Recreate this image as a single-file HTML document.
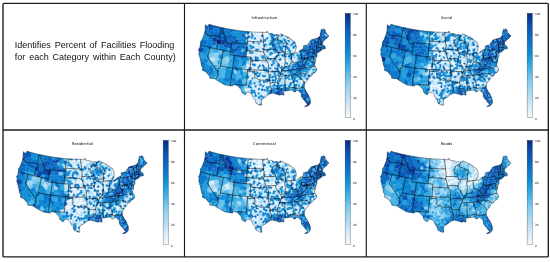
<!DOCTYPE html>
<html><head><meta charset="utf-8"><title>Percent of Facilities Flooding</title>
<style>
html,body{margin:0;padding:0;background:#fff}
body{width:550px;height:262px;position:relative;overflow:hidden;font-family:"Liberation Sans",sans-serif}
#cap{position:absolute;left:14.8px;top:38.55px;font-size:9px;word-spacing:1.35px;line-height:12.06px;color:#111;white-space:nowrap}
svg{position:absolute;left:0;top:0}
svg text{font-family:"DejaVu Sans","Liberation Sans",sans-serif;fill:#000;text-rendering:geometricPrecision}
.ln{stroke:#1c1c1c;fill:none}
</style></head><body>
<svg width="550" height="262" viewBox="0 0 550 262">
<defs><linearGradient id="cb" x1="0" y1="0" x2="0" y2="1"><stop offset="0.000" stop-color="#08287d"/><stop offset="0.050" stop-color="#0a3c9b"/><stop offset="0.100" stop-color="#0a4baa"/><stop offset="0.150" stop-color="#085ab8"/><stop offset="0.200" stop-color="#0865c0"/><stop offset="0.250" stop-color="#086fc7"/><stop offset="0.300" stop-color="#0a7acd"/><stop offset="0.350" stop-color="#0c86d2"/><stop offset="0.400" stop-color="#1292d7"/><stop offset="0.450" stop-color="#239edc"/><stop offset="0.500" stop-color="#37aae2"/><stop offset="0.550" stop-color="#4bb6e7"/><stop offset="0.600" stop-color="#69c1eb"/><stop offset="0.650" stop-color="#82cbee"/><stop offset="0.700" stop-color="#94d2f0"/><stop offset="0.750" stop-color="#a7d8f2"/><stop offset="0.800" stop-color="#b6def4"/><stop offset="0.850" stop-color="#c6e5f7"/><stop offset="0.900" stop-color="#d7edfa"/><stop offset="0.950" stop-color="#e6f3fc"/><stop offset="1.000" stop-color="#f3f9fe"/></linearGradient>
<path id="bd" d="M204.9 32 205.5 32.3 206.1 32.6 206.6 33.3 207.1 34 207.9 35.2 208.7 35.3 209.5 35.4 210.3 35.5 211 35.7 211.8 35.8 212.7 35.8 213.6 35.7 214.5 35.7 215.2 35.7 216.1 35.9 217 36.1 217.9 36.3 218.8 36.5 219.6 36.7M221.4 27.5 221.2 28.8 220.9 30.2 220.6 31.5 220.3 32.8 220 34.1 219.7 35.4 219.6 36.7M219.6 36.7 220.2 38.4 219.6 39.3 219 40.1 217.9 41.5 217.9 42.5 217.9 43.4 217.6 44.8 217.3 46.2 217 47.6 216.6 49M200.6 44.7 201.6 45 202.5 45.3 203.5 45.6 204.5 45.9 205.5 46.1 206.6 46.5 207.7 46.8 208.8 47.1 210 47.3 211.1 47.6 212.2 47.9 213.3 48.2 214.4 48.4 215.5 48.7 216.6 49 217.8 49.2 218.9 49.5 220 49.7 221.2 49.9 222.3 50.2 223.4 50.4 224.6 50.6 225.7 50.8 226.8 51 228 51.2 229.1 51.4 230.3 51.6M210 47.3 209.6 48.9 209.2 50.4 208.8 51.9 208.4 53.5 208 55 207.6 56.6 208.4 58 209.3 59.4 210.2 60.8 211.1 62.2 212 63.6 212.9 65 213.9 66.4 214.8 67.7 215.8 69.1 216.8 70.5 217.8 71.9 217.9 72.2 217.6 73.1 217.4 74.1 218.5 74.4 217.7 75.1 217.2 76.6 216.7 77.8 216.1 78.9M223.4 50.4 223.1 51.9 222.8 53.5 222.5 55 222.2 56.6 221.9 58.2 221.6 59.7 221.3 61.3 221 62.8 220.7 64.4 220.4 65.9 220.2 67.2 219.9 68.4 219 68.4 218.2 68.4 218 69.6 217.9 70.7 217.8 71.9M220.4 65.9 221.5 66.1 222.6 66.3 223.6 66.5 224.7 66.7 225.8 66.9 226.8 67.1 227.9 67.3 229.1 67.4 230.3 67.6 231.5 67.8 232.7 68 233.7 68.1 234.8 68.2 235.9 68.4 237 68.5 238 68.6 239.1 68.8 240.2 68.9 241.4 69 242.7 69.1 243.9 69.2 245.1 69.3 246.4 69.5 247.6 69.5 248.9 69.6 250.1 69.7 251.3 69.8 252.6 69.9 253.8 69.9 255.1 70 256.3 70 257.5 70.1 258.8 70.1 260 70.1 261.3 70.2 262.5 70.2 263.7 70.2 264.9 70.2 266.1 70.2 267.2 70.2 268.4 70.2M223.5 28 223.1 29.5 222.8 31 223 31.9 223.2 32.8 224 34.2 224.8 35.6 225.5 35.9 225.2 37 225 38.1 224.7 39.2 225.3 39.2 225.9 39.3 226.2 40.4 226.5 41.5 227 42.5 227.5 43.4 228.5 43.4 229.5 43.5 230.5 43.5 231.5 43.8M231.8 42.2 231.5 43.8 231.3 45.3 231 46.9 230.8 48.5 230.5 50 230.3 51.6 230 53.1 229.8 54.7M231.8 42.2 232.7 42.4 233.7 42.5 234.6 42.7 235.6 42.8 236.5 42.9 237.5 43.1 238.4 43.2 239.5 43.3 240.6 43.5 241.7 43.6 242.8 43.7 243.9 43.8 245 43.9 246.1 44 247.2 44.1M229.8 54.7 230.9 54.9 232.1 55.1 233.2 55.2 234.4 55.4 235.4 55.5 236.4 55.7 237.5 55.8 238.5 55.9 239.5 56 240.5 56.2 241.5 56.3 242.7 56.4 243.8 56.5 245 56.6 246.1 56.7 247.3 56.8 248.4 56.9 249.6 57 250.8 57M234.4 55.4 234.2 57 234 58.5 233.8 60.1 233.5 61.7 233.3 63.2 233.1 64.8 232.9 66.4 232.7 68 232.5 69.4 232.3 70.9 232.1 72.4 231.9 73.9 231.6 75.4 231.4 76.9 231.2 78.3 231 79.8 230.8 81.3 230.6 82.8 230.4 84.3 230.2 85.7M248.2 31.7 248.1 33.2 248 34.8 247.8 36.3 247.7 37.9 247.6 39.4 247.4 41 247.3 42.5 247.2 44.1 247 45.7 246.9 47.3 246.8 48.8 246.6 50.4 246.5 52 246.4 53.5 246.2 55.1 246.1 56.7M247.4 41.2 248.4 41.3 249.4 41.3 250.4 41.4 251.3 41.5 252.3 41.5 253.3 41.6 254.3 41.6 255.3 41.7 256.3 41.7 257.3 41.8 258.4 41.8 259.5 41.8 260.6 41.9 261.6 41.9 262.7 41.9 263.8 41.9M246.6 50.4 247.6 50.5 248.6 50.6 249.6 50.6 250.6 50.7 251.6 50.8 252.6 50.8 253.6 50.9 254.7 50.9 255.9 51 257 51 258.1 51.1 259.3 51.1 260 51.4 260.6 51.6 261.3 51.6 262 51.6 262.7 52 263.4 52.4 264 52.8M250.8 57 250.7 58.6 250.6 60.2 250.5 61.8 250.4 63.4 250.3 65 250.2 66.5 250.1 68.1 250 69.7M250.6 60.2 251.6 60.3 252.7 60.3 253.7 60.4 254.7 60.4 255.8 60.5 256.8 60.5 257.8 60.6 258.9 60.6 260.1 60.6 261.2 60.6 262.3 60.7 263.4 60.7 264.5 60.7 265.6 60.7 266.7 60.7M247.6 69.5 247.5 71.1 247.4 72.7 247.2 74.3 247.1 75.9 247 77.4 246.9 79 246.7 80.6 246.6 82.2 246.5 83.8 246.4 85.3 245.2 85.2 244 85.1 242.8 85 241.6 84.9 240.4 84.8 239.3 84.7 238.1 84.6 236.9 84.4 237.1 85.2M247.5 71.1 248.8 71.2 250 71.3 251.2 71.4 252.5 71.4 253.7 71.5 255 71.6 254.9 73.1 254.9 74.6 254.8 76.2 254.7 77.7 255.7 78.2 256.8 78.6 257.7 79 258.5 79.3 259.3 79.6 260.1 80 261 80.1 261.9 80.3 262.7 80.2 263.4 80.2 264.5 80.2 265.5 80.2 266.3 80 267.1 79.8 268 80.3 268.9 80.8M268.4 70.2 268.5 71.7 268.6 72.9 268.8 74.1 269 75.2 269 76.6 269 78 269 79.4 268.9 80.8 270.1 81.1 270.1 81.9 270.1 82.8 270.2 84.4 270.2 86 271.1 87.5 271.7 89.1 271.4 90 271.1 91 271 92.1 270.9 93.2M270.1 82.8 271.4 82.8 272.6 82.7 273.9 82.7 275.1 82.7 276.4 82.6 277.6 82.5M268.5 71.7 269.5 71.7 270.6 71.7 271.7 71.7 272.8 71.6 273.9 71.6 275 71.6 276.2 71.5 277.3 71.5 278.5 71.4 279.6 71.3 279.2 72.9 280 72.9 280.9 72.8M268.4 70.2 268.4 68.8 268.4 67.5 268.4 66.2 268.4 64.8 268.3 63.5 267.4 62.2 266.7 60.7 266.1 59.7 265.5 58.8M265.5 58.8 266.6 58.8 267.7 58.8 268.8 58.8 269.8 58.8 270.9 58.8 272 58.7 273 58.6 274 58.6 275.1 58.5 275.9 59.2M264 52.8 264.4 54 264.8 55.3 265.2 56.9 265.4 58.5 265.5 58.8M264 52.8 263.6 52.1 263.8 50.9 264 49.6 264 48.2 264 46.8 264 45.3 264 43.9 263.1 43 263.8 41.9 263.5 40.9 263.3 39.8 263.3 38.6 263.1 37.2 262.9 35.8 262.7 34.8 262.6 33.9 262.4 32.3M264 49.6 265.1 49.6 266.2 49.6 267.3 49.6 268.4 49.6 269.5 49.5 270.6 49.5 271.6 49.5 272.7 49.5 273.7 49.4 274.8 49.4 275.8 49.3M273.4 39.2 273.2 40.2 273.1 41.3 272.4 41.9 271.8 42.6 272.2 43.8 272.2 44.7 272.1 45.5 273 46.1 274 46.6 274.7 47.2 275.4 47.8 275.8 49.3M275.8 49.3 276 50.6 276.2 51.8 277.3 52.4 278.4 53.9 278.3 54.9 277.5 55.4 276.7 55.9 276.6 56.9 276.5 57.8 275.9 59.2 275.7 60.4 276.4 61.3 277 62.3 277.8 63.5 279.1 64 278.9 65 278.8 66 280 66.9 280.5 67.8 281.1 68.7 282 69.6 282 70.8 281.2 71.2 281.1 72.2 280.9 72.8 280.4 74.1 280 75.7 279.5 76.1 278.9 77.7 278.2 79.3 277.7 80.9 277.6 82.5 277.9 84.1 278.5 84.7 277.9 85.8 277.3 87 277 87.9 276.8 88.9 278.1 88.8 279.3 88.8 280.6 88.7 281.8 88.6 281.6 89.6 282.3 91.1M277.3 52.4 278.3 52.4 279.2 52.3 280.2 52.2 281.1 52.2 282.2 52.1 283.4 52 284.5 51.9 285.6 51.8M277.9 37.3 277.5 38.4 277.1 39.6 278.1 40 279.1 40.4 280 40.9 281.2 41.1 282.3 41.3 282.6 42.2 283 43 283.6 43.7 284.1 43.4 284.9 42.7 285.7 42.8 286.5 43 286.3 44 286.1 45.1 285.7 46.5 285.4 48 285.4 49.1 285.3 50.2 285.5 51 285.6 51.8 285.5 53 285.4 54.1M273.6 39.3 274.4 38.9 275.1 38.4 275.9 38 276.6 37.6 277.3 37.5 277.9 37.3 278.4 36.1 278.8 35M284.7 54.2 284.8 55.8 284.9 57.3 285.1 58.8 285.2 60.3 285.4 61.8 285.3 63.3 285 64.2 284.8 65.2 284.5 66.8M282 69.6 282.8 69.4 283.6 69.1 284.1 68 284.5 66.8 285.7 66.7 286.8 66.6 287.6 66.3 288.3 66 289.5 65.7 290.1 64.7 290.7 63.4 291.3 62.6 292 61.9 292.7 61.8 293.8 62.4 294.8 63 295.7 62.7 296.7 62.4 297.6 63.4 298.4 62.7 299.3 61.3 300.1 60.2 300.8 59.1 301.1 58.1 301.5 57.1 301.4 55.7 301.2 54.3 301 52.8 300.7 51.4M292 61.9 291.8 60.6 291.7 59.2 291.5 57.8 291.3 56.5 291.2 55.1 291 53.8M284.7 54.2 285.6 54.1 286.4 54.1 287.3 54 288.2 53.9 289.1 53.8 290.1 53.7 291 53.6 292 53.5 293.1 53.4 294.1 53.3 294.8 52.4M301.4 55.7 301.7 57.1 301.9 58.5 302.9 58.4 303.9 58.2 304.9 58 305.9 57.9 306.8 57.7 307.8 57.5 308.9 57.3 309.9 57.1 311 56.9 312 56.7 313 56.4M302.3 50.3 302.5 51.1 303.5 50.9 304.5 50.8 305.6 50.6 306.6 50.4 307.6 50.2 308.6 50 309.6 49.8 310.5 49.6 311.5 49.4 312.5 49.2 313.5 50 314.4 50.8 313.8 52.4 313.8 53.4 315.1 54.4 314.4 55.5 313.7 56.7M314.4 50.8 315.5 51.2 316.5 51.5M313 56.4 313.3 57.7 313.6 59.1 313.9 60.4 314.8 60.2 315.6 60M304.4 58.1 304.5 58.9 304.6 59.8 305.3 59.1 305.9 58.4 306.6 58.1 307.2 57.8 308.4 57.9 308.7 58.6 309.4 58.9 310.5 59.6 310.3 61.3 311.4 61.5 312.1 61.9 312.9 62.2M308.7 58.6 308 58.6 307.2 58.6 306.8 59.7 306.4 60.7 305.5 62.2 304.9 63.1 304.3 64 303.6 65.4 302.8 65.9 302 66.3 301.1 66.6 300.3 66.9 299.5 65.9 298.6 65.4 297.7 64.2 297.6 63.4M299.5 65.9 298.5 66.8 297.6 67.7 296.7 68.6 295.7 69.5M315 66.3 313.9 66.5 312.8 66.7 311.8 67 310.7 67.2 309.6 67.4 308.5 67.6 307.4 67.8 306.3 68 305.1 68.1 304 68.3 302.9 68.5 301.8 68.6 300.6 68.8 299.4 69 298.2 69.1 296.9 69.3 295.7 69.5 294.5 69.6 293.4 69.7 292.2 69.8 291.1 70 289.9 70.1 288.9 70.3 287.9 70.4 286.9 70.6 285.9 70.8 284.9 70.9 284.8 70.4 283.6 70.7 282.4 70.9 281.2 71.2M300.6 68.8 300.1 70.5 299.4 70.7 298.6 71 297.5 71.9 296.4 72.6 295.4 73.3 294.7 74.7M297.8 74.3 296.8 74.4 295.8 74.6 294.7 74.7 293.6 74.9 292.5 75 291.4 75.1 290.3 75.2 289.2 75.3 288.1 75.4 287 75.5 286 75.6 284.9 75.7 283.8 75.8 282.7 75.9 281.7 76 280.6 76 279.5 76.1M297.8 74.3 298.7 73.9 299.5 73.4 300.6 73.3 301.8 73.2 302.9 73.1 303.3 73.2 303.8 74 304.7 73.9 305.6 73.7 306.6 73.6 307.7 74.4 308.8 75.2 309.9 76M297.8 74.3 297.3 75.3 298.1 75.9 298.9 76.4 299.8 77.4 300.7 78.4 301.6 78.9 302.8 80 303.6 81.4 304.9 82.7M291.5 75.1 291.9 76.4 292.2 77.7 292.6 79.1 292.9 80.4 293.3 81.7 293.7 82.5 294 83.4 294.1 84.7 294.2 85.9 294.5 87.5 294.9 88.4 296.1 88.3 297.3 88.2 298.5 88.1 299.7 88 300.9 87.9 302.1 87.8 302.6 88.4 302.6 87.2 303.3 87.2 304.1 87.1M294.5 87.5 293.3 87.6 292.2 87.7 291 87.8 289.8 88 288.7 88.1 287.5 88.2 288.2 89.4 288 90.4M284.9 75.7 284.9 77.1 284.9 78.5 284.9 79.9 284.9 81.3 285 82.7 285 84.1 285 85.5 285.1 86.8 285.3 88 285.4 89.2 285.5 90.4M314.8 38.9 314.9 39.7 315 40.5 315.4 41.8 315.7 43.2 316.1 43.4 316.4 44.6 316.6 45.8 316.6 46.9 316.6 48 316.9 49.2 317.2 50.3 317.1 51.4M318.7 37.9 318.8 38.7 318.9 39.5 318.3 41 318.1 42.6 318.2 43.6 318.3 44.5 318.4 45.4M316.6 45.8 317.5 45.6 318.4 45.4 319.3 45.2 320.2 45 321 44.8 322 44M316.6 48 317.6 47.8 318.6 47.6 319.5 47.4 320.5 47.2 321.4 46.9 321.5 47.3 322.1 47.8 322.4 48.4M320.5 47.2 320.7 48.1 321 49.1 320.9 49.4M322 43.2 321.2 42.5 320.8 41.1 320.4 39.7 319.9 38.2 319.4 36.8M300.7 51.4 300.5 50.3M302.3 50.3 302.2 49.4M317.1 51.4 317.8 51 318.5 50.7 319.6 50.2 320.7 49.8 320.9 49.4M313.7 56.7 314.3 57.5 315.5 58.7M312.9 62.2 313.7 62 314.5 61.8 315.4 61.4M316.5 51.5 316.5 52.5 316.6 53.1"/><path id="ol" d="M205.4 24.8 206.1 25.4 206.8 25.9 207.6 26.2 208.4 26.4 208.6 25.2 209.3 24.9 208.8 24.2 209.8 24.5 210.7 24.8 211.7 25.1 212.7 25.4 213.7 25.6 214.7 25.9 215.7 26.1 216.7 26.4 217.7 26.6 218.7 26.9 219.7 27.1 220.7 27.4 221.7 27.6 222.8 27.8 223.8 28 224.8 28.2 225.8 28.4 226.8 28.6 227.8 28.8 228.8 29 229.8 29.2 230.8 29.4 231.9 29.6 232.9 29.7 233.9 29.9 234.9 30.1 235.9 30.2 237 30.4 238 30.5 239 30.7 240 30.8 241 30.9 242.1 31 243.1 31.2 244.1 31.3 245.1 31.4 246.2 31.5 247.2 31.6 248.2 31.7 249.3 31.7 250.3 31.8 251.3 31.9 252.3 32 253.4 32 254.4 32.1 255.4 32.1 256.5 32.2 257.5 32.2 258.5 32.3 259.6 32.3 260.6 32.3 261.6 32.3 262.6 32.3 263.7 32.4 264.7 32.4 265.7 32.4 266.8 32.4 266.8 31.2 267.4 31.4 267.6 32.3 267.8 33.1 268.7 33.4 269.6 33.8 270.5 33.6 271.4 33.4 272.4 33.9 273.4 34.4 274.1 34.7 274.7 35 275.4 34.8 276 34.5 276.8 34.7 277.7 34.9 278.6 35 279.2 35 279.9 34.6 280.5 34.1 281.1 33.9 282 34.4 283 34.8 284 35.4 285 35.9 286.2 36.4 287.3 36.9 288.1 37.2 288.9 37.5 289.2 38.3 289.8 38.8 290.2 38.6 290.7 38.7 290.8 39.3 291.2 39.8 292 39.7 292.4 40.4 293.5 41 294.7 41.7 295.1 42.8 295.5 43.9 295.8 45 296.1 46.1 296.3 47.3 295.9 49 295.9 50.2 295.5 50.8 294.7 51.4 294.7 52.2 294.9 52.8 295.9 53.2 296.6 53.1 297.2 52.6 297.8 52 298.4 51.6 299 51.1 299.7 50.7 300.5 50.3 301.2 50 302 49.5 302.7 49 303.7 48.3 303.9 48 303.6 47.5 303.3 46.9 302.9 46.4 304 45.6 305 45.4 306 45.3 307.1 45 308.2 44.8 308.6 43.2 308.9 42.8 309.8 41.8 310.7 40.3 311.3 40 311.9 39.6 312.8 39.4 313.8 39.1 314.8 38.9 315.8 38.6 316.8 38.4 317.8 38.1 318.7 37.9 318.9 36.9 319.9 36.8 319.9 36.3 320.5 35 320.4 33.5 320.7 32.8 320.9 31.6 321.2 30.4 321.5 29.2 322.4 29.7 322.9 29.3 323.5 28.9 324.7 29.4 325.1 30.6 325.5 31.8 325.9 32.9 326.8 33.6 327.4 34.9 328.6 35.5 328.6 36.5 327.6 37.3 327.1 37.9 326.6 38.5 325.6 39.2 325 39.8 324.3 40.4 323.5 41 322.9 41.7 322.5 43.1 322.3 44 322.9 44.5 322.8 45.3 323.7 45.7 324.2 45.7 324.8 46.1 325.2 47.3 325.4 48.5 324.5 48.8 323.9 48.9 323.2 49 322.4 48.9 321.8 49.8 320.9 49.7 321.3 50.3 320.6 50.9 319.9 51.5 318.8 52.1 317.8 52.7 316.6 53.1 316.8 53.7 316.9 54.6 317.1 55.4 316.7 56.8 315.8 58.5 315.5 59 315.8 60 315.6 61.5 315 63.2 314.5 64.8 314.6 65.3 315.1 66.3 315.7 67.3 316.4 68.4 316.7 69.3 317 70.2 316.3 70.8 315.7 71.4 314.7 72.8 313.8 73 312.9 73.2 312.3 74.5 311.6 75.9 310.8 76 310 76.1 309 77.5 308.8 78.5 308 79.4 307.3 80.4 306.6 81.1 305.9 81.9 305 82.9 304.5 84.5 304.3 85.8 304.2 87.1 304.5 88.3 305.2 89.8 305.8 91 306.5 92.1 307.1 93 307.8 93.8 308.3 95 308.9 96.2 309.4 97.4 310 98.6 310.2 100.1 310.3 101.6 310.2 103.3 309.5 104.5 308.6 105.2 307.7 105.9 306.7 106.2 305.7 106.6 304.7 106.5 305.8 105.8 306.6 105.4 307.5 104.9 307.4 104.2 306.5 103.1 305.5 102.1 304.8 100.6 303.5 99.6 302.7 98.4 301.8 97.3 301.5 96.4 301.3 95.5 301.3 94.4 301.4 93.2 300.4 92.6 299.2 91.5 297.8 90.2 296.7 90.4 295.9 91.2 295 92 293.9 91.9 293.1 90.6 292.3 90.3 291.5 90 290.1 90.2 288.8 90.3 288 90.6 286.7 90.8 285.6 90.9 284.2 91 283.2 91.4 284.1 92.6 283.6 93.9 284.2 94.8 283.2 95.1 281.7 94.3 280.9 94.8 280 95 279 95.1 277.9 94.5 276.5 94 275.1 93.7 273.9 93.4 272.6 93.1 271.8 93.2 270.9 93.4 269.7 93.9 268.6 94.5 267.2 95.6 266.1 96.4 265 97.2 263.9 97.8 262.8 98.4 261.8 99.8 261.5 100.9 261.3 102 261.6 103.5 261.9 105 260.7 105.3 259.7 104.9 258.7 104.6 257.5 104 256.2 103.4 255.7 102 255.2 100.6 255.2 99.8 254.1 98.6 253.1 97.4 252.6 96.1 252.1 94.8 251.2 93.7 250.3 92.6 249.1 92.4 247.9 92.1 246.7 92.6 246 93.7 245.3 94.8 244.2 94.2 243.1 93.6 241.8 92.5 241.6 91.6 241.4 90.6 240.8 89.1 239.5 87.8 238.3 86.5 237.1 85.3 237.1 85.2 236 85 234.9 84.9 233.8 84.8 232.7 84.6 232.5 86 231.2 85.9 229.9 85.7 228.7 85.5 227.4 85.3 226.1 85.1 224.9 84.9 223.7 84.3 222.6 83.6 221.4 83 220.3 82.3 219.2 81.6 218 80.9 216.9 80.2 215.8 79.6 216.1 78.9 214.9 78.8 213.6 78.6 212.3 78.5 211.1 78.3 209.8 78.2 209.6 77.1 209.6 76.3 208.9 75.3 208.2 74.3 207.3 73.8 207.2 72.9 206.5 72.5 205.7 72.1 204.9 71.1 203.8 70.7 202.7 70.4 202.4 69.6 202.9 68.1 202.4 67 201.7 65.8 201.3 64.2 201 62.7 201.4 62 200.8 61.5 200.3 60.5 200.4 59.6 200.5 58.7 199.6 57.6 199.8 56.7 199.3 55.6 198.8 54.4 199 53.2 199.3 51.9 198.9 50.6 198.5 49.4 199.2 48.6 199.8 47.8 200 46.6 200.2 45.4 200.5 44.7 200.5 43.3 200.4 42 201.3 40.8 202.2 39.6 202.7 38.1 203.3 36.6 203.7 35.5 204.1 34.5 204.5 33.4 204.7 32 205.1 30.6 205.2 29.7 205.2 28.5 205.2 27.4 205.3 26.1z"/>
</defs>
<g transform="translate(0 0)">
<g stroke-width=".2" stroke-linejoin="round"><path fill="#f3f9fe" stroke="#f3f9fe" d="M271.1 55.4l1.3 1.1 1.2-.9-.6-1.6-1.6 .6zM257.3 79.2l2.1-.1-.7-1.8-.3-.2-1.3 .3-.5 .7zM297.3 88.2l1-1.5-.6-1.1-1.3 .7-.1 .9 .8 1zM303.6 79.9l-1.8-.1-.2 .2 .2 2 1 .4 1.2-1.2zM259.5 91.9l.2 0 1.8-1.2-.7-1.2-.7-.2-1.1 1.1zM254.4 34.9l-.3 .4 1.3 1.7 .9-.5 0-1.2-.5-.5zM258.6 60.9l.5 1.4 .3 .3 1.8-1.2 .1-.1-.3-.7-.9-.4zM273.8 37.4l.1 .3 .8 .7 .3 0 1.2-.6 .1-1.5-1-.5zM265.4 35l.5-.6-.3-2-.5 0-1.2 1.3 .1 .8zM263.9 33.7l-1.2-.9-1 .9 .4 1.1 1.1 .4 .8-.7zM251.2 51.1l.4 .6 1.7 .2 .6-.7-.2-.8-1.7-.7zM262 63.6l.2 .8 1.5 .3 .9-1.3-1.4-.6-1.2 .8zM275.2 59.9l1.6 0 .3-.2-.4-1.7-1.4 .5zM314.7 59.6l-.7 2.3 .2 .2 1.1 .2 .3-.8 .2-1.5-.1-.4zM274.6 67l-2-.1-.6 1.8 .8 .6 1.4-.3zM255.7 64.2l1.4-.4 .2-1-.9-1.2-1 .1-.7 .6 0 1.1zM252.1 32.7l.6 .5 1.5-.2 .6-.7 .1-.2-.5 0-1-.1-1.1 0-.2-.1zM287.2 38.5l-.2 .5 .5 1.2 2-.5-.3-1.5 0-.1zM264.5 66l.3 1.4 2.3 0 .2-.1-.2-.9-1.6-1zM252 63.6l2.3 .1 .4-.3 0-1.1-1.2-.6-1.6 .9-.1 .4zM252.8 70.6l-.2-.2-1.5-.3-1.2 1.1 .4 1.3 1.7-.3 .8-1.1zM270.8 45.1l-.6 .3-.6 1.4 .1 .4 1.6 .5 .9-1 .1-.8zM293.5 48.7l-.3 0-.7 2.5 .5 .4 1.7-1.2 0-.8zM262.7 54.5l.9-1.1 0-.1-1-1.5-1.7 1.3 .7 1.1zM266.8 78.5l.2-1.2-1.2-.6-.8 .6 .1 1.6 .6 .3zM288.2 61.2l-.1-.5-1.4-.3-1.2 1.4 .5 .6 1.4 0zM265.5 35.4l2.3 1.1 .2-1.9-.6-.5-1.5 .3-.5 .6zM259.1 62.3l-1.8 .5-.2 1 .5 .5 1.7 0 .3-.8-.2-.9zM277.4 83.3l-1.2-.4-1.1 1.1 .2 .4 1.9 .8 .6-.4zM275 53.6l-1.9 .2-.1 .2 .6 1.6 1.4 .3zM250.3 77.8l-1.3 .1-.3 .3 .9 2.2 1.3-.4 .4-1.6zM258.6 55.1l-1.6-.3-.5 1.8 .3 .3 1.3-.2zM257.9 66.3l-.5-.6-1.7 .2-.4 .4 .1 .3 1.8 1.2zM277.6 67.3l-1-1.3-1.4 1.1 1.1 1zM265.7 79.2l-.6-.3-.6 .1-1 1.4 0 .2 1.5 .6 .9-1zM266 38l1.8-1.2 0-.1 0-.2-2.3-1.1-.6 1.4zM251.2 34.8l-.2-1.5-1.5-.4-1.2 1.3 .5 1 .2 .1zM251.2 74.2l-1-1.4-2.3 1.6 .7 .9 2 .2zM298.1 53.3l1.3-.6 .1-1.6-.2-.2-.3 .2-.6 .5-.6 .4-.4 .4zM287.7 53.1l-.1 .3 1.7 1.4 .1 0 1-1.4 0-.1-1.4-.8zM305.8 80.8l-1.6 .5 1 1.4 .7-.8 .4-.4zM292.2 43.6l-.1-1.8-.4-.3-1.3 .3-.2 2.1 .3 .2zM269.8 86.2l0-1.4-1.4-.9-.9 0-.1 .1 .4 1.7 1.8 .7zM275 53.6l0 2.3 .2 .1 .2 .1 1.8-1.2-1.5-1.7-.5 .2zM272.1 81.5l-.6-1-.6-.1-1.3 1.2 .2 .9 1.5 .8 .6-.6zM293 80.7l0-.1-2.4-.9-.2 .3 0 2.1 1.6 .3zM257.7 104.1l1 .5 1.3-1.2-.3-.6-1.3-.4-.7 .6zM283 59.8l-.3 1.5 2.4 .4-.5-2zM302 84.5l-1.3-.6-1.1 .8 .4 .9 1.1 .4 1-.4zM250 41.5l1.7 1.4 .5-.1 .4-1.1-.8-1zM249.4 64.8l-.5 2.8 2.2-.6 0-1.9zM255.4 37l-.1 .3 1 1.2 .9 0 .2-1.6-1.1-.4zM255.4 66.6l-.7 2.1 .4 .5 .1 0 2.1-1.1-.1-.3z"/>
<path fill="#e6f3fc" stroke="#e6f3fc" d="M263.5 93.8l.9 1.2 .8 .1 .7-1.6-.3-.5-1.1-.4-.9 .5zM268.4 57.1l.3 .1 1.4-.6 .3-.9-1.4-.8-.3 .1-.7 1.4zM271.3 83.3l-1.5-.8-1.4 1.4 1.4 .9 1.5-1zM260.6 56.8l-2 .5-.2 1.4 1.3 .2 1.2-1zM297.3 82.3l-1.9-1.1-.4 .3-.2 1.1 .8 1.4 .1 0 1.2-.2 .3-.4zM254.9 87.4l-.3-.4-1-.3-1.4 1 1.8 1.6 .8-.8zM255.6 78.3l1-.2 .5-.7-.8-1.7-1.5 1-.1 .7zM257.4 36.9l-.2 1.6 .5 .5 1.4-.5 .3-.9-.9-1.2-.2 0zM278.3 80.5l.9-.7-.1-1-1.3-.9-.6 .2-.3 1.1zM258.7 95.7l-.1-1-.8-.5-1.3 .5 .3 1.3 1.4 .3zM267.8 85.7l-.4-1.7-1.8 .5-.3 1 .8 1.1 1.1 0zM264 39.4l1.8-.6 .2-.8-1.1-1.2-1.4 .1-.2 1.7 .1 .4zM254 41.4l.8 1.3 1.2-.3 .3-1.7-1.3-.9-.4 0-.5 .5zM249.4 63.3l2.4-.3 .1-.4-.7-1.1-1.8-.7zM271.1 88.1l.8 .3 1.2-.9-1.5-1.3-.7 .3zM252.7 59.7l.4 .2 1.6-.5 .4-.5-.6-1.4-2.1 0 .2 2.1zM265.3 85.5l-1 .6-.4 .9 .7 .8 1.1-.2 .4-1zM259.9 35.1l1 .7 1.2-1-.4-1.1-.7-.3-1.3 1zM252.6 77l-.1-.9-1.5-.1-.7 1.8 1 .6zM250.9 69.1l.2 1 1.5 .3 .2-1.4-1-.7zM295.2 54.1l.3-1.1-.6-.2-.2-.6-1.6-.4-.2 1.4 1.9 1zM263.5 48.1l.5-1.2-.9-.9-.7-.1-.8 .9 .7 1.7zM262.7 69.7l.8-1.2-1-1.1-1.5 .5-.2 .7 1.6 1.1zM256.4 45.2l-1.7-.2-.4 1.3 .2 .5 1.3 .6 1.3-.9-.1-.5zM278.8 69.4l-.3 .4 .3 1.2 .3 .2 1.9 .1 .3-2zM293.4 84.8l2.2-.8-.8-1.4-1.8 .6zM299.3 86.7l.4 1.1 1.3-.3 .1-1.5-1.1-.4zM255.9 93l-.3 1.3 .9 .4 1.3-.5 .1-1.7-.7-.3zM252.8 73.4l-.8-1.2-1.7 .3-.1 .3 1 1.4 1.1 .1zM284.5 42.1l-.8 1.1 1.2 1.3 1.1-.7 .2-1.1zM255 71.5l-.4-1.4-1.8 .5 0 .5 1.6 1.2zM261.6 46.8l.8-.9-.8-1.4-1.9 .4 0 .9 1.4 1.1zM257.4 32.2l-.9 0-1.1-.1-.5 0-.1 .2 1.4 1.4 1.4-.4zM280.4 65.4l.8-1.9-.1-.3-1.5-.4-.6 .5 .6 2.2zM253.7 77.7l1-.3 .1-.7-1-1.3-.9 .1-.4 .6 .1 .9zM255.6 78.3l-.6 1.6 .1 .5 .6 .4 1.3-.4 .3-1.2-.7-1.1zM251.1 65.1l0 1.9 .6 .3 1.4-.5 .5-.8-.1-.1-1.7-1.2zM261.9 41.4l0 .1-.4 1.5 .4 .9 2-.6 0-1.6zM263 85l.9-1.7-.8-.6-1.9 .8 .5 1.5 .5 .3zM264.8 57.9l1.5-.3 .1-1.5-1.9 0-.3 1zM281.7 59l-.8 1.6 1.2 1.1 .6-.4 .3-1.5-.8-.8zM248.3 34.2l-1.6-.5-1.6 .9 .1 1.4 2.4 1.7 1.2-2.5zM272 60.3l1.2-.6 .2-1.7-.9-.6-1.2 .6 .2 1.9zM259.4 62.6l.2 .9 2.4 .1-.8-2.2zM269.6 81.6l-.9-.3-1.4 1.6 .2 1 .9 0 1.4-1.4zM289.3 82.4l.4 .1 .7-.4 0-2.1-2.1 .3-.4 .4zM269.8 73.1l-2.1 .4-.1 1 1.5 .5 1.2-.9zM263.3 38.6l-2-.6-.4 1.4 1.1 .5 1.4-.9zM256.9 87.3l1.4-.2 .1-1.2-1.6-.7-.2 .2-.1 1.6zM267.3 72.7l.4 .8 2.1-.4 .2-.9-.8-.7-.8 0zM274.7 61.1l2.1 .9 .1-.2-.1-1.9-1.6 0-.6 .5zM269.5 76.5l-.4-1.5-1.5-.5-.3 .4 .6 1.9 1 .3zM289.7 82.5l-.4-.1-1.7 .8-.1 .6 1.1 1.4 .1 0 1-1.2zM269.9 62.2l1.6 1.6 1-.1 .2-1.5-.7-.9-2.1 .8zM250.9 56.4l.5-1.4-.7-1.2-1.2 0-.3 .3 .4 2.2zM278.5 58l.8-1.1-.1-.4-1.3-.5-.9 1.6zM280.1 36l.5 0 .9-1.9-.4-.2-.6 .2-.6 .5-.7 .4-.5 0zM266.6 42.7l-.5 .8 .7 1.2 1.3 0 .4-.4 0-.6-.6-.8zM262.1 79.5l1.4 .9 1-1.4-1.7-1.1zM293.4 41.9l.7-.5-.6-.4-1.1-.6-.2-.5-.5 1.6 .4 .3zM274.9 79.4l.1-2-.4-.3-2.2 1.1 .2 .8 1.6 .8zM291.9 48.5l.8-.1-.1-2.1-.3-.3-1.4-.1-.3 .3-.1 1.2zM273.9 72.6l-.1-.3-1.9-.1-.1 1.9 .6 .3 1.1-.5zM269.2 71.5l.8 .7 1.4-.5 .1-.2-1.1-1.9-.5 0zM266.8 52.2l-1.1 .6 0 1.4 .9 .4 .7-.4 .4-1.6zM258.7 77.3l.7 1.8 .9-.3 .9-1.3-.7-1.3zM259.4 53.2l-.9-.5-1.4 .1-.4 1.6 .3 .4 1.6 .3 .4-.3zM251.9 49.3l.1 .4 1.7 .7 .5-1.4-.5-.6-.9-.1zM249.6 56.3l-.4-2.2-3.2 1-.2 .4 .8 1.3 1.9 .6zM255.4 61.7l-.7-2.3-1.6 .5 .4 1.8 1.2 .6zM254.5 95.3l.7-.9-1.9-1.6-.3 0-1 1.9 .1 .1 .3 .8zM264.8 59.1l.5 .6 .7 .1 1.1-.8-.1-.7-.7-.7-1.5 .3zM281.3 53.3l.2 .8 2 .4 .4-.3-.5-2-.1-.1-1 .1zM280.9 60.6l-1.6 .2 .3 2 1.5 .4 .9-.8 .1-.7zM284.4 64.9l0-.1-.6-.6-1.4 .4-.3 1.2 1.1 .9zM268.9 63.4l.1 1.2 .2 .2 1.4 0 .9-1-1.6-1.6zM261.9 95l.9 1.5 .6-.1 1-1.4-.9-1.2zM252.9 85.2l-.7-.2-.7 1.4 .6 1.3 .1 0 1.4-1zM261.1 71.3l1.9 1.2 .3 0 .7-1.2-1.3-1.6-.3 0zM253.6 53.6l1.2 .1 .9-1.5-1.2-1-.6 0-.6 .7 .2 1.6zM264.7 46.9l-.7 0-.5 1.2 .9 1.2 .7-.2 .5-1.5zM267.7 65.1l1.3-.5-.1-1.2-1.7-.6-.8 1.1zM260.4 72.7l.6-1.3-1.1-.8-.4 0-1.3 1.4 .3 .9 .2 .1zM269.6 46.8l-1.7-.2-.6 .3-.3 .6 .7 1.4 1.6-.5 .4-1.2zM260.6 83.2l.6 .3 1.9-.8-.2-.8-1.7-.7-.2 0-.6 1.5zM257.6 35.1l.7 1.3 .2 0 1.4-1.3-.2-.7-1-.7-.6 0zM253.1 55.4l1.7 .7 .6-1.7-.6-.7-1.2-.1-.5 1.7zM255.1 85.2l1.5 .2 .2-.2 .3-1-1.4-.8-1.1 1.2zM261 33.4l-.4-1.1-1 0-.1 0-.8 1.4 1 .7zM251.8 68.3l1 .7 1-.6-.7-1.6-1.4 .5zM264.8 63.3l-.2 .1-.9 1.3 .7 1.3 .1 0 1-.6 .4-1.4zM260.9 57.9l-1.2 1 .4 1.3 .9 .4 1-1.7zM287.7 58.6l-1.3 .2 .3 1.6 1.4 .3 .4-.8zM285.6 39.2l1.4-.2 .2-.5-.4-.9-1.5-.5-.6 1.4zM257.2 38.5l-.9 0-1.3 1.3 1.3 .9 1.3-.6 .1-1.1zM265.7 87.6l-1.1 .2-.3 1.1 1.9 .8 .2-.1 .1-1zM289.5 39.8l1.5-.3-.2-.2-.1-.6-.5-.1-.4 .2-.6-.5 0-.1 .3 1.5zM289.3 61.7l-1.1-.5-.8 1.2 .8 .9 1.4-.5zM300.9 82.3l.9-.3-.2-2-1.7 .1-.3 1.6 .1 .2zM260.4 66.7l.6 1.2 1.5-.5 .1-.9-.9-1.1-.7 .3zM281.3 66l.8-.2 .3-1.2-1.2-1.1-.8 1.9zM257.6 33.3l-1.4 .4-.4 1.1 .5 .5 1.3-.2 .5-1.4zM279.3 56.9l1.4 .8 1.1-1.4-.7-1.1-1.2 .3-.7 1zM263.5 36.9l-.2-.3-2.2 .2-.2 .5 .4 .7 2 .6zM272.8 69.3l0 1 1.2 1.2 .9-.5-.3-1.7-.4-.3zM258.9 68.3l1.5 .5 .4-.2 .2-.7-.6-1.2-1.1 .1zM292.4 57.9l-1.1 2 2.3 .3 .1 0 .1-.3-1-1.9zM252.7 33.2l-.1 1.3 1.2 .9 .3-.1 .3-.4-.2-1.9zM283 76.9l.5 2 1.4-.2 .3-1.3-2.1-.6zM262.7 32.8l1.2 .9 1.2-1.3-.4 0-1 0-1 0zM259.3 64.4l0-.1-1.7 0-.2 1.4 .5 .6 .8-.1zM295.1 61l-1.4-.8-.1 0-.4 1.3 .7 .9 1.3-.5zM256.2 90.7l.7 .4 1.3-1.1-.4-.9-.8-.3-.6 .4zM286.4 65.9l.3-1.3-.7-.6-1.6 .8 0 .1 1 1.2zM270.1 56.6l-1.4 .6 .7 1.6 1.5-.9zM269.2 52.8l1-1.3-.7-1-1.1 .1-.3 1.9zM267.4 34.1l0-1.2-1.3-.5-.4 0-.1 0 .3 2z"/>
<path fill="#d7edfa" stroke="#d7edfa" d="M258.2 100.8l.1 0 1.4 0 .8-1.5-.1-.2-1.9-.3zM277.2 78.1l.6-.2 .7-1.4-1.9-.7-.7 1.4zM256 42.4l-1.2 .3-.8 1.2 .7 1.1 1.7 .2 .7-2.1zM277.3 65l1-1.6-1.4-1.1-1.3 1.5 .2 .6 1 .7zM285.5 53.8l-.5 .5 .2 .9 1.9 .7 0-2zM251.2 88.6l-1.8-.8-1.1 .2-.3 .5 .1 1.6 .9 .7 1.2-.2 1-1.4zM305.8 80.8l.5-1.1-.8-1-1.8 1.1-.1 .1 .4 1.3 .2 .1zM272.4 56.5l-1.3-1.1-.7 .3-.3 .9 .8 1.3 .4 .1 1.2-.6zM296.6 56.3l-.3-1.5-1.1-.7-.4 .1-.8 1.7 1.9 .8zM260.3 85.9l-1-.7-.9 .7-.1 1.2 .7 .7 .5 .1 .9-.9zM264.8 51.3l-1.2-.6-1 1.1 1 1.5 1.3-.9zM255.6 82.6l.1 .8 1.4 .8 .8-.6 .2-1.2-2.2-.4zM309.7 73.1l1.5 .1 .2-2.2-1.2-.6-.1 .1-1 2.1zM257.1 46.5l-1.3 .9 0 1.1 1.5 .5 1.1-.5 .2-.3-.2-.6zM259.6 42.9l.2-.2 .2-1.6-.2-.3-1.4 .1-.4 1.6zM298 56.6l-1.4-.3-.7 .4-.5 1.7 0 .1 1.3 .9 .6-.3 .8-2zM256.9 71.3l1.3 .7 1.3-1.4-1.5-1.2-1.1 1.3zM246.1 63.9l-.3 .8 .8 2.1 2.1 .9 .2-.1 .5-2.8-.6-.7zM291.1 51l1.4 .2 .7-2.5-.5-.3-.8 .1-1.5 1.8zM253.6 53.6l-.1-.1-2.6 .2-.2 .1 .7 1.2 1.7 .3zM274.2 76.1l.5-1.2-1.2-1-1.1 .5 .2 1.4zM285.8 80l0-.2-.9-1.1-1.4 .2-.6 .8 .1 1 1 .4zM257.7 39l-.1 1.1 .8 .8 1.4-.1 .3-1.1-1-1.2zM285.1 61.7l-2.4-.4-.6 .4-.1 .7 1.7 1 1.4-1.7zM258.4 81.3l1-1.1 0-1.1-2.1 .1-.3 1.2zM246 91.7l2.1-1.6-.1-1.6-3.5-.4-.6 2.4zM262.6 92.3l-1.3 .8-.3 1.5 .1 .2 .8 .2 1.6-1.2 .1-.7zM260.9 53.1l1.7-1.3-1.8-1.4-.4 .4-.3 2.1zM267.3 54.2l1.4 .8 .3-.1 .5-1.6-.3-.5-1.1-.3-.4 .1zM267.1 66.4l.2 .9 1.5 .1 .5-.4-.1-2.2-.2-.2-1.3 .5zM288.2 63.3l-.3 1.2 .9 1 1-.2 .6-.8-.4-1.5-.4-.2zM308.2 77l-.5 .5 .2 2.1 .1-.2 .8-.9 .2-1 .2-.3zM257 88.8l-.1-1.5-.4-.3-1.6 .4-.1 1.1 1.6 .7zM255.2 69.2l1.7 1.5 1.1-1.3 0-.7-.7-.6zM255.9 93l1.3-.8-.3-1.1-.7-.4-.5 .1-.7 1.1zM287.7 58.6l.9-1.2-.8-1.1-.6-.2-1.4 1.3 .2 1.2 .4 .2zM284.6 59.7l.5 2 .4 .1 1.2-1.4-.3-1.6-.4-.2-1.1 .6zM257.6 64.3l-.5-.5-1.4 .4 0 1.7 1.7-.2zM251.7 42.9l-1.7-1.4-.4-.1-1.5 1.1 1.7 2.3 .6 0zM263.1 59.4l-.7-.6-.4 .1-1 1.7 .3 .7 2 0 0-.1zM260.3 97.2l.1 1.9 .1 .2 2-1-.2-1-1.9-.2zM254.3 46.3l.4-1.3-.7-1.1-.4 0-1.7 1.5 .4 1zM277.6 38.5l.7-1-.8-1.8-1.2 .6-.1 1.5zM252.3 57.4l.8-2 0-.1-1.7-.3-.5 1.4 .7 .9zM263.3 72.5l-.3 0-1.3 1.4 .5 1.2 1.1-.2 .7-1.4zM310.2 70.4l1.2 .6 1-.3 .2-2-.8-.4-1.5 1.2zM268.6 41.5l-.4-.9-2 1 .4 1.1 1.3 .2zM295.4 58.4l-1.9-1-.7 .6 1 1.9 1.6-1.4zM284.9 44.5l-.1 .7 1 .7 1.2-.4 .2-.7-1.2-1zM257.2 92.2l.7 .3 1.3-.3 .3-.3-.5-1.5-.8-.4-1.3 1.1zM269.3 78.7l-.4-1.6-1-.3-.9 .5-.2 1.2 1.6 .8zM254.8 88.5l-.8 .8-.1 .3 1.8 1.2 .5-.1 .2-1.5zM283.3 70.7l-1.6 1.2 0 .7 1.8 .7 .7-.7zM259.5 87.9l.6 1.4 .7 .2 1.4-1.3 0-.6-1.8-.6zM259.7 44.9l1.9-.4 .3-.6-.4-.9-1.7-.3-.2 .2-.1 1.9zM283.4 57.5l-1.2 1.5 .8 .8 1.6-.1 .3-.5zM256.3 99.2l0 .7 .8 .8 1.1 .1 .3-2-.4-.6-.8 .1zM260.5 76.2l.7 1.3 1.5 .2 .2-.4-.9-1.9-1.5 .7zM271.3 83.8l-1.5 1 0 1.4 1.1 .3 .7-.3 .6-1.1zM249.4 60.8l1.8 .7 1.5-1.8-.1-.1-3-.3-.5 1.1zM274.3 57.7l.9-1.7-.2-.1-1.4-.3-1.2 .9 .1 .9 .9 .6zM296.6 59.8l.1-.4-1.3-.9-1.6 1.4-.1 .3 1.4 .8zM285.8 79.8l0 .2 1.1 1 1-.3 .4-.4-.2-1.7-1-.2zM253.8 98.3l.3 .3 1.1 1.2 0 .7 1.1-.6 0-.7-1.7-1.2zM253.8 75.4l.7-.9-.3-1.3-1.4 .2-.5 .9 .6 1.2zM254.6 87l.5-1.8-.5-.6-.6-.1-1.1 .7 .7 1.5zM264.4 55.9l.6-1.5-1.4-1-.9 1.1 .1 .5zM303.1 83.4l-.3-1-1-.4-.9 .3-.2 1.6 1.3 .6zM264.5 92.6l.2-1.5-1.4-1-1 .9 .3 1.3 1 .8zM259 54.8l-.4 .3-.5 1.6 .5 .6 2-.5 .1-.1-.4-1zM285.1 66.9l.3-.8-1-1.2-1.2 1.8 .1 .5 .1 0zM284.7 38.5l.6-1.4-.2-1-2 .6 .1 1.6 .7 .4zM289.3 48.3l.9 2 .2 0 1.5-1.8-1.4-1.1zM259.4 37.6l1.5-.3 .2-.5-.2-1-1-.7-1.4 1.3zM276.2 81.5l2-.4 .1-.6-1.4-1.3-.9 .5zM258.7 33.7l.8-1.4-1 0-1-.1-.1 0 .2 1.1 .5 .4zM261.3 93.1l1.3-.8-.3-1.3-.8-.3-1.8 1.2zM273.1 64.8l-.9 1.5 .4 .6 2 .1-.1-1.3zM252.6 41.7l1.4-.3 .1-1.1-2-.4-.3 .8zM286.8 76.3l.8-.1 1-1.7-.9-1-.1 0-1.2 .3-.1 .2zM252.8 69l-.2 1.4 .2 .2 1.8-.5 .5-.9-.4-.5-.9-.3zM259.3 64.3l0 .1 1.7 1.3 .7-.3 .5-1-.2-.8-2.4-.1zM265.5 35.4l-.1-.4-1.4-.5-.8 .7 .1 1.4 .2 .3 1.4-.1zM276.6 66l.2-.9-1-.7-1.3 1.3 .1 1.3 .6 .1zM294.7 49.6l0 .8 .7 .5 .1-.1 .4-.6 0-1.2zM262.4 87.3l-.2 .3 0 .6 1.2 1.3 .9-.6 .3-1.1-.7-.8zM255.2 100.5l0 .1 .5 1.4 .1 .4 .5-.1 .8-1.6-.8-.8zM263.6 50.7l0-.2-1.6-1.4-1 .4-.2 .9 1.8 1.4zM261.2 77.5l-.9 1.3 1.7 .8 .1-.1 .7-1.6-.1-.2zM267.3 82.9l-.6-.6-1.6-.1-.9 1.1 1.4 1.2 1.8-.5 .1-.1zM276.2 82.9l1.2 .4 1.2-1.3-.4-.9-2 .4-.1 .2zM305.8 80.8l.5 .7 .3-.4 .7-.7 .4-.5-1.4-.2zM254.6 98l1.7 1.2 1-.9-1.1-1.5-1 .2zM283.8 64.2l-.1-.8-1.7-1-.9 .8 .1 .3 1.2 1.1zM307.9 73l-.2 .9 .6 1.2 1.2-.3 .2-1.7-.6-.5-.7 .1zM254.8 76.7l1.5-1 .2-.7-2-.5-.7 .9zM258.4 102.4l1.3 .4 .6-1.2-.6-.8-1.4 0zM291.3 84.9l1.4 .4 .7-.4 0-.1-.4-1.6-.8-.5-.9 2zM270.2 36.1l-.6-2-1.6 .5-.2 1.9 0 .2zM257.7 103l-1.4-.7-.5 .1 .4 1 1.3 .6 .2 .1zM251.2 34.8l-2.2 .5 1.7 1.6 .9-.6-.2-1.3zM257.1 43.1l-.7 2.1 .6 .8 1.8-1.2-1.6-1.7zM275.5 73.1l.3 .6 1.8 0-.1-1.5-1.3-.4zM269.3 67l.9 .1 1.1-1-.7-1.3-1.4 0zM263.5 80.4l-1.4-.9-.1 .1-.8 1.6 1.7 .7 .6-1.3zM261 33.4l.7 .3 1-.9 0-.4-.1-.1-1 0-1 0zM266.8 52.2l-.5-1.6-1.5 .7 .1 1.1 .8 .4zM285 50l-.3-1.1-1.7-.1-.7 .9 1.5 1 1.1-.5zM268.3 37.8l-.7 1.8 .7 .8 1.2-.6 0-1.4zM265.9 64l-.4 1.4 1.6 1 .6-1.3-1.3-1.2zM288.1 43.1l.5-1.2-1.3-1-.5 .2-.5 1.5zM249 90.8l-.9-.7-2.1 1.6 .3 1.6 .4-.7 1.2-.5 1.2 .3zM257.8 89.1l1.2-1.3-.7-.7-1.4 .2 .1 1.5zM249.6 39.5l2.1-.6-1.1-1.6-1.9 1z"/>
<path fill="#c6e5f7" stroke="#c6e5f7" d="M263.9 43.3l-2 .6-.3 .6 .8 1.4 .7 .1 1.4-1.9 0-.1zM265.2 95.1l-.8-.1-1 1.4 1.5 .9 .1-.1 1.1-.8 .2-.1zM249.5 32.9l1.5 .4 1.1-.6 0-.8-.8 0-1-.1-.8 0zM269.5 39.8l1.2 .5 1-1.1-.8-1.4-1.4 .6zM251.9 45.4l1.7-1.5-1.4-1.1-.5 .1-1.3 1.9zM253.8 68.4l.9 .3 .7-2.1-.1-.3-1.7-.3-.5 .8zM286.3 84.3l1.2-.5 .1-.6-1-1.2-1.1 .6-.1 1.2zM280.6 40.3l1.2 .3 .3-2-.9-.5-1 .5-.2 .6zM246.6 66.8l-1.5 2 1.2 2.3 1.9-.9 .6-2.1-.1-.4zM278.8 69l0 .4 2.5-.1 .1 0 0-1.3-.5-.5-.9 0zM288.1 85.8l.5-.6-1.1-1.4-1.2 .5 0 1.2zM251.5 82.2l.5 .5 1.3-.2 .3-1.3-1-.9-.9 .4zM283.4 56.8l-.1-.1-1.5-.4-1.1 1.4 .1 .5 .9 .8 .5 0 1.2-1.5zM286.4 73.8l1.2-.3-.3-2.2-.1 0-1.6 .6-.3 .5zM262 39.9l-.1 1.5 2 .3 .3-.3-.2-2-.6-.4zM267.3 74.9l-1.6 .2 .1 1.6 1.2 .6 .9-.5zM292.2 39.9l-.2-.2-.8 .1-.2-.3-1.5 .3 .4 1.7 .5 .3 1.3-.3zM265.7 75.1l1.6-.2 .3-.4 .1-1-.4-.8-1-.4-1.2 1.5zM265.3 59.7l-.5-.6-1.7 .3 .2 1.8 1 0zM255 79.9l.6-1.6-.9-.9-1 .3-.5 1.3zM249.5 53.8l-.5-1.7-1.3-.8-1.8 1.9 .1 1.9 3.2-1zM294.4 46.3l.3-.9-.8-1.4-.8 .2-.8 1.8 .3 .3zM284.1 47.1l-1.3 .3 .2 1.4 1.7 .1 .4-1.1zM271.4 68.7l.6 0 .6-1.8-.4-.6-.9-.2-1.1 1zM282.9 79.7l-1.5-.8-1 1.2 .5 1.2 .7 .4 1.4-1zM255.8 47.4l-1.3-.6-.8 1.6 .5 .6 1.1 0 .5-.5zM261 81.2l.2 0 .8-1.6-1.7-.8-.9 .3 0 1.1zM268.5 43.7l1.8-.9-.5-1-1.2-.3-.7 1.4zM257.1 46.5l1.3 1.1 1.3-1.8 0-.9-.2-.1-.7 0-1.8 1.2zM287.1 53.9l0 2 .1 .2 .6 .2 1.5-1.5-1.7-1.4zM273.3 49.7l-.4-.9-1.5 0-.4 .6 .9 1.4 .9-.2zM269.6 34.1l.2-.4-.2 .1-.9-.4-.9-.3-.1-.4-.3 .2 0 1.2 .6 .5zM290.6 86.4l1.2 1.1 .7-.6 .2-1.6-1.4-.4zM247.7 38l-2.1 2.7 2.1 1.8 .4 0 1.5-1.1 0-1.9-.9-1.2zM286.9 81l-.3 1 1 1.2 1.7-.8-1.4-1.7zM290.4 53.4l1.6 .6 .9-.8 .2-1.4-.1-.2-.5-.4-1.4-.2-.7 2.3zM311.6 74.4l-.3-1.1-.1-.1-1.5-.1-.2 1.7 .7 .5zM256.3 35.3l0 1.2 1.1 .4 .9-.5-.7-1.3zM252.1 39.9l-.3-1-.1 0-2.1 .6 0 1.9 .4 .1 1.8-.8zM287.1 51.4l-.7-1.5-1.4 .1-.1 .2 .7 1.8 1.3-.2zM266.6 61.6l-1.5 .4-.3 1.3 1.1 .7 .5-.1 .8-1.1-.2-1zM262 75.4l.2-.3-.5-1.2-.8-.2-1.2 1.2 .8 1.2zM256.5 56.6l.5-1.8-.3-.4-1.3 0-.6 1.7 .2 .4zM273 85l1.2-1.3-.2-.4-2.1-.6-.6 .6 0 .5 .9 1.3zM270.9 74.4l.9-.3 .1-1.9-.5-.5-1.4 .5-.2 .9 .5 1zM267.1 67.4l-.2 1.7 .6 .8 1.8-.6-.5-1.9-1.5-.1zM261.6 54.2l-.7-1.1-.8-.2-.7 .3-.4 1.6 1.3 .9zM294.1 43.8l-.2 .2 .8 1.4 1.2-.2-.1-.2-.3-1.1-.3-.6zM253.6 81.2l-.3 1.3 .2 .1 2.1 0 .3-.6-.2-1.2-.6-.4zM266.6 91.9l-1 1.1 .3 .5 1.5 .5 .6-1.9-.1-.1zM260.1 52.9l.3-2.1-1.7-.1-.1 .1-.1 1.9 .9 .5zM258.4 48.5l.3 2.2 1.7 .1 .4-.4 .2-.9-1.1-1.1-1.3-.2zM268.2 40.6l.1-.2-.7-.8-1.4-.3-.2 2.2 .2 .1zM252.5 76.1l.4-.6-.6-1.2-1.1-.1-.6 1.3 .4 .5zM278.3 63.4l.7-.1 .6-.5-.3-2-2.4 1-.1 .2 .1 .3zM316 67.7l-.3-.4-.2-.3-1.6 0-.3 1.4 1.3 .9zM261.5 43l.4-1.5-1.9-.4-.2 1.6zM271.4 51.7l.5-.9-.9-1.4-.8 .1-.7 1 .7 1zM258.6 48.2l1.3 .2 1.2-1.5-1.4-1.1-1.3 1.8zM258 42.5l.4-1.6-.8-.8-1.3 .6-.3 1.7 1.1 .7 .1 0zM271 36.5l-.8-.4-2.4 .6 0 .1 .5 1 1.2 .6 1.4-.6 .2-1zM251.6 84.4l.6 .6 .7 .2 1.1-.7-.5-1.9-.2-.1-1.3 .2zM266 41.5l-1.8-.1-.3 .3 0 1.6 .6 .7 1.6-.5 .5-.8-.4-1.1zM267.2 62.8l1.7 .6 1-1.2 0-.1-.5-.8-1.4-.2-1 .7zM283.2 38.3l-.1-1.6-.4-.3-1.5 .2 0 1.5 .9 .5zM279.8 76.8l-1.1-.4-.2 .1-.7 1.4 1.3 .9 1.1-1zM286.8 41.1l.5-.2 .2-.7-.5-1.2-1.4 .2 0 1.3zM299.9 80.1l-.8-1.2-.6 .1-.9 1.2 .5 1.3 1.5 .2zM254.8 32.3l-.6 .7 .2 1.9 1.4-.1 .4-1.1zM209 59.6l3.6 2.6 2.4-2.2-.5-3.1-5.3 1.3-.3 .7zM267.4 32.9l.3-.2-.1-.4-.2-.9-.6-.2 0 1.2-.7 0zM294.9 47.3l1.1 1.2 .3-1.2-.1-.7zM277.9 74l-.3-.3-1.8 0-.5 1 1.3 1zM316.2 57.2l-1.6 .4-.3 1.6 .4 .4 1 0-.2-.6 .3-.5 .6-1.2zM283.7 74.9l-2.2-.2-.5 .5 .1 .5 1.2 1.3 .7-.1 .1-.1zM290 63l1.6-.9-.8-1.9-1.5 1.5 .3 1.1zM288 87.6l.1-1.8-1.8-.3-.9 .9 0 .2 .1 .2 2.4 .9zM274.2 83.7l.9 .3 1.1-1.1-.1-1.2-1.8-.3-.3 1.9zM259.2 92.2l.4 1.9 1.4 .5 .3-1.5-1.6-1.2-.2 0zM285.6 52l-.3 .4 .2 1.4 1.6 .1 .5-.5 .1-.3-.8-1.3zM253.2 37.8l.6 .3 1.5-.8 .1-.3-1.3-1.7-.3 .1-.9 1.4zM265.8 90.6l-1.1 .5-.2 1.5 1.1 .4 1-1.1zM261 49.5l1-.4 .3-.6-.7-1.7-.5 .1-1.2 1.5zM287.2 44.8l-.2 .7 .7 1.4 .3 .1 1-.9-.7-1.7zM281.6 81.9l0-.2-.7-.4-2 .8 .6 1.2 1 .3zM252.3 57.4l.1 .1 2.1 0 .5-1-.2-.4-1.7-.7zM255.3 49l-1.1 0-.5 1.4 .2 .8 .6 0 1.2-1zM262.8 77.9l1.7 1.1 .6-.1-.1-1.6-1.2-.5-.9 .5-.2 .4zM256.9 50.8l-.4 1.4 .6 .6 1.4-.1 .1-1.9zM293.1 51.8l1.6 .4 0-.8 .7-.5-.7-.5-1.7 1.2zM263.3 61.2l0 .1-.1 1.5 1.4 .6 .2-.1 .3-1.3-.8-.8zM258.5 60.8l-1.5 .1-.6 .7 .9 1.2 1.8-.5-.5-1.4zM265 54.4l.7-.2 0-1.4-.8-.4-1.3 .9 0 .1zM252.9 79.2l-.3 1.1 1 .9 1.5-.8-.1-.5-1.8-.9zM260.9 37.3l-1.5 .3-.3 .9 1 1.2 .8-.3 .4-1.4zM278.4 50.3l-.2 1.2 1.7 .2 .3-.6-.6-1.3z"/>
<path fill="#b6def4" stroke="#b6def4" d="M280 67.5l.9 0 .4-1.5-.9-.6-.8 .1-.4 .3-.1 .2zM258 69.4l1.5 1.2 .4 0 .5-1.8-1.5-.5-.9 .4zM254.5 95.3l-2.1 .3 .2 .5 .5 1.3 .7 .9 .8-.3 .6-1zM311.6 66.8l-.2 .6 .4 .9 .8 .4 1-.3 .3-1.4-.3-.7-.7-.2zM305.2 77.5l-1.4-.3-.6 .9 .5 1.7 1.8-1.1 .1-.6zM285.2 77.4l.7-.5-1.4-1.9-.8-.1-.6 1.9zM283.7 43.2l.8-1.1-.2-.9-.7-.6-1.5 .3-.3 1.2 1.5 1.1zM293.2 61.5l.4-1.3-2.3-.3-.5 .3 .8 1.9zM271.5 71.5l1.3-1.2 0-1-.8-.6-.6 0-1 .9zM272.6 79l-.2-.8-.6-.5-2.3 1.1 1.4 1.6 .6 .1zM254.1 40.3l.5-.5-.8-1.7-.6-.3-1.4 1.1 .3 1zM289.9 58l-.3-.4-1-.2-.9 1.2 .8 1.3 1.6-.3zM260.3 96l.8-1.2-.1-.2-1.4-.5-1 .6 .1 1zM257.1 100.7l-.8 1.6 1.4 .7 .7-.6-.1-1.6-.1 0zM279.5 83.3l-1.2 1.6 .6 .5 1.7-.4 .3-.6-.4-.8zM280.9 84.4l1.4 0 .5-1.1-1.2-1.4-1.1 1.7zM249.6 80.4l-.9-2.2-2.7 .8 .4 1.8 2.6 1.1zM290.8 60.2l-.7-.6-1.6 .3-.4 .8 .1 .5 1.1 .5zM250.3 86.4l1.2 0 .7-1.4-.6-.6-1.9 .2zM255.4 54.4l1.3 0 .4-1.6-.6-.6-.8 0-.9 1.5zM289 46.1l1.6 .1 .3-.3-.4-1.8-.3-.2-1.7 .2-.2 .3zM278.6 53.8l-.8-1.2-1.9 .4-.2 .2 1.5 1.7 .3 .1 1-1zM260.3 101.6l1.1-.1 .1-.6 .2-.5-1.2-1.1-.8 1.5zM283.4 83.2l.9-1.2-.3-.9-1-.4-1.4 1 0 .2 1.2 1.4zM306.3 74.5l-.2 1.2 1.8 .5 .4-1.1-.6-1.2zM305.8 72.2l-2.3 .2 0 .6 1 1.1 1.1-.4 .3-1.3zM285.5 82.6l1.1-.6 .3-1-1.1-1-1.8 1.1 .3 .9zM296.7 77.6l-.9 .5-.2 1.2 .3 .8 1.7 .1 .9-1.2zM265.6 47.6l-.5 1.5 1.3 1.1 1-.5 .3-.8-.7-1.4zM281.9 88l1.6-.4 .3-.5-1-1.3-1.6 .8 0 .2zM266.3 72.3l-.3-.6-1.1-.6-.9 .2-.7 1.2 .7 1 1.1 .3zM254.5 51.2l1.2 1 .8 0 .4-1.4-.2-.3-1-.3zM278.6 53.8l-.1 .2 1.4 1.5 1.2-.3 .4-1.1-.2-.8-.9-.4zM258.2 75.4l1.2-.6-.7-1.8-.2-.1-1.6 1.3-.1 .6zM268 61.1l-.2-1.7-.7-.4-1.1 .8 .6 1.8 .4 .2zM290.2 43.9l.2-2.1-.5-.3-1.3 .4-.5 1.2 .4 1zM279.6 73.4l1.9-.6 .2-.2 0-.7-.7-.6-1.9-.1zM310.1 67.5l-.7-1-1.2 .2 .3 1.7 1 0zM298.9 83.6l-1.7-.2-.3 .4 .9 1.6 1.8-.7zM262.2 85.3l-.5-.3-1.4 .9 .1 1.1 1.8 .6 .2-.3zM281.3 44.3l-.1 1.4 1.2 .2 .7-.6-.4-1.1zM299 89.3l.1-.1 .6-1.4-.4-1.1-1 0-1 1.5zM285.1 36.1l0-.2-.1 0-1-.5-1-.6-.1 0-.2 1.6 .4 .3zM249.4 63.3l-.6 .8 .6 .7 1.7 .3 .7-.4 .2-1.1-.2-.6zM256.8 96l-.6 .8 1.1 1.5 .8-.1 .3-.7-.2-1.2zM269.4 61.3l.5-1.4-.6-.9-1.5 .4 .2 1.7zM255.9 82l2.2 .4 .2-.3 .1-.8-1.4-.9-1.3 .4zM279.8 76.8l.4 1 1 .4 1.1-1.2-1.2-1.3zM262 63.6l1.2-.8 .1-1.5-2 0-.1 .1zM306.1 75.7l-.2 .1-.7 1.7 .4 .6 2.1-.6 .5-.5-.3-.8zM285.4 83.8l.1-1.2-1.2-.6-.9 1.2 1.1 1.1zM264 73.5l-.7 1.4 .8 .7 1.6-.5-.6-1.3zM267.4 94l-1.5-.5-.7 1.6 1.1 1.2 .9-.7 .7-.6zM260.3 101.6l-.6 1.2 .3 .6 .8 .4 .8-.2 0-.1-.3-1.5 .1-.5zM271.9 50.8l-.5 .9 .2 .4 1.2 .7 1.1-1.2-1.1-1zM279.3 60.8l-.4-1.1-1.8 0-.3 .2 .1 1.9zM285.6 52l-.7-1.8-1.1 .5-.5 1.4 .1 .1 1.9 .2zM299.6 84.7l1.1-.8 .2-1.6-1.2-.4-.8 1.7 .7 1.1zM257.9 83.6l-.8 .6-.3 1 1.6 .7 .9-.7 0-.6zM251 76l-.4-.5-2-.2 .4 2.6 1.3-.1zM314.8 69.7l-1.6 1.5 .3 .6 2-.1 .2-.3zM267.3 46.9l.6-.3 .2-1.9-1.3 0-.5 .9zM268.7 55l-1.4-.8-.7 .4-.1 1.5 1.5 .3zM286 58.6l-.2-1.2-1.3-.8-1.1 .2 0 .7 1.5 1.7zM269.3 69.3l-1.8 .6 .9 1.6 .8 0 .7-1.9zM263 72.5l-1.9-1.2-.1 .1-.6 1.3 .5 1 .8 .2zM293.5 48.7l1.2 .9 1.2-.6 .1-.5-1.1-1.2 0-.1zM254.4 73l1.8 .2 .5-1.7-1.7 0-.6 .8zM276.5 51l-.5 .4-.1 1.6 1.9-.4 .2-1zM265.1 62l1.5-.4-.6-1.8-.7-.1-1 1.5zM294.5 86.2l-1.1-1.3-.7 .4-.2 1.6 1.8 .2zM282.9 85.3l1.4-.5 .2-.5-1.1-1.1-.6 .1-.5 1.1zM249 90.8l.1 1.6 1.2 .2 .2 .3 1-1.2-1.3-1.1zM276.9 57.6l-.2 .4 .4 1.7 1.8 0 .1-.4-.5-1.3-1.5-.4zM287.6 49.1l-.5 0-.7 .8 .7 1.5 1.4-.7zM270.7 40.5l0-.2-1.2-.5-1.2 .6-.1 .2 .4 .9 1.2 .3z"/>
<path fill="#a7d8f2" stroke="#a7d8f2" d="M285.1 36.1l.2 1 1.5 .5 .4-.7-1-.5-1.1-.5zM288.9 78l1.7 .7 .6-.6 0-1.3-1.3-.7-1.1 .9zM276.6 43.8l0-1.8-1.8-.6-.8 1.9 .1 0 2.5 .5zM286.3 74l.1-.2-1.1-1.4-1.1 .2-.7 .7 .2 1.6 .8 .1zM275.6 63.8l-.6-.2-2.1 .5 .2 .7 1.4 .9 1.3-1.3zM285.4 68.7l.3 1.3 1.2 .2 .8-1.1-.7-1.2-1 .2zM250.5 48.7l-1 .5 1 1.8 .7 .1 .8-1.4-.1-.4zM297.2 61.9l.1-.5-.7-1.6-1.5 1.2 .1 .9 .4 .4zM312.4 70.7l-1 .3-.2 2.2 .1 .1 2.1-.7 .1-.8-.3-.6zM246.3 71.1l1.4 3.3 .2 0 2.3-1.6 .1-.3-.4-1.3-1.7-1zM264.2 83.3l-.3 0-.9 1.7 1.3 1.1 1-.6 .3-1zM272 61.3l0-1-.5-.4-1.6 0-.5 1.4 .5 .8zM258.1 82.4l-.2 1.2 1.4 1 1.3-1.4-.2-.5-2.1-.6zM270.2 45.4l-1.7-1.1-.4 .4-.2 1.9 1.7 .2zM283.8 68.7l-.6 1 .2 .7 1.8 .2 .5-.6-.3-1.3zM272.6 75.8l-.2-1.4-.6-.3-.9 .3-.2 1.9 1 .6zM303.5 73l-.9 1.2 .3 1.6 .1 0 1.4-.7 .1-1zM290.6 46.2l-1.6-.1-1 .9 .6 1.2 .7 .1 1.2-.9zM268.4 89.6l1.2 .7 .8-.6-.1-1.1-1.4-.6zM286.4 65.9l1.1 1.2 .8-.4 .5-1.2-.9-1-1.2 .1zM295.6 62.3l-.4-.4-1.3 .5-.3 1.2 1.6 .5 .4-.2zM280.2 51.1l-.3 .6 .5 1.2 .9 .4 1-1.1-.7-1.5zM260.8 103.8l-.3 1.4 .2 .1 1.2-.3-.3-1.4zM276.9 62.3l-.1-.3-2.1-.9-.4 .6 .7 1.9 .6 .2zM252.1 87.7l-.9 .9 0 .6 1.4 1.1 .9-.2 .4-.5 .1-.3-1.8-1.6zM260.8 68.6l-.4 .2-.5 1.8 1.1 .8 .1-.1 1.3-1.6zM265.4 45.6l-.7 1.3 .9 .7 1.4-.1 .3-.6-1-1.3zM280.2 38.6l-1.1-1.2-.8 .1-.7 1 0 .1 1.3 .9 1.1-.3zM276.8 86.5l-1.6 0 0 1.7 .7 .6 1.4-1.5zM286 62.4l-.5-.6-.4-.1-1.4 1.7 .1 .8 .6 .6 1.6-.8zM324.9 33.8l-.6 1.5 .5 .6 1.6 .2 1-1.2-.2-.3zM246.3 71.1l-1.2-2.3-2.7-.6-.4 .6 1.1 3.4 .5 .2zM281.2 36.6l-.6-.6-.5 0-1 1.4 1.1 1.2 1-.5zM266.4 56.1l.1 0 .1-1.5-.9-.4-.7 .2-.6 1.5 .1 .2zM251.6 57.3l-.7-.9-1.3-.1-1.1 1.1 1.1 1.7zM307.9 73l-2-.6-.3 1.3 .7 .8 1.4-.6zM300.9 73.4l.1 .2 1.6 .6 .9-1.2 0-.6-.3-.3-.8-.4z"/>
<path fill="#94d2f0" stroke="#94d2f0" d="M303.8 77.2l-.8-1.4-.1 0-1.1 .3-.7 1.7 .4 .4 1.7-.1zM289 88l.6 .9 .4 .1 1.8-1.3 0-.2-1.2-1.1-.1 .1zM297.2 73.3l-.3 .7 .5 1.4 1.6-.5-.3-1.6-.5-.2zM243.8 86.7l.7 1.4 3.5 .4 .3-.5-.7-3-1.2-.3zM212.8 64.8l3.6 .3 1.2-.9-.3-3.2-2.3-1-2.4 2.2zM292.4 64.5l.2-.5-1-1.9-1.6 .9 .4 1.5zM293.9 62.4l-.7-.9-1.6 .6 1 1.9 1-.4zM246.7 60.9l-.8 2.4 .2 .6 2.7 .2 .6-.8 0-2.5-.3-.4zM274.3 81.4l-.2-.2-2 .3-.2 1.2 2.1 .6zM229.9 59.1l-2.7-3.1-3.2 1.9 3.5 5.1 .4 .1 .9-.5zM279 59.3l1.8-1.1-.1-.5-1.4-.8-.8 1.1zM299.7 81.9l-.1-.2-1.5-.2-.8 .8-.1 1.1 1.7 .2zM218.1 56.5l-3.6 .4 .5 3.1 2.3 1 2.8-1.7zM289.5 67.8l.1 1.1 1.2 .3 .9-.5 0-.1-.6-1.7-.2-.1zM307.5 70.4l.9 2.3 .7-.1 1-2.1-2.3-.4zM282.7 44.2l.4 1.1 1.1 .3 .6-.4 .1-.7-1.2-1.3-.4 0zM281 75.2l-1.9-1-.1 .1-.3 2.1 1.1 .4 1.3-1.1zM264.8 51.3l1.5-.7 .1-.4-1.3-1.1-.7 .2-.8 1.2 0 .2zM260.7 56.7l1.4-.4 .7-1.3-.1-.5-1.1-.3-1.3 1.5zM290.7 90.1l.8-.1 .5 .2 .4-1.7-.6-.8-1.8 1.3zM278.9 39.5l-.3 1.4 1 .4 1-1-.6-1.1zM298 53.8l.1-.5-.7-.9-.2 .2-.6 .5-.7 .1-.4-.2-.3 1.1 1.1 .7zM214.5 56.9l3.6-.4 .9-2-1.3-1.9-3.9 .3zM298.9 59.7l-1.6-.6-.6 .3-.1 .4 .7 1.6 2.1-.5zM280.3 87.1l-.7 1.6 .4 .5 1.7-.4 .2-.8-.7-1.2zM293.9 55.9l-1.7-.6-.6 .6 .3 1.7 .5 .3 .4 .1 .7-.6zM303.2 78.1l-1.7 .1 .3 1.6 1.8 .1 .1-.1zM278.7 35l-.1 0-.7-.1-.4 .8 .8 1.8 .8-.1 1-1.4zM256.9 71.3l0-.6-1.7-1.5-.1 0-.5 .9 .4 1.4 1.7 0zM277.8 67.4l1 1.6 1.2-1.5-.9-1.5zM234.1 73.7l2.3 .5 .6-2.9-2.1-1.6-1.3 .8zM311.6 74.4l-1.4 .9 .1 .8 .5-.1 .8-.1 .5-1.1z"/>
<path fill="#82cbee" stroke="#82cbee" d="M285.7 47.6l-.6 .2-.4 1.1 .3 1.1 1.4-.1 .7-.8-1-1.4zM248.1 42.5l-.4 0-2.3 3.7 2.5 .8 1.4-1 .5-1.2zM208.8 54.2l.4 4 5.3-1.3-.7-4-.1 0zM249 81.9l-2.6-1.1-1 1.6 1 2.3 1.2 .3 1.2-.8 .4-2zM224 57.9l-.1 0-2.4 1.7 .6 5.1 5.4-1.7zM292.8 65.6l-.4-1.1-2 0-.6 .8 1.1 1.5 .2 .1 1.6-1zM281.8 40.6l.3 .3 1.5-.3 .3-1.9-.7-.4-1.1 .3zM308 46.4l.8-1-.5-1-.1 .4-1.1 .2-.7 .2 .1 .6zM274.6 69.3l.3 1.7 1 .2 1-1.4-.7-.8zM288.5 50.7l-1.4 .7-.2 .4 .8 1.3 1.3-.6 .1-1.7zM250.8 47.6l-1.5-1.6-1.4 1 .6 2 1 .2 1-.5zM290.6 78.7l0 1 2.4 .9 .4-1.2-.3-.9-1.9-.4zM289.6 74.7l.3-.3 .2-1.3-.9-.8-1.5 1.2 .9 1zM250.9 80l.8 .7 .9-.4 .3-1.1-1.6-.8zM300.6 53.9l.1-.6-1.3-.6-1.3 .6-.1 .5 1 1.5zM272.8 52.8l.3 1 1.9-.2 .2-.2-1.2-1.8-.1 0zM305.6 58.8l1.8-1-.4-1.3-1.3-.2-.7 .6zM279.3 44.8l.2 .6 1.2 .7 .5-.4 .1-1.4-.8-.8zM313.6 66.3l.3 .7 1.6 0-.4-.7-.5-1 0-.1zM270.3 88.6l.1 1.1 1.5 .7 .3-.5-.3-1.5-.8-.3zM295.9 56.7l-1.9-.8-.1 0-.4 1.5 1.9 1zM258.3 58.7l.2 2.1 .1 .1 1.5-.7-.4-1.3-1.3-.2z"/>
<path fill="#69c1eb" stroke="#69c1eb" d="M245.8 64.7l-3.6 1.7 .2 1.8 2.7 .6 1.5-2zM309.2 64.4l.9 .9 .4 0 1.5-1.2-1.1-1.6-1.2 .1zM227.5 63l-5.4 1.7-.1 .1 .2 2.6 2.7 1.4 3.4-2.5-.4-3.2zM217.6 64.2l-1.2 .9 .9 4.1 2.3 .8 2.6-2.6-.2-2.6zM270.3 88.6l.8-.5-.2-1.6-1.1-.3-.2 .2-.7 1.6zM274.3 90l0 1.2 .2 .1 1.9-.2 .4-.9-.9-1.1zM304.6 45.5l-.6 .1-1.1 .8 .4 .5 .1 .2 1.1-.3zM291.2 76.8l.9-.8 .1-.9-.5-.5-1.8-.2-.3 .3 .3 1.4zM296 89.4l.7 1 1.1-.2 .5 .5 .7-1.4-1.7-1.1-.2 0zM298.9 59.7l.5 1.2 .1 .1 1.8-.7-.9-1.8-.3-.1zM282.3 77l-1.1 1.2 .2 .7 1.5 .8 .6-.8-.5-2zM241.8 80.2l.3 2.4 3.3-.2 1-1.6-.4-1.8-.1-.2zM301.9 89.3l.1-1-1-.8-1.3 .3-.6 1.4 1.3 .5zM287 89.5l1.4 .7 1.2-1.3-.6-.9-1-.4-.1 .1-1 1.6zM249.5 49.2l-1-.2-1 1.3 .2 1 1.3 .8 1.5-1.1zM217.7 52.6l1.3 1.9 2.8-.3 .9-2.1-.8-1.8-2.8-.6zM315.7 38.6l-.9 .3-1 .2-.1 .1 1 1.2 1.2-1.1zM322.7 30.2l.2 .1 1.7-.9-1.1-.5-.6 .4-.4 .3zM299.8 78l-.5-1.1-2.3-.4-.3 1.1 1.8 1.4 .6-.1zM276.8 46.5l.7-.3-.1-2.1-.8-.3-1 1.8zM314.9 69.3l1.9 .3-.1-.3-.3-.9-.4-.7-1.1 1.6zM307.9 68.9l.6-.5-.3-1.7 0-.1-2 .7 0 .5z"/>
<path fill="#4bb6e7" stroke="#4bb6e7" d="M244.9 76.1l2.8-1.7-1.4-3.3-2.7 1.3 .3 3.2zM224.9 73.3l1.3-1.3-1.3-3.2-2.7-1.4-2.6 2.6 .4 2.5 .3 .3zM244.2 48.6l-3-.2-.5 3.3 1.6 .6 1.7-.7 .6-2.2zM218.4 78.1l-2.4-2.1-2.8 2.6 .4 0 1.3 .2 1.2 .1-.3 .7 1.1 .6 .7 .5zM224.9 77.4l0-4.1-4.6-.5 .5 4.5 2.7 1.3 .2 0zM240.4 78.7l1.3-2.4-1.9-2.3-2.9 .7-.1 1.3 2.9 2.8zM208.8 54.2l4.9-1.3-.3-2.2-2.1-1.8-3.6 .8 .1 3.6zM239.8 74l.4-1.1-1-2.5-2.2 .9-.6 2.9 .5 .5zM307.3 64.7l-1.6 2 .5 .6 2-.7-.6-1.8zM282.4 45.9l-1.2-.2-.5 .4-.1 .4 .9 1.1 1.3-.2zM243.9 90.5l.6-2.4-.7-1.4-.7-.3-3.1 2 .8 .7 .6 1.5 .2 1 .1 .2zM279.9 48.9l-.9-.9-1.5 .7-.2 .5 1.1 1.1 1.2-.5zM267.9 92l.1 .1 1.5 .1 .1-.2 0-1.7-1.2-.7-.7 .4zM310.1 43.4l.7-.4-.3-1.7-.3-.2-.4 .7-.9 1-.2 .3zM310.9 62.5l.6-.9-.8-1.8-1.8 1.1-.1 .2 .5 1.2 .4 .3zM274.9 86.2l-.9 .1-.9 1.2 .6 .7 1.5 0 0-1.7zM304.1 53l-1.2 .7 0 .7 .9 .7 1.6-.9zM274.9 47.9l.3 1.3 1.3 .4 .8-.4 .2-.5-1-1.4zM276.8 40.1l.8-1.5 0-.1-1.4-.7-1.2 .6 1 1.7zM276.8 40.1l-.8 0-1.2 1.2 0 .1 1.8 .6 .9-.8zM297.5 69.5l-1.4-1.7-.9 1.2 .4 1.3 1.8-.7zM282.8 92.9l0 .9 1 .3-.2-.2 .5-1.3-.4-.5z"/>
<path fill="#37aae2" stroke="#37aae2" d="M227.7 54.8l-1.5-2.4-3.5-.3-.9 2.1 2.1 3.7 .1 0 3.2-1.9zM294.7 71l-1 1.6 .4 .6 .5 .1 1.7-.9 0-.5-1-1.1zM233.2 55.5l-.8-1.4-1.2-.6-3.5 1.3-.5 1.2 2.7 3.1 2.7-.7zM312 51.2l.3-1-1-1.6-1.2 1 .8 1.8 .2 .1zM305 62.1l1.1-1.8 0-.2-.7-.8-.9 .2-.8 .9 .2 1.3zM218.3 48.5l-1.9-.4-3 2.6 .3 2.2 .1 0 3.9-.3 1.4-2.9zM308.5 58.5l2 .1 .1-1.2-1.2-1.5-.1 0-.9 2.4zM321.5 45.6l-1.4-.3-.5 .9 .9 1.5 1.4-1.3zM303.2 63.4l1.3 1 .1 0 .4-.3 .3-1.6-.3-.4-1.1-.4-.7 .6zM271.6 86.2l1.5 1.3 .9-1.2-1-1.3-.8 .1zM308.3 98.2l-.2 2 .8 .3 1.1-1.3 0-.6-.2-.5zM236.8 76l-2 2 1.2 2.9 1 .2 2.7-2.3zM212 65.7l.8-.9-.2-2.6-3.6-2.6-2.4 3.9 3.3 2.5zM241.8 63.5l-2.3-.9-.5 .4-.2 2.7 3.3 .7zM231.2 53.5l-.7-5.2-1.6-.6-1.3 .4-1.4 4.3 1.5 2.4zM213.4 70.6l.1 .1 3.8-1.5-.9-4.1-3.6-.3-.8 .9zM277.5 46.2l.8 .3 1.2-1.1-.2-.6-1.6-.8-.3 .1zM242.1 82.6l-.5 1 1.5 2.8 .7 .3 2.6-2-1-2.3zM312.5 58.9l-1.6 .2-.2 .7 .8 1.8 1.2-.3 .1-2.2zM246 91.7l-2.1-1.2-2.2 1.3 .1 .7 1.3 1.1 1.1 .6 1.1 .6 .7-1.1 .3-.4zM283 90.3l-.3 0-1.3 1-.3 .7 1.7 .9 .9-.8-.5-.7 .7-.3zM306.9 100.6l1.2-.4 .2-2-.3-.2-1.7 .4-.4 .8 .3 .8zM232.7 63.4l-3.9-.8-.9 .5 .4 3.2 2.1 1.7 2.7-2 .4-1.3zM276.5 47.3l1 1.4 1.5-.7 0-.1-.7-1.4-.8-.3-.7 .3zM312.3 39.5l-.4 .1-.6 .4-.6 .3-.5 .8 .3 .2 1.6-.3zM220.3 72.8l-.3-.3-4.1 2.3 .1 1.2 2.4 2.1 2.4-.8zM280.5 43.5l.8 .8 1.4-.1 .6-1-1.5-1.1-1.3 .8zM322.7 36.7l1.4-1.4-1.8-.8-.8 1.4zM222.1 64.7l-.6-5.1-1.4-.3-2.8 1.7 .3 3.2 4.4 .6zM310.4 44.5l-.3-1.1-1.4-.3-.1 .1-.3 1.2 .5 1 .7 0zM305.3 92.8l-.5-1-1.2-.1-.6 1 .1 .7 1.5 .3zM214.9 45.6l-2.8 0-.8 3.3 2.1 1.8 3-2.6zM317.2 39.8l-1.3-.5-1.2 1.1 0 .4 2.1 .3 .3-.2z"/>
<path fill="#239edc" stroke="#239edc" d="M232.6 58.4l-2.7 .7-1.1 3.5 3.9 .8 1.5-3.3zM203.4 57.6l.3 .3 5.2 1 .3-.7-.4-4-1-.9-3.4 1zM203.4 57.6l1-3.3-2.1-2-3.2 .3-.1 .6-.2 1.2 .5 1.2 .5 1.1 0 .2zM223.5 78.6l-2.7-1.3-2.4 .8-.8 2.6 .4 .2 1.2 .7 1.1 .7 .9 .5zM216 76l-.1-1.2-2.1-2-3 2.5 1.6 3.2 .8 .1zM243.1 62.3l-.7-2.8-.2 0-2.3 1.3-.4 1.8 2.3 .9zM234.9 69.7l.3-.9-2.1-2.8-2.7 2 .2 1.9 3 .6zM326.4 36.1l.3 .8 1 .4 .9-.8 0-1-1.2-.6zM272 61.3l.7 .9 1.6-.5 .4-.6-.1-.7-1.4-.7-1.2 .6zM317.4 45.3l.2-.7-.3-1-.9-.5-.4 .1-1.3 1.3 .8 1.1zM220 72.5l-.4-2.5-2.3-.8-3.8 1.5 .3 2.1 2.1 2zM241.8 80.2l4.1-1.4-1-2.7-1-.5-2.2 .7-1.3 2.4zM233.3 82.6l-2.4-2.7-1 0-2 2.6 3.1 3.3 .2 .1 1.2 .1 .1 0 .2-1.4 .2 .1zM272.2 46.7l1.3 1.1 1.2-.1-.1-1.7-2.2-.2-.1 .1zM303.2 87.3l-1.2 1-.1 1 .8 .8 .2 0 .9-.3 .6-1.9 0-.2zM295.2 69l.9-1.2 0-.4-.3-.4-.2-.1-2.2 .7-.1 .4 .6 1zM269.5 53.3l1.4 .2 .7-1.4-.2-.4-1.2-.2-1 1.3zM313.6 68.4l-1 .3-.2 2 .8 .5 1.6-1.5 .1-.4zM292.7 70.3l-.3 .5 .5 1.6 .8 .2 1-1.6-1.1-1zM315.5 55.3l-.9-1.4-.6 0-1.3 1.4 1.1 1zM258.4 97.5l1.9-.3 .1-.1-.1-1.1-1.6-.3-.5 .6zM208.6 74.9l.3 .4 .7 1 0 .8 .2 1.1 1.3 .1 1.2 .2 .1 0-1.6-3.2zM319.6 46.2l.5-.9-.3-.7-2.2 0-.2 .7 .3 .9 .5 .3zM266.4 89.6l-.2 .1-.4 .9 .8 1.3 1.3 .1-.2-2zM270.7 40.5l-.9 1.3 .5 1 .7 .3 .8-1.6zM250.7 36.9l-.1 .4 1.1 1.6 .1 0 1.4-1.1-.3-1-1.3-.5zM304.2 70.4l-1 1.7 .3 .3 2.3-.2 .2-1.5zM314.3 59.2l-1.5-.1-.1 2.2 1.3 .6 .7-2.3zM288.3 80.3l2.1-.3 .2-.3 0-1-1.7-.7-.8 .6zM275.3 58.5l1.4-.5 .2-.4-1.5-1.5-.2-.1-.9 1.7zM314.7 51.3l.6 1.5 1.6 .2 .3-1.4-.6-.6-1.9 .2zM231.9 74.9l1 2.7 1.9 .4 2-2 .1-1.3-.5-.5-2.3-.5zM273.1 87.5l-1.2 .9 .3 1.5 1.3-.5 .2-1.2-.6-.7zM238.8 65.7l-1.1 .9-.1 .6 1.9 2.6 2.5-1 .4-.6-.2-1.8-.1 0zM274.7 93.4l-.2-2.1-.2-.1-1.4 .3-.4 1.6 .1 0 1.3 .3 .7 .2zM264.3 68.3l1 1.1 1.6-.3 .2-1.7-2.3 0zM263.3 57.4l-.9 1.4 .7 .6 1.7-.3 0-1.2-.6-.8zM304.1 52.3l-1.3-1-1 .3-.2 1 1.3 1.1 1.2-.7zM278.5 42.9l1.6-.2-.5-1.4-1-.4-.8 .4zM285.2 70.6l.4 1.3 1.6-.6-.3-1.1-1.2-.2zM269.3 69.3l.6 .3 .5 0 1-.9-1.2-1.6-.9-.1-.5 .4zM308.8 61.1l-1.7 .2-.3 1.2 .5 .6 2-.8zM312.4 43.2l.2 .2 .7 .1 1.3-1.7-.1-.6-2.1 .1zM255.7 90.8l-1.8-1.2-.4 .5 .5 1.9 1-.1zM263.3 57.4l-1.2-1.1-1.4 .4-.1 .1 .3 1.1 1.1 1 .4-.1zM227.9 82.5l-1.1 .1-1.9 2.3 1.2 .2 1.3 .2 1.3 .2 1.2 .2 1.1 .1zM262.5 98.3l-2 1 1.2 1.1 .1-.6 .9-1.3zM310.3 69.5l1.5-1.2-.4-.9-1.3 .1-.6 .9zM240.1 57.3l-2.6 .7-.2 .8 2.6 2 2.3-1.3zM295.6 74.4l1.3-.4 .3-.7-.9-.9-1.7 .9zM267 58.3l1.4-1.2-.4-.7-1.5-.3-.1 0-.1 1.5z"/>
<path fill="#1292d7" stroke="#1292d7" d="M241.4 34.6l-2.9 1.4 1.5 2.9 .6 .1 1.8-1.2zM298 56.6l.1 .5 1.8 .9 .9-1.6-1.8-1.1zM248.5 57.4l-1.9-.6-.7 2.9 .8 1.2 2.4-.5 .5-1.1 0-.2zM238.4 39.8l1.6-.9-1.5-2.9-.4-.1-1.9 .8-.1 2.5zM246 79l2.7-.8 .3-.3-.4-2.6-.7-.9-.2 0-2.8 1.7 1 2.7zM240.4 30.8l-.4 0-1-.1-1-.2-1-.1-.2 0 .1 2 .7 .3 2.4-.8zM299 55.3l-1-1.5-1.7 1 .3 1.5 1.4 .3 1-1.3zM289 88l1.5-1.5-1.8-1.3-.1 0-.5 .6-.1 1.8zM274 43.3l.8-1.9 0-.1-1-.9-.7 0-.7 1 1.4 1.9zM243.9 75.6l-.3-3.2-.5-.2-2.9 .7-.4 1.1 1.9 2.3zM237.6 32.7l-.7-.3-1.5 .4-1.2 2.8 2 1.1 1.9-.8zM302.2 69.5l-.6 .5 0 .7 .8 1 .8 .4 1-1.7-.3-.6zM239.2 70.4l1 2.5 2.9-.7-1.1-3.4-2.5 1zM304.5 68.7l-.6 1.1 .3 .6 1.8 .3 .2-.1-.6-1.9zM258.8 44.8l.7 0 .1-1.9-1.6-.4-.8 .6zM285.1 66.9l.9 1.2 1-.2 .5-.8-1.1-1.2-1 .2zM226.8 82.6l-3.1-4-.2 0-2.3 4.2 .2 .2 1.2 .6 1.1 .7 1.2 .6zM304.4 75.1l-1.4 .7 .8 1.4 1.4 .3 .7-1.7zM295.3 75.5l-.7 .3-.5 1.3 1.7 1 .9-.5 .3-1.1 0-.2zM220.3 44.7l-3.5-1.9-1.9 2.8 1.5 2.5 1.9 .4zM306.2 70.6l-.2 .1-.2 1.5 .1 .2 2 .6 .5-.3-.9-2.3zM230.4 68l-2.1-1.7-3.4 2.5 1.3 3.2 2.8 .2 1.6-2.3zM273.8 43.3l-1.4-1.9-.6 .1-.8 1.6 .1 .2 2.3 .2zM265.8 38.8l.4 .5 1.4 .3 .7-1.8-.5-1-1.8 1.2zM267.4 94l.5 1 .7-.5 1.1-.6 .1 0-.3-1.7-1.5-.1zM275.9 71.2l-1-.2-.9 .5-.2 .8 .1 .3 1.6 .5 .7-1.3zM314.9 69.3l-.1 .4 .9 1.7 .6-.6 .7-.6-.2-.6zM278.7 76.4l.3-2.1-1.1-.3-1.3 1.7 0 .1 1.9 .7zM285.2 77.4l-.3 1.3 .9 1.1 1.3-1.4-.9-1.6-.3 .1zM248.8 84.2l.9 .4 1.9-.2 .4-1.7-.5-.5-2.3 0zM292.5 86.9l-.7 .6 0 .2 .6 .8 1.9 .2 .2-1.3-.2-.3zM283.3 67.2l-1.9 .8 0 1.3 1.8 .4 .6-1-.4-1.5zM290.8 60.2l.5-.3 1.1-2-.5-.3-2 .4 .2 1.6 .7 .6zM309.8 55.2l2 0 0-1.6-.7-.6-1.7 .8zM284.2 45.6l-.1 1.5 1 .7 .6-.2 .1-1.7-1-.7zM271.7 76.9l-1-.6-1.2 .2-.6 .6 .4 1.6 .2 .1 2.3-1.1zM208.2 38.5l-.1-.7-4.2-2.7-.2 .4-.4 1.1-.6 1.5-.5 1.3 .8 .9 4.1-.3zM290.5 56l1.1-.1 .6-.6-.2-1.3-1.6-.6-1 1.4zM226.2 72l-1.3 1.3 0 4.1 3.2 .2 2.1-3.3-1.2-2.1zM309.3 49.5l-.3-1.8-.8-.4-.9 .7 .1 1.3 1.3 .5zM274 51.6l1.2 1.8 .5-.2 .2-.2 .1-1.6-1.3-.4zM302.6 74.2l-1.6-.6-.6 1.6 1.4 .9 1.1-.3zM250.7 53.8l.2-.1 .7-2-.4-.6-.7-.1-1.5 1.1 .5 1.7zM239 63l-2-.5-1.7 2.1 2.4 2 1.1-.9zM277.6 73.7l.3 .3 1.1 .3 .1-.1 .5-.8-.5-2.2-.3-.2-1.3 1.2zM290.9 45.9l1.4 .1 .8-1.8-.9-.6-1.7 .5zM265.9 80.2l-.9 1 .1 1 1.6 .1 0-1.6zM219 54.5l-.9 2 2 2.8 1.4 .3 2.4-1.7-2.1-3.7zM289.5 67.8l1.4-1-1.1-1.5-1 .2-.5 1.2zM273.8 37.4l1.5-1.6-.3-.8-.3 0-.3-.1-1.1 .6 .4 1.8zM251.5 82.2l.2-1.5-.8-.7-1.3 .4-.6 1.5 .2 .3zM202.9 61.3l.8-3.4-.3-.3-3.6-.7-.2 .7 .9 1.1-.1 .9-.1 .9 .4 .9zM205.5 69l2.6-.1 1.8-2.9-3.3-2.5-1.4 .4-.1 4.6zM304.2 81.3l-.2-.1-1.2 1.2 .3 1 1.4 .8 .5-1.3 .2-.2zM299 74.9l.7 .5 .7-.2 .6-1.6-.1-.2-.9-.6-1.3 .5zM271.1 43.3l-.3 1.8 1.5 .8 .1-.1 1-2.3zM257.8 94.2l.8 .5 1-.6-.4-1.9-1.3 .3zM272.2 46.7l-.9 1 .1 1.1 1.5 0 .6-1zM268.9 88l.7-1.6-1.8-.7-.6 .9 .5 1 1.2 .4zM288.1 78.6l.8-.6-.1-1-1.2-.8-.8 .1-.6 .5 .9 1.6zM294.8 54.2l-1.9-1-.9 .8 .2 1.3 1.7 .6 .1 0zM264.5 44.1l-1.4 1.9 .9 .9 .7 0 .7-1.3zM269.6 34.1l.6 2 .8 .4 1.1-1.5-.1-1.3-.6-.3-.9 .2-.7 .1zM234.2 35.6l1.2-2.8-2-1.5-3.2 1.4 2.8 3.2zM288.4 90.2l-1.4-.7-.3 1.3 1.3-.2 .5-.2zM302.9 86.1l.3 1.2 1.2 .4-.2-.6 .1-1.3 .1-.8zM275.3 84.4l-.4 1.8 .3 .3 1.6 0 .4-1.3zM276.6 42l0 1.8 .8 .3 .3-.1 .8-1.1-.7-1.6-.3-.1zM294.1 77.1l.5-1.3-1.2-1.2-1.2 .5-.1 .9 1.8 1.2zM251.3 78.4l1.6 .8 .3-.2 .5-1.3-1.1-.7-1.3 1.4zM275.2 67.1l-.6-.1-.4 2 .4 .3 1.6-.3 .1-.9zM292 90.2l.3 .1 .5 .2 1.8-1.2-.3-.6-1.9-.2zM269.3 48.4l.9 1.1 .8-.1 .4-.6-.1-1.1-1.6-.5zM269 54.9l1.4 .8 .7-.3 .3-.8-.5-1.1-1.4-.2zM287.3 71.3l.3 2.2 .1 0 1.5-1.2 .1-1.1-.3-.2zM285.6 71.9l-.4-1.3-1.8-.2-.1 .3 .9 1.9 1.1-.2zM273.9 51.6l.1 0 .7-.6 0-1.3-1.4 0-.5 .9z"/>
<path fill="#0c86d2" stroke="#0c86d2" d="M264 71.3l.9-.2 .4-1.7-1-1.1-.8 .2-.8 1.2zM288.6 41.9l1.3-.4-.4-1.7 0-.1-2 .5-.2 .7zM280.6 85l.6 1.6 1.6-.8 .1-.5-.6-.9-1.4 0zM243.1 86.4l-1.5-2.8-3 .5-1 1.7 .7 .7 1.2 1.3 .5 .6zM276.1 81.7l.1-.2-.2-1.8-1.1-.3-.7 .4-.1 1.4 .2 .2zM292.2 43.6l.9 .6 .8-.2 .2-.2-.7-1.9-1.3-.1zM276.9 79.2l.3-1.1-1.3-.9-.9 .2-.1 2 1.1 .3zM258.4 77.1l.3 .2 1.8-1.1 0-.1-.8-1.2-.3-.1-1.2 .6zM277.8 41.3l.8-.4 .3-1.4-1.3-.9-.8 1.5 .7 1.1zM286.8 41.1l-1.2-.6-1.3 .7 .2 .9 1.7 .6 .1-.1zM246.7 60.9l-.8-1.2-3.3-.3-.2 .1 .7 2.8 2.8 1zM227.6 48.1l-3.2-1-2.5 3.2 .8 1.8 3.5 .3zM228.1 77.6l1.8 2.3 1 0 2-2.3-1-2.7-1.7-.6zM221.9 50.3l2.5-3.2-1.2-2.2-1.6-.6-1.3 .4-2 3.8 .8 1.2zM239.5 62.6l.4-1.8-2.6-2-1.5 1.3 1.2 2.4 2 .5zM251.9 45.4l-1.5-.6-.6 0-.5 1.2 1.5 1.6 1.3-.6 .2-.6zM287.2 71.3l.1 0 1.7-.3-.1-1.5-1.2-.4-.8 1.1zM205.1 71.4l.6 .7 .8 .4 .7 .4 .1 .9 .6 .3 1.6-3.2-1.4-2-2.6 .1zM295 81.5l.4-.3 .5-1.1-.3-.8-2.2 .1-.4 1.2 0 .1zM289 52.5l1.4 .8 .7-2.3-.7-.7-.2 0-1.1 .5zM230.6 69.9l-1.6 2.3 1.2 2.1 1.7 .6 2.2-1.2-.5-3.2zM283.2 66.7l-1.1-.9-.8 .2-.4 1.5 .5 .5 1.9-.8zM253 92.8l-1.2-1.1-.3 0-1 1.2 .7 .8 .8 1zM260.8 103.8l-.8-.4-1.3 1.2 1 .3 .8 .3zM233.3 82.6l-.4 2.1 .9 .1 1.1 .1 1.1 .1 1.1 .2 0 .1 .5 .5 1-1.7-1.6-3-1-.2zM315.5 55.3l-1.7 1-.1 .6 .9 .7 1.6-.4zM274.7 51l1.3 .4 .5-.4 0-1.4-1.3-.4-.5 .5zM274.6 77.1l.4 .3 .9-.2 .7-1.4 0-.1-1.3-1-.6 .2-.5 1.2zM202.9 61.3l1.6 2.3 .7 .3 1.4-.4 2.4-3.9-.1-.7-5.2-1zM279.2 65.8l-1.9-.8-.5 .1-.2 .9 1 1.3 .2 .1 1.3-1.4zM212.4 40.9l-.2-.6-4-1.8-1.1 1.5 .8 4 3 .1zM246.7 33.7l-.1-2.2-.4 0-1.1-.1-1-.1-.2-.1-.5 2.4 1.7 1zM258.7 66.2l-.8 .1-.7 1.5 .1 .3 .7 .6 .9-.4 .4-1.5zM266.7 80.7l0 1.6 .6 .6 1.4-1.6-.6-1zM244 41.8l1.5-1.1-2.1-2.8-1-.1-1.8 1.2 .9 2.3zM282.9 85.3l-.1 .5 1 1.3 1.6-.5 0-.2-1.1-1.6zM266.8 44.7l-.7-1.2-1.6 .5 0 .1 .9 1.5 .9 0zM258.6 57.3l-.5-.6-1.3 .2-.1 1.8 1.6 0 .1 0zM290.2 50.3l-.9-2-.7-.1-1 .9 .9 1.6 .6 .1zM294.9 89.4l-.3-.1-1.8 1.2 .3 .1 .8 1.3 .9 .1zM236.6 55.9l.8-1.2-1.2-3-.9-.1-2.9 2.5 .8 1.4zM297 64.3l.9-1.1-.7-1.3-1.6 .4 0 1.6zM295.7 84l-.1 1.5 .8 .8 1.3-.7 .1-.2-.9-1.6zM260.4 82.7l.6-1.5-1.6-1-1 1.1-.1 .8zM289.9 76.1l-.3-1.4-1-.2-1 1.7 1.2 .8zM240 31.9l1.6 2.2 1.8-.5 .5-2.4-.8 0-1-.2-1.1-.1-.6-.1zM245.4 46.2l2.3-3.7-2.1-1.8-.1 0-1.5 1.1-.4 2.8zM264.1 75.6l-.3 1.2 1.2 .5 .8-.6-.1-1.6zM294.8 65.7l.4-1.6-1.6-.5-1 .4-.2 .5 .4 1.1zM204 49.1l2.6-.4 .4-3.9-4-1.1-.6 .5-.3 3.3zM301.8 51.6l-.2-.1-2.1-.4-.1 1.6 1.3 .6 .9-.7zM264 39.4l.2 2 1.8 .1 .2-2.2-.4-.5zM252.2 42.8l1.4 1.1 .4 0 .8-1.2-.8-1.3-1.4 .3zM280.2 51.1l1.4-.4 .3-.9-1-.9-1 0-.3 .9zM321.9 38.3l-1.3 1.2 .3 .6 1.4 .3 .7-1-1-1.1zM240 31.9l-2.4 .8 .5 3.2 .4 .1 2.9-1.4 .2-.5zM307.7 77.5l-2.1 .6-.1 .6 .8 1 1.4 .2 .2-.3zM281.3 69.3l-.3 2 .7 .6 1.6-1.2 .1-.3-.2-.7-1.8-.4zM289.9 58l2-.4-.3-1.7-1.1 .1-.9 1.6zM266.8 78.5l-1.1 .7 .2 1 .8 .5 1.4-.4 .3-1zM269.5 50.5l.7-1-.9-1.1-1.6 .5-.3 .8 1 .9zM274.7 45.9l-.1 .1 .1 1.7 .2 .2 1.6-.6 .3-.8-1.2-.9zM249.4 87.8l1.8 .8 .9-.9-.6-1.3-1.2 0zM277.8 84.8l-.6 .4-.4 1.3 .5 .8 .7 .2 1-1.1-.1-1-.6-.5zM237.5 58l-.9-2.1-3.4-.4-.6 2.9 1.6 1.7 1.6 0 1.5-1.3zM276.3 36.3l1.2-.6 .4-.8-.2 0-.9-.2-.8-.2-.6 .3-.4 .2 .3 .8zM310.1 70.5l.1-.1 .1-.9-.8-1.1-1 0-.6 .5-.1 1.2zM245.9 63.3l-2.8-1-1.3 1.2 .3 2.9 .1 0 3.6-1.7 .3-.8zM293.4 79.4l2.2-.1 .2-1.2-1.7-1-.2 .1-.8 1.3zM283.7 74.9l-.2-1.6-1.8-.7-.2 .2 0 1.9zM293.7 72.6l-.8-.2-1 .4-.2 1.8 .5 .5 1.2-.5 .7-1.4zM300.4 75.2l-.7 .2-.4 1.5 .5 1.1 1.3-.2 .7-1.7zM278.6 82l.3 .1 2-.8-.5-1.2-1.2-.3-.9 .7-.1 .6zM295.6 85.5l.1-1.5-.1 0-2.2 .8 0 .1 1.1 1.3zM292.2 82.7l.8 .5 1.8-.6 .2-1.1-2-.8-1 1.7zM290.1 73.1l-.2 1.3 1.8 .2 .2-1.8-.7-.2zM252.6 34.5l.1-1.3-.6-.5-1.1 .6 .2 1.5 .2 .2zM284.5 56.6l1.3 .8 1.4-1.3-.1-.2-1.9-.7zM256.6 85.4l-1.5-.2-.5 1.8 .3 .4 1.6-.4zM286.9 89.3l1-1.6-2.4-.9 0 2.1 .1 .2zM279.5 83.3l-.6-1.2-.3-.1-1.2 1.3 .4 1.5 .5 .1zM265.3 69.4l-.4 1.7 1.1 .6 1.5-1.8-.6-.8zM283.4 52.2l.5 2 1.1 .1 .5-.5-.2-1.4zM202.3 52.3l2.1 2 3.4-1-.1-3.6-1.1-1-2.6 .4zM287 67.9l.7 1.2 1.2 .4 .7-.6-.1-1.1-1.2-1.1-.8 .4zM313.4 72.6l-2.1 .7 .3 1.1 .5 .4 .2-.3 .6-1.3 .7-.1zM267 58.3l.1 .7 .7 .4 1.5-.4 .1-.2-.7-1.6-.3-.1zM274 86.3l.9-.1 .4-1.8-.2-.4-.9-.3-1.2 1.3zM246.7 33.7l1.6 .5 1.2-1.3 0-1.1-.2-.1-1.1 0-1-.1-.6-.1zM280.9 48.9l.6-1.3-.9-1.1-1.6 1.4 0 .1 .9 .9zM272.7 62.2l-.2 1.5 .4 .4 2.1-.5-.7-1.9zM299.8 62.6l-.5 .6 .5 1.3 1.1 .7 .7-.2 .4-1-.9-1.4zM313.5 71.8l-.1 .8 .2 .5 .2-.1 .9-.2 .8-1.1zM255 39.8l1.3-1.3-1-1.2-1.5 .8 .8 1.7zM261.2 83.5l-.6-.3-1.3 1.4 0 .6 1 .7 1.4-.9zM279.6 41.3l.5 1.4 .4 .2 1.3-.8 .3-1.2-.3-.3-1.2-.3zM273.1 40.4l-1-1.2-.4 0-1 1.1 0 .2 1.1 1 .6-.1zM300 71.5l0 1.3 .9 .6 1.5-1.7-.8-1zM233.4 31.3l2 1.5 1.5-.4-.1-2-.9-.2-1-.1-1-.2-.2 0zM264.4 66l-1.8 .5-.1 .9 1 1.1 .8-.2 .5-.9-.3-1.4zM237 62.5l-1.2-2.4-1.6 0-1.5 3.3 .8 1.3 1.8-.1zM253.5 65.9l.1 .1 1.7 .3 .4-.4 0-1.7-1-.8-.4 .3zM296.9 74l-1.3 .4-.3 1.1 1.7 .8 .4-.9zM271 43.1l-.7-.3-1.8 .9 0 .6 1.7 1.1 .6-.3 .3-1.8zM236.7 45.7l-3-.8-1.7 3 1.9 .9 2.5-1zM287.4 62.4l-1.4 0 0 1.6 .7 .6 1.2-.1 .3-1.2zM250.2 90.6l1.3 1.1 .3 0 .8-1.4-1.4-1.1zM301.1 86l-.1 1.5 1 .8 1.2-1-.3-1.2-.8-.5zM271.3 58l-.4-.1-1.5 .9-.1 .2 .6 .9 1.6 0zM283.8 68.7l1.6 0 .6-.6-.9-1.2-1.7 .3zM261.1 94.8l-.8 1.2 .1 1.1 1.9 .2 .5-.8-.9-1.5zM283.5 54.5l-2-.4-.4 1.1 .7 1.1 1.5 .4zM299.5 51.1l2.1 .4-.3-1.5-.1 0-.7 .3-.8 .4-.4 .2zM254.2 73.2l.2-.2 0-.7-1.6-1.2-.8 1.1 .8 1.2zM250.8 47.6l-.3 1.1 1.4 .6 .9-1-.7-1.3zM313.7 56.9l-1 .7-.2 1.3 .3 .2 1.5 .1 .3-1.6zM310.1 65.3l-.7 1.2 .7 1 1.3-.1 .2-.6-1.1-1.5zM278.4 50.3l-1.1-1.1-.8 .4 0 1.4 1.5 .6 .2-.1zM263.4 96.4l-.6 .1-.5 .8 .2 1 .2 .2 .1-.1 1.1-.6 1-.5zM297.5 71.1l-1.2 .8 0 .5 .9 .9 1-.2 .1-1.6zM260.1 39.7l-.3 1.1 .2 .3 1.9 .4 0-.1 .1-1.5-1.1-.5zM243.6 44.6l.4-2.8-2.5-.5-1.1 1.5 .8 2.2zM279 86.4l1.3 .7 .9-.3 0-.2-.6-1.6-1.7 .4zM290 89l-.4-.1-1.2 1.3 .1 .2 .3-.1 1.3-.1 .6-.1zM267.2 86.6l-1.1 0-.4 1 .8 1 1.2-1zM267.5 69.9l-1.5 1.8 .3 .6 1 .4 1.1-1.2-.9-1.6zM285.5 86.8l-.1-.2-1.6 .5-.3 .5 .5 1.2 1.5 .1zM284.3 84.8l1.1 1.6 .9-.9 0-1.2-.9-.5-.9 .5zM297.8 85.4l-.1 .2 .6 1.1 1 0 .7-1.1-.4-.9zM259.4 74.8l.3 .1 1.2-1.2-.5-1-1.7 .3zM269.1 75l.4 1.5 1.2-.2 .2-1.9-.6-.3z"/>
<path fill="#0a7acd" stroke="#0a7acd" d="M205.1 68.5l.1-4.6-.7-.3-2.9 1.8 .1 .4 .7 1.2 .5 1.1-.2 .5zM209.5 70.9l3.9-.3-1.4-4.9-2.1 .3-1.8 2.9zM273.7 37.3l-.4-1.8-1.2-.5-1.1 1.5 .1 .3zM253.5 90.1l-.9 .2-.8 1.4 1.2 1.1 .3 0 .7-.8zM301.6 51.5l.2 .1 1-.3 .4-.7-.4-1.6-.1 0-.7 .5-.7 .5zM272.4 78.2l2.2-1.1-.4-1-1.6-.3-.9 1.1 .1 .8zM217.8 28.4l-4 .3-.8 1.2 1.3 3.2 4.6-.1 .1-.3zM233.5 64.7l-.4 1.3 2.1 2.8 2.4-1.6 .1-.6-2.4-2zM291.1 66.9l.6 1.7 1.6-.6 .1-.4-.7-1.7zM256.5 75l-.2 .7 .8 1.7 1.3-.3-.2-1.7-1.4-.6zM313.4 63.6l-1.2 .5 .7 2 .7 .2 1-1.1-.1-.4 .1-.1zM297.3 61.4l-.1 .5 .7 1.3 1.4 0 .5-.6-.3-1.6-.1-.1zM249.6 59.3l3 .3-.2-2.1-.1-.1-.7-.1-2 1.8zM207.7 49.7l3.6-.8 .8-3.3-1.2-1.5-3-.1-.9 .8-.4 3.9zM294.4 46.3l-1.8 0 .1 2.1 .5 .3 .3 0 1.4-1.5zM282.3 52.2l1-.1 .5-1.4-1.5-1-.4 .1-.3 .9zM254.5 74.5l2 .5 .3-.2 .1-.6-.7-1-1.8-.2-.2 .2zM210.2 34.8l-1.6-3.1-4.5 2.6 0 .2-.2 .6 4.2 2.7zM273.2 59.7l1.4 .7 .6-.5 .1-1.4-1-.8-.9 .3zM235.2 68.8l-.3 .9 2.1 1.6 2.2-.9 .3-.6-1.9-2.6zM247.5 50.3l-2.9-.9-.6 2.2 1.9 1.6 1.8-1.9zM307.4 49.3l-.1-1.3-1.6-.3-.6 1.4 .1 .4 1.4 .3zM264.3 88.9l-.9 .6-.1 .6 1.4 1 1.1-.5 .4-.9zM285.8 45.9l-.1 1.7 .4 .1 1.6-.8-.7-1.4zM296.1 67.4l2.3-.1 .3-.5-.4-1.2-1.1-.5-1.4 1.9zM310.5 58.6l-2-.1-.3 .9 .7 1.5 1.8-1.1 .2-.7zM258.5 98.8l1.9 .3-.1-1.9-1.9 .3-.3 .7zM246.6 56.8l-.8-1.3-2 .3-1.2 3.6 3.3 .3zM312 64.1l-1.5 1.2 1.1 1.5 1.3-.7-.7-2zM299.9 80.1l1.7-.1 .2-.2-.3-1.6-.4-.4-1.3 .2-.7 .9zM305.6 68.7l.6 1.9 1.3-.2 .3-.3 .1-1.2-1.7-1.1zM299.9 58l.2 .4 .3 .1 2-.5-.5-1.6-.3-.2-.8 .2zM301.6 70l-1.7-1-.9 .2 .3 1.9 .7 .4 1.6-.8zM306.5 45.8l-.1-.6-.4 .1-1 .1-.4 .1-.1 1.3 1 .5zM282.9 34.8l-.9-.4-.5-.3-.9 1.9 .6 .6 1.5-.2zM291.3 84.7l.9-2-.2-.3-1.6-.3-.7 .4 0 1.5zM255.2 94.4l-.7 .9 .7 1.7 1-.2 .6-.8-.3-1.3-.9-.4zM303.1 58l1.4-1.2-.7-.8-1.9 .4 .5 1.6zM299.3 71.1l-1 .4-.1 1.6 .5 .2 1.3-.5 0-1.3zM228.7 29l-.7-.1-3.5 2.1 1 3.5 2.3 .2 2.4-2zM247.6 37.7l-2.4-1.7-1.8 1.9 2.1 2.8 .1 0 2.1-2.7zM259 90.4l1.1-1.1-.6-1.4-.5-.1-1.2 1.3 .4 .9zM252 63.6l-.2 1.1 1.7 1.2 .8-2.2zM248.7 67.7l.1 .4 2.1 1 .9-.8-.1-1-.6-.3-2.2 .6zM254 92l-.7 .8 1.9 1.6 .4-.1 .3-1.3-.9-1.1zM265 81.2l-1.5-.6-.6 1.3 .2 .8 .8 .6 .3 0 .9-1.1zM305.5 54.2l.2-.1 .6-1.4-.4-.8-.6-.3-1.2 .7 0 .7 1.3 1.2zM256.7 58.7l.1-1.8-.3-.3-1.5-.1-.5 1 .6 1.4 1.3 0zM234.8 78l-1.9-.4-2 2.3 2.4 2.7 2.7-1.7zM270.9 37.8l.8 1.4 .4 0 1.8-1.5-.1-.3-.1-.1-2.6-.5zM271.3 66.1l.9 .2 .9-1.5-.2-.7-.4-.4-1 .1-.9 1zM240.4 42.8l1.1-1.5-.9-2.3-.6-.1-1.6 .9-.2 2.6zM294.7 45.4l-.3 .9 .5 .9 0 .1 1.3-.7-.1-.5-.2-.9zM270.9 53.5l.5 1.1 1.6-.6 .1-.2-.3-1-1.2-.7zM286.8 37.6l.4 .9 2-.4-.3-.6-.8-.3-.8-.3-.1 0zM274 71.5l-1.2-1.2-1.3 1.2-.1 .2 .5 .5 1.9 .1zM302.6 94l.5-.6-.1-.7-1.4-.9-.2 0-.4 1.1 .4 .3-.1 1.1zM297.5 71.1l.8 .4 1-.4-.3-1.9-.3-.1-1.2 .4-.1 .1zM325.9 38.2l-1.3-.5-.2 .1-.6 1.5 .8 .8 .4-.3 .6-.6 .6-.4zM281.7 88.8l1 1.5 .3 0 1-1.5-.5-1.2-1.6 .4zM308.2 66.6l0 .1 1.2-.2 .7-1.2-.9-.9-1.6 .4zM268.1 52.5l.3-1.9-1-.9-1 .5-.1 .4 .5 1.6 .9 .4zM306.1 60.3l1 1 1.7-.2 .1-.2-.7-1.5-2.1 .7zM286.2 42.7l-.2 1.1 1.2 1 1.1-.4 .2-.3-.4-1-1.8-.5zM312.7 61.3l-1.2 .3-.6 .9 1.1 1.6 .2 0 1.2-.5 .8-1.5-.2-.2zM262.2 75.1l-.2 .3 .9 1.9 .9-.5 .3-1.2-.8-.7zM267.7 87.6l-1.2 1-.1 1 1.3 .4 .7-.4 .5-1.6zM274.7 74.9l.6-.2 .5-1-.3-.6-1.6-.5-.4 1.3zM301.7 55.2l1.2-.8 0-.7-1.3-1.1-.9 .7-.1 .6zM300.8 56.4l.8-.2 .1-1-1.1-1.3-1.6 1.4zM303.6 91.7l1.2 .1 .7-1.4-1.7-.6-.9 .3zM297 76.3l0 .2 2.3 .4 .4-1.5-.7-.5-1.6 .5zM274.7 38.4l-.8-.7-1.8 1.5 1 1.2 .7 0zM293.1 78.5l.8-1.3-1.8-1.2-.9 .8 0 1.3zM302.9 86.1l1.5-1.1 .1-.5 0-.3-1.4-.8-1.1 1.1 .1 1.1zM256.7 58.7l-.3 .2 .6 2 1.5-.1-.2-2.1zM294.7 71l.6-.2 .3-.5-.4-1.3-1.3 0-.3 1zM282.3 49.7l.7-.9-.2-1.4-1.3 .2-.6 1.3 1 .9zM263.7 64.7l-1.5-.3-.5 1 .9 1.1 1.8-.5zM275.9 71.2l.3 .6 1.3 .4 1.3-1.2-.3-1.2-1.6 0zM305.1 49.1l.6-1.4-.2-.4-1-.5-1.1 .3 .2 .4 .3 .5-.2 .3-.3 .3zM285.9 76.9l.3-.1 .6-.5-.5-2.3-1.8 1zM256.9 74.2l1.6-1.3-.3-.9-1.3-.7-.2 .2-.5 1.7zM297.6 80.2l-1.7-.1-.5 1.1 1.9 1.1 .8-.8zM324.8 35.9l-.2 1.8 1.3 .5 .8-1.3-.3-.8zM226.8 82.6l1.1-.1 2-2.6-1.8-2.3-3.2-.2-1.2 1.2zM296.4 86.3l-.8-.8-1.1 .7-.2 .9 .2 .3 1.8-.2zM253.5 53.5l-.2-1.6-1.7-.2-.7 2zM255.3 49l.4 1.2 1 .3 .6-1.5-1.5-.5zM293.4 41.9l.7 1.9 1.1-.5-.1-.5-.4-1.1-.6-.3zM242.7 55.2l-.4-2.9-1.6-.6-.5 .3-.8 2.3 1.3 1.3zM237.4 54.7l2-.4 .8-2.3-2.7-1-1.3 .7zM288.7 85.2l1.8 1.3 .1-.1 .7-1.5 0-.2-1.6-.7zM305 62.1l.3 .4 1.5 0 .3-1.2-1-1zM274.4 34.9l-.3-.2-.7-.3-1-.5-.4-.2 .1 1.3 1.2 .5zM293.4 67.6l2.2-.7-.8-1.2-2-.1-.1 .3zM264.3 86.1l-1.3-1.1-.8 .3 .2 2 1.5-.3zM264.5 56.1l-.1-.2-1.6-.9-.7 1.3 1.2 1.1 .9-.3zM314.2 62.1l-.8 1.5 1.2 1.1 .4-1.5 .3-.9zM306.2 67.3l-.5-.6-2 .4 0 .6 .8 1 1.1 0 .6-.9zM255.7 83.4l-.1-.8-2.1 0 .5 1.9 .6 .1zM248.8 84.2l-1.2 .8 .7 3 1.1-.2 .9-1.4-.6-1.8zM207.9 74.1l.3 .2 .4 .6 2.2 .4 3-2.5-.3-2.1-.1-.1-3.9 .3zM303.8 89.8l1.7 .6-.3-.6-.7-1.5-.1-.4zM281.5 74.7l0-1.9-1.9 .6-.5 .8 1.9 1zM318.5 50l-.3 1.4 .8 .6 .9-.5 .4-.4-.8-1.1zM279.2 56.5l.7-1-1.4-1.5-1 1 .4 1z"/>
<path fill="#086fc7" stroke="#086fc7" d="M240.3 46.3l.1 1.4 .8 .7 3 .2 1.2-2.4-1.8-1.6-2.4 .4zM223.4 30.5l1.1 .5 3.5-2.1-.2-.1-1-.2-1-.2-1-.2-1-.2-1-.2-.1 0zM273.5 47.8l-.6 1 .4 .9 1.4 0 .5-.5-.3-1.3-.2-.2zM240.4 47.7l-2.5 1.3-.4 2 2.7 1 .5-.3 .5-3.3zM270.6 91.9l1.3-1.5-1.5-.7-.8 .6 0 1.7zM297.9 63.2l-.9 1.1 .2 .8 1.1 .5 1.5-1.1-.5-1.3zM263.3 36.6l-.1-1.4-1.1-.4-1.2 1 .2 1zM290.5 56l-1.1-1.2-.1 0-1.5 1.5 .8 1.1 1 .2zM217.8 28.4l1.2 4.3 4.4-2.2-.7-2.7-1-.2-1-.2-1-.3-1-.2-.1 0zM248.8 35.2l-1.2 2.5 .1 .3 1 .3 1.9-1 .1-.4-1.7-1.6zM207 44.8l.9-.8-.8-4-4.1 .3 0 3.4zM295.6 70.3l-.3 .5 1 1.1 1.2-.8-.1-1.5zM284.8 91l.8-.1 1.1-.1 .3-1.3-.1-.2-1.3-.2zM231.9 38.2l-2.6 .5-1.6 2.3 1.3 1.7 4.3 .1 .9-1.1 0-1zM302.3 69l-.1 .5 1.7 .3 .6-1.1-.8-1zM281.7 59l-.9-.8-1.8 1.1-.1 .4 .4 1.1 1.6-.2zM237 81.1l1.6 3 3-.5 .5-1-.3-2.4-1.4-1.5-.7 .1zM324.1 35.3l.2 0 .6-1.5 0-.1-.4-.5-2 .1-.3 .7 .1 .5zM303 92.7l.6-1-.7-1.6-.2 0-1.1 1.7zM310.2 75.3l-.7-.5-1.2 .3-.4 1.1 .3 .8 1 .2 .8-1.1 .3 0zM307.3 48l.9-.7-.2-.9-1.5-.6-1 1.5 .2 .4zM237.5 42.9l0 2.3 2.8 1.1 .9-1.3-.8-2.2-2.2-.4zM277.9 56l-.4-1-.3-.1-1.8 1.2 1.5 1.5 .1 0zM272.6 79l-1.1 1.5 .6 1 2-.3 .1-1.4zM251.6 36.3l1.3 .5 .9-1.4-1.2-.9-1.2 .5zM298.7 69.1l-.3-1.8-2.3 .1 0 .4 1.4 1.7zM277.3 87.3l-1.4 1.5 0 .3 .9 1.1 .7-.2 1.1-1.5-.6-1zM308.4 102.8l.7-.1 .2-1.5-.4-.7-.8-.3-1.2 .4-.1 .9zM276.8 90.2l-.4 .9 .3 1.1 2.4-.1-.2-1.2-1.4-.9zM208.6 31.7l.2-.9-.5-.8-3.1-.8 0 .5-.1 .9-.4 1.4-.2 1.4-.4 .9zM309.2 64.4l.5-1.8-.4-.3-2 .8-.2 1.3 .2 .3 .3 .1zM294.9 89.4l-.1 2.6 .2 0 .9-.8 .8-.8-.7-1zM323.8 39.3l-.8 .1-.7 1 .4 1.4 .1 .1 .1-.2 .6-.7 .8-.6 .3-.3zM278.2 51.5l-.2 .1-.2 1 .8 1.2 1.8-.9-.5-1.2zM260.4 66.7l.6-1-1.7-1.3-.6 1.8 .6 .6zM307.1 64.4l-2.1-.3-.4 .3 1.1 2.3 1.6-2zM270.6 91.9l-1 .1-.1 .2 .3 1.7 1.1-.5 .9-.2 .4-.1zM300.6 91.3l-.2-1.6-1.3-.5-.1 .1-.7 1.4 .9 .8 .4 .3zM296.3 87.2l-1.8 .2-.2 1.3 .3 .6 .3 .1 1.1 0 1.1-1.2zM256.7 50.5l.2 .3 1.7 0 .1-.1-.3-2.2-1.1 .5zM301.9 56.4l1.9-.4 0-.9-.9-.7-1.2 .8-.1 1zM212.4 40.9l-1.5 3.2 1.2 1.5 2.8 0 1.9-2.8-.3-.9zM276 40.1l-1-1.7-.3 0-.9 2 1 .9zM285 54.3l-1.1-.1-.4 .3-.2 2.2 .1 .1 1.1-.2 .7-1.4zM308.3 98.2l1.5-.1-.4-.7-.5-1.2-.4-.8-.6 1 .1 1.6zM202.4 44.2l.6-.5 0-3.4-.8-.9 0 .2-.9 1.2-.9 1.2 .1 1.3 0 .7zM285.6 40.5l0-1.3-.9-.7-.8 .2-.3 1.9 .7 .6zM290.8 69.2l.1 1.7 1.5-.1 .3-.5-1-1.6zM208.6 31.7l1.6 3.1 2.5 .4 1.6-2.1-1.3-3.2-4.2 .9zM294.1 73.2l-.7 1.4 1.2 1.2 .7-.3 .3-1.1-1-1.1zM304.5 74.1l-.1 1 1.5 .7 .2-.1 .2-1.2-.7-.8zM240.1 57.3l.6-1.7-1.3-1.3-2 .4-.8 1.2 .9 2.1zM285.6 89.1l-.1-.2-1.5-.1-1 1.5 .9 .8 .3-.1 .6 0zM297.2 65.1l-.2-.8-1.4-.4-.4 .2-.4 1.6 .8 1.2 .2 .1zM276.6 43.8l-2.5-.5 .6 2.6 .9-.3zM315.5 55.3l.7 1.9 .2 .1 .3-.5 .4-1.4-.1-.8zM299.9 58l-1.8-.9-.8 2 1.6 .6 1.2-1.3zM268.1 80.3l.6 1 .9 .3 1.3-1.2-1.4-1.6-.2-.1-.9 .6zM317.2 51.6l1-.2 .3-1.4-.9-.8-.7 .4-.3 1.4zM318.9 41.8l.3-.3-.2-2.2-1-.2-.8 .7-.1 1.1zM248.2 70.2l1.7 1 1.2-1.1-.2-1-2.1-1zM289.3 71.2l-.1 1.1 .9 .8 1.1-.5-.5-1.5zM278.6 88.5l-1.1 1.5 1.4 .9 1.1-1 0-.7-.4-.5zM301.5 67.5l-.8-.2-.8 1.7 1.7 1 .6-.5 .1-.5zM248.5 49l-.6-2-2.5-.8-1.2 2.4 .4 .8 2.9 .9zM279.3 44.8l1.2-1.3 0-.6-.4-.2-1.6 .2-.8 1.1zM272.9 91.5l-1-1.1-1.3 1.5 1.6 1.2 .3 0zM279.6 65.5l-.6-2.2-.7 .1-1 1.6 1.9 .8zM260.8 89.5l.7 1.2 .8 .3 1-.9 .1-.6-1.2-1.3zM252.1 47l.7 1.3 .9 .1 .8-1.6-.2-.5-2 .1zM324.3 31.8l-1.1-.4-.9 1.1 .2 .8 2-.1zM213.8 37.1l-1.1-1.9-2.5-.4-2.1 3 .1 .7 4 1.8zM279.1 78.8l.1 1 1.2 .3 1-1.2-.2-.7-1-.4zM291.2 72.6l.7 .2 1-.4-.5-1.6-1.5 .1-.2 .2zM304.1 98.9l-.4-1.5-1.5 .4 .5 .6 .8 1.2zM302.7 90.1l-.8-.8-1.5 .4 .2 1.6 .8 .5 .2 0zM308.4 51.4l.3-1.6-1.3-.5-.8 .5 .3 1.2 1.5 .4zM322.2 44.4l-.7 1.2 .4 .8 .9 .3 .4-.2 .3-.9-.7-.3 .1-.8-.3-.2zM263.6 50.5l.8-1.2-.9-1.2-1.2 .4-.3 .6zM327.2 34.6l-.4-1-.9-.7-.1-.1-.9 .9 0 .1zM300.6 91.3l-1 .5 .8 .8 .6 .3 .4-1.1zM302.4 58l-2 .5 .9 1.8 .4 .1 .5-.3zM280.6 46.5l.1-.4-1.2-.7-1.2 1.1 .7 1.4zM204.5 63.6l-1.6-2.3-2.2 .1 .1 .1 .6 .5-.4 .7 .3 1.5 .3 1.2zM322.9 48.2l-2 .4 .6 1.2 .3 0 .6-.9 .8 .1 .3-.1z"/>
<path fill="#0865c0" stroke="#0865c0" d="M227.8 34.7l-2.3-.2-1.2 1 .3 3.8 2.3 1.7 .8 0 1.6-2.3zM242.4 59.5l.2-.1 1.2-3.6-1.1-.6-2 .4-.6 1.7 2.1 2.2zM233.7 44.9l-.4-2.1-4.3-.1-.1 5 1.6 .6 1.5-.4zM307 56.5l.7-.7-.4-1.2-1.6-.5-.2 .1 .2 2.1zM216.2 37.5l2.9-3.5-.2-1-4.6 .1-1.6 2.1 1.1 1.9zM271.9 90.4l1 1.1 1.4-.3 0-1.2-.8-.6-1.3 .5zM307.3 63.1l-.5-.6-1.5 0-.3 1.6 2.1 .3zM230.2 32.7l3.2-1.4 .3-1.4-.8-.2-1-.1-1.1-.2-1-.2-1-.2-.1 0zM278 87.5l.6 1 1 .2 .7-1.6-1.3-.7zM224.3 35.5l-3.7-.2-.2 4.1 .9 .7 3.3-.8zM233 35.9l-2.8-3.2-2.4 2 1.5 4 2.6-.5zM320 37.4l.6-.1 .8-1.4-1.1-.6-.4 1 0 .5-.7 0zM301.3 60.3l-1.8 .7 .3 1.6 1.3 0 .7-.8-.1-1.4zM202.1 47.5l.3-3.3-1.9-.2 0 .7-.3 .7-.2 1.2-.2 1.2-.4 .4zM311.8 55.2l-2 0-.4 .7 1.2 1.5 1.1-.6zM320.9 48.6l2-.4-.1-1.5-.9-.3-1.4 1.3-.1 .6zM319.6 39.1l1 .4 1.3-1.2-1.3-1-.6 .1zM306.7 92.8l-.2 1.9 2 .7-.2-.4-.5-1.2-.7-.8-.2-.3zM318.5 48.1l-.8 .7-.1 .4 .9 .8 1 0 .9-1.7zM322.3 32.5l.9-1.1-.3-1.1-.2-.1-1.6 .5-.2 .9 0 .2zM245.8 55.5l.2-.4-.1-1.9-1.9-1.6-1.7 .7 .4 2.9 1.1 .6zM303.6 96l-1-2-1.3 .3 0 .1 0 1.1 .2 .6zM318.2 51.4l-1 .2-.3 1.4 .9-.3 1-.6 .2-.1zM314.3 44.4l-1-.9-.7-.1-.9 1.6 .2 .6 1.3 .4zM313.8 56.3l-1.1-1-.9-.1-.1 1.6 1 .8 1-.7zM233.3 42.8l.4 2.1 3 .8 .8-.5 0-2.3-3.3-1.2zM305.4 59.3l.7 .8 2.1-.7 .3-.9-.1-.2-1-.5-1.8 1zM325.8 32.8l-.3-1-.2-.8-1 .8 .2 1.4 .4 .5zM236.1 39.2l.1-2.5-2-1.1-1.2 .3-1.1 2.3 2.3 2.5zM302 64l-.4 1 1.4 1 1.5-1.6-1.3-1zM209.1 25l-.5 .2-.2 1.2-.8-.2-.8-.3-.7-.5-.7-.6-.1 1.3-.1 1.3 0 1.1 0 .7 3.1 .8zM305.2 49.5l-.1-.4-1.7-.5-.6 .4 .4 1.6 1.7-.4zM308.4 58.3l.9-2.4-1.6-.1-.7 .7 .4 1.3zM276.4 91.1l-1.9 .2 .2 2.1 1.9-.8 .1-.4zM315.2 48.3l.5-.8-.5-.9-1.6 .1-.5 1.2 .3 .4zM243.4 33.6l-1.8 .5-.2 .5 1 3.2 1 .1 1.8-1.9-.1-1.4zM320.4 41.2l.5-1.1-.3-.6-1-.4-.6 .2 .2 2.2zM279 93.6l-1.7 .5 0 .2 .6 .2 1.1 .6 .5-.1zM300.7 67.3l-.3-.5-1.7 0-.3 .5 .3 1.8 .3 .1 .9-.2zM213.8 28.7l4-.3 .8-1.5-.9-.3-1-.2-1-.3-1-.2-1-.3-1-.2-.4-.2zM319.5 50l.8 1.1 .3-.2 .7-.6-.4-.6 .6 .1-.6-1.2-.5-.3zM311.7 56.8l-1.1 .6-.1 1.2 .4 .5 1.6-.2 .2-1.3zM256.4 61.6l.6-.7-.6-2-1.3 0-.4 .5 .7 2.3zM316.6 51l.3-1.4-1.4-.4-1 1.2 .2 .8zM304.9 94.6l-.3-.9-1.5-.3-.5 .6 1 2 .1 0zM276.2 69l.7 .8 1.6 0 .3-.4 0-.4-1-1.6-.2-.1-1.3 .8zM273.5 89.4l.8 .6 1.6-.9 0-.3-.7-.6-1.5 0zM322.7 41.8l-1.2 .4-.5 1.2 1.2 1 .4-.1-.3-.3 .2-.9 .3-1.2zM280.5 92.6l-1 0-.5 1 .5 1.4 .5 0 .9-.2 .5-.3zM316.9 49.6l.7-.4 .1-.4-1.3-1.3-.7 0-.5 .8 .3 .9zM291.7 68.7l1 1.6 .9-.3 .3-1-.6-1-1.6 .6zM305.2 49.5l-.3 .7 .4 1.4 .6 .3 1-.9-.3-1.2zM282.4 45.9l.4 1.5 1.3-.3 .1-1.5-1.1-.3zM288.9 69.5l.1 1.5 .3 .2 1.4-.1 .2-.2-.1-1.7-1.2-.3zM300.9 65.2l-1.1-.7-1.5 1.1 .4 1.2 1.7 0zM220.6 35.3l-1.5-1.3-2.9 3.5 1.3 2.6 2.9-.7zM303.7 67.1l-.6-.7-1.6 1.1 .8 1.5 1.4-1.3zM287.1 49.1l.5 0 1-.9-.6-1.2-.3-.1-1.6 .8zM251.9 62.6l1.6-.9-.4-1.8-.4-.2-1.5 1.8zM308.9 100.5l.4 .7 1-.1-.1-1-.2-.9zM202.7 68.6l-.3 1 .3 .8 1.1 .3 1.1 .4 .2 .3 .4-2.4-.4-.5zM322.7 30.2l-.2-.6-.1 .1-.9-.5-.3 1.2-.1 .3z"/>
<path fill="#085ab8" stroke="#085ab8" d="M236.7 45.7l-.3 2.1 1.5 1.2 2.5-1.3-.1-1.4-2.8-1.1zM305.7 56.3l-.2-2.1-.1 0-1.6 .9 0 .9 .7 .8 .5 .1zM300.9 65.2l-.5 1.6 .3 .5 .8 .2 1.6-1.1-.1-.4-1.4-1zM312.1 41l.3 .3 2.1-.1 .2-.4 0-.4-1-1.2-.9 .2-.5 .1zM223.2 44.9l1.2 2.2 3.2 1 1.3-.4 .1-5-1.3-1.7-.8 0zM318.9 42.3l0-.5-1.8-.9-.3 .2-.4 2 .9 .5zM306.9 51l-1 .9 .4 .8 1.1 .1 1-1.4zM233.9 48.8l1.4 2.8 .9 .1 1.3-.7 .4-2-1.5-1.2zM320.4 48.3l.1-.6-.9-1.5-1.4 .3 .3 1.6 1.9 .2zM224.5 31l-1.1-.5-4.4 2.2-.1 .3 .2 1 1.5 1.3 3.7 .2 1.2-1zM272.4 45.8l2.2 .2 .1-.1-.6-2.6-.1 0-.2 0-.4 .2zM208.3 30l.5 .8 4.2-.9 .8-1.2-1.5-3.5-.6-.1-1-.3-.9-.3-.4-.1-.2 0-.1 .3 .2 .2-.2 .1zM306.8 101.5l.1-.9-.7-.6-1.3 .8 .6 1.3 .4 .5zM232 47.9l-1.5 .4 .7 5.2 1.2 .6 2.9-2.5-1.4-2.8zM323.2 46.5l-.4 .2 .1 1.5 .6 .7 .4 0 .6-.1 .9-.3-.2-1.2-.1-.2zM313.4 48.3l-.3-.4-1.6 .2-.2 .5 1 1.6 1.2-.5zM314.6 53.9l.9 1.4 1.5-.7-.1 0-.1-.9-.2-.6 .3-.1-1.6-.2zM280 89.2l0 .7 1.4 1.4 1.3-1-1-1.5zM277.3 94.1l-.7-1.5-1.9 .8-.1 .2 .5 .1 1.4 .3 .8 .3zM320.1 43.6l-1.2-1.3-1.6 1.3 .3 1 2.2 0zM314.5 50.4l-1-.7-1.2 .5-.3 1 1.1 .7 1.6-.6 0-.1zM209.2 24.4l-.2-.1-.2-.1 .3 .5zM316.8 41.1l-2.1-.3-.2 .4 .1 .6 1.4 1.4 .4-.1zM318 39.1l-.3-1-.9 .3-1 .2-.1 0 .2 .7 1.3 .5zM310.5 41.3l.3 1.7 1.6 .2 0-1.9-.3-.3zM303.7 97.4l.3-.7-.3-.7-.1 0-2.1 .1 0 .3 .3 .9 .4 .5zM320.9 40.1l-.5 1.1 1.1 1 1.2-.4-.4-1.4zM313.2 46l-1.3-.4-1.1 1.5 .7 1 1.6-.2 .5-1.2zM322.9 30.3l.3 1.1 1.1 .4 1-.8-.2-.4-.4-1.2-.1 0zM303.7 97.4l.4 1.5 1.8 .3 .4-.8-.6-1.5-1.7-.2zM282.1 94.5l1.1 .6 1-.3-.4-.7-1-.3zM310.9 51.4l-.8-1.8-.8-.1-.6 .3-.3 1.6 .8 .5zM322.2 34l.3-.7-.2-.8-1.4-.7-.2 1-.3 .7 0 .3zM307.9 96.4l.6-1-2-.7-.4 .3-.2 1.7zM315.5 49.2l-.3-.9-1.8 0 .1 1.4 1 .7zM323 39.4l.8-.1 .6-1.5-1.6-.6-.8 1.1zM306.3 98.4l1.7-.4-.1-1.6-2 .3-.2 .2zM303.2 50.6l-.4 .7 1.3 1 1.2-.7-.4-1.4zM323.2 46.5l1.9 .6-.3-1-.6-.4-.5 0-.2-.1zM326.7 36.9l-.8 1.3 .3 .6 .4-.3 .5-.6 .5-.6 .1 0zM321.9 38.3l.1 0 .8-1.1-.1-.5-1.2-.8-.1 0-.8 1.4zM318.5 48.1l-.3-1.6-.5-.3-1.3 1.3 1.3 1.3z"/>
<path fill="#0a4baa" stroke="#0a4baa" d="M301.1 62.6l.9 1.4 1.2-.6 0-1.1-1.4-.5zM311.8 53.6l1.2-.6 .1-1.1-1.1-.7-.9 .3 0 1.5zM202.3 52.3l1.7-3.2-1.9-1.6-2.7 .7-.2 .4-.7 .8 .4 1.2 .4 1.3-.2 .7zM317.7 46.2l-.3-.9-1.9 .3-.3 1 .5 .9 .7 0zM282.8 93.8l0-.9-1.7-.9-.6 .6 .9 1.9 .3-.2 .4 .2zM321 43.4l-.9 .2-.3 1 .3 .7 1.4 .3 .7-1.2zM309.5 45.4l-.7 0-.8 1 .2 .9 .8 .4 1.7-.7zM303.7 60.4l.8-.9-1.4-1.5-.7 0-.2 2.1zM279.1 92.1l.4 .5 1 0 .6-.6 .3-.7-1.4-1.4-1.1 1zM321.5 42.2l-1.1-1-1.2 .3-.3 .3 0 .5 1.2 1.3 .9-.2zM306.5 106.3l.2-.1 1-.3 .6-.5-.8-.9 0 .4-.9 .5-.5 .2zM321.4 35.9l.1 0 .8-1.4-.1-.5-1.8-.2 .1 1.2-.2 .3zM306.1 95l.4-.3 .2-1.9-1.4 0-.7 .9 .3 .9zM311.3 48.6l.2-.5-.7-1-.1-.1-1.7 .7 .3 1.8 .8 .1zM313.1 51.9l-.1 1.1 1 .9 .6 0 .7-1.1-.6-1.5zM308.1 53.7l-.8 .9 .4 1.2 1.6 .1 .1 0 .4-.7-.4-1.4zM301.7 60.4l.1 1.4 1.4 .5 .7-.6-.2-1.3-1.5-.3zM318 39.1l1 .2 .6-.2 .4-1.7-.8-.6-.3 .1-.2 1-.9 .2-.1 0zM316 43.2l-1.4-1.4-1.3 1.7 1 .9 .4 .1zM308.4 102.8l-1.6-1.3-.9 1.1 .6 .5 .8 1zM304 96.7l1.7 .2 .2-.2 .2-1.7-1.2-.4-1.2 1.4zM306.1 105.6l-.3 .2-1.1 .7 1 .1 .8-.3zM311.9 45.6l-.2-.6-1.3-.5-.9 .9 1.2 1.6 .1 .1zM234.2 41.7l3.3 1.2 .7-.5 .2-2.6-2.3-.6-1.9 1.5zM309.4 53.8l1.7-.8 0-1.5-.2-.1-1.7 .5 .2 1.9z"/>
<path fill="#0a3c9b" stroke="#0a3c9b" d="M217.5 40.1l-1.3-2.6-2.4-.4-1.6 3.2 .2 .6 4.1 1zM304.5 56.8l-1.4 1.2 1.4 1.5 .9-.2 .2-.5-.6-1.9zM306.3 52.7l-.6 1.4 1.6 .5 .8-.9-.7-.9zM313 53l-1.2 .6 0 1.6 .9 .1 1.3-1.4zM311.7 45l.9-1.6-.2-.2-1.6-.2-.7 .4 .3 1.1zM322.8 37.2l1.6 .6 .2-.1 .2-1.8-.5-.6-.2 0-1.4 1.4zM309.1 102.7l1 .8 .1-.2 .1-1.7 0-.5-1 .1zM305.5 90.4l-.7 1.4 .5 1 1.4 0 .2-.1-.4-.6-.7-1.1-.3-.6zM224.6 39.3l-3.3 .8 .3 4.2 1.6 .6 3.7-3.9zM315.5 45.6l-.8-1.1-.4-.1-1.1 1.6 .4 .7 1.6-.1zM304.5 64.4l-1.5 1.6 .1 .4 .6 .7 2-.4-1.1-2.3z"/>
<path fill="#08287d" stroke="#08287d" d="M216.8 42.8l3.5 1.9 1.3-.4-.3-4.2-.9-.7-2.9 .7-1 1.8zM309.1 102.7l-.7 .1-1.1 1.3 .1 .1 .1 .3 .8 .9 .3-.2 .9-.7 .6-1zM309.2 51.9l-.8-.5-1 1.4 .7 .9 1.3 .1zM276.6 92.6l.7 1.5 1.7-.5 .5-1-.4-.5-2.4 .1zM306.2 100l-.3-.8-1.8-.3-.6 .7 1.3 1 .1 .2z"/></g>
<use href="#bd" fill="none" stroke="#000" stroke-width=".62" stroke-opacity=".9"/>
<use href="#ol" fill="none" stroke="#000" stroke-width=".5" stroke-opacity=".75"/>
<g><rect x="345.1" y="13.3" width="5.3" height="104.5" fill="url(#cb)" stroke="#333" stroke-width=".3"/><path d="M350.4 117.80h1.2" stroke="#333" stroke-width=".3"/><text x="352.9" y="119.80" font-size="2.9">0</text><path d="M350.4 96.90h1.2" stroke="#333" stroke-width=".3"/><text x="352.9" y="98.90" font-size="2.9">20</text><path d="M350.4 76.00h1.2" stroke="#333" stroke-width=".3"/><text x="352.9" y="78.00" font-size="2.9">40</text><path d="M350.4 55.10h1.2" stroke="#333" stroke-width=".3"/><text x="352.9" y="57.10" font-size="2.9">60</text><path d="M350.4 34.20h1.2" stroke="#333" stroke-width=".3"/><text x="352.9" y="36.20" font-size="2.9">80</text><path d="M350.4 13.30h1.2" stroke="#333" stroke-width=".3"/><text x="352.9" y="15.30" font-size="2.9">100</text></g>
<text x="264.4" y="18.7" font-size="3.8" text-anchor="middle" fill="#222">Infrastructure</text>
</g>
<g transform="translate(182 0)">
<g stroke-width=".2" stroke-linejoin="round"><path fill="#f3f9fe" stroke="#f3f9fe" d="M258.2 100.8l.1 0 1.4 0 .8-1.5-.1-.2-1.9-.3zM246.6 66.8l-1.5 2 1.2 2.3 1.9-.9 .6-2.1-.1-.4zM285.5 53.8l-.5 .5 .2 .9 1.9 .7 0-2zM251.5 82.2l.5 .5 1.3-.2 .3-1.3-1-.9-.9 .4zM297.3 82.3l-1.9-1.1-.4 .3-.2 1.1 .8 1.4 .1 0 1.2-.2 .3-.4zM265.3 59.7l-.5-.6-1.7 .3 .2 1.8 1 0zM255.4 54.4l1.3 0 .4-1.6-.6-.6-.8 0-.9 1.5zM261 81.2l.2 0 .8-1.6-1.7-.8-.9 .3 0 1.1zM257.1 46.5l1.3 1.1 1.3-1.8 0-.9-.2-.1-.7 0-1.8 1.2zM290.2 50.3l-.9-2-.7-.1-1 .9 .9 1.6 .6 .1zM261.6 46.8l.8-.9-.8-1.4-1.9 .4 0 .9 1.4 1.1zM280.4 65.4l.8-1.9-.1-.3-1.5-.4-.6 .5 .6 2.2zM283.4 83.2l.9-1.2-.3-.9-1-.4-1.4 1 0 .2 1.2 1.4zM306.3 74.5l-.2 1.2 1.8 .5 .4-1.1-.6-1.2zM272.6 75.8l-.2-1.4-.6-.3-.9 .3-.2 1.9 1 .6zM278.7 76.4l.3-2.1-1.1-.3-1.3 1.7 0 .1 1.9 .7zM259.4 62.6l.2 .9 2.4 .1-.8-2.2zM263.3 38.6l-2-.6-.4 1.4 1.1 .5 1.4-.9zM256.9 87.3l1.4-.2 .1-1.2-1.6-.7-.2 .2-.1 1.6zM256.7 58.7l.1-1.8-.3-.3-1.5-.1-.5 1 .6 1.4 1.3 0zM289.7 82.5l-.4-.1-1.7 .8-.1 .6 1.1 1.4 .1 0 1-1.2zM269.9 62.2l1.6 1.6 1-.1 .2-1.5-.7-.9-2.1 .8zM271.3 66.1l.9 .2 .9-1.5-.2-.7-.4-.4-1 .1-.9 1zM270.7 40.5l-.9 1.3 .5 1 .7 .3 .8-1.6zM258.4 48.5l.3 2.2 1.7 .1 .4-.4 .2-.9-1.1-1.1-1.3-.2zM274 71.5l-1.2-1.2-1.3 1.2-.1 .2 .5 .5 1.9 .1zM291.9 48.5l.8-.1-.1-2.1-.3-.3-1.4-.1-.3 .3-.1 1.2zM273.9 72.6l-.1-.3-1.9-.1-.1 1.9 .6 .3 1.1-.5zM258.7 77.3l.7 1.8 .9-.3 .9-1.3-.7-1.3zM285.6 40.5l0-1.3-.9-.7-.8 .2-.3 1.9 .7 .6zM260.8 68.6l-.4 .2-.5 1.8 1.1 .8 .1-.1 1.3-1.6zM256.8 96l-.6 .8 1.1 1.5 .8-.1 .3-.7-.2-1.2zM262 63.6l1.2-.8 .1-1.5-2 0-.1 .1zM304.2 81.3l-.2-.1-1.2 1.2 .3 1 1.4 .8 .5-1.3 .2-.2zM276.2 81.5l2-.4 .1-.6-1.4-1.3-.9 .5zM271.1 43.3l-.3 1.8 1.5 .8 .1-.1 1-2.3zM250.3 77.8l-1.3 .1-.3 .3 .9 2.2 1.3-.4 .4-1.6zM273.1 64.8l-.9 1.5 .4 .6 2 .1-.1-1.3zM280.9 60.6l-1.6 .2 .3 2 1.5 .4 .9-.8 .1-.7zM268.1 80.3l.6 1 .9 .3 1.3-1.2-1.4-1.6-.2-.1-.9 .6zM260.7 56.7l1.4-.4 .7-1.3-.1-.5-1.1-.3-1.3 1.5zM264.4 66l-1.8 .5-.1 .9 1 1.1 .8-.2 .5-.9-.3-1.4zM264.3 68.3l1 1.1 1.6-.3 .2-1.7-2.3 0zM287.4 62.4l-1.4 0 0 1.6 .7 .6 1.2-.1 .3-1.2zM269.3 69.3l.6 .3 .5 0 1-.9-1.2-1.6-.9-.1-.5 .4zM279.6 65.5l-.6-2.2-.7 .1-1 1.6 1.9 .8zM254.6 98l1.7 1.2 1-.9-1.1-1.5-1 .2zM291.3 84.9l1.4 .4 .7-.4 0-.1-.4-1.6-.8-.5-.9 2zM275.3 84.4l-.4 1.8 .3 .3 1.6 0 .4-1.3zM281.6 81.9l0-.2-.7-.4-2 .8 .6 1.2 1 .3zM282.9 85.3l1.4-.5 .2-.5-1.1-1.1-.6 .1-.5 1.1zM248.8 84.2l-1.2 .8 .7 3 1.1-.2 .9-1.4-.6-1.8zM293.1 51.8l1.6 .4 0-.8 .7-.5-.7-.5-1.7 1.2zM279.2 56.5l.7-1-1.4-1.5-1 1 .4 1zM269.2 52.8l1-1.3-.7-1-1.1 .1-.3 1.9z"/>
<path fill="#e6f3fc" stroke="#e6f3fc" d="M263.9 43.3l-2 .6-.3 .6 .8 1.4 .7 .1 1.4-1.9 0-.1zM263.5 93.8l.9 1.2 .8 .1 .7-1.6-.3-.5-1.1-.4-.9 .5zM269.5 39.8l1.2 .5 1-1.1-.8-1.4-1.4 .6zM305.2 77.5l-1.4-.3-.6 .9 .5 1.7 1.8-1.1 .1-.6zM273.5 47.8l-.6 1 .4 .9 1.4 0 .5-.5-.3-1.3-.2-.2zM251.2 88.6l-1.8-.8-1.1 .2-.3 .5 .1 1.6 .9 .7 1.2-.2 1-1.4zM272.6 79l-.2-.8-.6-.5-2.3 1.1 1.4 1.6 .6 .1zM263.3 36.6l-.1-1.4-1.1-.4-1.2 1 .2 1zM281.7 59l-.9-.8-1.8 1.1-.1 .4 .4 1.1 1.6-.2zM294.4 46.3l.3-.9-.8-1.4-.8 .2-.8 1.8 .3 .3zM297.2 61.9l.1-.5-.7-1.6-1.5 1.2 .1 .9 .4 .4zM265.3 85.5l-1 .6-.4 .9 .7 .8 1.1-.2 .4-1zM253.6 53.6l-.1-.1-2.6 .2-.2 .1 .7 1.2 1.7 .3zM272 61.3l0-1-.5-.4-1.6 0-.5 1.4 .5 .8zM274.2 76.1l.5-1.2-1.2-1-1.1 .5 .2 1.4zM250.3 86.4l1.2 0 .7-1.4-.6-.6-1.9 .2zM256.4 45.2l-1.7-.2-.4 1.3 .2 .5 1.3 .6 1.3-.9-.1-.5zM260.9 53.1l1.7-1.3-1.8-1.4-.4 .4-.3 2.1zM293.4 84.8l2.2-.8-.8-1.4-1.8 .6zM255.9 93l-.3 1.3 .9 .4 1.3-.5 .1-1.7-.7-.3zM258.6 57.3l-.5-.6-1.3 .2-.1 1.8 1.6 0 .1 0zM286.9 81l-.3 1 1 1.2 1.7-.8-1.4-1.7zM253.7 77.7l1-.3 .1-.7-1-1.3-.9 .1-.4 .6 .1 .9zM308.2 77l-.5 .5 .2 2.1 .1-.2 .8-.9 .2-1 .2-.3zM251.1 65.1l0 1.9 .6 .3 1.4-.5 .5-.8-.1-.1-1.7-1.2zM266.6 61.6l-1.5 .4-.3 1.3 1.1 .7 .5-.1 .8-1.1-.2-1zM263 85l.9-1.7-.8-.6-1.9 .8 .5 1.5 .5 .3zM256.5 56.6l.5-1.8-.3-.4-1.3 0-.6 1.7 .2 .4zM299.7 81.9l-.1-.2-1.5-.2-.8 .8-.1 1.1 1.7 .2zM259 90.4l1.1-1.1-.6-1.4-.5-.1-1.2 1.3 .4 .9zM248.7 67.7l.1 .4 2.1 1 .9-.8-.1-1-.6-.3-2.2 .6zM252 63.6l2.3 .1 .4-.3 0-1.1-1.2-.6-1.6 .9-.1 .4zM261.6 54.2l-.7-1.1-.8-.2-.7 .3-.4 1.6 1.3 .9zM294.1 43.8l-.2 .2 .8 1.4 1.2-.2-.1-.2-.3-1.1-.3-.6zM256.7 50.5l.2 .3 1.7 0 .1-.1-.3-2.2-1.1 .5zM266.6 42.7l-.5 .8 .7 1.2 1.3 0 .4-.4 0-.6-.6-.8zM274 51.6l1.2 1.8 .5-.2 .2-.2 .1-1.6-1.3-.4zM252.6 34.5l.1-1.3-.6-.5-1.1 .6 .2 1.5 .2 .2zM285 54.3l-1.1-.1-.4 .3-.2 2.2 .1 .1 1.1-.2 .7-1.4zM298.9 83.6l-1.7-.2-.3 .4 .9 1.6 1.8-.7zM256.6 85.4l-1.5-.2-.5 1.8 .3 .4 1.6-.4zM262.2 85.3l-.5-.3-1.4 .9 .1 1.1 1.8 .6 .2-.3zM279.5 83.3l-.6-1.2-.3-.1-1.2 1.3 .4 1.5 .5 .1zM258.6 48.2l1.3 .2 1.2-1.5-1.4-1.1-1.3 1.8zM267.7 87.6l-1.2 1-.1 1 1.3 .4 .7-.4 .5-1.6zM254.6 87l.5-1.8-.5-.6-.6-.1-1.1 .7 .7 1.5zM271 36.5l-.8-.4-2.4 .6 0 .1 .5 1 1.2 .6 1.4-.6 .2-1zM274.7 74.9l.6-.2 .5-1-.3-.6-1.6-.5-.4 1.3zM274 86.3l.9-.1 .4-1.8-.2-.4-.9-.3-1.2 1.3zM284.7 38.5l.6-1.4-.2-1-2 .6 .1 1.6 .7 .4zM256.4 61.6l.6-.7-.6-2-1.3 0-.4 .5 .7 2.3zM259.1 62.3l-1.8 .5-.2 1 .5 .5 1.7 0 .3-.8-.2-.9zM266 41.5l-1.8-.1-.3 .3 0 1.6 .6 .7 1.6-.5 .5-.8-.4-1.1zM277.4 83.3l-1.2-.4-1.1 1.1 .2 .4 1.9 .8 .6-.4zM258.7 33.7l.8-1.4-1 0-1-.1-.1 0 .2 1.1 .5 .4zM281 75.2l-1.9-1-.1 .1-.3 2.1 1.1 .4 1.3-1.1zM265.4 45.6l-.7 1.3 .9 .7 1.4-.1 .3-.6-1-1.3zM252.9 85.2l-.7-.2-.7 1.4 .6 1.3 .1 0 1.4-1zM253.5 65.9l.1 .1 1.7 .3 .4-.4 0-1.7-1-.8-.4 .3zM255.2 100.5l0 .1 .5 1.4 .1 .4 .5-.1 .8-1.6-.8-.8zM267.7 65.1l1.3-.5-.1-1.2-1.7-.6-.8 1.1zM281.2 36.6l-.6-.6-.5 0-1 1.4 1.1 1.2 1-.5zM260.6 83.2l.6 .3 1.9-.8-.2-.8-1.7-.7-.2 0-.6 1.5zM272.8 52.8l.3 1 1.9-.2 .2-.2-1.2-1.8-.1 0zM261.1 94.8l-.8 1.2 .1 1.1 1.9 .2 .5-.8-.9-1.5zM296.4 86.3l-.8-.8-1.1 .7-.2 .9 .2 .3 1.8-.2zM299.6 84.7l1.1-.8 .2-1.6-1.2-.4-.8 1.7 .7 1.1zM257.9 83.6l-.8 .6-.3 1 1.6 .7 .9-.7 0-.6zM255.1 85.2l1.5 .2 .2-.2 .3-1-1.4-.8-1.1 1.2zM283.7 74.9l-2.2-.2-.5 .5 .1 .5 1.2 1.3 .7-.1 .1-.1zM261 33.4l-.4-1.1-1 0-.1 0-.8 1.4 1 .7zM299.5 51.1l2.1 .4-.3-1.5-.1 0-.7 .3-.8 .4-.4 .2zM253.5 53.5l-.2-1.6-1.7-.2-.7 2zM250.8 47.6l-.3 1.1 1.4 .6 .9-1-.7-1.3zM286 58.6l-.2-1.2-1.3-.8-1.1 .2 0 .7 1.5 1.7zM251.2 34.8l-2.2 .5 1.7 1.6 .9-.6-.2-1.3zM257.1 43.1l-.7 2.1 .6 .8 1.8-1.2-1.6-1.7zM275 53.6l0 2.3 .2 .1 .2 .1 1.8-1.2-1.5-1.7-.5 .2zM257.7 104.1l1 .5 1.3-1.2-.3-.6-1.3-.4-.7 .6zM294.5 86.2l-1.1-1.3-.7 .4-.2 1.6 1.8 .2zM281.3 66l.8-.2 .3-1.2-1.2-1.1-.8 1.9zM263.5 80.4l-1.4-.9-.1 .1-.8 1.6 1.7 .7 .6-1.3zM278.4 50.3l-1.1-1.1-.8 .4 0 1.4 1.5 .6 .2-.1zM257.6 33.3l-1.4 .4-.4 1.1 .5 .5 1.3-.2 .5-1.4zM249 90.8l.1 1.6 1.2 .2 .2 .3 1-1.2-1.3-1.1zM258.9 68.3l1.5 .5 .4-.2 .2-.7-.6-1.2-1.1 .1zM269 54.9l1.4 .8 .7-.3 .3-.8-.5-1.1-1.4-.2zM276.9 57.6l-.2 .4 .4 1.7 1.8 0 .1-.4-.5-1.3-1.5-.4zM285 50l-.3-1.1-1.7-.1-.7 .9 1.5 1 1.1-.5zM256.2 90.7l.7 .4 1.3-1.1-.4-.9-.8-.3-.6 .4zM286.4 65.9l.3-1.3-.7-.6-1.6 .8 0 .1 1 1.2zM257.8 89.1l1.2-1.3-.7-.7-1.4 .2 .1 1.5zM252.9 79.2l-.3 1.1 1 .9 1.5-.8-.1-.5-1.8-.9zM278.4 50.3l-.2 1.2 1.7 .2 .3-.6-.6-1.3z"/>
<path fill="#d7edfa" stroke="#d7edfa" d="M285.1 36.1l.2 1 1.5 .5 .4-.7-1-.5-1.1-.5zM292.2 43.6l.9 .6 .8-.2 .2-.2-.7-1.9-1.3-.1zM254.5 95.3l-2.1 .3 .2 .5 .5 1.3 .7 .9 .8-.3 .6-1zM288.1 85.8l.5-.6-1.1-1.4-1.2 .5 0 1.2zM305.8 80.8l.5-1.1-.8-1-1.8 1.1-.1 .1 .4 1.3 .2 .1zM272.4 56.5l-1.3-1.1-.7 .3-.3 .9 .8 1.3 .4 .1 1.2-.6zM286.3 74l.1-.2-1.1-1.4-1.1 .2-.7 .7 .2 1.6 .8 .1zM248.8 35.2l-1.2 2.5 .1 .3 1 .3 1.9-1 .1-.4-1.7-1.6zM256.9 71.3l1.3 .7 1.3-1.4-1.5-1.2-1.1 1.3zM265.7 75.1l1.6-.2 .3-.4 .1-1-.4-.8-1-.4-1.2 1.5zM289 52.5l1.4 .8 .7-2.3-.7-.7-.2 0-1.1 .5zM250.5 48.7l-1 .5 1 1.8 .7 .1 .8-1.4-.1-.4zM253 92.8l-1.2-1.1-.3 0-1 1.2 .7 .8 .8 1zM255 79.9l.6-1.6-.9-.9-1 .3-.5 1.3zM246.1 63.9l-.3 .8 .8 2.1 2.1 .9 .2-.1 .5-2.8-.6-.7zM249.6 80.4l-.9-2.2-2.7 .8 .4 1.8 2.6 1.1zM263.9 33.7l-1.2-.9-1 .9 .4 1.1 1.1 .4 .8-.7zM285.1 61.7l-2.4-.4-.6 .4-.1 .7 1.7 1 1.4-1.7zM310.2 75.3l-.7-.5-1.2 .3-.4 1.1 .3 .8 1 .2 .8-1.1 .3 0zM266.8 44.7l-.7-1.2-1.6 .5 0 .1 .9 1.5 .9 0zM267.3 54.2l1.4 .8 .3-.1 .5-1.6-.3-.5-1.1-.3-.4 .1zM273.3 49.7l-.4-.9-1.5 0-.4 .6 .9 1.4 .9-.2zM260.4 82.7l.6-1.5-1.6-1-1 1.1-.1 .8zM257 88.8l-.1-1.5-.4-.3-1.6 .4-.1 1.1 1.6 .7zM255.6 78.3l-.6 1.6 .1 .5 .6 .4 1.3-.4 .3-1.2-.7-1.1zM266.8 78.5l-1.1 .7 .2 1 .8 .5 1.4-.4 .3-1zM269.5 53.3l1.4 .2 .7-1.4-.2-.4-1.2-.2-1 1.3zM252.1 32.7l.6 .5 1.5-.2 .6-.7 .1-.2-.5 0-1-.1-1.1 0-.2-.1zM269.6 81.6l-.9-.3-1.4 1.6 .2 1 .9 0 1.4-1.4zM278.2 51.5l-.2 .1-.2 1 .8 1.2 1.8-.9-.5-1.2zM290.6 46.2l-1.6-.1-1 .9 .6 1.2 .7 .1 1.2-.9zM268 61.1l-.2-1.7-.7-.4-1.1 .8 .6 1.8 .4 .2zM257.2 92.2l.7 .3 1.3-.3 .3-.3-.5-1.5-.8-.4-1.3 1.1zM260.8 103.8l-.3 1.4 .2 .1 1.2-.3-.3-1.4zM260.1 52.9l.3-2.1-1.7-.1-.1 .1-.1 1.9 .9 .5zM259.5 87.9l.6 1.4 .7 .2 1.4-1.3 0-.6-1.8-.6zM262.7 54.5l.9-1.1 0-.1-1-1.5-1.7 1.3 .7 1.1zM296 89.4l.7 1 1.1-.2 .5 .5 .7-1.4-1.7-1.1-.2 0zM259.7 44.9l1.9-.4 .3-.6-.4-.9-1.7-.3-.2 .2-.1 1.9zM283.4 57.5l-1.2 1.5 .8 .8 1.6-.1 .3-.5zM274.9 79.4l.1-2-.4-.3-2.2 1.1 .2 .8 1.6 .8zM265.3 69.4l-.4 1.7 1.1 .6 1.5-1.8-.6-.8zM316 67.7l-.3-.4-.2-.3-1.6 0-.3 1.4 1.3 .9zM249.4 60.8l1.8 .7 1.5-1.8-.1-.1-3-.3-.5 1.1zM285.8 79.8l0 .2 1.1 1 1-.3 .4-.4-.2-1.7-1-.2zM268.1 52.5l.3-1.9-1-.9-1 .5-.1 .4 .5 1.6 .9 .4zM253.8 75.4l.7-.9-.3-1.3-1.4 .2-.5 .9 .6 1.2zM259.4 53.2l-.9-.5-1.4 .1-.4 1.6 .3 .4 1.6 .3 .4-.3zM250.9 80l.8 .7 .9-.4 .3-1.1-1.6-.8zM255.9 82l2.2 .4 .2-.3 .1-.8-1.4-.9-1.3 .4zM267.2 62.8l1.7 .6 1-1.2 0-.1-.5-.8-1.4-.2-1 .7zM276.2 69l.7 .8 1.6 0 .3-.4 0-.4-1-1.6-.2-.1-1.3 .8zM306.1 75.7l-.2 .1-.7 1.7 .4 .6 2.1-.6 .5-.5-.3-.8zM254.5 95.3l.7-.9-1.9-1.6-.3 0-1 1.9 .1 .1 .3 .8zM279.6 41.3l.5 1.4 .4 .2 1.3-.8 .3-1.2-.3-.3-1.2-.3zM277.6 67.3l-1-1.3-1.4 1.1 1.1 1zM252.6 41.7l1.4-.3 .1-1.1-2-.4-.3 .8zM268.9 63.4l.1 1.2 .2 .2 1.4 0 .9-1-1.6-1.6zM265.7 79.2l-.6-.3-.6 .1-1 1.4 0 .2 1.5 .6 .9-1zM286 62.4l-.5-.6-.4-.1-1.4 1.7 .1 .8 .6 .6 1.6-.8zM253.6 53.6l1.2 .1 .9-1.5-1.2-1-.6 0-.6 .7 .2 1.6zM256.7 58.7l-.3 .2 .6 2 1.5-.1-.2-2.1zM264.7 46.9l-.7 0-.5 1.2 .9 1.2 .7-.2 .5-1.5zM248.2 70.2l1.7 1 1.2-1.1-.2-1-2.1-1zM260.3 101.6l-.6 1.2 .3 .6 .8 .4 .8-.2 0-.1-.3-1.5 .1-.5zM271.9 50.8l-.5 .9 .2 .4 1.2 .7 1.1-1.2-1.1-1zM276.2 82.9l1.2 .4 1.2-1.3-.4-.9-2 .4-.1 .2zM275.9 71.2l.3 .6 1.3 .4 1.3-1.2-.3-1.2-1.6 0zM257.6 35.1l.7 1.3 .2 0 1.4-1.3-.2-.7-1-.7-.6 0zM314.8 69.7l-1.6 1.5 .3 .6 2-.1 .2-.3zM251.8 68.3l1 .7 1-.6-.7-1.6-1.4 .5zM252.1 47l.7 1.3 .9 .1 .8-1.6-.2-.5-2 .1zM260.9 57.9l-1.2 1 .4 1.3 .9 .4 1-1.7zM305.8 80.8l-1.6 .5 1 1.4 .7-.8 .4-.4zM293.5 48.7l1.2 .9 1.2-.6 .1-.5-1.1-1.2 0-.1zM254.4 73l1.8 .2 .5-1.7-1.7 0-.6 .8zM310.1 65.3l-.7 1.2 .7 1 1.3-.1 .2-.6-1.1-1.5zM264.5 56.1l-.1-.2-1.6-.9-.7 1.3 1.2 1.1 .9-.3zM314.9 69.3l1.9 .3-.1-.3-.3-.9-.4-.7-1.1 1.6zM287.2 44.8l-.2 .7 .7 1.4 .3 .1 1-.9-.7-1.7zM287.1 49.1l.5 0 1-.9-.6-1.2-.3-.1-1.6 .8zM279.3 56.9l1.4 .8 1.1-1.4-.7-1.1-1.2 .3-.7 1zM263.3 61.2l0 .1-.1 1.5 1.4 .6 .2-.1 .3-1.3-.8-.8zM266.8 52.2l-.5-1.6-1.5 .7 .1 1.1 .8 .4zM267.2 86.6l-1.1 0-.4 1 .8 1 1.2-1zM292.4 57.9l-1.1 2 2.3 .3 .1 0 .1-.3-1-1.9zM249 90.8l-.9-.7-2.1 1.6 .3 1.6 .4-.7 1.2-.5 1.2 .3zM270.1 56.6l-1.4 .6 .7 1.6 1.5-.9zM267 58.3l1.4-1.2-.4-.7-1.5-.3-.1 0-.1 1.5zM255.4 66.6l-.7 2.1 .4 .5 .1 0 2.1-1.1-.1-.3z"/>
<path fill="#c6e5f7" stroke="#c6e5f7" d="M264 71.3l.9-.2 .4-1.7-1-1.1-.8 .2-.8 1.2zM288.6 41.9l1.3-.4-.4-1.7 0-.1-2 .5-.2 .7zM280.6 85l.6 1.6 1.6-.8 .1-.5-.6-.9-1.4 0zM277.2 78.1l.6-.2 .7-1.4-1.9-.7-.7 1.4zM276.1 81.7l.1-.2-.2-1.8-1.1-.3-.7 .4-.1 1.4 .2 .2zM253.5 90.1l-.9 .2-.8 1.4 1.2 1.1 .3 0 .7-.8zM293.2 61.5l.4-1.3-2.3-.3-.5 .3 .8 1.9zM260.6 56.8l-2 .5-.2 1.4 1.3 .2 1.2-1zM289 88l.6 .9 .4 .1 1.8-1.3 0-.2-1.2-1.1-.1 .1zM254.9 87.4l-.3-.4-1-.3-1.4 1 1.8 1.6 .8-.8zM292.2 39.9l-.2-.2-.8 .1-.2-.3-1.5 .3 .4 1.7 .5 .3 1.3-.3zM278.3 80.5l.9-.7-.1-1-1.3-.9-.6 .2-.3 1.1zM289.9 58l-.3-.4-1-.2-.9 1.2 .8 1.3 1.6-.3zM294.4 46.3l-1.8 0 .1 2.1 .5 .3 .3 0 1.4-1.5zM257.1 46.5l-1.3 .9 0 1.1 1.5 .5 1.1-.5 .2-.3-.2-.6zM271.6 86.2l1.5 1.3 .9-1.2-1-1.3-.8 .1zM254.4 34.9l-.3 .4 1.3 1.7 .9-.5 0-1.2-.5-.5zM258.6 60.9l.5 1.4 .3 .3 1.8-1.2 .1-.1-.3-.7-.9-.4zM289 88l1.5-1.5-1.8-1.3-.1 0-.5 .6-.1 1.8zM283.2 66.7l-1.1-.9-.8 .2-.4 1.5 .5 .5 1.9-.8zM274 43.3l.8-1.9 0-.1-1-.9-.7 0-.7 1 1.4 1.9zM273.2 59.7l1.4 .7 .6-.5 .1-1.4-1-.8-.9 .3zM265.4 35l.5-.6-.3-2-.5 0-1.2 1.3 .1 .8zM271.4 68.7l.6 0 .6-1.8-.4-.6-.9-.2-1.1 1zM263.5 48.1l.5-1.2-.9-.9-.7-.1-.8 .9 .7 1.7zM293.9 62.4l-.7-.9-1.6 .6 1 1.9 1-.4zM258.8 44.8l.7 0 .1-1.9-1.6-.4-.8 .6zM282.9 85.3l-.1 .5 1 1.3 1.6-.5 0-.2-1.1-1.6zM284.5 42.1l-.8 1.1 1.2 1.3 1.1-.7 .2-1.1zM274.6 69.3l.3 1.7 1 .2 1-1.4-.7-.8zM289.9 76.1l-.3-1.4-1-.2-1 1.7 1.2 .8zM288.5 50.7l-1.4 .7-.2 .4 .8 1.3 1.3-.6 .1-1.7zM260.3 101.6l1.1-.1 .1-.6 .2-.5-1.2-1.1-.8 1.5zM288.2 63.3l-.3 1.2 .9 1 1-.2 .6-.8-.4-1.5-.4-.2zM282.9 34.8l-.9-.4-.5-.3-.9 1.9 .6 .6 1.5-.2zM252.2 42.8l1.4 1.1 .4 0 .8-1.2-.8-1.3-1.4 .3zM280.2 51.1l1.4-.4 .3-.9-1-.9-1 0-.3 .9zM261.9 41.4l0 .1-.4 1.5 .4 .9 2-.6 0-1.6zM283.8 68.7l-.6 1 .2 .7 1.8 .2 .5-.6-.3-1.3zM255.2 94.4l-.7 .9 .7 1.7 1-.2 .6-.8-.3-1.3-.9-.4zM281.3 69.3l-.3 2 .7 .6 1.6-1.2 .1-.3-.2-.7-1.8-.4zM279 59.3l1.8-1.1-.1-.5-1.4-.8-.8 1.1zM287.7 58.6l.9-1.2-.8-1.1-.6-.2-1.4 1.3 .2 1.2 .4 .2zM275.9 71.2l-1-.2-.9 .5-.2 .8 .1 .3 1.6 .5 .7-1.3zM257.6 64.3l-.5-.5-1.4 .4 0 1.7 1.7-.2zM263.1 59.4l-.7-.6-.4 .1-1 1.7 .3 .7 2 0 0-.1zM281.7 59l-.8 1.6 1.2 1.1 .6-.4 .3-1.5-.8-.8zM254.5 51.2l1.2 1 .8 0 .4-1.4-.2-.3-1-.3zM248.8 84.2l.9 .4 1.9-.2 .4-1.7-.5-.5-2.3 0zM270.9 74.4l.9-.3 .1-1.9-.5-.5-1.4 .5-.2 .9 .5 1zM249.4 87.8l1.8 .8 .9-.9-.6-1.3-1.2 0zM268.6 41.5l-.4-.9-2 1 .4 1.1 1.3 .2zM271.7 76.9l-1-.6-1.2 .2-.6 .6 .4 1.6 .2 .1 2.3-1.1zM270.9 37.8l.8 1.4 .4 0 1.8-1.5-.1-.3-.1-.1-2.6-.5zM253.6 81.2l-.3 1.3 .2 .1 2.1 0 .3-.6-.2-1.2-.6-.4zM280.1 36l.5 0 .9-1.9-.4-.2-.6 .2-.6 .5-.7 .4-.5 0zM250.7 36.9l-.1 .4 1.1 1.6 .1 0 1.4-1.1-.3-1-1.3-.5zM284.5 56.6l1.3 .8 1.4-1.3-.1-.2-1.9-.7zM252.5 76.1l.4-.6-.6-1.2-1.1-.1-.6 1.3 .4 .5zM260.5 76.2l.7 1.3 1.5 .2 .2-.4-.9-1.9-1.5 .7zM314.3 59.2l-1.5-.1-.1 2.2 1.3 .6 .7-2.3zM286.2 42.7l-.2 1.1 1.2 1 1.1-.4 .2-.3-.4-1-1.8-.5zM252.1 87.7l-.9 .9 0 .6 1.4 1.1 .9-.2 .4-.5 .1-.3-1.8-1.6zM251.6 84.4l.6 .6 .7 .2 1.1-.7-.5-1.9-.2-.1-1.3 .2zM259 54.8l-.4 .3-.5 1.6 .5 .6 2-.5 .1-.1-.4-1zM300.6 53.9l.1-.6-1.3-.6-1.3 .6-.1 .5 1 1.5zM272.7 62.2l-.2 1.5 .4 .4 2.1-.5-.7-1.9zM264.8 59.1l.5 .6 .7 .1 1.1-.8-.1-.7-.7-.7-1.5 .3zM274.7 38.4l-.8-.7-1.8 1.5 1 1.2 .7 0zM284.4 64.9l0-.1-.6-.6-1.4 .4-.3 1.2 1.1 .9zM264.8 51.3l1.5-.7 .1-.4-1.3-1.1-.7 .2-.8 1.2 0 .2zM259.3 64.3l0 .1 1.7 1.3 .7-.3 .5-1-.2-.8-2.4-.1zM265.5 35.4l-.1-.4-1.4-.5-.8 .7 .1 1.4 .2 .3 1.4-.1zM263.3 57.4l-.9 1.4 .7 .6 1.7-.3 0-1.2-.6-.8zM271 43.1l-.7-.3-1.8 .9 0 .6 1.7 1.1 .6-.3 .3-1.8zM263.7 64.7l-1.5-.3-.5 1 .9 1.1 1.8-.5zM269.6 46.8l-1.7-.2-.6 .3-.3 .6 .7 1.4 1.6-.5 .4-1.2zM298 53.8l.1-.5-.7-.9-.2 .2-.6 .5-.7 .1-.4-.2-.3 1.1 1.1 .7zM271.3 58l-.4-.1-1.5 .9-.1 .2 .6 .9 1.6 0zM285.6 52l-.7-1.8-1.1 .5-.5 1.4 .1 .1 1.9 .2zM251 76l-.4-.5-2-.2 .4 2.6 1.3-.1zM287.7 53.1l-.1 .3 1.7 1.4 .1 0 1-1.4 0-.1-1.4-.8zM268.7 55l-1.4-.8-.7 .4-.1 1.5 1.5 .3zM251.6 57.3l-.7-.9-1.3-.1-1.1 1.1 1.1 1.7zM293.4 41.9l.7 1.9 1.1-.5-.1-.5-.4-1.1-.6-.3zM288.7 85.2l1.8 1.3 .1-.1 .7-1.5 0-.2-1.6-.7zM255.7 83.4l-.1-.8-2.1 0 .5 1.9 .6 .1zM255.3 49l-1.1 0-.5 1.4 .2 .8 .6 0 1.2-1zM283 59.8l-.3 1.5 2.4 .4-.5-2zM277.8 67.4l1 1.6 1.2-1.5-.9-1.5zM261 33.4l.7 .3 1-.9 0-.4-.1-.1-1 0-1 0zM268.3 37.8l-.7 1.8 .7 .8 1.2-.6 0-1.4zM313.6 66.3l.3 .7 1.6 0-.4-.7-.5-1 0-.1zM267.5 69.9l-1.5 1.8 .3 .6 1 .4 1.1-1.2-.9-1.6zM284.3 84.8l1.1 1.6 .9-.9 0-1.2-.9-.5-.9 .5zM281.5 74.7l0-1.9-1.9 .6-.5 .8 1.9 1zM259.4 74.8l.3 .1 1.2-1.2-.5-1-1.7 .3zM260.9 37.3l-1.5 .3-.3 .9 1 1.2 .8-.3 .4-1.4zM270.7 40.5l0-.2-1.2-.5-1.2 .6-.1 .2 .4 .9 1.2 .3z"/>
<path fill="#b6def4" stroke="#b6def4" d="M244.9 76.1l2.8-1.7-1.4-3.3-2.7 1.3 .3 3.2zM258 69.4l1.5 1.2 .4 0 .5-1.8-1.5-.5-.9 .4zM276.9 79.2l.3-1.1-1.3-.9-.9 .2-.1 2 1.1 .3zM280.6 40.3l1.2 .3 .3-2-.9-.5-1 .5-.2 .6zM311.6 66.8l-.2 .6 .4 .9 .8 .4 1-.3 .3-1.4-.3-.7-.7-.2zM285.2 77.4l.7-.5-1.4-1.9-.8-.1-.6 1.9zM297.3 88.2l1-1.5-.6-1.1-1.3 .7-.1 .9 .8 1zM286.8 41.1l-1.2-.6-1.3 .7 .2 .9 1.7 .6 .1-.1zM257.4 36.9l-.2 1.6 .5 .5 1.4-.5 .3-.9-.9-1.2-.2 0zM290.5 56l-1.1-1.2-.1 0-1.5 1.5 .8 1.1 1 .2zM259.6 42.9l.2-.2 .2-1.6-.2-.3-1.4 .1-.4 1.6zM299 55.3l-1-1.5-1.7 1 .3 1.5 1.4 .3 1-1.3zM249.4 63.3l2.4-.3 .1-.4-.7-1.1-1.8-.7zM280.9 84.4l1.4 0 .5-1.1-1.2-1.4-1.1 1.7zM274.6 77.1l.4 .3 .9-.2 .7-1.4 0-.1-1.3-1-.6 .2-.5 1.2zM246.3 71.1l1.4 3.3 .2 0 2.3-1.6 .1-.3-.4-1.3-1.7-1zM264.3 88.9l-.9 .6-.1 .6 1.4 1 1.1-.5 .4-.9zM268.5 43.7l1.8-.9-.5-1-1.2-.3-.7 1.4zM262.6 92.3l-1.3 .8-.3 1.5 .1 .2 .8 .2 1.6-1.2 .1-.7zM278.8 69.4l-.3 .4 .3 1.2 .3 .2 1.9 .1 .3-2zM252.8 73.4l-.8-1.2-1.7 .3-.1 .3 1 1.4 1.1 .1zM269.6 34.1l.2-.4-.2 .1-.9-.4-.9-.3-.1-.4-.3 .2 0 1.2 .6 .5zM311.6 74.4l-.3-1.1-.1-.1-1.5-.1-.2 1.7 .7 .5zM255.9 93l1.3-.8-.3-1.1-.7-.4-.5 .1-.7 1.1zM264.8 57.9l1.5-.3 .1-1.5-1.9 0-.3 1zM289.9 58l2-.4-.3-1.7-1.1 .1-.9 1.6zM313.6 68.4l-1 .3-.2 2 .8 .5 1.6-1.5 .1-.4zM264.5 66l.3 1.4 2.3 0 .2-.1-.2-.9-1.6-1zM283.3 67.2l-1.9 .8 0 1.3 1.8 .4 .6-1-.4-1.5zM260.4 66.7l.6-1-1.7-1.3-.6 1.8 .6 .6zM290.2 43.9l.2-2.1-.5-.3-1.3 .4-.5 1.2 .4 1zM254.8 88.5l-.8 .8-.1 .3 1.8 1.2 .5-.1 .2-1.5zM293.5 48.7l-.3 0-.7 2.5 .5 .4 1.7-1.2 0-.8zM293.4 41.9l.7-.5-.6-.4-1.1-.6-.2-.5-.5 1.6 .4 .3zM266.8 52.2l-1.1 .6 0 1.4 .9 .4 .7-.4 .4-1.6zM261.5 43l.4-1.5-1.9-.4-.2 1.6zM299 89.3l.1-.1 .6-1.4-.4-1.1-1 0-1 1.5zM288.3 80.3l2.1-.3 .2-.3 0-1-1.7-.7-.8 .6zM303.1 83.4l-.3-1-1-.4-.9 .3-.2 1.6 1.3 .6zM289.3 48.3l.9 2 .2 0 1.5-1.8-1.4-1.1zM259.4 37.6l1.5-.3 .2-.5-.2-1-1-.7-1.4 1.3zM257.9 66.3l-.5-.6-1.7 .2-.4 .4 .1 .3 1.8 1.2zM286.8 76.3l.8-.1 1-1.7-.9-1-.1 0-1.2 .3-.1 .2zM286.8 41.1l.5-.2 .2-.7-.5-1.2-1.4 .2 0 1.3zM272.2 46.7l-.9 1 .1 1.1 1.5 0 .6-1zM302.9 86.1l1.5-1.1 .1-.5 0-.3-1.4-.8-1.1 1.1 .1 1.1zM268.9 88l.7-1.6-1.8-.7-.6 .9 .5 1 1.2 .4zM254.8 32.3l-.6 .7 .2 1.9 1.4-.1 .4-1.1zM294.8 54.2l-1.9-1-.9 .8 .2 1.3 1.7 .6 .1 0zM294.9 47.3l1.1 1.2 .3-1.2-.1-.7zM267.3 82.9l-.6-.6-1.6-.1-.9 1.1 1.4 1.2 1.8-.5 .1-.1zM297.6 80.2l-1.7-.1-.5 1.1 1.9 1.1 .8-.8zM290 63l1.6-.9-.8-1.9-1.5 1.5 .3 1.1zM266.4 56.1l.1 0 .1-1.5-.9-.4-.7 .2-.6 1.5 .1 .2zM254.2 73.2l.2-.2 0-.7-1.6-1.2-.8 1.1 .8 1.2zM264.8 63.3l-.2 .1-.9 1.3 .7 1.3 .1 0 1-.6 .4-1.4zM257.2 38.5l-.9 0-1.3 1.3 1.3 .9 1.3-.6 .1-1.1zM276.6 42l0 1.8 .8 .3 .3-.1 .8-1.1-.7-1.6-.3-.1zM276.5 51l-.5 .4-.1 1.6 1.9-.4 .2-1zM276.8 46.5l.7-.3-.1-2.1-.8-.3-1 1.8zM265.1 62l1.5-.4-.6-1.8-.7-.1-1 1.5zM250 41.5l1.7 1.4 .5-.1 .4-1.1-.8-1zM297.8 85.4l-.1 .2 .6 1.1 1 0 .7-1.1-.4-.9zM267.4 34.1l0-1.2-1.3-.5-.4 0-.1 0 .3 2z"/>
<path fill="#a7d8f2" stroke="#a7d8f2" d="M265.2 95.1l-.8-.1-1 1.4 1.5 .9 .1-.1 1.1-.8 .2-.1zM256 42.4l-1.2 .3-.8 1.2 .7 1.1 1.7 .2 .7-2.1zM271.1 55.4l1.3 1.1 1.2-.9-.6-1.6-1.6 .6zM251.9 45.4l1.7-1.5-1.4-1.1-.5 .1-1.3 1.9zM245.8 64.7l-3.6 1.7 .2 1.8 2.7 .6 1.5-2zM288.9 78l1.7 .7 .6-.6 0-1.3-1.3-.7-1.1 .9zM273.8 37.4l.1 .3 .8 .7 .3 0 1.2-.6 .1-1.5-1-.5zM254 41.4l.8 1.3 1.2-.3 .3-1.7-1.3-.9-.4 0-.5 .5zM255 71.5l-.4-1.4-1.8 .5 0 .5 1.6 1.2zM284.6 59.7l.5 2 .4 .1 1.2-1.4-.3-1.6-.4-.2-1.1 .6zM251.7 42.9l-1.7-1.4-.4-.1-1.5 1.1 1.7 2.3 .6 0zM289.3 82.4l.4 .1 .7-.4 0-2.1-2.1 .3-.4 .4zM267.1 67.4l-.2 1.7 .6 .8 1.8-.6-.5-1.9-1.5-.1zM293.4 79.4l2.2-.1 .2-1.2-1.7-1-.2 .1-.8 1.3zM296.3 87.2l-1.8 .2-.2 1.3 .3 .6 .3 .1 1.1 0 1.1-1.2zM270.8 45.1l-.6 .3-.6 1.4 .1 .4 1.6 .5 .9-1 .1-.8zM277.6 73.7l.3 .3 1.1 .3 .1-.1 .5-.8-.5-2.2-.3-.2-1.3 1.2zM266.8 78.5l.2-1.2-1.2-.6-.8 .6 .1 1.6 .6 .3zM274.3 57.7l.9-1.7-.2-.1-1.4-.3-1.2 .9 .1 .9 .9 .6zM251.9 49.3l.1 .4 1.7 .7 .5-1.4-.5-.6-.9-.1zM255.4 61.7l-.7-2.3-1.6 .5 .4 1.8 1.2 .6zM315.5 55.3l.7 1.9 .2 .1 .3-.5 .4-1.4-.1-.8zM261.9 95l.9 1.5 .6-.1 1-1.4-.9-1.2zM261.1 71.3l1.9 1.2 .3 0 .7-1.2-1.3-1.6-.3 0zM294.7 49.6l0 .8 .7 .5 .1-.1 .4-.6 0-1.2zM262.4 87.3l-.2 .3 0 .6 1.2 1.3 .9-.6 .3-1.1-.7-.8zM305.8 80.8l.5 .7 .3-.4 .7-.7 .4-.5-1.4-.2zM254.8 76.7l1.5-1 .2-.7-2-.5-.7 .9zM293 80.7l0-.1-2.4-.9-.2 .3 0 2.1 1.6 .3zM285.6 52l-.3 .4 .2 1.4 1.6 .1 .5-.5 .1-.3-.8-1.3zM260.1 39.7l-.3 1.1 .2 .3 1.9 .4 0-.1 .1-1.5-1.1-.5zM263.5 36.9l-.2-.3-2.2 .2-.2 .5 .4 .7 2 .6zM279.3 44.8l.2 .6 1.2 .7 .5-.4 .1-1.4-.8-.8zM272.8 69.3l0 1 1.2 1.2 .9-.5-.3-1.7-.4-.3zM265.9 64l-.4 1.4 1.6 1 .6-1.3-1.3-1.2zM285.6 71.9l-.4-1.3-1.8-.2-.1 .3 .9 1.9 1.1-.2z"/>
<path fill="#94d2f0" stroke="#94d2f0" d="M277.3 65l1-1.6-1.4-1.1-1.3 1.5 .2 .6 1 .7zM283.4 56.8l-.1-.1-1.5-.4-1.1 1.4 .1 .5 .9 .8 .5 0 1.2-1.5zM297.3 61.4l-.1 .5 .7 1.3 1.4 0 .5-.6-.3-1.6-.1-.1zM292.4 64.5l.2-.5-1-1.9-1.6 .9 .4 1.5zM279.5 83.3l-1.2 1.6 .6 .5 1.7-.4 .3-.6-.4-.8zM289 46.1l1.6 .1 .3-.3-.4-1.8-.3-.2-1.7 .2-.2 .3zM282.8 93.8l0-.9-1.7-.9-.6 .6 .9 1.9 .3-.2 .4 .2zM272.2 46.7l1.3 1.1 1.2-.1-.1-1.7-2.2-.2-.1 .1zM308 46.4l.8-1-.5-1-.1 .4-1.1 .2-.7 .2 .1 .6zM277.9 56l-.4-1-.3-.1-1.8 1.2 1.5 1.5 .1 0zM295.3 75.5l-.7 .3-.5 1.3 1.7 1 .9-.5 .3-1.1 0-.2zM299.9 80.1l1.7-.1 .2-.2-.3-1.6-.4-.4-1.3 .2-.7 .9zM272.6 79l-1.1 1.5 .6 1 2-.3 .1-1.4zM301.8 51.6l-.2-.1-2.1-.4-.1 1.6 1.3 .6 .9-.7zM256.3 35.3l0 1.2 1.1 .4 .9-.5-.7-1.3zM240 31.9l-2.4 .8 .5 3.2 .4 .1 2.9-1.4 .2-.5zM303.5 73l-.9 1.2 .3 1.6 .1 0 1.4-.7 .1-1zM294.9 89.4l-.1 2.6 .2 0 .9-.8 .8-.8-.7-1zM290.8 60.2l.5-.3 1.1-2-.5-.3-2 .4 .2 1.6 .7 .6zM295.6 62.3l-.4-.4-1.3 .5-.3 1.2 1.6 .5 .4-.2zM289.5 67.8l.1 1.1 1.2 .3 .9-.5 0-.1-.6-1.7-.2-.1zM269.3 78.7l-.4-1.6-1-.3-.9 .5-.2 1.2 1.6 .8zM290.1 73.1l-.2 1.3 1.8 .2 .2-1.8-.7-.2zM243.4 33.6l-1.8 .5-.2 .5 1 3.2 1 .1 1.8-1.9-.1-1.4zM251.5 82.2l.2-1.5-.8-.7-1.3 .4-.6 1.5 .2 .3zM264.5 92.6l.2-1.5-1.4-1-1 .9 .3 1.3 1 .8zM275.3 58.5l1.4-.5 .2-.4-1.5-1.5-.2-.1-.9 1.7zM261.2 83.5l-.6-.3-1.3 1.4 0 .6 1 .7 1.4-.9zM293.1 78.5l.8-1.3-1.8-1.2-.9 .8 0 1.3zM267.4 94l-1.5-.5-.7 1.6 1.1 1.2 .9-.7 .7-.6zM264.5 44.1l-1.4 1.9 .9 .9 .7 0 .7-1.3zM290.7 90.1l.8-.1 .5 .2 .4-1.7-.6-.8-1.8 1.3zM301.1 86l-.1 1.5 1 .8 1.2-1-.3-1.2-.8-.5zM278.5 42.9l1.6-.2-.5-1.4-1-.4-.8 .4zM285.2 70.6l.4 1.3 1.6-.6-.3-1.1-1.2-.2zM283.8 68.7l1.6 0 .6-.6-.9-1.2-1.7 .3zM288.9 69.5l.1 1.5 .3 .2 1.4-.1 .2-.2-.1-1.7-1.2-.3zM258.4 102.4l1.3 .4 .6-1.2-.6-.8-1.4 0zM288.4 90.2l-1.4-.7-.3 1.3 1.3-.2 .5-.2zM303.2 50.6l-.4 .7 1.3 1 1.2-.7-.4-1.4zM306.1 105.6l-.3 .2-1.1 .7 1 .1 .8-.3zM290 89l-.4-.1-1.2 1.3 .1 .2 .3-.1 1.3-.1 .6-.1zM262.8 77.9l1.7 1.1 .6-.1-.1-1.6-1.2-.5-.9 .5-.2 .4zM285.5 86.8l-.1-.2-1.6 .5-.3 .5 .5 1.2 1.5 .1z"/>
<path fill="#82cbee" stroke="#82cbee" d="M271.3 83.3l-1.5-.8-1.4 1.4 1.4 .9 1.5-1zM264.8 51.3l-1.2-.6-1 1.1 1 1.5 1.3-.9zM303.6 79.9l-1.8-.1-.2 .2 .2 2 1 .4 1.2-1.2zM260.8 103.8l-.8-.4-1.3 1.2 1 .3 .8 .3zM243.9 75.6l-.3-3.2-.5-.2-2.9 .7-.4 1.1 1.9 2.3zM252.7 59.7l.4 .2 1.6-.5 .4-.5-.6-1.4-2.1 0 .2 2.1zM264.2 83.3l-.3 0-.9 1.7 1.3 1.1 1-.6 .3-1zM257.7 39l-.1 1.1 .8 .8 1.4-.1 .3-1.1-1-1.2zM251.2 51.1l.4 .6 1.7 .2 .6-.7-.2-.8-1.7-.7zM299.3 86.7l.4 1.1 1.3-.3 .1-1.5-1.1-.4zM245.4 46.2l2.3-3.7-2.1-1.8-.1 0-1.5 1.1-.4 2.8zM257.4 32.2l-.9 0-1.1-.1-.5 0-.1 .2 1.4 1.4 1.4-.4zM295.2 69l.9-1.2 0-.4-.3-.4-.2-.1-2.2 .7-.1 .4 .6 1zM314.9 69.3l-.1 .4 .9 1.7 .6-.6 .7-.6-.2-.6zM319.6 46.2l.5-.9-.3-.7-2.2 0-.2 .7 .3 .9 .5 .3zM292.2 82.7l.8 .5 1.8-.6 .2-1.1-2-.8-1 1.7zM266.6 91.9l-1 1.1 .3 .5 1.5 .5 .6-1.9-.1-.1zM264.4 55.9l.6-1.5-1.4-1-.9 1.1 .1 .5zM304.5 74.1l-.1 1 1.5 .7 .2-.1 .2-1.2-.7-.8zM275 53.6l-1.9 .2-.1 .2 .6 1.6 1.4 .3zM264 73.5l-.7 1.4 .8 .7 1.6-.5-.6-1.3zM289.3 71.2l-.1 1.1 .9 .8 1.1-.5-.5-1.5zM288.1 43.1l.5-1.2-1.3-1-.5 .2-.5 1.5z"/>
<path fill="#69c1eb" stroke="#69c1eb" d="M311.8 53.6l1.2-.6 .1-1.1-1.1-.7-.9 .3 0 1.5zM298 56.6l.1 .5 1.8 .9 .9-1.6-1.8-1.1zM236.8 76l-2 2 1.2 2.9 1 .2 2.7-2.3zM239.2 70.4l1 2.5 2.9-.7-1.1-3.4-2.5 1zM246.7 60.9l-.8 2.4 .2 .6 2.7 .2 .6-.8 0-2.5-.3-.4zM285.8 45.9l-.1 1.7 .4 .1 1.6-.8-.7-1.4zM247.7 38l-2.1 2.7 2.1 1.8 .4 0 1.5-1.1 0-1.9-.9-1.2zM305.8 72.2l-2.3 .2 0 .6 1 1.1 1.1-.4 .3-1.3zM325.8 32.8l-.3-1-.2-.8-1 .8 .2 1.4 .4 .5zM248.3 34.2l-1.6-.5-1.6 .9 .1 1.4 2.4 1.7 1.2-2.5zM274.7 45.9l-.1 .1 .1 1.7 .2 .2 1.6-.6 .3-.8-1.2-.9zM309.3 49.5l-.3-1.8-.8-.4-.9 .7 .1 1.3 1.3 .5zM276 40.1l-1-1.7-.3 0-.9 2 1 .9zM281.3 44.3l-.1 1.4 1.2 .2 .7-.6-.4-1.1zM249.6 56.3l-.4-2.2-3.2 1-.2 .4 .8 1.3 1.9 .6zM273.1 87.5l-1.2 .9 .3 1.5 1.3-.5 .2-1.2-.6-.7zM280.2 38.6l-1.1-1.2-.8 .1-.7 1 0 .1 1.3 .9 1.1-.3zM300 71.5l0 1.3 .9 .6 1.5-1.7-.8-1zM318.9 41.8l.3-.3-.2-2.2-1-.2-.8 .7-.1 1.1zM307.9 96.4l.6-1-2-.7-.4 .3-.2 1.7zM302.7 90.1l-.8-.8-1.5 .4 .2 1.6 .8 .5 .2 0zM294.1 77.1l.5-1.3-1.2-1.2-1.2 .5-.1 .9 1.8 1.2zM295.6 74.4l1.3-.4 .3-.7-.9-.9-1.7 .9z"/>
<path fill="#4bb6e7" stroke="#4bb6e7" d="M303.8 77.2l-.8-1.4-.1 0-1.1 .3-.7 1.7 .4 .4 1.7-.1zM224 57.9l-.1 0-2.4 1.7 .6 5.1 5.4-1.7zM278 87.5l.6 1 1 .2 .7-1.6-1.3-.7zM249.5 53.8l-.5-1.7-1.3-.8-1.8 1.9 .1 1.9 3.2-1zM311.8 55.2l-2 0-.4 .7 1.2 1.5 1.1-.6zM235.2 68.8l-.3 .9 2.1 1.6 2.2-.9 .3-.6-1.9-2.6zM314.6 53.9l.9 1.4 1.5-.7-.1 0-.1-.9-.2-.6 .3-.1-1.6-.2zM241.8 63.5l-2.3-.9-.5 .4-.2 2.7 3.3 .7zM239.8 74l.4-1.1-1-2.5-2.2 .9-.6 2.9 .5 .5zM280 89.2l0 .7 1.4 1.4 1.3-1-1-1.5zM229.9 59.1l-2.7-3.1-3.2 1.9 3.5 5.1 .4 .1 .9-.5zM242.1 82.6l-.5 1 1.5 2.8 .7 .3 2.6-2-1-2.3zM313 53l-1.2 .6 0 1.6 .9 .1 1.3-1.4zM314.5 50.4l-1-.7-1.2 .5-.3 1 1.1 .7 1.6-.6 0-.1zM312.5 58.9l-1.6 .2-.2 .7 .8 1.8 1.2-.3 .1-2.2zM304.6 45.5l-.6 .1-1.1 .8 .4 .5 .1 .2 1.1-.3zM270.6 91.9l-1 .1-.1 .2 .3 1.7 1.1-.5 .9-.2 .4-.1zM234.8 78l-1.9-.4-2 2.3 2.4 2.7 2.7-1.7zM304.2 70.4l-1 1.7 .3 .3 2.3-.2 .2-1.5zM294.1 73.2l-.7 1.4 1.2 1.2 .7-.3 .3-1.1-1-1.1zM280.9 48.9l.6-1.3-.9-1.1-1.6 1.4 0 .1 .9 .9zM299.9 58l-1.8-.9-.8 2 1.6 .6 1.2-1.3zM300.9 73.4l.1 .2 1.6 .6 .9-1.2 0-.6-.3-.3-.8-.4zM323.2 46.5l1.9 .6-.3-1-.6-.4-.5 0-.2-.1z"/>
<path fill="#37aae2" stroke="#37aae2" d="M243.1 86.4l-1.5-2.8-3 .5-1 1.7 .7 .7 1.2 1.3 .5 .6zM312.1 41l.3 .3 2.1-.1 .2-.4 0-.4-1-1.2-.9 .2-.5 .1zM208.8 54.2l.4 4 5.3-1.3-.7-4-.1 0zM217.6 64.2l-1.2 .9 .9 4.1 2.3 .8 2.6-2.6-.2-2.6zM271.9 90.4l1 1.1 1.4-.3 0-1.2-.8-.6-1.3 .5zM243.8 86.7l.7 1.4 3.5 .4 .3-.5-.7-3-1.2-.3zM303.2 63.4l1.3 1 .1 0 .4-.3 .3-1.6-.3-.4-1.1-.4-.7 .6zM284.8 91l.8-.1 1.1-.1 .3-1.3-.1-.2-1.3-.2zM244 41.8l1.5-1.1-2.1-2.8-1-.1-1.8 1.2 .9 2.3zM241.8 80.2l4.1-1.4-1-2.7-1-.5-2.2 .7-1.3 2.4zM314.3 44.4l-1-.9-.7-.1-.9 1.6 .2 .6 1.3 .4zM267.1 66.4l.2 .9 1.5 .1 .5-.4-.1-2.2-.2-.2-1.3 .5zM303.1 58l1.4-1.2-.7-.8-1.9 .4 .5 1.6zM299.3 71.1l-1 .4-.1 1.6 .5 .2 1.3-.5 0-1.3zM287.2 38.5l-.2 .5 .5 1.2 2-.5-.3-1.5 0-.1zM268.4 89.6l1.2 .7 .8-.6-.1-1.1-1.4-.6zM306.9 100.6l1.2-.4 .2-2-.3-.2-1.7 .4-.4 .8 .3 .8zM304.9 94.6l-.3-.9-1.5-.3-.5 .6 1 2 .1 0zM297.2 65.1l-.2-.8-1.4-.4-.4 .2-.4 1.6 .8 1.2 .2 .1zM267.4 32.9l.3-.2-.1-.4-.2-.9-.6-.2 0 1.2-.7 0zM249.5 49.2l-1-.2-1 1.3 .2 1 1.3 .8 1.5-1.1zM300.9 65.2l-1.1-.7-1.5 1.1 .4 1.2 1.7 0zM309.4 53.8l1.7-.8 0-1.5-.2-.1-1.7 .5 .2 1.9zM283 76.9l.5 2 1.4-.2 .3-1.3-2.1-.6zM322.7 30.2l-.2-.6-.1 .1-.9-.5-.3 1.2-.1 .3z"/>
<path fill="#239edc" stroke="#239edc" d="M232.6 58.4l-2.7 .7-1.1 3.5 3.9 .8 1.5-3.3zM253.8 68.4l.9 .3 .7-2.1-.1-.3-1.7-.3-.5 .8zM227.7 54.8l-1.5-2.4-3.5-.3-.9 2.1 2.1 3.7 .1 0 3.2-1.9zM224.9 73.3l1.3-1.3-1.3-3.2-2.7-1.4-2.6 2.6 .4 2.5 .3 .3zM233.2 55.5l-.8-1.4-1.2-.6-3.5 1.3-.5 1.2 2.7 3.1 2.7-.7zM233.5 64.7l-.4 1.3 2.1 2.8 2.4-1.6 .1-.6-2.4-2zM278.8 69l0 .4 2.5-.1 .1 0 0-1.3-.5-.5-.9 0zM270.3 88.6l.8-.5-.2-1.6-1.1-.3-.2 .2-.7 1.6zM291.1 66.9l.6 1.7 1.6-.6 .1-.4-.7-1.7zM224.9 77.4l0-4.1-4.6-.5 .5 4.5 2.7 1.3 .2 0zM308.3 98.2l-.2 2 .8 .3 1.1-1.3 0-.6-.2-.5zM295 81.5l.4-.3 .5-1.1-.3-.8-2.2 .1-.4 1.2 0 .1zM304.5 56.8l-1.4 1.2 1.4 1.5 .9-.2 .2-.5-.6-1.9zM224.5 31l-1.1-.5-4.4 2.2-.1 .3 .2 1 1.5 1.3 3.7 .2 1.2-1zM237 81.1l1.6 3 3-.5 .5-1-.3-2.4-1.4-1.5-.7 .1zM304.5 68.7l-.6 1.1 .3 .6 1.8 .3 .2-.1-.6-1.9zM202.9 61.3l1.6 2.3 .7 .3 1.4-.4 2.4-3.9-.1-.7-5.2-1zM250.9 69.1l.2 1 1.5 .3 .2-1.4-1-.7zM258.4 81.3l1-1.1 0-1.1-2.1 .1-.3 1.2zM294.8 65.7l.4-1.6-1.6-.5-1 .4-.2 .5 .4 1.1zM218.1 56.5l-3.6 .4 .5 3.1 2.3 1 2.8-1.7zM285.2 77.4l-.3 1.3 .9 1.1 1.3-1.4-.9-1.6-.3 .1zM321.4 35.9l.1 0 .8-1.4-.1-.5-1.8-.2 .1 1.2-.2 .3zM254.3 46.3l.4-1.3-.7-1.1-.4 0-1.7 1.5 .4 1zM263.3 72.5l-.3 0-1.3 1.4 .5 1.2 1.1-.2 .7-1.4zM245.9 63.3l-2.8-1-1.3 1.2 .3 2.9 .1 0 3.6-1.7 .3-.8zM252.8 70.6l-.2-.2-1.5-.3-1.2 1.1 .4 1.3 1.7-.3 .8-1.1zM278.6 82l.3 .1 2-.8-.5-1.2-1.2-.3-.9 .7-.1 .6zM250.7 53.8l.2-.1 .7-2-.4-.6-.7-.1-1.5 1.1 .5 1.7zM239 63l-2-.5-1.7 2.1 2.4 2 1.1-.9zM256.3 99.2l0 .7 .8 .8 1.1 .1 .3-2-.4-.6-.8 .1zM278.3 63.4l.7-.1 .6-.5-.3-2-2.4 1-.1 .2 .1 .3zM243.9 90.5l.6-2.4-.7-1.4-.7-.3-3.1 2 .8 .7 .6 1.5 .2 1 .1 .2zM283.2 38.3l-.1-1.6-.4-.3-1.5 .2 0 1.5 .9 .5zM241.8 80.2l.3 2.4 3.3-.2 1-1.6-.4-1.8-.1-.2zM279.8 76.8l-1.1-.4-.2 .1-.7 1.4 1.3 .9 1.1-1zM231.9 74.9l1 2.7 1.9 .4 2-2 .1-1.3-.5-.5-2.3-.5zM238.8 65.7l-1.1 .9-.1 .6 1.9 2.6 2.5-1 .4-.6-.2-1.8-.1 0zM251.2 74.2l-1-1.4-2.3 1.6 .7 .9 2 .2zM298.1 53.3l1.3-.6 .1-1.6-.2-.2-.3 .2-.6 .5-.6 .4-.4 .4zM318 39.1l1 .2 .6-.2 .4-1.7-.8-.6-.3 .1-.2 1-.9 .2-.1 0zM282.3 49.7l.7-.9-.2-1.4-1.3 .2-.6 1.3 1 .9zM278.9 39.5l-.3 1.4 1 .4 1-1-.6-1.1zM316.2 57.2l-1.6 .4-.3 1.6 .4 .4 1 0-.2-.6 .3-.5 .6-1.2zM256.9 74.2l1.6-1.3-.3-.9-1.3-.7-.2 .2-.5 1.7zM280.3 87.1l-.7 1.6 .4 .5 1.7-.4 .2-.8-.7-1.2zM322.7 30.2l.2 .1 1.7-.9-1.1-.5-.6 .4-.4 .3zM263.3 57.4l-1.2-1.1-1.4 .4-.1 .1 .3 1.1 1.1 1 .4-.1zM300.9 82.3l.9-.3-.2-2-1.7 .1-.3 1.6 .1 .2zM299.8 78l-.5-1.1-2.3-.4-.3 1.1 1.8 1.4 .6-.1zM227.9 82.5l-1.1 .1-1.9 2.3 1.2 .2 1.3 .2 1.3 .2 1.2 .2 1.1 .1zM322.9 48.2l-2 .4 .6 1.2 .3 0 .6-.9 .8 .1 .3-.1z"/>
<path fill="#1292d7" stroke="#1292d7" d="M285.7 47.6l-.6 .2-.4 1.1 .3 1.1 1.4-.1 .7-.8-1-1.4zM242.4 59.5l.2-.1 1.2-3.6-1.1-.6-2 .4-.6 1.7 2.1 2.2zM223.5 78.6l-2.7-1.3-2.4 .8-.8 2.6 .4 .2 1.2 .7 1.1 .7 .9 .5zM257.3 79.2l2.1-.1-.7-1.8-.3-.2-1.3 .3-.5 .7zM243.1 62.3l-.7-2.8-.2 0-2.3 1.3-.4 1.8 2.3 .9zM217.8 28.4l-4 .3-.8 1.2 1.3 3.2 4.6-.1 .1-.3zM268.4 57.1l.3 .1 1.4-.6 .3-.9-1.4-.8-.3 .1-.7 1.4zM256.5 75l-.2 .7 .8 1.7 1.3-.3-.2-1.7-1.4-.6zM276.6 43.8l0-1.8-1.8-.6-.8 1.9 .1 0 2.5 .5zM296.6 56.3l-.3-1.5-1.1-.7-.4 .1-.8 1.7 1.9 .8zM286.4 73.8l1.2-.3-.3-2.2-.1 0-1.6 .6-.3 .5zM228.1 77.6l1.8 2.3 1 0 2-2.3-1-2.7-1.7-.6zM267.3 74.9l-1.6 .2 .1 1.6 1.2 .6 .9-.5zM207.7 49.7l3.6-.8 .8-3.3-1.2-1.5-3-.1-.9 .8-.4 3.9zM240.4 30.8l-.4 0-1-.1-1-.2-1-.1-.2 0 .1 2 .7 .3 2.4-.8zM275.6 63.8l-.6-.2-2.1 .5 .2 .7 1.4 .9 1.3-1.3zM251.9 45.4l-1.5-.6-.6 0-.5 1.2 1.5 1.6 1.3-.6 .2-.6zM257.1 100.7l-.8 1.6 1.4 .7 .7-.6-.1-1.6-.1 0zM233.3 82.6l-.4 2.1 .9 .1 1.1 .1 1.1 .1 1.1 .2 0 .1 .5 .5 1-1.7-1.6-3-1-.2zM302.2 69.5l-.6 .5 0 .7 .8 1 .8 .4 1-1.7-.3-.6zM271.1 88.1l.8 .3 1.2-.9-1.5-1.3-.7 .3zM285.8 80l0-.2-.9-1.1-1.4 .2-.6 .8 .1 1 1 .4zM262 63.6l.2 .8 1.5 .3 .9-1.3-1.4-.6-1.2 .8zM287.1 53.9l0 2 .1 .2 .6 .2 1.5-1.5-1.7-1.4zM294.9 89.4l-.3-.1-1.8 1.2 .3 .1 .8 1.3 .9 .1zM312 64.1l-1.5 1.2 1.1 1.5 1.3-.7-.7-2zM314.7 59.6l-.7 2.3 .2 .2 1.1 .2 .3-.8 .2-1.5-.1-.4zM240 31.9l1.6 2.2 1.8-.5 .5-2.4-.8 0-1-.2-1.1-.1-.6-.1zM213.4 70.6l.1 .1 3.8-1.5-.9-4.1-3.6-.3-.8 .9zM306.2 70.6l-.2 .1-.2 1.5 .1 .2 2 .6 .5-.3-.9-2.3zM274.6 67l-2-.1-.6 1.8 .8 .6 1.4-.3zM264.1 75.6l-.3 1.2 1.2 .5 .8-.6-.1-1.6zM290.4 53.4l1.6 .6 .9-.8 .2-1.4-.1-.2-.5-.4-1.4-.2-.7 2.3zM255.2 69.2l1.7 1.5 1.1-1.3 0-.7-.7-.6zM291.3 84.7l.9-2-.2-.3-1.6-.3-.7 .4 0 1.5zM267.4 94l.5 1 .7-.5 1.1-.6 .1 0-.3-1.7-1.5-.1zM273 85l1.2-1.3-.2-.4-2.1-.6-.6 .6 0 .5 .9 1.3zM247.6 37.7l-2.4-1.7-1.8 1.9 2.1 2.8 .1 0 2.1-2.7zM260.3 97.2l.1 1.9 .1 .2 2-1-.2-1-1.9-.2zM305.5 54.2l.2-.1 .6-1.4-.4-.8-.6-.3-1.2 .7 0 .7 1.3 1.2zM269.5 76.5l-.4-1.5-1.5-.5-.3 .4 .6 1.9 1 .3zM284.9 44.5l-.1 .7 1 .7 1.2-.4 .2-.7-1.2-1zM286.4 65.9l1.1 1.2 .8-.4 .5-1.2-.9-1-1.2 .1zM309.1 102.7l-.7 .1-1.1 1.3 .1 .1 .1 .3 .8 .9 .3-.2 .9-.7 .6-1zM250.9 56.4l.5-1.4-.7-1.2-1.2 0-.3 .3 .4 2.2zM291.2 76.8l.9-.8 .1-.9-.5-.5-1.8-.2-.3 .3 .3 1.4zM283.3 70.7l-1.6 1.2 0 .7 1.8 .7 .7-.7zM286.8 37.6l.4 .9 2-.4-.3-.6-.8-.3-.8-.3-.1 0zM232.7 63.4l-3.9-.8-.9 .5 .4 3.2 2.1 1.7 2.7-2 .4-1.3zM282.4 45.9l-1.2-.2-.5 .4-.1 .4 .9 1.1 1.3-.2zM296.6 59.8l.1-.4-1.3-.9-1.6 1.4-.1 .3 1.4 .8zM271.4 51.7l.5-.9-.9-1.4-.8 .1-.7 1 .7 1zM288.2 61.2l-.1-.5-1.4-.3-1.2 1.4 .5 .6 1.4 0zM265.5 35.4l2.3 1.1 .2-1.9-.6-.5-1.5 .3-.5 .6zM273.8 37.4l1.5-1.6-.3-.8-.3 0-.3-.1-1.1 .6 .4 1.8zM246.7 33.7l1.6 .5 1.2-1.3 0-1.1-.2-.1-1.1 0-1-.1-.6-.1zM269.4 61.3l.5-1.4-.6-.9-1.5 .4 .2 1.7zM267.9 92l.1 .1 1.5 .1 .1-.2 0-1.7-1.2-.7-.7 .4zM258.6 55.1l-1.6-.3-.5 1.8 .3 .3 1.3-.2zM261.3 93.1l1.3-.8-.3-1.3-.8-.3-1.8 1.2zM220.3 72.8l-.3-.3-4.1 2.3 .1 1.2 2.4 2.1 2.4-.8zM281.3 53.3l.2 .8 2 .4 .4-.3-.5-2-.1-.1-1 .1zM273.1 40.4l-1-1.2-.4 0-1 1.1 0 .2 1.1 1 .6-.1zM274.7 93.4l-.2-2.1-.2-.1-1.4 .3-.4 1.6 .1 0 1.3 .3 .7 .2zM301.9 89.3l.1-1-1-.8-1.3 .3-.6 1.4 1.3 .5zM224.6 39.3l-3.3 .8 .3 4.2 1.6 .6 3.7-3.9zM287 89.5l1.4 .7 1.2-1.3-.6-.9-1-.4-.1 .1-1 1.6zM209 59.6l3.6 2.6 2.4-2.2-.5-3.1-5.3 1.3-.3 .7zM263.6 50.7l0-.2-1.6-1.4-1 .4-.2 .9 1.8 1.4zM226.8 82.6l1.1-.1 2-2.6-1.8-2.3-3.2-.2-1.2 1.2zM305.2 49.5l-.3 .7 .4 1.4 .6 .3 1-.9-.3-1.2zM267.3 46.9l.6-.3 .2-1.9-1.3 0-.5 .9zM316 43.2l-1.4-1.4-1.3 1.7 1 .9 .4 .1zM285.6 39.2l1.4-.2 .2-.5-.4-.9-1.5-.5-.6 1.4zM302.9 86.1l.3 1.2 1.2 .4-.2-.6 .1-1.3 .1-.8zM269.8 86.2l0-1.4-1.4-.9-.9 0-.1 .1 .4 1.7 1.8 .7zM275.5 73.1l.3 .6 1.8 0-.1-1.5-1.3-.4zM259.2 92.2l.4 1.9 1.4 .5 .3-1.5-1.6-1.2-.2 0zM305 62.1l.3 .4 1.5 0 .3-1.2-1-1zM263.6 50.5l.8-1.2-.9-1.2-1.2 .4-.3 .6zM274.4 34.9l-.3-.2-.7-.3-1-.5-.4-.2 .1 1.3 1.2 .5zM264.3 86.1l-1.3-1.1-.8 .3 .2 2 1.5-.3zM222.1 64.7l-.6-5.1-1.4-.3-2.8 1.7 .3 3.2 4.4 .6zM278.7 35l-.1 0-.7-.1-.4 .8 .8 1.8 .8-.1 1-1.4zM262.5 98.3l-2 1 1.2 1.1 .1-.6 .9-1.3zM275.2 67.1l-.6-.1-.4 2 .4 .3 1.6-.3 .1-.9zM256.9 71.3l0-.6-1.7-1.5-.1 0-.5 .9 .4 1.4 1.7 0zM269.3 48.4l.9 1.1 .8-.1 .4-.6-.1-1.1-1.6-.5zM279 86.4l1.3 .7 .9-.3 0-.2-.6-1.6-1.7 .4zM252.3 57.4l.1 .1 2.1 0 .5-1-.2-.4-1.7-.7zM302 84.5l-1.3-.6-1.1 .8 .4 .9 1.1 .4 1-.4zM276.8 40.1l.8-1.5 0-.1-1.4-.7-1.2 .6 1 1.7zM240.1 57.3l-2.6 .7-.2 .8 2.6 2 2.3-1.3zM280.6 46.5l.1-.4-1.2-.7-1.2 1.1 .7 1.4zM269.1 75l.4 1.5 1.2-.2 .2-1.9-.6-.3zM255.4 37l-.1 .3 1 1.2 .9 0 .2-1.6-1.1-.4z"/>
<path fill="#0c86d2" stroke="#0c86d2" d="M301.1 62.6l.9 1.4 1.2-.6 0-1.1-1.4-.5zM280 67.5l.9 0 .4-1.5-.9-.6-.8 .1-.4 .3-.1 .2zM209.5 70.9l3.9-.3-1.4-4.9-2.1 .3-1.8 2.9zM203.4 57.6l.3 .3 5.2 1 .3-.7-.4-4-1-.9-3.4 1zM241.4 34.6l-2.9 1.4 1.5 2.9 .6 .1 1.8-1.2zM305.7 56.3l-.2-2.1-.1 0-1.6 .9 0 .9 .7 .8 .5 .1zM273.7 37.3l-.4-1.8-1.2-.5-1.1 1.5 .1 .3zM300.9 65.2l-.5 1.6 .3 .5 .8 .2 1.6-1.1-.1-.4-1.4-1zM258.4 77.1l.3 .2 1.8-1.1 0-.1-.8-1.2-.3-.1-1.2 .6zM202.3 52.3l1.7-3.2-1.9-1.6-2.7 .7-.2 .4-.7 .8 .4 1.2 .4 1.3-.2 .7zM248.1 42.5l-.4 0-2.3 3.7 2.5 .8 1.4-1 .5-1.2zM223.2 44.9l1.2 2.2 3.2 1 1.3-.4 .1-5-1.3-1.7-.8 0zM234.9 69.7l.3-.9-2.1-2.8-2.7 2 .2 1.9 3 .6zM272 61.3l.7 .9 1.6-.5 .4-.6-.1-.7-1.4-.7-1.2 .6zM255.6 82.6l.1 .8 1.4 .8 .8-.6 .2-1.2-2.2-.4zM309.7 73.1l1.5 .1 .2-2.2-1.2-.6-.1 .1-1 2.1zM246.7 60.9l-.8-1.2-3.3-.3-.2 .1 .7 2.8 2.8 1zM313.4 63.6l-1.2 .5 .7 2 .7 .2 1-1.1-.1-.4 .1-.1zM262 39.9l-.1 1.5 2 .3 .3-.3-.2-2-.6-.4zM246 79l2.7-.8 .3-.3-.4-2.6-.7-.9-.2 0-2.8 1.7 1 2.7zM255.6 78.3l1-.2 .5-.7-.8-1.7-1.5 1-.1 .7zM282.3 52.2l1-.1 .5-1.4-1.5-1-.4 .1-.3 .9zM292.8 65.6l-.4-1.1-2 0-.6 .8 1.1 1.5 .2 .1 1.6-1zM208.3 30l.5 .8 4.2-.9 .8-1.2-1.5-3.5-.6-.1-1-.3-.9-.3-.4-.1-.2 0-.1 .3 .2 .2-.2 .1zM212 65.7l.8-.9-.2-2.6-3.6-2.6-2.4 3.9 3.3 2.5zM212.4 40.9l-.2-.6-4-1.8-1.1 1.5 .8 4 3 .1zM247.5 50.3l-2.9-.9-.6 2.2 1.9 1.6 1.8-1.9zM295.2 54.1l.3-1.1-.6-.2-.2-.6-1.6-.4-.2 1.4 1.9 1zM258.7 66.2l-.8 .1-.7 1.5 .1 .3 .7 .6 .9-.4 .4-1.5zM266.7 80.7l0 1.6 .6 .6 1.4-1.6-.6-1zM282.9 79.7l-1.5-.8-1 1.2 .5 1.2 .7 .4 1.4-1zM318.5 48.1l-.8 .7-.1 .4 .9 .8 1 0 .9-1.7zM281.8 40.6l.3 .3 1.5-.3 .3-1.9-.7-.4-1.1 .3zM285.1 66.9l.9 1.2 1-.2 .5-.8-1.1-1.2-1 .2zM233.3 82.6l-2.4-2.7-1 0-2 2.6 3.1 3.3 .2 .1 1.2 .1 .1 0 .2-1.4 .2 .1zM318.2 51.4l-1 .2-.3 1.4 .9-.3 1-.6 .2-.1zM231.2 53.5l-.7-5.2-1.6-.6-1.3 .4-1.4 4.3 1.5 2.4zM297 64.3l.9-1.1-.7-1.3-1.6 .4 0 1.6zM275.2 59.9l1.6 0 .3-.2-.4-1.7-1.4 .5zM304.4 75.1l-1.4 .7 .8 1.4 1.4 .3 .7-1.7zM278.6 53.8l-.8-1.2-1.9 .4-.2 .2 1.5 1.7 .3 .1 1-1zM251.6 36.3l1.3 .5 .9-1.4-1.2-.9-1.2 .5zM273.8 43.3l-1.4-1.9-.6 .1-.8 1.6 .1 .2 2.3 .2zM265.8 38.8l.4 .5 1.4 .3 .7-1.8-.5-1-1.8 1.2zM264 39.4l.2 2 1.8 .1 .2-2.2-.4-.5zM277.5 46.2l.8 .3 1.2-1.1-.2-.6-1.6-.8-.3 .1zM270.2 45.4l-1.7-1.1-.4 .4-.2 1.9 1.7 .2zM252.1 39.9l-.3-1-.1 0-2.1 .6 0 1.9 .4 .1 1.8-.8zM287.1 51.4l-.7-1.5-1.4 .1-.1 .2 .7 1.8 1.3-.2zM262 75.4l.2-.3-.5-1.2-.8-.2-1.2 1.2 .8 1.2zM265.6 47.6l-.5 1.5 1.3 1.1 1-.5 .3-.8-.7-1.4zM272 60.3l1.2-.6 .2-1.7-.9-.6-1.2 .6 .2 1.9zM266.3 72.3l-.3-.6-1.1-.6-.9 .2-.7 1.2 .7 1 1.1 .3zM278.6 53.8l-.1 .2 1.4 1.5 1.2-.3 .4-1.1-.2-.8-.9-.4zM246 91.7l-2.1-1.2-2.2 1.3 .1 .7 1.3 1.1 1.1 .6 1.1 .6 .7-1.1 .3-.4zM254 92l-.7 .8 1.9 1.6 .4-.1 .3-1.3-.9-1.1zM265 81.2l-1.5-.6-.6 1.3 .2 .8 .8 .6 .3 0 .9-1.1zM258.4 97.5l1.9-.3 .1-.1-.1-1.1-1.6-.3-.5 .6zM307.1 64.4l-2.1-.3-.4 .3 1.1 2.3 1.6-2zM267.3 72.7l.4 .8 2.1-.4 .2-.9-.8-.7-.8 0zM295.4 58.4l-1.9-1-.7 .6 1 1.9 1.6-1.4zM305.2 49.5l-.1-.4-1.7-.5-.6 .4 .4 1.6 1.7-.4zM237.5 58l-.9-2.1-3.4-.4-.6 2.9 1.6 1.7 1.6 0 1.5-1.3zM276.3 36.3l1.2-.6 .4-.8-.2 0-.9-.2-.8-.2-.6 .3-.4 .2 .3 .8zM310.1 70.5l.1-.1 .1-.9-.8-1.1-1 0-.6 .5-.1 1.2zM279.6 73.4l1.9-.6 .2-.2 0-.7-.7-.6-1.9-.1zM283.7 74.9l-.2-1.6-1.8-.7-.2 .2 0 1.9zM293.7 72.6l-.8-.2-1 .4-.2 1.8 .5 .5 1.2-.5 .7-1.4zM278.5 58l.8-1.1-.1-.4-1.3-.5-.9 1.6zM300.4 75.2l-.7 .2-.4 1.5 .5 1.1 1.3-.2 .7-1.7zM310.1 67.5l-.7-1-1.2 .2 .3 1.7 1 0zM266.4 89.6l-.2 .1-.4 .9 .8 1.3 1.3 .1-.2-2zM290.6 78.7l0 1 2.4 .9 .4-1.2-.3-.9-1.9-.4zM268.2 40.6l.1-.2-.7-.8-1.4-.3-.2 2.2 .2 .1zM269.2 71.5l.8 .7 1.4-.5 .1-.2-1.1-1.9-.5 0zM271.3 83.8l-1.5 1 0 1.4 1.1 .3 .7-.3 .6-1.1zM290.8 69.2l.1 1.7 1.5-.1 .3-.5-1-1.6zM279.9 48.9l-.9-.9-1.5 .7-.2 .5 1.1 1.1 1.2-.5zM312.7 61.3l-1.2 .3-.6 .9 1.1 1.6 .2 0 1.2-.5 .8-1.5-.2-.2zM287 67.9l.7 1.2 1.2 .4 .7-.6-.1-1.1-1.2-1.1-.8 .4zM258 42.5l.4-1.6-.8-.8-1.3 .6-.3 1.7 1.1 .7 .1 0zM285.1 36.1l0-.2-.1 0-1-.5-1-.6-.1 0-.2 1.6 .4 .3zM313.4 72.6l-2.1 .7 .3 1.1 .5 .4 .2-.3 .6-1.3 .7-.1zM249.4 63.3l-.6 .8 .6 .7 1.7 .3 .7-.4 .2-1.1-.2-.6zM313.5 71.8l-.1 .8 .2 .5 .2-.1 .9-.2 .8-1.1zM285.6 89.1l-.1-.2-1.5-.1-1 1.5 .9 .8 .3-.1 .6 0zM314.7 51.3l.6 1.5 1.6 .2 .3-1.4-.6-.6-1.9 .2zM299.9 80.1l-.8-1.2-.6 .1-.9 1.2 .5 1.3 1.5 .2zM288.1 78.6l.8-.6-.1-1-1.2-.8-.8 .1-.6 .5 .9 1.6zM237 62.5l-1.2-2.4-1.6 0-1.5 3.3 .8 1.3 1.8-.1zM266 38l1.8-1.2 0-.1 0-.2-2.3-1.1-.6 1.4zM251.2 34.8l-.2-1.5-1.5-.4-1.2 1.3 .5 1 .2 .1zM246.3 71.1l-1.2-2.3-2.7-.6-.4 .6 1.1 3.4 .5 .2zM305.1 49.1l.6-1.4-.2-.4-1-.5-1.1 .3 .2 .4 .3 .5-.2 .3-.3 .3zM250.2 90.6l1.3 1.1 .3 0 .8-1.4-1.4-1.1zM285.9 76.9l.3-.1 .6-.5-.5-2.3-1.8 1zM298.9 59.7l-1.6-.6-.6 .3-.1 .4 .7 1.6 2.1-.5zM279.3 44.8l1.2-1.3 0-.6-.4-.2-1.6 .2-.8 1.1zM279.3 60.8l-.4-1.1-1.8 0-.3 .2 .1 1.9zM253.1 55.4l1.7 .7 .6-1.7-.6-.7-1.2-.1-.5 1.7zM260.8 89.5l.7 1.2 .8 .3 1-.9 .1-.6-1.2-1.3zM282.4 45.9l.4 1.5 1.3-.3 .1-1.5-1.1-.3zM307.9 73l-.2 .9 .6 1.2 1.2-.3 .2-1.7-.6-.5-.7 .1zM287.7 58.6l-1.3 .2 .3 1.6 1.4 .3 .4-.8zM279.1 78.8l.1 1 1.2 .3 1-1.2-.2-.7-1-.4zM274.9 86.2l-.9 .1-.9 1.2 .6 .7 1.5 0 0-1.7zM257.7 103l-1.4-.7-.5 .1 .4 1 1.3 .6 .2 .1zM292.2 43.6l-.1-1.8-.4-.3-1.3 .3-.2 2.1 .3 .2zM255.7 90.8l-1.8-1.2-.4 .5 .5 1.9 1-.1zM255.3 49l.4 1.2 1 .3 .6-1.5-1.5-.5zM265.7 87.6l-1.1 .2-.3 1.1 1.9 .8 .2-.1 .1-1zM274.2 83.7l.9 .3 1.1-1.1-.1-1.2-1.8-.3-.3 1.9zM272.1 81.5l-.6-1-.6-.1-1.3 1.2 .2 .9 1.5 .8 .6-.6zM289.3 61.7l-1.1-.5-.8 1.2 .8 .9 1.4-.5zM269.3 67l.9 .1 1.1-1-.7-1.3-1.4 0zM253.2 37.8l.6 .3 1.5-.8 .1-.3-1.3-1.7-.3 .1-.9 1.4zM261 49.5l1-.4 .3-.6-.7-1.7-.5 .1-1.2 1.5zM251.3 78.4l1.6 .8 .3-.2 .5-1.3-1.1-.7-1.3 1.4zM300.6 91.3l-1 .5 .8 .8 .6 .3 .4-1.1zM243.6 44.6l.4-2.8-2.5-.5-1.1 1.5 .8 2.2zM292 90.2l.3 .1 .5 .2 1.8-1.2-.3-.6-1.9-.2zM314.2 62.1l-.8 1.5 1.2 1.1 .4-1.5 .3-.9zM306.2 67.3l-.5-.6-2 .4 0 .6 .8 1 1.1 0 .6-.9zM214.9 45.6l-2.8 0-.8 3.3 2.1 1.8 3-2.6zM249.4 64.8l-.5 2.8 2.2-.6 0-1.9zM307.9 68.9l.6-.5-.3-1.7 0-.1-2 .7 0 .5zM295.1 61l-1.4-.8-.1 0-.4 1.3 .7 .9 1.3-.5zM287.6 49.1l-.5 0-.7 .8 .7 1.5 1.4-.7zM270.3 88.6l.1 1.1 1.5 .7 .3-.5-.3-1.5-.8-.3zM276.8 40.1l-.8 0-1.2 1.2 0 .1 1.8 .6 .9-.8zM249.6 39.5l2.1-.6-1.1-1.6-1.9 1zM258.3 58.7l.2 2.1 .1 .1 1.5-.7-.4-1.3-1.3-.2z"/>
<path fill="#0a7acd" stroke="#0a7acd" d="M203.4 57.6l1-3.3-2.1-2-3.2 .3-.1 .6-.2 1.2 .5 1.2 .5 1.1 0 .2zM240.3 46.3l.1 1.4 .8 .7 3 .2 1.2-2.4-1.8-1.6-2.4 .4zM286.3 84.3l1.2-.5 .1-.6-1-1.2-1.1 .6-.1 1.2zM216 76l-.1-1.2-2.1-2-3 2.5 1.6 3.2 .8 .1zM301.6 51.5l.2 .1 1-.3 .4-.7-.4-1.6-.1 0-.7 .5-.7 .5zM283.7 43.2l.8-1.1-.2-.9-.7-.6-1.5 .3-.3 1.2 1.5 1.1zM218.4 78.1l-2.4-2.1-2.8 2.6 .4 0 1.3 .2 1.2 .1-.3 .7 1.1 .6 .7 .5zM248.5 57.4l-1.9-.6-.7 2.9 .8 1.2 2.4-.5 .5-1.1 0-.2zM309.2 64.4l.9 .9 .4 0 1.5-1.2-1.1-1.6-1.2 .1zM238.4 39.8l1.6-.9-1.5-2.9-.4-.1-1.9 .8-.1 2.5zM271.5 71.5l1.3-1.2 0-1-.8-.6-.6 0-1 .9zM254.1 40.3l.5-.5-.8-1.7-.6-.3-1.4 1.1 .3 1zM233.9 48.8l1.4 2.8 .9 .1 1.3-.7 .4-2-1.5-1.2zM218.3 48.5l-1.9-.4-3 2.6 .3 2.2 .1 0 3.9-.3 1.4-2.9zM224.3 35.5l-3.7-.2-.2 4.1 .9 .7 3.3-.8zM239.5 62.6l.4-1.8-2.6-2-1.5 1.3 1.2 2.4 2 .5zM233 35.9l-2.8-3.2-2.4 2 1.5 4 2.6-.5zM297.2 73.3l-.3 .7 .5 1.4 1.6-.5-.3-1.6-.5-.2zM240.4 78.7l1.3-2.4-1.9-2.3-2.9 .7-.1 1.3 2.9 2.8zM260.3 96l.8-1.2-.1-.2-1.4-.5-1 .6 .1 1zM217.8 28.4l1.2 4.3 4.4-2.2-.7-2.7-1-.2-1-.2-1-.3-1-.2-.1 0zM274.3 90l0 1.2 .2 .1 1.9-.2 .4-.9-.9-1.1zM287.2 71.3l.1 0 1.7-.3-.1-1.5-1.2-.4-.8 1.1zM267.8 85.7l-.4-1.7-1.8 .5-.3 1 .8 1.1 1.1 0zM212.8 64.8l3.6 .3 1.2-.9-.3-3.2-2.3-1-2.4 2.2zM208.8 54.2l4.9-1.3-.3-2.2-2.1-1.8-3.6 .8 .1 3.6zM231.9 38.2l-2.6 .5-1.6 2.3 1.3 1.7 4.3 .1 .9-1.1 0-1zM285.4 68.7l.3 1.3 1.2 .2 .8-1.1-.7-1.2-1 .2zM230.6 69.9l-1.6 2.3 1.2 2.1 1.7 .6 2.2-1.2-.5-3.2zM210.2 34.8l-1.6-3.1-4.5 2.6 0 .2-.2 .6 4.2 2.7zM237.6 32.7l-.7-.3-1.5 .4-1.2 2.8 2 1.1 1.9-.8zM216.8 42.8l3.5 1.9 1.3-.4-.3-4.2-.9-.7-2.9 .7-1 1.8zM274.7 51l1.3 .4 .5-.4 0-1.4-1.3-.4-.5 .5zM312.4 70.7l-1 .3-.2 2.2 .1 .1 2.1-.7 .1-.8-.3-.6zM232 47.9l-1.5 .4 .7 5.2 1.2 .6 2.9-2.5-1.4-2.8zM284.1 47.1l-1.3 .3 .2 1.4 1.7 .1 .4-1.1zM259.9 35.1l1 .7 1.2-1-.4-1.1-.7-.3-1.3 1zM246.7 33.7l-.1-2.2-.4 0-1.1-.1-1-.1-.2-.1-.5 2.4 1.7 1zM220 72.5l-.4-2.5-2.3-.8-3.8 1.5 .3 2.1 2.1 2zM245.8 55.5l.2-.4-.1-1.9-1.9-1.6-1.7 .7 .4 2.9 1.1 .6zM258.1 82.4l-.2 1.2 1.4 1 1.3-1.4-.2-.5-2.1-.6zM296.1 67.4l2.3-.1 .3-.5-.4-1.2-1.1-.5-1.4 1.9zM258.5 98.8l1.9 .3-.1-1.9-1.9 .3-.3 .7zM295.7 84l-.1 1.5 .8 .8 1.3-.7 .1-.2-.9-1.6zM274.3 81.4l-.2-.2-2 .3-.2 1.2 2.1 .6zM290.6 86.4l1.2 1.1 .7-.6 .2-1.6-1.4-.4zM313.8 56.3l-1.1-1-.9-.1-.1 1.6 1 .8 1-.7zM230.4 68l-2.1-1.7-3.4 2.5 1.3 3.2 2.8 .2 1.6-2.3zM250.8 47.6l-1.5-1.6-1.4 1 .6 2 1 .2 1-.5zM285.5 82.6l1.1-.6 .3-1-1.1-1-1.8 1.1 .3 .9zM277.3 87.3l-1.4 1.5 0 .3 .9 1.1 .7-.2 1.1-1.5-.6-1zM277.3 94.1l-.7-1.5-1.9 .8-.1 .2 .5 .1 1.4 .3 .8 .3zM307.7 77.5l-2.1 .6-.1 .6 .8 1 1.4 .2 .2-.3zM208.6 31.7l.2-.9-.5-.8-3.1-.8 0 .5-.1 .9-.4 1.4-.2 1.4-.4 .9zM255.7 64.2l1.4-.4 .2-1-.9-1.2-1 .1-.7 .6 0 1.1zM269.5 50.5l.7-1-.9-1.1-1.6 .5-.3 .8 1 .9zM292.5 86.9l-.7 .6 0 .2 .6 .8 1.9 .2 .2-1.3-.2-.3zM252 63.6l-.2 1.1 1.7 1.2 .8-2.2zM277.6 38.5l.7-1-.8-1.8-1.2 .6-.1 1.5zM252.3 57.4l.8-2 0-.1-1.7-.3-.5 1.4 .7 .9zM209.2 24.4l-.2-.1-.2-.1 .3 .5zM310.2 70.4l1.2 .6 1-.3 .2-2-.8-.4-1.5 1.2zM274.7 61.1l2.1 .9 .1-.2-.1-1.9-1.6 0-.6 .5zM284.2 45.6l-.1 1.5 1 .7 .6-.2 .1-1.7-1-.7zM300.6 91.3l-.2-1.6-1.3-.5-.1 .1-.7 1.4 .9 .8 .4 .3zM290.5 56l1.1-.1 .6-.6-.2-1.3-1.6-.6-1 1.4zM240.4 42.8l1.1-1.5-.9-2.3-.6-.1-1.6 .9-.2 2.6zM302.6 74.2l-1.6-.6-.6 1.6 1.4 .9 1.1-.3zM270.9 53.5l.5 1.1 1.6-.6 .1-.2-.3-1-1.2-.7zM302.6 94l.5-.6-.1-.7-1.4-.9-.2 0-.4 1.1 .4 .3-.1 1.1zM289.6 74.7l.3-.3 .2-1.3-.9-.8-1.5 1.2 .9 1zM276.9 62.3l-.1-.3-2.1-.9-.4 .6 .7 1.9 .6 .2zM290.9 45.9l1.4 .1 .8-1.8-.9-.6-1.7 .5zM281.7 88.8l1 1.5 .3 0 1-1.5-.5-1.2-1.6 .4zM308.2 66.6l0 .1 1.2-.2 .7-1.2-.9-.9-1.6 .4zM320.4 41.2l.5-1.1-.3-.6-1-.4-.6 .2 .2 2.2zM265.9 80.2l-.9 1 .1 1 1.6 .1 0-1.6zM219 54.5l-.9 2 2 2.8 1.4 .3 2.4-1.7-2.1-3.7zM283.4 52.2l.5 2 1.1 .1 .5-.5-.2-1.4zM202.3 52.3l2.1 2 3.4-1-.1-3.6-1.1-1-2.6 .4zM253.8 98.3l.3 .3 1.1 1.2 0 .7 1.1-.6 0-.7-1.7-1.2zM289.5 67.8l1.4-1-1.1-1.5-1 .2-.5 1.2zM300.7 67.3l-.3-.5-1.7 0-.3 .5 .3 1.8 .3 .1 .9-.2zM301.7 55.2l1.2-.8 0-.7-1.3-1.1-.9 .7-.1 .6zM267 58.3l.1 .7 .7 .4 1.5-.4 .1-.2-.7-1.6-.3-.1zM282.3 77l-1.1 1.2 .2 .7 1.5 .8 .6-.8-.5-2zM319.5 50l.8 1.1 .3-.2 .7-.6-.4-.6 .6 .1-.6-1.2-.5-.3zM240.1 57.3l.6-1.7-1.3-1.3-2 .4-.8 1.2 .9 2.1zM205.5 69l2.6-.1 1.8-2.9-3.3-2.5-1.4 .4-.1 4.6zM282.7 44.2l.4 1.1 1.1 .3 .6-.4 .1-.7-1.2-1.3-.4 0zM276.6 43.8l-2.5-.5 .6 2.6 .9-.3zM285.4 83.8l.1-1.2-1.2-.6-.9 1.2 1.1 1.1zM257.8 94.2l.8 .5 1-.6-.4-1.9-1.3 .3zM273.5 89.4l.8 .6 1.6-.9 0-.3-.7-.6-1.5 0zM322.2 34l.3-.7-.2-.8-1.4-.7-.2 1-.3 .7 0 .3zM280.5 43.5l.8 .8 1.4-.1 .6-1-1.5-1.1-1.3 .8zM252.8 69l-.2 1.4 .2 .2 1.8-.5 .5-.9-.4-.5-.9-.3zM276.8 86.5l-1.6 0 0 1.7 .7 .6 1.4-1.5zM296.9 74l-1.3 .4-.3 1.1 1.7 .8 .4-.9zM261.2 77.5l-.9 1.3 1.7 .8 .1-.1 .7-1.6-.1-.2zM304.1 52.3l-1.3-1-1 .3-.2 1 1.3 1.1 1.2-.7zM291.7 68.7l1 1.6 .9-.3 .3-1-.6-1-1.6 .6zM214.5 56.9l3.6-.4 .9-2-1.3-1.9-3.9 .3zM269.6 34.1l.6 2 .8 .4 1.1-1.5-.1-1.3-.6-.3-.9 .2-.7 .1zM248.5 49l-.6-2-2.5-.8-1.2 2.4 .4 .8 2.9 .9zM293.9 55.9l-1.7-.6-.6 .6 .3 1.7 .5 .3 .4 .1 .7-.6zM283.8 64.2l-.1-.8-1.7-1-.9 .8 .1 .3 1.2 1.1zM270.2 36.1l-.6-2-1.6 .5-.2 1.9 0 .2zM303.2 78.1l-1.7 .1 .3 1.6 1.8 .1 .1-.1zM269.3 69.3l-1.8 .6 .9 1.6 .8 0 .7-1.9zM263 72.5l-1.9-1.2-.1 .1-.6 1.3 .5 1 .8 .2zM291.2 72.6l.7 .2 1-.4-.5-1.6-1.5 .1-.2 .2zM313.7 56.9l-1 .7-.2 1.3 .3 .2 1.5 .1 .3-1.6zM322.2 44.4l-.7 1.2 .4 .8 .9 .3 .4-.2 .3-.9-.7-.3 .1-.8-.3-.2zM260.4 66.7l.6 1.2 1.5-.5 .1-.9-.9-1.1-.7 .3zM265.8 90.6l-1.1 .5-.2 1.5 1.1 .4 1-1.1zM274.9 47.9l.3 1.3 1.3 .4 .8-.4 .2-.5-1-1.4zM263.4 96.4l-.6 .1-.5 .8 .2 1 .2 .2 .1-.1 1.1-.6 1-.5zM251.9 62.6l1.6-.9-.4-1.8-.4-.2-1.5 1.8zM310.3 69.5l1.5-1.2-.4-.9-1.3 .1-.6 .9zM258.5 60.8l-1.5 .1-.6 .7 .9 1.2 1.8-.5-.5-1.4zM207.9 74.1l.3 .2 .4 .6 2.2 .4 3-2.5-.3-2.1-.1-.1-3.9 .3zM234.1 73.7l2.3 .5 .6-2.9-2.1-1.6-1.3 .8zM202.7 68.6l-.3 1 .3 .8 1.1 .3 1.1 .4 .2 .3 .4-2.4-.4-.5zM262.7 32.8l1.2 .9 1.2-1.3-.4 0-1 0-1 0zM265 54.4l.7-.2 0-1.4-.8-.4-1.3 .9 0 .1zM204.5 63.6l-1.6-2.3-2.2 .1 .1 .1 .6 .5-.4 .7 .3 1.5 .3 1.2zM311.6 74.4l-1.4 .9 .1 .8 .5-.1 .8-.1 .5-1.1zM273.9 51.6l.1 0 .7-.6 0-1.3-1.4 0-.5 .9z"/>
<path fill="#086fc7" stroke="#086fc7" d="M205.1 68.5l.1-4.6-.7-.3-2.9 1.8 .1 .4 .7 1.2 .5 1.1-.2 .5zM249.5 32.9l1.5 .4 1.1-.6 0-.8-.8 0-1-.1-.8 0zM294.7 71l-1 1.6 .4 .6 .5 .1 1.7-.9 0-.5-1-1.1zM233.7 44.9l-.4-2.1-4.3-.1-.1 5 1.6 .6 1.5-.4zM277.8 41.3l.8-.4 .3-1.4-1.3-.9-.8 1.5 .7 1.1zM244.2 48.6l-3-.2-.5 3.3 1.6 .6 1.7-.7 .6-2.2zM272.4 78.2l2.2-1.1-.4-1-1.6-.3-.9 1.1 .1 .8zM249 81.9l-2.6-1.1-1 1.6 1 2.3 1.2 .3 1.2-.8 .4-2zM240.4 47.7l-2.5 1.3-.4 2 2.7 1 .5-.3 .5-3.3zM227.5 63l-5.4 1.7-.1 .1 .2 2.6 2.7 1.4 3.4-2.5-.4-3.2zM270.6 91.9l1.3-1.5-1.5-.7-.8 .6 0 1.7zM260.3 85.9l-1-.7-.9 .7-.1 1.2 .7 .7 .5 .1 .9-.9zM297.9 63.2l-.9 1.1 .2 .8 1.1 .5 1.5-1.1-.5-1.3zM249.6 59.3l3 .3-.2-2.1-.1-.1-.7-.1-2 1.8zM320.4 48.3l.1-.6-.9-1.5-1.4 .3 .3 1.6 1.9 .2zM258.7 95.7l-.1-1-.8-.5-1.3 .5 .3 1.3 1.4 .3zM259.5 91.9l.2 0 1.8-1.2-.7-1.2-.7-.2-1.1 1.1zM298 56.6l-1.4-.3-.7 .4-.5 1.7 0 .1 1.3 .9 .6-.3 .8-2zM254.5 74.5l2 .5 .3-.2 .1-.6-.7-1-1.8-.2-.2 .2zM205.1 71.4l.6 .7 .8 .4 .7 .4 .1 .9 .6 .3 1.6-3.2-1.4-2-2.6 .1zM272.4 45.8l2.2 .2 .1-.1-.6-2.6-.1 0-.2 0-.4 .2zM301.3 60.3l-1.8 .7 .3 1.6 1.3 0 .7-.8-.1-1.4zM291.1 51l1.4 .2 .7-2.5-.5-.3-.8 .1-1.5 1.8zM315.5 55.3l-1.7 1-.1 .6 .9 .7 1.6-.4zM324.1 35.3l.2 0 .6-1.5 0-.1-.4-.5-2 .1-.3 .7 .1 .5zM323.2 46.5l-.4 .2 .1 1.5 .6 .7 .4 0 .6-.1 .9-.3-.2-1.2-.1-.2zM320.9 48.6l2-.4-.1-1.5-.9-.3-1.4 1.3-.1 .6zM255.8 47.4l-1.3-.6-.8 1.6 .5 .6 1.1 0 .5-.5zM290.8 60.2l-.7-.6-1.6 .3-.4 .8 .1 .5 1.1 .5zM226.8 82.6l-3.1-4-.2 0-2.3 4.2 .2 .2 1.2 .6 1.1 .7 1.2 .6zM237.5 42.9l0 2.3 2.8 1.1 .9-1.3-.8-2.2-2.2-.4zM303.2 87.3l-1.2 1-.1 1 .8 .8 .2 0 .9-.3 .6-1.9 0-.2zM299.9 58l.2 .4 .3 .1 2-.5-.5-1.6-.3-.2-.8 .2zM204 49.1l2.6-.4 .4-3.9-4-1.1-.6 .5-.3 3.3zM321.9 38.3l-1.3 1.2 .3 .6 1.4 .3 .7-1-1-1.1zM296.7 77.6l-.9 .5-.2 1.2 .3 .8 1.7 .1 .9-1.2zM281.9 88l1.6-.4 .3-.5-1-1.3-1.6 .8 0 .2zM309.2 64.4l.5-1.8-.4-.3-2 .8-.2 1.3 .2 .3 .3 .1zM292.7 70.3l-.3 .5 .5 1.6 .8 .2 1-1.6-1.1-1zM315.5 55.3l-.9-1.4-.6 0-1.3 1.4 1.1 1zM269.8 73.1l-2.1 .4-.1 1 1.5 .5 1.2-.9zM277.8 84.8l-.6 .4-.4 1.3 .5 .8 .7 .2 1-1.1-.1-1-.6-.5zM258.2 75.4l1.2-.6-.7-1.8-.2-.1-1.6 1.3-.1 .6zM208.6 74.9l.3 .4 .7 1 0 .8 .2 1.1 1.3 .1 1.2 .2 .1 0-1.6-3.2zM280.2 51.1l-.3 .6 .5 1.2 .9 .4 1-1.1-.7-1.5zM295.6 85.5l.1-1.5-.1 0-2.2 .8 0 .1 1.1 1.3zM276.4 91.1l-1.9 .2 .2 2.1 1.9-.8 .1-.4zM294.7 45.4l-.3 .9 .5 .9 0 .1 1.3-.7-.1-.5-.2-.9zM262.1 79.5l1.4 .9 1-1.4-1.7-1.1zM315.2 48.3l.5-.8-.5-.9-1.6 .1-.5 1.2 .3 .4zM276.5 47.3l1 1.4 1.5-.7 0-.1-.7-1.4-.8-.3-.7 .3zM286.9 89.3l1-1.6-2.4-.9 0 2.1 .1 .2zM313.2 46l-1.3-.4-1.1 1.5 .7 1 1.6-.2 .5-1.2zM298.9 59.7l.5 1.2 .1 .1 1.8-.7-.9-1.8-.3-.1zM262.2 75.1l-.2 .3 .9 1.9 .9-.5 .3-1.2-.8-.7zM285.1 66.9l.3-.8-1-1.2-1.2 1.8 .1 .5 .1 0zM311.7 56.8l-1.1 .6-.1 1.2 .4 .5 1.6-.2 .2-1.3zM300.8 56.4l.8-.2 .1-1-1.1-1.3-1.6 1.4zM307.5 70.4l.9 2.3 .7-.1 1-2.1-2.3-.4zM297 76.3l0 .2 2.3 .4 .4-1.5-.7-.5-1.6 .5zM255 39.8l1.3-1.3-1-1.2-1.5 .8 .8 1.7zM276.6 66l.2-.9-1-.7-1.3 1.3 .1 1.3 .6 .1zM294.7 71l.6-.2 .3-.5-.4-1.3-1.3 0-.3 1zM277.9 74l-.3-.3-1.8 0-.5 1 1.3 1zM236.7 45.7l-3-.8-1.7 3 1.9 .9 2.5-1zM260.4 72.7l.6-1.3-1.1-.8-.4 0-1.3 1.4 .3 .9 .2 .1zM278.6 88.5l-1.1 1.5 1.4 .9 1.1-1 0-.7-.4-.5zM324.8 35.9l-.2 1.8 1.3 .5 .8-1.3-.3-.8zM217.7 52.6l1.3 1.9 2.8-.3 .9-2.1-.8-1.8-2.8-.6zM308.8 61.1l-1.7 .2-.3 1.2 .5 .6 2-.8zM324.3 31.8l-1.1-.4-.9 1.1 .2 .8 2-.1zM288 87.6l.1-1.8-1.8-.3-.9 .9 0 .2 .1 .2 2.4 .9zM315.5 49.2l-.3-.9-1.8 0 .1 1.4 1 .7zM242.7 55.2l-.4-2.9-1.6-.6-.5 .3-.8 2.3 1.3 1.3zM289.5 39.8l1.5-.3-.2-.2-.1-.6-.5-.1-.4 .2-.6-.5 0-.1 .3 1.5zM327.2 34.6l-.4-1-.9-.7-.1-.1-.9 .9 0 .1zM293.4 67.6l2.2-.7-.8-1.2-2-.1-.1 .3zM220.6 35.3l-1.5-1.3-2.9 3.5 1.3 2.6 2.9-.7zM307.9 73l-2-.6-.3 1.3 .7 .8 1.4-.6zM297.5 71.1l-1.2 .8 0 .5 .9 .9 1-.2 .1-1.6zM234.2 41.7l3.3 1.2 .7-.5 .2-2.6-2.3-.6-1.9 1.5zM287.3 71.3l.3 2.2 .1 0 1.5-1.2 .1-1.1-.3-.2zM252.7 33.2l-.1 1.3 1.2 .9 .3-.1 .3-.4-.2-1.9zM259.3 64.4l0-.1-1.7 0-.2 1.4 .5 .6 .8-.1zM295.9 56.7l-1.9-.8-.1 0-.4 1.5 1.9 1zM318.5 50l-.3 1.4 .8 .6 .9-.5 .4-.4-.8-1.1zM318.5 48.1l-.3-1.6-.5-.3-1.3 1.3 1.3 1.3zM297.5 69.5l-1.4-1.7-.9 1.2 .4 1.3 1.8-.7z"/>
<path fill="#0865c0" stroke="#0865c0" d="M236.7 45.7l-.3 2.1 1.5 1.2 2.5-1.3-.1-1.4-2.8-1.1zM223.4 30.5l1.1 .5 3.5-2.1-.2-.1-1-.2-1-.2-1-.2-1-.2-1-.2-.1 0zM216.2 37.5l2.9-3.5-.2-1-4.6 .1-1.6 2.1 1.1 1.9zM306.9 51l-1 .9 .4 .8 1.1 .1 1-1.4zM307.3 63.1l-.5-.6-1.5 0-.3 1.6 2.1 .3zM227.6 48.1l-3.2-1-2.5 3.2 .8 1.8 3.5 .3zM308.5 58.5l2 .1 .1-1.2-1.2-1.5-.1 0-.9 2.4zM321.5 45.6l-1.4-.3-.5 .9 .9 1.5 1.4-1.3zM264 39.4l1.8-.6 .2-.8-1.1-1.2-1.4 .1-.2 1.7 .1 .4zM302.3 69l-.1 .5 1.7 .3 .6-1.1-.8-1zM202.1 47.5l.3-3.3-1.9-.2 0 .7-.3 .7-.2 1.2-.2 1.2-.4 .4zM279.2 65.8l-1.9-.8-.5 .1-.2 .9 1 1.3 .2 .1 1.3-1.4zM252.6 77l-.1-.9-1.5-.1-.7 1.8 1 .6zM303 92.7l.6-1-.7-1.6-.2 0-1.1 1.7zM307.4 49.3l-.1-1.3-1.6-.3-.6 1.4 .1 .4 1.4 .3zM262.7 69.7l.8-1.2-1-1.1-1.5 .5-.2 .7 1.6 1.1zM246 91.7l2.1-1.6-.1-1.6-3.5-.4-.6 2.4zM307.3 48l.9-.7-.2-.9-1.5-.6-1 1.5 .2 .4zM246.6 56.8l-.8-1.3-2 .3-1.2 3.6 3.3 .3zM236.6 55.9l.8-1.2-1.2-3-.9-.1-2.9 2.5 .8 1.4zM309.5 45.4l-.7 0-.8 1 .2 .9 .8 .4 1.7-.7zM305.6 68.7l.6 1.9 1.3-.2 .3-.3 .1-1.2-1.7-1.1zM301.6 70l-1.7-1-.9 .2 .3 1.9 .7 .4 1.6-.8zM306.5 45.8l-.1-.6-.4 .1-1 .1-.4 .1-.1 1.3 1 .5zM233.3 42.8l.4 2.1 3 .8 .8-.5 0-2.3-3.3-1.2zM305.4 59.3l.7 .8 2.1-.7 .3-.9-.1-.2-1-.5-1.8 1zM308.4 102.8l.7-.1 .2-1.5-.4-.7-.8-.3-1.2 .4-.1 .9zM236.1 39.2l.1-2.5-2-1.1-1.2 .3-1.1 2.3 2.3 2.5zM311.7 45l.9-1.6-.2-.2-1.6-.2-.7 .4 .3 1.1zM322.8 37.2l1.6 .6 .2-.1 .2-1.8-.5-.6-.2 0-1.4 1.4zM212.4 40.9l-1.5 3.2 1.2 1.5 2.8 0 1.9-2.8-.3-.9zM309.2 51.9l-.8-.5-1 1.4 .7 .9 1.3 .1zM307.3 64.7l-1.6 2 .5 .6 2-.7-.6-1.8zM303.7 97.4l.3-.7-.3-.7-.1 0-2.1 .1 0 .3 .3 .9 .4 .5zM308.3 98.2l1.5-.1-.4-.7-.5-1.2-.4-.8-.6 1 .1 1.6zM202.4 44.2l.6-.5 0-3.4-.8-.9 0 .2-.9 1.2-.9 1.2 .1 1.3 0 .7zM208.6 31.7l1.6 3.1 2.5 .4 1.6-2.1-1.3-3.2-4.2 .9zM303.7 97.4l.4 1.5 1.8 .3 .4-.8-.6-1.5-1.7-.2zM313.1 51.9l-.1 1.1 1 .9 .6 0 .7-1.1-.6-1.5zM282.1 94.5l1.1 .6 1-.3-.4-.7-1-.3zM213.8 28.7l4-.3 .8-1.5-.9-.3-1-.2-1-.3-1-.2-1-.3-1-.2-.4-.2zM279.8 76.8l.4 1 1 .4 1.1-1.2-1.2-1.3zM305.5 90.4l-.7 1.4 .5 1 1.4 0 .2-.1-.4-.6-.7-1.1-.3-.6zM299.8 62.6l-.5 .6 .5 1.3 1.1 .7 .7-.2 .4-1-.9-1.4zM299 74.9l.7 .5 .7-.2 .6-1.6-.1-.2-.9-.6-1.3 .5zM310.9 51.4l-.8-1.8-.8-.1-.6 .3-.3 1.6 .8 .5zM310.1 43.4l.7-.4-.3-1.7-.3-.2-.4 .7-.9 1-.2 .3zM301.5 67.5l-.8-.2-.8 1.7 1.7 1 .6-.5 .1-.5zM272.9 91.5l-1-1.1-1.3 1.5 1.6 1.2 .3 0zM234.2 35.6l1.2-2.8-2-1.5-3.2 1.4 2.8 3.2zM283.5 54.5l-2-.4-.4 1.1 .7 1.1 1.5 .4zM308.4 51.4l.3-1.6-1.3-.5-.8 .5 .3 1.2 1.5 .4zM304.1 53l-1.2 .7 0 .7 .9 .7 1.6-.9zM303.7 67.1l-.6-.7-1.6 1.1 .8 1.5 1.4-1.3zM308.9 100.5l.4 .7 1-.1-.1-1-.2-.9zM303.8 89.8l1.7 .6-.3-.6-.7-1.5-.1-.4z"/>
<path fill="#085ab8" stroke="#085ab8" d="M217.5 40.1l-1.3-2.6-2.4-.4-1.6 3.2 .2 .6 4.1 1zM326.4 36.1l.3 .8 1 .4 .9-.8 0-1-1.2-.6zM318.9 42.3l0-.5-1.8-.9-.3 .2-.4 2 .9 .5zM312 51.2l.3-1-1-1.6-1.2 1 .8 1.8 .2 .1zM305 62.1l1.1-1.8 0-.2-.7-.8-.9 .2-.8 .9 .2 1.3zM295.6 70.3l-.3 .5 1 1.1 1.2-.8-.1-1.5zM317.4 45.3l.2-.7-.3-1-.9-.5-.4 .1-1.3 1.3 .8 1.1zM319.6 39.1l1 .4 1.3-1.2-1.3-1-.6 .1zM322.3 32.5l.9-1.1-.3-1.1-.2-.1-1.6 .5-.2 .9 0 .2zM310.5 58.6l-2-.1-.3 .9 .7 1.5 1.8-1.1 .2-.7zM298.7 69.1l-.3-1.8-2.3 .1 0 .4 1.4 1.7zM279.1 92.1l.4 .5 1 0 .6-.6 .3-.7-1.4-1.4-1.1 1zM321.5 42.2l-1.1-1-1.2 .3-.3 .3 0 .5 1.2 1.3 .9-.2zM320.1 43.6l-1.2-1.3-1.6 1.3 .3 1 2.2 0zM302 64l-.4 1 1.4 1 1.5-1.6-1.3-1zM209.1 25l-.5 .2-.2 1.2-.8-.2-.8-.3-.7-.5-.7-.6-.1 1.3-.1 1.3 0 1.1 0 .7 3.1 .8zM316.8 41.1l-2.1-.3-.2 .4 .1 .6 1.4 1.4 .4-.1zM283 90.3l-.3 0-1.3 1-.3 .7 1.7 .9 .9-.8-.5-.7 .7-.3zM306.1 95l.4-.3 .2-1.9-1.4 0-.7 .9 .3 .9zM208.2 38.5l-.1-.7-4.2-2.7-.2 .4-.4 1.1-.6 1.5-.5 1.3 .8 .9 4.1-.3zM301.9 56.4l1.9-.4 0-.9-.9-.7-1.2 .8-.1 1zM226.2 72l-1.3 1.3 0 4.1 3.2 .2 2.1-3.3-1.2-2.1zM297.5 71.1l.8 .4 1-.4-.3-1.9-.3-.1-1.2 .4-.1 .1zM325.9 38.2l-1.3-.5-.2 .1-.6 1.5 .8 .8 .4-.3 .6-.6 .6-.4zM306.1 60.3l1 1 1.7-.2 .1-.2-.7-1.5-2.1 .7zM322.9 30.3l.3 1.1 1.1 .4 1-.8-.2-.4-.4-1.2-.1 0zM279 93.6l-1.7 .5 0 .2 .6 .2 1.1 .6 .5-.1zM308.1 53.7l-.8 .9 .4 1.2 1.6 .1 .1 0 .4-.7-.4-1.4zM309.1 102.7l1 .8 .1-.2 .1-1.7 0-.5-1 .1zM312.3 39.5l-.4 .1-.6 .4-.6 .3-.5 .8 .3 .2 1.6-.3zM316.6 51l.3-1.4-1.4-.4-1 1.2 .2 .8zM303.6 91.7l1.2 .1 .7-1.4-1.7-.6-.9 .3zM306.2 100l-.3-.8-1.8-.3-.6 .7 1.3 1 .1 .2zM322.7 41.8l-1.2 .4-.5 1.2 1.2 1 .4-.1-.3-.3 .2-.9 .3-1.2zM324.9 33.8l-.6 1.5 .5 .6 1.6 .2 1-1.2-.2-.3zM317.2 51.6l1-.2 .3-1.4-.9-.8-.7 .4-.3 1.4zM310.9 62.5l.6-.9-.8-1.8-1.8 1.1-.1 .2 .5 1.2 .4 .3zM301.7 60.4l.1 1.4 1.4 .5 .7-.6-.2-1.3-1.5-.3zM316.9 49.6l.7-.4 .1-.4-1.3-1.3-.7 0-.5 .8 .3 .9zM322.7 36.7l1.4-1.4-1.8-.8-.8 1.4zM315.5 45.6l-.8-1.1-.4-.1-1.1 1.6 .4 .7 1.6-.1zM315.7 38.6l-.9 .3-1 .2-.1 .1 1 1.2 1.2-1.1zM304.5 64.4l-1.5 1.6 .1 .4 .6 .7 2-.4-1.1-2.3zM312.4 43.2l.2 .2 .7 .1 1.3-1.7-.1-.6-2.1 .1zM308.4 102.8l-1.6-1.3-.9 1.1 .6 .5 .8 1zM323 39.4l.8-.1 .6-1.5-1.6-.6-.8 1.1zM237.4 54.7l2-.4 .8-2.3-2.7-1-1.3 .7zM304 96.7l1.7 .2 .2-.2 .2-1.7-1.2-.4-1.2 1.4zM305.6 58.8l1.8-1-.4-1.3-1.3-.2-.7 .6zM310.4 44.5l-.3-1.1-1.4-.3-.1 .1-.3 1.2 .5 1 .7 0zM302.4 58l-2 .5 .9 1.8 .4 .1 .5-.3zM311.9 45.6l-.2-.6-1.3-.5-.9 .9 1.2 1.6 .1 .1zM305.3 92.8l-.5-1-1.2-.1-.6 1 .1 .7 1.5 .3zM256.9 50.8l-.4 1.4 .6 .6 1.4-.1 .1-1.9zM326.7 36.9l-.8 1.3 .3 .6 .4-.3 .5-.6 .5-.6 .1 0zM321.9 38.3l.1 0 .8-1.1-.1-.5-1.2-.8-.1 0-.8 1.4zM282.8 92.9l0 .9 1 .3-.2-.2 .5-1.3-.4-.5z"/>
<path fill="#0a4baa" stroke="#0a4baa" d="M227.8 34.7l-2.3-.2-1.2 1 .3 3.8 2.3 1.7 .8 0 1.6-2.3zM307 56.5l.7-.7-.4-1.2-1.6-.5-.2 .1 .2 2.1zM230.2 32.7l3.2-1.4 .3-1.4-.8-.2-1-.1-1.1-.2-1-.2-1-.2-.1 0zM221.9 50.3l2.5-3.2-1.2-2.2-1.6-.6-1.3 .4-2 3.8 .8 1.2zM207 44.8l.9-.8-.8-4-4.1 .3 0 3.4zM320 37.4l.6-.1 .8-1.4-1.1-.6-.4 1 0 .5-.7 0zM313.4 48.3l-.3-.4-1.6 .2-.2 .5 1 1.6 1.2-.5zM306.7 92.8l-.2 1.9 2 .7-.2-.4-.5-1.2-.7-.8-.2-.3zM303.6 96l-1-2-1.3 .3 0 .1 0 1.1 .2 .6zM321 43.4l-.9 .2-.3 1 .3 .7 1.4 .3 .7-1.2zM306.3 52.7l-.6 1.4 1.6 .5 .8-.9-.7-.9zM220.3 44.7l-3.5-1.9-1.9 2.8 1.5 2.5 1.9 .4zM228.7 29l-.7-.1-3.5 2.1 1 3.5 2.3 .2 2.4-2zM306.5 106.3l.2-.1 1-.3 .6-.5-.8-.9 0 .4-.9 .5-.5 .2zM323.8 39.3l-.8 .1-.7 1 .4 1.4 .1 .1 .1-.2 .6-.7 .8-.6 .3-.3zM309.8 55.2l2 0 0-1.6-.7-.6-1.7 .8zM308.4 58.3l.9-2.4-1.6-.1-.7 .7 .4 1.3zM276.6 92.6l.7 1.5 1.7-.5 .5-1-.4-.5-2.4 .1zM233.4 31.3l2 1.5 1.5-.4-.1-2-.9-.2-1-.1-1-.2-.2 0zM280.5 92.6l-1 0-.5 1 .5 1.4 .5 0 .9-.2 .5-.3zM213.8 37.1l-1.1-1.9-2.5-.4-2.1 3 .1 .7 4 1.8zM304.1 98.9l-.4-1.5-1.5 .4 .5 .6 .8 1.2zM306.3 98.4l1.7-.4-.1-1.6-2 .3-.2 .2zM317.2 39.8l-1.3-.5-1.2 1.1 0 .4 2.1 .3 .3-.2z"/>
<path fill="#0a3c9b" stroke="#0a3c9b" d="M317.7 46.2l-.3-.9-1.9 .3-.3 1 .5 .9 .7 0zM306.8 101.5l.1-.9-.7-.6-1.3 .8 .6 1.3 .4 .5zM303.7 60.4l.8-.9-1.4-1.5-.7 0-.2 2.1zM276.8 90.2l-.4 .9 .3 1.1 2.4-.1-.2-1.2-1.4-.9zM311.3 48.6l.2-.5-.7-1-.1-.1-1.7 .7 .3 1.8 .8 .1zM318 39.1l-.3-1-.9 .3-1 .2-.1 0 .2 .7 1.3 .5zM310.5 41.3l.3 1.7 1.6 .2 0-1.9-.3-.3zM320.9 40.1l-.5 1.1 1.1 1 1.2-.4-.4-1.4z"/>
<path fill="#08287d" stroke="#08287d" d="M202.9 61.3l.8-3.4-.3-.3-3.6-.7-.2 .7 .9 1.1-.1 .9-.1 .9 .4 .9z"/></g>
<use href="#bd" fill="none" stroke="#000" stroke-width=".62" stroke-opacity=".9"/>
<use href="#ol" fill="none" stroke="#000" stroke-width=".5" stroke-opacity=".75"/>
<g><rect x="345.1" y="13.3" width="5.3" height="104.5" fill="url(#cb)" stroke="#333" stroke-width=".3"/><path d="M350.4 117.80h1.2" stroke="#333" stroke-width=".3"/><text x="352.9" y="119.80" font-size="2.9">0</text><path d="M350.4 96.90h1.2" stroke="#333" stroke-width=".3"/><text x="352.9" y="98.90" font-size="2.9">20</text><path d="M350.4 76.00h1.2" stroke="#333" stroke-width=".3"/><text x="352.9" y="78.00" font-size="2.9">40</text><path d="M350.4 55.10h1.2" stroke="#333" stroke-width=".3"/><text x="352.9" y="57.10" font-size="2.9">60</text><path d="M350.4 34.20h1.2" stroke="#333" stroke-width=".3"/><text x="352.9" y="36.20" font-size="2.9">80</text><path d="M350.4 13.30h1.2" stroke="#333" stroke-width=".3"/><text x="352.9" y="15.30" font-size="2.9">100</text></g>
<text x="264.4" y="18.7" font-size="3.8" text-anchor="middle" fill="#222">Social</text>
</g>
<g transform="translate(-182 127)">
<g stroke-width=".2" stroke-linejoin="round"><path fill="#f3f9fe" stroke="#f3f9fe" d="M271.1 55.4l1.3 1.1 1.2-.9-.6-1.6-1.6 .6zM253.8 68.4l.9 .3 .7-2.1-.1-.3-1.7-.3-.5 .8zM271.3 83.3l-1.5-.8-1.4 1.4 1.4 .9 1.5-1zM272.4 56.5l-1.3-1.1-.7 .3-.3 .9 .8 1.3 .4 .1 1.2-.6zM262 39.9l-.1 1.5 2 .3 .3-.3-.2-2-.6-.4zM267.3 74.9l-1.6 .2 .1 1.6 1.2 .6 .9-.5zM260.3 96l.8-1.2-.1-.2-1.4-.5-1 .6 .1 1zM275.6 63.8l-.6-.2-2.1 .5 .2 .7 1.4 .9 1.3-1.3zM264 39.4l1.8-.6 .2-.8-1.1-1.2-1.4 .1-.2 1.7 .1 .4zM299 55.3l-1-1.5-1.7 1 .3 1.5 1.4 .3 1-1.3zM250.9 69.1l.2 1 1.5 .3 .2-1.4-1-.7zM249.6 80.4l-.9-2.2-2.7 .8 .4 1.8 2.6 1.1zM257.7 39l-.1 1.1 .8 .8 1.4-.1 .3-1.1-1-1.2zM250.3 86.4l1.2 0 .7-1.4-.6-.6-1.9 .2zM264.3 88.9l-.9 .6-.1 .6 1.4 1 1.1-.5 .4-.9zM262.7 69.7l.8-1.2-1-1.1-1.5 .5-.2 .7 1.6 1.1zM258.4 81.3l1-1.1 0-1.1-2.1 .1-.3 1.2zM310.2 75.3l-.7-.5-1.2 .3-.4 1.1 .3 .8 1 .2 .8-1.1 .3 0zM258.1 82.4l-.2 1.2 1.4 1 1.3-1.4-.2-.5-2.1-.6zM260.9 53.1l1.7-1.3-1.8-1.4-.4 .4-.3 2.1zM289 46.1l1.6 .1 .3-.3-.4-1.8-.3-.2-1.7 .2-.2 .3zM258.5 98.8l1.9 .3-.1-1.9-1.9 .3-.3 .7zM274.3 81.4l-.2-.2-2 .3-.2 1.2 2.1 .6zM264.1 75.6l-.3 1.2 1.2 .5 .8-.6-.1-1.6zM313.6 68.4l-1 .3-.2 2 .8 .5 1.6-1.5 .1-.4zM283.3 67.2l-1.9 .8 0 1.3 1.8 .4 .6-1-.4-1.5zM290.6 46.2l-1.6-.1-1 .9 .6 1.2 .7 .1 1.2-.9zM263.3 72.5l-.3 0-1.3 1.4 .5 1.2 1.1-.2 .7-1.4zM258.2 75.4l1.2-.6-.7-1.8-.2-.1-1.6 1.3-.1 .6zM290.2 43.9l.2-2.1-.5-.3-1.3 .4-.5 1.2 .4 1zM294.1 43.8l-.2 .2 .8 1.4 1.2-.2-.1-.2-.3-1.1-.3-.6zM257.2 92.2l.7 .3 1.3-.3 .3-.3-.5-1.5-.8-.4-1.3 1.1zM256.7 50.5l.2 .3 1.7 0 .1-.1-.3-2.2-1.1 .5zM260.8 103.8l-.3 1.4 .2 .1 1.2-.3-.3-1.4zM293.5 48.7l-.3 0-.7 2.5 .5 .4 1.7-1.2 0-.8zM284.5 56.6l1.3 .8 1.4-1.3-.1-.2-1.9-.7zM283.4 57.5l-1.2 1.5 .8 .8 1.6-.1 .3-.5zM278.3 63.4l.7-.1 .6-.5-.3-2-2.4 1-.1 .2 .1 .3zM260.5 76.2l.7 1.3 1.5 .2 .2-.4-.9-1.9-1.5 .7zM264.4 55.9l.6-1.5-1.4-1-.9 1.1 .1 .5zM265.5 35.4l2.3 1.1 .2-1.9-.6-.5-1.5 .3-.5 .6zM250.9 80l.8 .7 .9-.4 .3-1.1-1.6-.8zM255.9 82l2.2 .4 .2-.3 .1-.8-1.4-.9-1.3 .4zM262 63.6l1.2-.8 .1-1.5-2 0-.1 .1zM306.1 75.7l-.2 .1-.7 1.7 .4 .6 2.1-.6 .5-.5-.3-.8zM250.3 77.8l-1.3 .1-.3 .3 .9 2.2 1.3-.4 .4-1.6zM272.2 46.7l-.9 1 .1 1.1 1.5 0 .6-1zM299.9 80.1l-.8-1.2-.6 .1-.9 1.2 .5 1.3 1.5 .2zM261.9 95l.9 1.5 .6-.1 1-1.4-.9-1.2zM267.4 32.9l.3-.2-.1-.4-.2-.9-.6-.2 0 1.2-.7 0zM251.2 74.2l-1-1.4-2.3 1.6 .7 .9 2 .2zM260.4 72.7l.6-1.3-1.1-.8-.4 0-1.3 1.4 .3 .9 .2 .1zM287.4 62.4l-1.4 0 0 1.6 .7 .6 1.2-.1 .3-1.2zM296.4 86.3l-.8-.8-1.1 .7-.2 .9 .2 .3 1.8-.2zM261 33.4l-.4-1.1-1 0-.1 0-.8 1.4 1 .7zM251.8 68.3l1 .7 1-.6-.7-1.6-1.4 .5zM283.8 64.2l-.1-.8-1.7-1-.9 .8 .1 .3 1.2 1.1zM260.8 89.5l.7 1.2 .8 .3 1-.9 .1-.6-1.2-1.3zM257.2 38.5l-.9 0-1.3 1.3 1.3 .9 1.3-.6 .1-1.1zM255.3 49l.4 1.2 1 .3 .6-1.5-1.5-.5zM300.9 82.3l.9-.3-.2-2-1.7 .1-.3 1.6 .1 .2zM254.4 73l1.8 .2 .5-1.7-1.7 0-.6 .8zM310.1 65.3l-.7 1.2 .7 1 1.3-.1 .2-.6-1.1-1.5zM265.1 62l1.5-.4-.6-1.8-.7-.1-1 1.5zM263.5 36.9l-.2-.3-2.2 .2-.2 .5 .4 .7 2 .6zM282.9 85.3l1.4-.5 .2-.5-1.1-1.1-.6 .1-.5 1.1zM258.5 60.8l-1.5 .1-.6 .7 .9 1.2 1.8-.5-.5-1.4zM267.2 86.6l-1.1 0-.4 1 .8 1 1.2-1zM250 41.5l1.7 1.4 .5-.1 .4-1.1-.8-1zM269.1 75l.4 1.5 1.2-.2 .2-1.9-.6-.3z"/>
<path fill="#e6f3fc" stroke="#e6f3fc" d="M258.2 100.8l.1 0 1.4 0 .8-1.5-.1-.2-1.9-.3zM280 67.5l.9 0 .4-1.5-.9-.6-.8 .1-.4 .3-.1 .2zM263.9 43.3l-2 .6-.3 .6 .8 1.4 .7 .1 1.4-1.9 0-.1zM285.1 36.1l.2 1 1.5 .5 .4-.7-1-.5-1.1-.5zM285.7 47.6l-.6 .2-.4 1.1 .3 1.1 1.4-.1 .7-.8-1-1.4zM305.2 77.5l-1.4-.3-.6 .9 .5 1.7 1.8-1.1 .1-.6zM285.2 77.4l.7-.5-1.4-1.9-.8-.1-.6 1.9zM257.3 79.2l2.1-.1-.7-1.8-.3-.2-1.3 .3-.5 .7zM297.3 88.2l1-1.5-.6-1.1-1.3 .7-.1 .9 .8 1zM288.1 85.8l.5-.6-1.1-1.4-1.2 .5 0 1.2zM256.5 75l-.2 .7 .8 1.7 1.3-.3-.2-1.7-1.4-.6zM309.7 73.1l1.5 .1 .2-2.2-1.2-.6-.1 .1-1 2.1zM292.2 39.9l-.2-.2-.8 .1-.2-.3-1.5 .3 .4 1.7 .5 .3 1.3-.3zM255.6 78.3l1-.2 .5-.7-.8-1.7-1.5 1-.1 .7zM259.6 42.9l.2-.2 .2-1.6-.2-.3-1.4 .1-.4 1.6zM271.6 86.2l1.5 1.3 .9-1.2-1-1.3-.8 .1zM253 92.8l-1.2-1.1-.3 0-1 1.2 .7 .8 .8 1zM255 79.9l.6-1.6-.9-.9-1 .3-.5 1.3zM273.2 59.7l1.4 .7 .6-.5 .1-1.4-1-.8-.9 .3zM291.1 51l1.4 .2 .7-2.5-.5-.3-.8 .1-1.5 1.8zM274.7 51l1.3 .4 .5-.4 0-1.4-1.3-.4-.5 .5zM252.7 59.7l.4 .2 1.6-.5 .4-.5-.6-1.4-2.1 0 .2 2.1zM297.2 61.9l.1-.5-.7-1.6-1.5 1.2 .1 .9 .4 .4zM279.2 65.8l-1.9-.8-.5 .1-.2 .9 1 1.3 .2 .1 1.3-1.4zM259.9 35.1l1 .7 1.2-1-.4-1.1-.7-.3-1.3 1zM252.6 77l-.1-.9-1.5-.1-.7 1.8 1 .6zM264.2 83.3l-.3 0-.9 1.7 1.3 1.1 1-.6 .3-1zM290.8 60.2l-.7-.6-1.6 .3-.4 .8 .1 .5 1.1 .5zM268.5 43.7l1.8-.9-.5-1-1.2-.3-.7 1.4zM252.8 73.4l-.8-1.2-1.7 .3-.1 .3 1 1.4 1.1 .1zM274.6 67l-2-.1-.6 1.8 .8 .6 1.4-.3zM288.2 63.3l-.3 1.2 .9 1 1-.2 .6-.8-.4-1.5-.4-.2zM272.6 79l-1.1 1.5 .6 1 2-.3 .1-1.4zM283.4 83.2l.9-1.2-.3-.9-1-.4-1.4 1 0 .2 1.2 1.4zM251.6 36.3l1.3 .5 .9-1.4-1.2-.9-1.2 .5zM308.2 77l-.5 .5 .2 2.1 .1-.2 .8-.9 .2-1 .2-.3zM252.1 39.9l-.3-1-.1 0-2.1 .6 0 1.9 .4 .1 1.8-.8zM266.6 61.6l-1.5 .4-.3 1.3 1.1 .7 .5-.1 .8-1.1-.2-1zM279 59.3l1.8-1.1-.1-.5-1.4-.8-.8 1.1zM255.9 93l1.3-.8-.3-1.1-.7-.4-.5 .1-.7 1.1zM273 85l1.2-1.3-.2-.4-2.1-.6-.6 .6 0 .5 .9 1.3zM255.7 64.2l1.4-.4 .2-1-.9-1.2-1 .1-.7 .6 0 1.1zM257.6 64.3l-.5-.5-1.4 .4 0 1.7 1.7-.2zM281.7 59l-.8 1.6 1.2 1.1 .6-.4 .3-1.5-.8-.8zM259 90.4l1.1-1.1-.6-1.4-.5-.1-1.2 1.3 .4 .9zM267.1 67.4l-.2 1.7 .6 .8 1.8-.6-.5-1.9-1.5-.1zM252 63.6l2.3 .1 .4-.3 0-1.1-1.2-.6-1.6 .9-.1 .4zM256.9 87.3l1.4-.2 .1-1.2-1.6-.7-.2 .2-.1 1.6zM249.4 87.8l1.8 .8 .9-.9-.6-1.3-1.2 0zM277.8 84.8l-.6 .4-.4 1.3 .5 .8 .7 .2 1-1.1-.1-1-.6-.5zM274.7 61.1l2.1 .9 .1-.2-.1-1.9-1.6 0-.6 .5zM289.7 82.5l-.4-.1-1.7 .8-.1 .6 1.1 1.4 .1 0 1-1.2zM296.3 87.2l-1.8 .2-.2 1.3 .3 .6 .3 .1 1.1 0 1.1-1.2zM266.6 42.7l-.5 .8 .7 1.2 1.3 0 .4-.4 0-.6-.6-.8zM292.2 82.7l.8 .5 1.8-.6 .2-1.1-2-.8-1 1.7zM294.7 45.4l-.3 .9 .5 .9 0 .1 1.3-.7-.1-.5-.2-.9zM285 54.3l-1.1-.1-.4 .3-.2 2.2 .1 .1 1.1-.2 .7-1.4zM262.2 85.3l-.5-.3-1.4 .9 .1 1.1 1.8 .6 .2-.3zM279.5 83.3l-.6-1.2-.3-.1-1.2 1.3 .4 1.5 .5 .1zM252.5 76.1l.4-.6-.6-1.2-1.1-.1-.6 1.3 .4 .5zM290.9 45.9l1.4 .1 .8-1.8-.9-.6-1.7 .5zM249.4 60.8l1.8 .7 1.5-1.8-.1-.1-3-.3-.5 1.1zM258.7 77.3l.7 1.8 .9-.3 .9-1.3-.7-1.3zM268.1 52.5l.3-1.9-1-.9-1 .5-.1 .4 .5 1.6 .9 .4zM262.2 75.1l-.2 .3 .9 1.9 .9-.5 .3-1.2-.8-.7zM260.8 68.6l-.4 .2-.5 1.8 1.1 .8 .1-.1 1.3-1.6zM251.5 82.2l.2-1.5-.8-.7-1.3 .4-.6 1.5 .2 .3zM274 86.3l.9-.1 .4-1.8-.2-.4-.9-.3-1.2 1.3zM246.7 33.7l1.6 .5 1.2-1.3 0-1.1-.2-.1-1.1 0-1-.1-.6-.1zM259 54.8l-.4 .3-.5 1.6 .5 .6 2-.5 .1-.1-.4-1zM284.7 38.5l.6-1.4-.2-1-2 .6 .1 1.6 .7 .4zM269.4 61.3l.5-1.4-.6-.9-1.5 .4 .2 1.7zM272.7 62.2l-.2 1.5 .4 .4 2.1-.5-.7-1.9zM276.2 69l.7 .8 1.6 0 .3-.4 0-.4-1-1.6-.2-.1-1.3 .8zM255 39.8l1.3-1.3-1-1.2-1.5 .8 .8 1.7zM276.2 81.5l2-.4 .1-.6-1.4-1.3-.9 .5zM254.5 95.3l.7-.9-1.9-1.6-.3 0-1 1.9 .1 .1 .3 .8zM252.6 41.7l1.4-.3 .1-1.1-2-.4-.3 .8zM273.1 40.4l-1-1.2-.4 0-1 1.1 0 .2 1.1 1 .6-.1zM280.9 60.6l-1.6 .2 .3 2 1.5 .4 .9-.8 .1-.7zM268.1 80.3l.6 1 .9 .3 1.3-1.2-1.4-1.6-.2-.1-.9 .6zM284.4 64.9l0-.1-.6-.6-1.4 .4-.3 1.2 1.1 .9zM268.9 88l.7-1.6-1.8-.7-.6 .9 .5 1 1.2 .4zM260.7 56.7l1.4-.4 .7-1.3-.1-.5-1.1-.3-1.3 1.5zM259.3 64.3l0 .1 1.7 1.3 .7-.3 .5-1-.2-.8-2.4-.1zM261.1 71.3l1.9 1.2 .3 0 .7-1.2-1.3-1.6-.3 0zM266 38l1.8-1.2 0-.1 0-.2-2.3-1.1-.6 1.4zM261.2 77.5l-.9 1.3 1.7 .8 .1-.1 .7-1.6-.1-.2zM264.5 44.1l-1.4 1.9 .9 .9 .7 0 .7-1.3zM260.3 101.6l-.6 1.2 .3 .6 .8 .4 .8-.2 0-.1-.3-1.5 .1-.5zM250.2 90.6l1.3 1.1 .3 0 .8-1.4-1.4-1.1zM260.6 83.2l.6 .3 1.9-.8-.2-.8-1.7-.7-.2 0-.6 1.5zM269.6 34.1l.6 2 .8 .4 1.1-1.5-.1-1.3-.6-.3-.9 .2-.7 .1zM305.8 80.8l.5 .7 .3-.4 .7-.7 .4-.5-1.4-.2zM269.3 69.3l.6 .3 .5 0 1-.9-1.2-1.6-.9-.1-.5 .4zM299.6 84.7l1.1-.8 .2-1.6-1.2-.4-.8 1.7 .7 1.1zM253.1 55.4l1.7 .7 .6-1.7-.6-.7-1.2-.1-.5 1.7zM267.3 46.9l.6-.3 .2-1.9-1.3 0-.5 .9zM254.2 73.2l.2-.2 0-.7-1.6-1.2-.8 1.1 .8 1.2zM287.7 58.6l-1.3 .2 .3 1.6 1.4 .3 .4-.8zM251.6 57.3l-.7-.9-1.3-.1-1.1 1.1 1.1 1.7zM288 87.6l.1-1.8-1.8-.3-.9 .9 0 .2 .1 .2 2.4 .9zM270.2 36.1l-.6-2-1.6 .5-.2 1.9 0 .2zM279.1 78.8l.1 1 1.2 .3 1-1.2-.2-.7-1-.4zM293.5 48.7l1.2 .9 1.2-.6 .1-.5-1.1-1.2 0-.1zM274.2 83.7l.9 .3 1.1-1.1-.1-1.2-1.8-.3-.3 1.9zM259.2 92.2l.4 1.9 1.4 .5 .3-1.5-1.6-1.2-.2 0zM289.3 61.7l-1.1-.5-.8 1.2 .8 .9 1.4-.5zM285.6 52l-.3 .4 .2 1.4 1.6 .1 .5-.5 .1-.3-.8-1.3zM264.5 56.1l-.1-.2-1.6-.9-.7 1.3 1.2 1.1 .9-.3zM281.3 66l.8-.2 .3-1.2-1.2-1.1-.8 1.9zM314.9 69.3l1.9 .3-.1-.3-.3-.9-.4-.7-1.1 1.6zM257.6 33.3l-1.4 .4-.4 1.1 .5 .5 1.3-.2 .5-1.4zM287.1 49.1l.5 0 1-.9-.6-1.2-.3-.1-1.6 .8zM255.7 83.4l-.1-.8-2.1 0 .5 1.9 .6 .1zM263.3 61.2l0 .1-.1 1.5 1.4 .6 .2-.1 .3-1.3-.8-.8zM310.3 69.5l1.5-1.2-.4-.9-1.3 .1-.6 .9zM276.9 57.6l-.2 .4 .4 1.7 1.8 0 .1-.4-.5-1.3-1.5-.4zM262.7 32.8l1.2 .9 1.2-1.3-.4 0-1 0-1 0zM259.3 64.4l0-.1-1.7 0-.2 1.4 .5 .6 .8-.1zM259.4 74.8l.3 .1 1.2-1.2-.5-1-1.7 .3zM257.8 89.1l1.2-1.3-.7-.7-1.4 .2 .1 1.5zM295.9 56.7l-1.9-.8-.1 0-.4 1.5 1.9 1zM252.9 79.2l-.3 1.1 1 .9 1.5-.8-.1-.5-1.8-.9z"/>
<path fill="#d7edfa" stroke="#d7edfa" d="M265.2 95.1l-.8-.1-1 1.4 1.5 .9 .1-.1 1.1-.8 .2-.1zM277.2 78.1l.6-.2 .7-1.4-1.9-.7-.7 1.4zM258.4 77.1l.3 .2 1.8-1.1 0-.1-.8-1.2-.3-.1-1.2 .6zM283.4 56.8l-.1-.1-1.5-.4-1.1 1.4 .1 .5 .9 .8 .5 0 1.2-1.5zM296.6 56.3l-.3-1.5-1.1-.7-.4 .1-.8 1.7 1.9 .8zM272.6 79l-.2-.8-.6-.5-2.3 1.1 1.4 1.6 .6 .1zM254.4 34.9l-.3 .4 1.3 1.7 .9-.5 0-1.2-.5-.5zM254.5 74.5l2 .5 .3-.2 .1-.6-.7-1-1.8-.2-.2 .2zM289 52.5l1.4 .8 .7-2.3-.7-.7-.2 0-1.1 .5zM279.5 83.3l-1.2 1.6 .6 .5 1.7-.4 .3-.6-.4-.8zM274 43.3l.8-1.9 0-.1-1-.9-.7 0-.7 1 1.4 1.9zM274.6 77.1l.4 .3 .9-.2 .7-1.4 0-.1-1.3-1-.6 .2-.5 1.2zM295.2 54.1l.3-1.1-.6-.2-.2-.6-1.6-.4-.2 1.4 1.9 1zM263.5 48.1l.5-1.2-.9-.9-.7-.1-.8 .9 .7 1.7zM263.9 33.7l-1.2-.9-1 .9 .4 1.1 1.1 .4 .8-.7zM285.8 80l0-.2-.9-1.1-1.4 .2-.6 .8 .1 1 1 .4zM255.4 54.4l1.3 0 .4-1.6-.6-.6-.8 0-.9 1.5zM278.8 69.4l-.3 .4 .3 1.2 .3 .2 1.9 .1 .3-2zM267.3 54.2l1.4 .8 .3-.1 .5-1.6-.3-.5-1.1-.3-.4 .1zM287.1 53.9l0 2 .1 .2 .6 .2 1.5-1.5-1.7-1.4zM284.5 42.1l-.8 1.1 1.2 1.3 1.1-.7 .2-1.1zM290.2 50.3l-.9-2-.7-.1-1 .9 .9 1.6 .6 .1zM269.6 34.1l.2-.4-.2 .1-.9-.4-.9-.3-.1-.4-.3 .2 0 1.2 .6 .5zM304.4 75.1l-1.4 .7 .8 1.4 1.4 .3 .7-1.7zM299.9 80.1l1.7-.1 .2-.2-.3-1.6-.4-.4-1.3 .2-.7 .9zM288.5 50.7l-1.4 .7-.2 .4 .8 1.3 1.3-.6 .1-1.7zM290.6 86.4l1.2 1.1 .7-.6 .2-1.6-1.4-.4zM267.1 66.4l.2 .9 1.5 .1 .5-.4-.1-2.2-.2-.2-1.3 .5zM290.4 53.4l1.6 .6 .9-.8 .2-1.4-.1-.2-.5-.4-1.4-.2-.7 2.3zM257 88.8l-.1-1.5-.4-.3-1.6 .4-.1 1.1 1.6 .7zM265.8 38.8l.4 .5 1.4 .3 .7-1.8-.5-1-1.8 1.2zM256.3 35.3l0 1.2 1.1 .4 .9-.5-.7-1.3zM280.2 51.1l1.4-.4 .3-.9-1-.9-1 0-.3 .9zM262 75.4l.2-.3-.5-1.2-.8-.2-1.2 1.2 .8 1.2zM281.3 69.3l-.3 2 .7 .6 1.6-1.2 .1-.3-.2-.7-1.8-.4zM263 85l.9-1.7-.8-.6-1.9 .8 .5 1.5 .5 .3zM296.7 77.6l-.9 .5-.2 1.2 .3 .8 1.7 .1 .9-1.2zM264.8 57.9l1.5-.3 .1-1.5-1.9 0-.3 1zM256.5 56.6l.5-1.8-.3-.4-1.3 0-.6 1.7 .2 .4zM284.6 59.7l.5 2 .4 .1 1.2-1.4-.3-1.6-.4-.2-1.1 .6zM289.9 58l2-.4-.3-1.7-1.1 .1-.9 1.6zM251.7 42.9l-1.7-1.4-.4-.1-1.5 1.1 1.7 2.3 .6 0zM263.1 59.4l-.7-.6-.4 .1-1 1.7 .3 .7 2 0 0-.1zM269.5 50.5l.7-1-.9-1.1-1.6 .5-.3 .8 1 .9zM266.3 72.3l-.3-.6-1.1-.6-.9 .2-.7 1.2 .7 1 1.1 .3zM248.8 84.2l.9 .4 1.9-.2 .4-1.7-.5-.5-2.3 0zM269.6 81.6l-.9-.3-1.4 1.6 .2 1 .9 0 1.4-1.4zM260.3 97.2l.1 1.9 .1 .2 2-1-.2-1-1.9-.2zM277.6 38.5l.7-1-.8-1.8-1.2 .6-.1 1.5zM261.6 54.2l-.7-1.1-.8-.2-.7 .3-.4 1.6 1.3 .9zM265 81.2l-1.5-.6-.6 1.3 .2 .8 .8 .6 .3 0 .9-1.1zM260.4 66.7l.6-1-1.7-1.3-.6 1.8 .6 .6zM269.5 76.5l-.4-1.5-1.5-.5-.3 .4 .6 1.9 1 .3zM284.9 44.5l-.1 .7 1 .7 1.2-.4 .2-.7-1.2-1zM269.9 62.2l1.6 1.6 1-.1 .2-1.5-.7-.9-2.1 .8zM279.6 73.4l1.9-.6 .2-.2 0-.7-.7-.6-1.9-.1zM269.3 78.7l-.4-1.6-1-.3-.9 .5-.2 1.2 1.6 .8zM260.1 52.9l.3-2.1-1.7-.1-.1 .1-.1 1.9 .9 .5zM270.8 45.1l-.6 .3-.6 1.4 .1 .4 1.6 .5 .9-1 .1-.8zM283.3 70.7l-1.6 1.2 0 .7 1.8 .7 .7-.7zM252.6 34.5l.1-1.3-.6-.5-1.1 .6 .2 1.5 .2 .2zM262.7 54.5l.9-1.1 0-.1-1-1.5-1.7 1.3 .7 1.1zM259.7 44.9l1.9-.4 .3-.6-.4-.9-1.7-.3-.2 .2-.1 1.9zM256.6 85.4l-1.5-.2-.5 1.8 .3 .4 1.6-.4zM265.3 69.4l-.4 1.7 1.1 .6 1.5-1.8-.6-.8zM266.8 52.2l-1.1 .6 0 1.4 .9 .4 .7-.4 .4-1.6zM261.5 43l.4-1.5-1.9-.4-.2 1.6zM288.2 61.2l-.1-.5-1.4-.3-1.2 1.4 .5 .6 1.4 0zM253.8 98.3l.3 .3 1.1 1.2 0 .7 1.1-.6 0-.7-1.7-1.2zM253.8 75.4l.7-.9-.3-1.3-1.4 .2-.5 .9 .6 1.2zM274.7 74.9l.6-.2 .5-1-.3-.6-1.6-.5-.4 1.3zM288.3 80.3l2.1-.3 .2-.3 0-1-1.7-.7-.8 .6zM256.4 61.6l.6-.7-.6-2-1.3 0-.4 .5 .7 2.3zM275.3 58.5l1.4-.5 .2-.4-1.5-1.5-.2-.1-.9 1.7zM259.1 62.3l-1.8 .5-.2 1 .5 .5 1.7 0 .3-.8-.2-.9zM279.8 76.8l.4 1 1 .4 1.1-1.2-1.2-1.3zM267.2 62.8l1.7 .6 1-1.2 0-.1-.5-.8-1.4-.2-1 .7zM304.2 81.3l-.2-.1-1.2 1.2 .3 1 1.4 .8 .5-1.3 .2-.2zM251.9 49.3l.1 .4 1.7 .7 .5-1.4-.5-.6-.9-.1zM275 53.6l-1.9 .2-.1 .2 .6 1.6 1.4 .3zM255.4 61.7l-.7-2.3-1.6 .5 .4 1.8 1.2 .6zM261.2 83.5l-.6-.3-1.3 1.4 0 .6 1 .7 1.4-.9zM271.1 43.3l-.3 1.8 1.5 .8 .1-.1 1-2.3zM257.9 66.3l-.5-.6-1.7 .2-.4 .4 .1 .3 1.8 1.2zM277.6 67.3l-1-1.3-1.4 1.1 1.1 1zM265.4 45.6l-.7 1.3 .9 .7 1.4-.1 .3-.6-1-1.3zM264 73.5l-.7 1.4 .8 .7 1.6-.5-.6-1.3zM252.8 69l-.2 1.4 .2 .2 1.8-.5 .5-.9-.4-.5-.9-.3zM254.8 32.3l-.6 .7 .2 1.9 1.4-.1 .4-1.1zM265.5 35.4l-.1-.4-1.4-.5-.8 .7 .1 1.4 .2 .3 1.4-.1zM276.6 66l.2-.9-1-.7-1.3 1.3 .1 1.3 .6 .1zM265.7 79.2l-.6-.3-.6 .1-1 1.4 0 .2 1.5 .6 .9-1zM253.6 53.6l1.2 .1 .9-1.5-1.2-1-.6 0-.6 .7 .2 1.6zM294.9 47.3l1.1 1.2 .3-1.2-.1-.7zM264.7 46.9l-.7 0-.5 1.2 .9 1.2 .7-.2 .5-1.5zM263.3 57.4l-.9 1.4 .7 .6 1.7-.3 0-1.2-.6-.8zM267.3 82.9l-.6-.6-1.6-.1-.9 1.1 1.4 1.2 1.8-.5 .1-.1zM256.9 74.2l1.6-1.3-.3-.9-1.3-.7-.2 .2-.5 1.7zM279.3 60.8l-.4-1.1-1.8 0-.3 .2 .1 1.9zM272.8 52.8l.3 1 1.9-.2 .2-.2-1.2-1.8-.1 0zM279.6 65.5l-.6-2.2-.7 .1-1 1.6 1.9 .8zM307.9 73l-.2 .9 .6 1.2 1.2-.3 .2-1.7-.6-.5-.7 .1zM258.4 102.4l1.3 .4 .6-1.2-.6-.8-1.4 0zM291.3 84.9l1.4 .4 .7-.4 0-.1-.4-1.6-.8-.5-.9 2zM285.6 39.2l1.4-.2 .2-.5-.4-.9-1.5-.5-.6 1.4zM255.7 90.8l-1.8-1.2-.4 .5 .5 1.9 1-.1zM265.7 87.6l-1.1 .2-.3 1.1 1.9 .8 .2-.1 .1-1zM293.4 41.9l.7 1.9 1.1-.5-.1-.5-.4-1.1-.6-.3zM263.3 57.4l-1.2-1.1-1.4 .4-.1 .1 .3 1.1 1.1 1 .4-.1zM288.7 85.2l1.8 1.3 .1-.1 .7-1.5 0-.2-1.6-.7zM274.4 34.9l-.3-.2-.7-.3-1-.5-.4-.2 .1 1.3 1.2 .5zM256.9 71.3l0-.6-1.7-1.5-.1 0-.5 .9 .4 1.4 1.7 0zM283 59.8l-.3 1.5 2.4 .4-.5-2zM261 33.4l.7 .3 1-.9 0-.4-.1-.1-1 0-1 0zM269 54.9l1.4 .8 .7-.3 .3-.8-.5-1.1-1.4-.2zM252.7 33.2l-.1 1.3 1.2 .9 .3-.1 .3-.4-.2-1.9zM279.2 56.5l.7-1-1.4-1.5-1 1 .4 1zM267.4 34.1l0-1.2-1.3-.5-.4 0-.1 0 .3 2z"/>
<path fill="#c6e5f7" stroke="#c6e5f7" d="M264 71.3l.9-.2 .4-1.7-1-1.1-.8 .2-.8 1.2zM263.5 93.8l.9 1.2 .8 .1 .7-1.6-.3-.5-1.1-.4-.9 .5zM269.5 39.8l1.2 .5 1-1.1-.8-1.4-1.4 .6zM249 81.9l-2.6-1.1-1 1.6 1 2.3 1.2 .3 1.2-.8 .4-2zM285.5 53.8l-.5 .5 .2 .9 1.9 .7 0-2zM248.5 57.4l-1.9-.6-.7 2.9 .8 1.2 2.4-.5 .5-1.1 0-.2zM268.4 57.1l.3 .1 1.4-.6 .3-.9-1.4-.8-.3 .1-.7 1.4zM251.5 82.2l.5 .5 1.3-.2 .3-1.3-1-.9-.9 .4zM305.8 80.8l.5-1.1-.8-1-1.8 1.1-.1 .1 .4 1.3 .2 .1zM290.5 56l-1.1-1.2-.1 0-1.5 1.5 .8 1.1 1 .2zM257.1 46.5l-1.3 .9 0 1.1 1.5 .5 1.1-.5 .2-.3-.2-.6zM250.5 48.7l-1 .5 1 1.8 .7 .1 .8-1.4-.1-.4zM265.4 35l.5-.6-.3-2-.5 0-1.2 1.3 .1 .8zM294.4 46.3l.3-.9-.8-1.4-.8 .2-.8 1.8 .3 .3zM265.3 85.5l-1 .6-.4 .9 .7 .8 1.1-.2 .4-1zM282.9 79.7l-1.5-.8-1 1.2 .5 1.2 .7 .4 1.4-1zM285.1 66.9l.9 1.2 1-.2 .5-.8-1.1-1.2-1 .2zM285.1 61.7l-2.4-.4-.6 .4-.1 .7 1.7 1 1.4-1.7zM246.7 60.9l-.8 2.4 .2 .6 2.7 .2 .6-.8 0-2.5-.3-.4zM255.9 93l-.3 1.3 .9 .4 1.3-.5 .1-1.7-.7-.3zM260.4 82.7l.6-1.5-1.6-1-1 1.1-.1 .8zM278.6 53.8l-.8-1.2-1.9 .4-.2 .2 1.5 1.7 .3 .1 1-1zM261.6 46.8l.8-.9-.8-1.4-1.9 .4 0 .9 1.4 1.1zM257.4 32.2l-.9 0-1.1-.1-.5 0-.1 .2 1.4 1.4 1.4-.4zM247.7 38l-2.1 2.7 2.1 1.8 .4 0 1.5-1.1 0-1.9-.9-1.2zM253.7 77.7l1-.3 .1-.7-1-1.3-.9 .1-.4 .6 .1 .9zM264 39.4l.2 2 1.8 .1 .2-2.2-.4-.5zM252.2 42.8l1.4 1.1 .4 0 .8-1.2-.8-1.3-1.4 .3zM251.1 65.1l0 1.9 .6 .3 1.4-.5 .5-.8-.1-.1-1.7-1.2zM283.8 68.7l-.6 1 .2 .7 1.8 .2 .5-.6-.3-1.3zM299.7 81.9l-.1-.2-1.5-.2-.8 .8-.1 1.1 1.7 .2zM287.7 58.6l.9-1.2-.8-1.1-.6-.2-1.4 1.3 .2 1.2 .4 .2zM265.6 47.6l-.5 1.5 1.3 1.1 1-.5 .3-.8-.7-1.4zM269.5 53.3l1.4 .2 .7-1.4-.2-.4-1.2-.2-1 1.3zM242.1 82.6l-.5 1 1.5 2.8 .7 .3 2.6-2-1-2.3zM272 60.3l1.2-.6 .2-1.7-.9-.6-1.2 .6 .2 1.9zM303.5 73l-.9 1.2 .3 1.6 .1 0 1.4-.7 .1-1zM287.2 38.5l-.2 .5 .5 1.2 2-.5-.3-1.5 0-.1zM264.5 66l.3 1.4 2.3 0 .2-.1-.2-.9-1.6-1zM254.3 46.3l.4-1.3-.7-1.1-.4 0-1.7 1.5 .4 1zM269.8 73.1l-2.1 .4-.1 1 1.5 .5 1.2-.9zM254 92l-.7 .8 1.9 1.6 .4-.1 .3-1.3-.9-1.1zM310.2 70.4l1.2 .6 1-.3 .2-2-.8-.4-1.5 1.2zM295.4 58.4l-1.9-1-.7 .6 1 1.9 1.6-1.4zM256.7 58.7l.1-1.8-.3-.3-1.5-.1-.5 1 .6 1.4 1.3 0zM276.3 36.3l1.2-.6 .4-.8-.2 0-.9-.2-.8-.2-.6 .3-.4 .2 .3 .8zM280.2 51.1l-.3 .6 .5 1.2 .9 .4 1-1.1-.7-1.5zM290.5 56l1.1-.1 .6-.6-.2-1.3-1.6-.6-1 1.4zM310.1 67.5l-.7-1-1.2 .2 .3 1.7 1 0zM254.8 88.5l-.8 .8-.1 .3 1.8 1.2 .5-.1 .2-1.5zM259.5 87.9l.6 1.4 .7 .2 1.4-1.3 0-.6-1.8-.6zM274.9 79.4l.1-2-.4-.3-2.2 1.1 .2 .8 1.6 .8zM273.8 37.4l1.5-1.6-.3-.8-.3 0-.3-.1-1.1 .6 .4 1.8zM251.6 84.4l.6 .6 .7 .2 1.1-.7-.5-1.9-.2-.1-1.3 .2zM300.6 53.9l.1-.6-1.3-.6-1.3 .6-.1 .5 1 1.5zM258.6 55.1l-1.6-.3-.5 1.8 .3 .3 1.3-.2zM281.3 53.3l.2 .8 2 .4 .4-.3-.5-2-.1-.1-1 .1zM288.1 78.6l.8-.6-.1-1-1.2-.8-.8 .1-.6 .5 .9 1.6zM253.5 65.9l.1 .1 1.7 .3 .4-.4 0-1.7-1-.8-.4 .3zM263.6 50.7l0-.2-1.6-1.4-1 .4-.2 .9 1.8 1.4zM267.7 65.1l1.3-.5-.1-1.2-1.7-.6-.8 1.1zM278.9 39.5l-.3 1.4 1 .4 1-1-.6-1.1zM281.2 36.6l-.6-.6-.5 0-1 1.4 1.1 1.2 1-.5zM261.1 94.8l-.8 1.2 .1 1.1 1.9 .2 .5-.8-.9-1.5zM257.9 83.6l-.8 .6-.3 1 1.6 .7 .9-.7 0-.6zM287.7 53.1l-.1 .3 1.7 1.4 .1 0 1-1.4 0-.1-1.4-.8zM266.4 56.1l.1 0 .1-1.5-.9-.4-.7 .2-.6 1.5 .1 .2zM252.1 47l.7 1.3 .9 .1 .8-1.6-.2-.5-2 .1zM253.5 53.5l-.2-1.6-1.7-.2-.7 2zM263 72.5l-1.9-1.2-.1 .1-.6 1.3 .5 1 .8 .2zM269.8 86.2l0-1.4-1.4-.9-.9 0-.1 .1 .4 1.7 1.8 .7zM289.5 39.8l1.5-.3-.2-.2-.1-.6-.5-.1-.4 .2-.6-.5 0-.1 .3 1.5zM263.6 50.5l.8-1.2-.9-1.2-1.2 .4-.3 .6zM253.2 37.8l.6 .3 1.5-.8 .1-.3-1.3-1.7-.3 .1-.9 1.4zM257.7 104.1l1 .5 1.3-1.2-.3-.6-1.3-.4-.7 .6zM261 49.5l1-.4 .3-.6-.7-1.7-.5 .1-1.2 1.5zM251.3 78.4l1.6 .8 .3-.2 .5-1.3-1.1-.7-1.3 1.4zM263.5 80.4l-1.4-.9-.1 .1-.8 1.6 1.7 .7 .6-1.3zM307.9 73l-2-.6-.3 1.3 .7 .8 1.4-.6zM275.2 67.1l-.6-.1-.4 2 .4 .3 1.6-.3 .1-.9zM279.3 56.9l1.4 .8 1.1-1.4-.7-1.1-1.2 .3-.7 1zM314.2 62.1l-.8 1.5 1.2 1.1 .4-1.5 .3-.9zM262.8 77.9l1.7 1.1 .6-.1-.1-1.6-1.2-.5-.9 .5-.2 .4zM249.4 64.8l-.5 2.8 2.2-.6 0-1.9zM287.6 49.1l-.5 0-.7 .8 .7 1.5 1.4-.7zM267 58.3l1.4-1.2-.4-.7-1.5-.3-.1 0-.1 1.5zM255.4 37l-.1 .3 1 1.2 .9 0 .2-1.6-1.1-.4zM270.7 40.5l0-.2-1.2-.5-1.2 .6-.1 .2 .4 .9 1.2 .3z"/>
<path fill="#b6def4" stroke="#b6def4" d="M256 42.4l-1.2 .3-.8 1.2 .7 1.1 1.7 .2 .7-2.1zM276.1 81.7l.1-.2-.2-1.8-1.1-.3-.7 .4-.1 1.4 .2 .2zM280.6 40.3l1.2 .3 .3-2-.9-.5-1 .5-.2 .6zM260.3 85.9l-1-.7-.9 .7-.1 1.2 .7 .7 .5 .1 .9-.9zM264.8 51.3l-1.2-.6-1 1.1 1 1.5 1.3-.9zM257.4 36.9l-.2 1.6 .5 .5 1.4-.5 .3-.9-.9-1.2-.2 0zM239.5 62.6l.4-1.8-2.6-2-1.5 1.3 1.2 2.4 2 .5zM303.6 79.9l-1.8-.1-.2 .2 .2 2 1 .4 1.2-1.2zM258.7 95.7l-.1-1-.8-.5-1.3 .5 .3 1.3 1.4 .3zM265.7 75.1l1.6-.2 .3-.4 .1-1-.4-.8-1-.4-1.2 1.5zM265.3 59.7l-.5-.6-1.7 .3 .2 1.8 1 0zM249.4 63.3l2.4-.3 .1-.4-.7-1.1-1.8-.7zM271.4 68.7l.6 0 .6-1.8-.4-.6-.9-.2-1.1 1zM258.7 66.2l-.8 .1-.7 1.5 .1 .3 .7 .6 .9-.4 .4-1.5zM266.7 80.7l0 1.6 .6 .6 1.4-1.6-.6-1zM258.8 44.8l.7 0 .1-1.9-1.6-.4-.8 .6zM266.8 44.7l-.7-1.2-1.6 .5 0 .1 .9 1.5 .9 0zM273.3 49.7l-.4-.9-1.5 0-.4 .6 .9 1.4 .9-.2zM294.9 89.4l-.3-.1-1.8 1.2 .3 .1 .8 1.3 .9 .1zM314.7 59.6l-.7 2.3 .2 .2 1.1 .2 .3-.8 .2-1.5-.1-.4zM286.9 81l-.3 1 1 1.2 1.7-.8-1.4-1.7zM273.8 43.3l-1.4-1.9-.6 .1-.8 1.6 .1 .2 2.3 .2zM229.9 59.1l-2.7-3.1-3.2 1.9 3.5 5.1 .4 .1 .9-.5zM270.9 74.4l.9-.3 .1-1.9-.5-.5-1.4 .5-.2 .9 .5 1zM278.2 51.5l-.2 .1-.2 1 .8 1.2 1.8-.9-.5-1.2zM258.4 97.5l1.9-.3 .1-.1-.1-1.1-1.6-.3-.5 .6zM271.7 76.9l-1-.6-1.2 .2-.6 .6 .4 1.6 .2 .1 2.3-1.1zM283.7 74.9l-.2-1.6-1.8-.7-.2 .2 0 1.9zM278.5 58l.8-1.1-.1-.4-1.3-.5-.9 1.6zM278.6 82l.3 .1 2-.8-.5-1.2-1.2-.3-.9 .7-.1 .6zM266.6 91.9l-1 1.1 .3 .5 1.5 .5 .6-1.9-.1-.1zM258.4 48.5l.3 2.2 1.7 .1 .4-.4 .2-.9-1.1-1.1-1.3-.2zM276.9 62.3l-.1-.3-2.1-.9-.4 .6 .7 1.9 .6 .2zM273.9 72.6l-.1-.3-1.9-.1-.1 1.9 .6 .3 1.1-.5zM269.2 71.5l.8 .7 1.4-.5 .1-.2-1.1-1.9-.5 0zM296.6 59.8l.1-.4-1.3-.9-1.6 1.4-.1 .3 1.4 .8zM283.4 52.2l.5 2 1.1 .1 .5-.5-.2-1.4zM279.9 48.9l-.9-.9-1.5 .7-.2 .5 1.1 1.1 1.2-.5zM254.6 87l.5-1.8-.5-.6-.6-.1-1.1 .7 .7 1.5zM258 42.5l.4-1.6-.8-.8-1.3 .6-.3 1.7 1.1 .7 .1 0zM271 36.5l-.8-.4-2.4 .6 0 .1 .5 1 1.2 .6 1.4-.6 .2-1zM259.4 53.2l-.9-.5-1.4 .1-.4 1.6 .3 .4 1.6 .3 .4-.3zM285.1 66.9l.3-.8-1-1.2-1.2 1.8 .1 .5 .1 0zM307.5 70.4l.9 2.3 .7-.1 1-2.1-2.3-.4zM277.4 83.3l-1.2-.4-1.1 1.1 .2 .4 1.9 .8 .6-.4zM264.8 51.3l1.5-.7 .1-.4-1.3-1.1-.7 .2-.8 1.2 0 .2zM264.4 66l-1.8 .5-.1 .9 1 1.1 .8-.2 .5-.9-.3-1.4zM249.5 49.2l-1-.2-1 1.3 .2 1 1.3 .8 1.5-1.1zM301.1 86l-.1 1.5 1 .8 1.2-1-.3-1.2-.8-.5zM271.3 58l-.4-.1-1.5 .9-.1 .2 .6 .9 1.6 0zM285.2 70.6l.4 1.3 1.6-.6-.3-1.1-1.2-.2zM285.6 52l-.7-1.8-1.1 .5-.5 1.4 .1 .1 1.9 .2zM257.6 35.1l.7 1.3 .2 0 1.4-1.3-.2-.7-1-.7-.6 0zM251 76l-.4-.5-2-.2 .4 2.6 1.3-.1zM268.7 55l-1.4-.8-.7 .4-.1 1.5 1.5 .3zM254.8 76.7l1.5-1 .2-.7-2-.5-.7 .9zM275.3 84.4l-.4 1.8 .3 .3 1.6 0 .4-1.3zM269.3 67l.9 .1 1.1-1-.7-1.3-1.4 0zM264.3 86.1l-1.3-1.1-.8 .3 .2 2 1.5-.3zM262.5 98.3l-2 1 1.2 1.1 .1-.6 .9-1.3zM272.8 69.3l0 1 1.2 1.2 .9-.5-.3-1.7-.4-.3zM266.8 52.2l-.5-1.6-1.5 .7 .1 1.1 .8 .4zM285 50l-.3-1.1-1.7-.1-.7 .9 1.5 1 1.1-.5zM313.6 66.3l.3 .7 1.6 0-.4-.7-.5-1 0-.1zM265.9 64l-.4 1.4 1.6 1 .6-1.3-1.3-1.2zM311.6 74.4l-1.4 .9 .1 .8 .5-.1 .8-.1 .5-1.1zM273.9 51.6l.1 0 .7-.6 0-1.3-1.4 0-.5 .9zM258.3 58.7l.2 2.1 .1 .1 1.5-.7-.4-1.3-1.3-.2z"/>
<path fill="#a7d8f2" stroke="#a7d8f2" d="M292.2 43.6l.9 .6 .8-.2 .2-.2-.7-1.9-1.3-.1zM254.5 95.3l-2.1 .3 .2 .5 .5 1.3 .7 .9 .8-.3 .6-1zM208.8 54.2l.4 4 5.3-1.3-.7-4-.1 0zM303.8 77.2l-.8-1.4-.1 0-1.1 .3-.7 1.7 .4 .4 1.7-.1zM289 88l.6 .9 .4 .1 1.8-1.3 0-.2-1.2-1.1-.1 .1zM263.3 36.6l-.1-1.4-1.1-.4-1.2 1 .2 1zM294.4 46.3l-1.8 0 .1 2.1 .5 .3 .3 0 1.4-1.5zM282.3 52.2l1-.1 .5-1.4-1.5-1-.4 .1-.3 .9zM256.9 71.3l1.3 .7 1.3-1.4-1.5-1.2-1.1 1.3zM284.1 47.1l-1.3 .3 .2 1.4 1.7 .1 .4-1.1zM272.2 46.7l1.3 1.1 1.2-.1-.1-1.7-2.2-.2-.1 .1zM306.2 70.6l-.2 .1-.2 1.5 .1 .2 2 .6 .5-.3-.9-2.3zM270.2 45.4l-1.7-1.1-.4 .4-.2 1.9 1.7 .2zM255.2 69.2l1.7 1.5 1.1-1.3 0-.7-.7-.6zM291.3 84.7l.9-2-.2-.3-1.6-.3-.7 .4 0 1.5zM255.2 94.4l-.7 .9 .7 1.7 1-.2 .6-.8-.3-1.3-.9-.4zM259.4 62.6l.2 .9 2.4 .1-.8-2.2zM294.9 89.4l-.1 2.6 .2 0 .9-.8 .8-.8-.7-1zM263.3 38.6l-2-.6-.4 1.4 1.1 .5 1.4-.9zM276 40.1l-1-1.7-.3 0-.9 2 1 .9zM270.9 53.5l.5 1.1 1.6-.6 .1-.2-.3-1-1.2-.7zM286.8 37.6l.4 .9 2-.4-.3-.6-.8-.3-.8-.3-.1 0zM266.8 78.5l.2-1.2-1.2-.6-.8 .6 .1 1.6 .6 .3zM259.4 37.6l1.5-.3 .2-.5-.2-1-1-.7-1.4 1.3zM249.6 56.3l-.4-2.2-3.2 1-.2 .4 .8 1.3 1.9 .6zM273.1 64.8l-.9 1.5 .4 .6 2 .1-.1-1.3zM252.9 85.2l-.7-.2-.7 1.4 .6 1.3 .1 0 1.4-1zM262.4 87.3l-.2 .3 0 .6 1.2 1.3 .9-.6 .3-1.1-.7-.8zM276.2 82.9l1.2 .4 1.2-1.3-.4-.9-2 .4-.1 .2zM264.8 63.3l-.2 .1-.9 1.3 .7 1.3 .1 0 1-.6 .4-1.4zM269.3 69.3l-1.8 .6 .9 1.6 .8 0 .7-1.9zM263.4 96.4l-.6 .1-.5 .8 .2 1 .2 .2 .1-.1 1.1-.6 1-.5zM287.2 44.8l-.2 .7 .7 1.4 .3 .1 1-.9-.7-1.7zM292.4 57.9l-1.1 2 2.3 .3 .1 0 .1-.3-1-1.9zM300.9 73.4l.1 .2 1.6 .6 .9-1.2 0-.6-.3-.3-.8-.4zM297.8 85.4l-.1 .2 .6 1.1 1 0 .7-1.1-.4-.9zM276.8 40.1l-.8 0-1.2 1.2 0 .1 1.8 .6 .9-.8z"/>
<path fill="#94d2f0" stroke="#94d2f0" d="M277.8 41.3l.8-.4 .3-1.4-1.3-.9-.8 1.5 .7 1.1zM283.7 43.2l.8-1.1-.2-.9-.7-.6-1.5 .3-.3 1.2 1.5 1.1zM293.2 61.5l.4-1.3-2.3-.3-.5 .3 .8 1.9zM288.9 78l1.7 .7 .6-.6 0-1.3-1.3-.7-1.1 .9zM218.3 48.5l-1.9-.4-3 2.6 .3 2.2 .1 0 3.9-.3 1.4-2.9zM248.8 35.2l-1.2 2.5 .1 .3 1 .3 1.9-1 .1-.4-1.7-1.6zM295 81.5l.4-.3 .5-1.1-.3-.8-2.2 .1-.4 1.2 0 .1zM254 41.4l.8 1.3 1.2-.3 .3-1.7-1.3-.9-.4 0-.5 .5zM274.2 76.1l.5-1.2-1.2-1-1.1 .5 .2 1.4zM282.9 34.8l-.9-.4-.5-.3-.9 1.9 .6 .6 1.5-.2zM267.4 94l.5 1 .7-.5 1.1-.6 .1 0-.3-1.7-1.5-.1zM303.1 58l1.4-1.2-.7-.8-1.9 .4 .5 1.6zM278.7 76.4l.3-2.1-1.1-.3-1.3 1.7 0 .1 1.9 .7zM247.6 37.7l-2.4-1.7-1.8 1.9 2.1 2.8 .1 0 2.1-2.7zM286.4 65.9l1.1 1.2 .8-.4 .5-1.2-.9-1-1.2 .1zM270.9 37.8l.8 1.4 .4 0 1.8-1.5-.1-.3-.1-.1-2.6-.5zM271.3 66.1l.9 .2 .9-1.5-.2-.7-.4-.4-1 .1-.9 1zM293.4 41.9l.7-.5-.6-.4-1.1-.6-.2-.5-.5 1.6 .4 .3zM274 71.5l-1.2-1.2-1.3 1.2-.1 .2 .5 .5 1.9 .1zM286.9 89.3l1-1.6-2.4-.9 0 2.1 .1 .2zM306.1 60.3l1 1 1.7-.2 .1-.2-.7-1.5-2.1 .7zM267 58.3l.1 .7 .7 .4 1.5-.4 .1-.2-.7-1.6-.3-.1zM303.1 83.4l-.3-1-1-.4-.9 .3-.2 1.6 1.3 .6zM279.6 41.3l.5 1.4 .4 .2 1.3-.8 .3-1.2-.3-.3-1.2-.3zM286.8 41.1l.5-.2 .2-.7-.5-1.2-1.4 .2 0 1.3zM271 43.1l-.7-.3-1.8 .9 0 .6 1.7 1.1 .6-.3 .3-1.8zM250.8 47.6l-.3 1.1 1.4 .6 .9-1-.7-1.3zM257.7 103l-1.4-.7-.5 .1 .4 1 1.3 .6 .2 .1zM275.5 73.1l.3 .6 1.8 0-.1-1.5-1.3-.4zM294.5 86.2l-1.1-1.3-.7 .4-.2 1.6 1.8 .2zM249 90.8l.1 1.6 1.2 .2 .2 .3 1-1.2-1.3-1.1zM268.3 37.8l-.7 1.8 .7 .8 1.2-.6 0-1.4zM270.3 88.6l.1 1.1 1.5 .7 .3-.5-.3-1.5-.8-.3z"/>
<path fill="#82cbee" stroke="#82cbee" d="M273.7 37.3l-.4-1.8-1.2-.5-1.1 1.5 .1 .3zM227.7 54.8l-1.5-2.4-3.5-.3-.9 2.1 2.1 3.7 .1 0 3.2-1.9zM240.3 46.3l.1 1.4 .8 .7 3 .2 1.2-2.4-1.8-1.6-2.4 .4zM233.2 55.5l-.8-1.4-1.2-.6-3.5 1.3-.5 1.2 2.7 3.1 2.7-.7zM291.1 66.9l.6 1.7 1.6-.6 .1-.4-.7-1.7zM276.6 43.8l0-1.8-1.8-.6-.8 1.9 .1 0 2.5 .5zM278.3 80.5l.9-.7-.1-1-1.3-.9-.6 .2-.3 1.1zM243.8 86.7l.7 1.4 3.5 .4 .3-.5-.7-3-1.2-.3zM271.1 88.1l.8 .3 1.2-.9-1.5-1.3-.7 .3zM293.9 62.4l-.7-.9-1.6 .6 1 1.9 1-.4zM303 92.7l.6-1-.7-1.6-.2 0-1.1 1.7zM305.6 68.7l.6 1.9 1.3-.2 .3-.3 .1-1.2-1.7-1.1zM285.5 82.6l1.1-.6 .3-1-1.1-1-1.8 1.1 .3 .9zM277.3 87.3l-1.4 1.5 0 .3 .9 1.1 .7-.2 1.1-1.5-.6-1zM291.9 48.5l.8-.1-.1-2.1-.3-.3-1.4-.1-.3 .3-.1 1.2zM209 59.6l3.6 2.6 2.4-2.2-.5-3.1-5.3 1.3-.3 .7zM251.2 34.8l-.2-1.5-1.5-.4-1.2 1.3 .5 1 .2 .1zM214.5 56.9l3.6-.4 .9-2-1.3-1.9-3.9 .3zM217.7 52.6l1.3 1.9 2.8-.3 .9-2.1-.8-1.8-2.8-.6zM279 86.4l1.3 .7 .9-.3 0-.2-.6-1.6-1.7 .4zM295.1 61l-1.4-.8-.1 0-.4 1.3 .7 .9 1.3-.5z"/>
<path fill="#69c1eb" stroke="#69c1eb" d="M318.9 42.3l0-.5-1.8-.9-.3 .2-.4 2 .9 .5zM305 62.1l1.1-1.8 0-.2-.7-.8-.9 .2-.8 .9 .2 1.3zM246.1 63.9l-.3 .8 .8 2.1 2.1 .9 .2-.1 .5-2.8-.6-.7zM262.6 92.3l-1.3 .8-.3 1.5 .1 .2 .8 .2 1.6-1.2 .1-.7zM226.8 82.6l-3.1-4-.2 0-2.3 4.2 .2 .2 1.2 .6 1.1 .7 1.2 .6zM276.4 91.1l-1.9 .2 .2 2.1 1.9-.8 .1-.4zM306.9 100.6l1.2-.4 .2-2-.3-.2-1.7 .4-.4 .8 .3 .8zM296.9 74l-1.3 .4-.3 1.1 1.7 .8 .4-.9zM293.4 67.6l2.2-.7-.8-1.2-2-.1-.1 .3zM276.8 46.5l.7-.3-.1-2.1-.8-.3-1 1.8zM303.7 67.1l-.6-.7-1.6 1.1 .8 1.5 1.4-1.3zM269.3 48.4l.9 1.1 .8-.1 .4-.6-.1-1.1-1.6-.5z"/>
<path fill="#4bb6e7" stroke="#4bb6e7" d="M232.6 58.4l-2.7 .7-1.1 3.5 3.9 .8 1.5-3.3zM241.4 34.6l-2.9 1.4 1.5 2.9 .6 .1 1.8-1.2zM216 76l-.1-1.2-2.1-2-3 2.5 1.6 3.2 .8 .1zM304.5 56.8l-1.4 1.2 1.4 1.5 .9-.2 .2-.5-.6-1.9zM315.5 55.3l-1.7 1-.1 .6 .9 .7 1.6-.4zM306.8 101.5l.1-.9-.7-.6-1.3 .8 .6 1.3 .4 .5zM324.1 35.3l.2 0 .6-1.5 0-.1-.4-.5-2 .1-.3 .7 .1 .5zM314.6 53.9l.9 1.4 1.5-.7-.1 0-.1-.9-.2-.6 .3-.1-1.6-.2zM322.3 32.5l.9-1.1-.3-1.1-.2-.1-1.6 .5-.2 .9 0 .2zM306.3 52.7l-.6 1.4 1.6 .5 .8-.9-.7-.9zM289.9 76.1l-.3-1.4-1-.2-1 1.7 1.2 .8zM303.7 60.4l.8-.9-1.4-1.5-.7 0-.2 2.1zM305.2 49.5l-.1-.4-1.7-.5-.6 .4 .4 1.6 1.7-.4zM237.5 58l-.9-2.1-3.4-.4-.6 2.9 1.6 1.7 1.6 0 1.5-1.3zM311.3 48.6l.2-.5-.7-1-.1-.1-1.7 .7 .3 1.8 .8 .1zM276.5 47.3l1 1.4 1.5-.7 0-.1-.7-1.4-.8-.3-.7 .3zM320.9 40.1l-.5 1.1 1.1 1 1.2-.4-.4-1.4zM282.4 45.9l-1.2-.2-.5 .4-.1 .4 .9 1.1 1.3-.2zM219 54.5l-.9 2 2 2.8 1.4 .3 2.4-1.7-2.1-3.7zM243.9 90.5l.6-2.4-.7-1.4-.7-.3-3.1 2 .8 .7 .6 1.5 .2 1 .1 .2zM316.6 51l.3-1.4-1.4-.4-1 1.2 .2 .8zM304.9 94.6l-.3-.9-1.5-.3-.5 .6 1 2 .1 0zM285.6 89.1l-.1-.2-1.5-.1-1 1.5 .9 .8 .3-.1 .6 0zM273.1 87.5l-1.2 .9 .3 1.5 1.3-.5 .2-1.2-.6-.7zM302.9 86.1l1.5-1.1 .1-.5 0-.3-1.4-.8-1.1 1.1 .1 1.1zM237 62.5l-1.2-2.4-1.6 0-1.5 3.3 .8 1.3 1.8-.1zM282.3 49.7l.7-.9-.2-1.4-1.3 .2-.6 1.3 1 .9zM274.9 86.2l-.9 .1-.9 1.2 .6 .7 1.5 0 0-1.7zM312.4 43.2l.2 .2 .7 .1 1.3-1.7-.1-.6-2.1 .1zM305 62.1l.3 .4 1.5 0 .3-1.2-1-1zM222.1 64.7l-.6-5.1-1.4-.3-2.8 1.7 .3 3.2 4.4 .6zM310.4 44.5l-.3-1.1-1.4-.3-.1 .1-.3 1.2 .5 1 .7 0zM249 90.8l-.9-.7-2.1 1.6 .3 1.6 .4-.7 1.2-.5 1.2 .3z"/>
<path fill="#37aae2" stroke="#37aae2" d="M244.9 76.1l2.8-1.7-1.4-3.3-2.7 1.3 .3 3.2zM243.1 86.4l-1.5-2.8-3 .5-1 1.7 .7 .7 1.2 1.3 .5 .6zM246.7 60.9l-.8-1.2-3.3-.3-.2 .1 .7 2.8 2.8 1zM312 51.2l.3-1-1-1.6-1.2 1 .8 1.8 .2 .1zM319.6 39.1l1 .4 1.3-1.2-1.3-1-.6 .1zM281.8 40.6l.3 .3 1.5-.3 .3-1.9-.7-.4-1.1 .3zM282.8 93.8l0-.9-1.7-.9-.6 .6 .9 1.9 .3-.2 .4 .2zM233.3 82.6l-2.4-2.7-1 0-2 2.6 3.1 3.3 .2 .1 1.2 .1 .1 0 .2-1.4 .2 .1zM295.3 75.5l-.7 .3-.5 1.3 1.7 1 .9-.5 .3-1.1 0-.2zM239.8 74l.4-1.1-1-2.5-2.2 .9-.6 2.9 .5 .5zM218.1 56.5l-3.6 .4 .5 3.1 2.3 1 2.8-1.7zM322.8 37.2l1.6 .6 .2-.1 .2-1.8-.5-.6-.2 0-1.4 1.4zM208.6 74.9l.3 .4 .7 1 0 .8 .2 1.1 1.3 .1 1.2 .2 .1 0-1.6-3.2zM310.5 41.3l.3 1.7 1.6 .2 0-1.9-.3-.3zM232.7 63.4l-3.9-.8-.9 .5 .4 3.2 2.1 1.7 2.7-2 .4-1.3zM250.7 53.8l.2-.1 .7-2-.4-.6-.7-.1-1.5 1.1 .5 1.7zM297.5 71.1l.8 .4 1-.4-.3-1.9-.3-.1-1.2 .4-.1 .1zM320.4 41.2l.5-1.1-.3-.6-1-.4-.6 .2 .2 2.2zM313.1 51.9l-.1 1.1 1 .9 .6 0 .7-1.1-.6-1.5zM304.1 52.3l-1.3-1-1 .3-.2 1 1.3 1.1 1.2-.7zM322.7 36.7l1.4-1.4-1.8-.8-.8 1.4zM280.3 87.1l-.7 1.6 .4 .5 1.7-.4 .2-.8-.7-1.2zM324.3 31.8l-1.1-.4-.9 1.1 .2 .8 2-.1zM288.4 90.2l-1.4-.7-.3 1.3 1.3-.2 .5-.2zM234.1 73.7l2.3 .5 .6-2.9-2.1-1.6-1.3 .8zM214.9 45.6l-2.8 0-.8 3.3 2.1 1.8 3-2.6zM297.5 69.5l-1.4-1.7-.9 1.2 .4 1.3 1.8-.7z"/>
<path fill="#239edc" stroke="#239edc" d="M251.9 45.4l1.7-1.5-1.4-1.1-.5 .1-1.3 1.9zM311.8 53.6l1.2-.6 .1-1.1-1.1-.7-.9 .3 0 1.5zM224.9 73.3l1.3-1.3-1.3-3.2-2.7-1.4-2.6 2.6 .4 2.5 .3 .3zM227.6 48.1l-3.2-1-2.5 3.2 .8 1.8 3.5 .3zM278 87.5l.6 1 1 .2 .7-1.6-1.3-.7zM286.3 74l.1-.2-1.1-1.4-1.1 .2-.7 .7 .2 1.6 .8 .1zM207.7 49.7l3.6-.8 .8-3.3-1.2-1.5-3-.1-.9 .8-.4 3.9zM267.8 85.7l-.4-1.7-1.8 .5-.3 1 .8 1.1 1.1 0zM208.8 54.2l4.9-1.3-.3-2.2-2.1-1.8-3.6 .8 .1 3.6zM272.4 45.8l2.2 .2 .1-.1-.6-2.6-.1 0-.2 0-.4 .2zM249.5 53.8l-.5-1.7-1.3-.8-1.8 1.9 .1 1.9 3.2-1zM311.8 55.2l-2 0-.4 .7 1.2 1.5 1.1-.6zM246.3 71.1l1.4 3.3 .2 0 2.3-1.6 .1-.3-.4-1.3-1.7-1zM246.7 33.7l-.1-2.2-.4 0-1.1-.1-1-.1-.2-.1-.5 2.4 1.7 1zM272 61.3l0-1-.5-.4-1.6 0-.5 1.4 .5 .8zM220 72.5l-.4-2.5-2.3-.8-3.8 1.5 .3 2.1 2.1 2zM318.5 48.1l-.8 .7-.1 .4 .9 .8 1 0 .9-1.7zM307.4 49.3l-.1-1.3-1.6-.3-.6 1.4 .1 .4 1.4 .3zM246.6 56.8l-.8-1.3-2 .3-1.2 3.6 3.3 .3zM314.3 44.4l-1-.9-.7-.1-.9 1.6 .2 .6 1.3 .4zM295.7 84l-.1 1.5 .8 .8 1.3-.7 .1-.2-.9-1.6zM305.4 59.3l.7 .8 2.1-.7 .3-.9-.1-.2-1-.5-1.8 1zM246 91.7l-2.1-1.2-2.2 1.3 .1 .7 1.3 1.1 1.1 .6 1.1 .6 .7-1.1 .3-.4zM291.2 76.8l.9-.8 .1-.9-.5-.5-1.8-.2-.3 .3 .3 1.4zM239 63l-2-.5-1.7 2.1 2.4 2 1.1-.9zM308.3 98.2l1.5-.1-.4-.7-.5-1.2-.4-.8-.6 1 .1 1.6zM314.3 59.2l-1.5-.1-.1 2.2 1.3 .6 .7-2.3zM286.2 42.7l-.2 1.1 1.2 1 1.1-.4 .2-.3-.4-1-1.8-.5zM258.6 48.2l1.3 .2 1.2-1.5-1.4-1.1-1.3 1.8zM256.8 96l-.6 .8 1.1 1.5 .8-.1 .3-.7-.2-1.2zM283.2 38.3l-.1-1.6-.4-.3-1.5 .2 0 1.5 .9 .5zM220.3 72.8l-.3-.3-4.1 2.3 .1 1.2 2.4 2.1 2.4-.8zM238.8 65.7l-1.1 .9-.1 .6 1.9 2.6 2.5-1 .4-.6-.2-1.8-.1 0zM233.4 31.3l2 1.5 1.5-.4-.1-2-.9-.2-1-.1-1-.2-.2 0zM294.7 71l.6-.2 .3-.5-.4-1.3-1.3 0-.3 1zM277.9 74l-.3-.3-1.8 0-.5 1 1.3 1zM297.6 80.2l-1.7-.1-.5 1.1 1.9 1.1 .8-.8zM315.7 38.6l-.9 .3-1 .2-.1 .1 1 1.2 1.2-1.1zM308.4 51.4l.3-1.6-1.3-.5-.8 .5 .3 1.2 1.5 .4zM327.2 34.6l-.4-1-.9-.7-.1-.1-.9 .9 0 .1zM260.4 66.7l.6 1.2 1.5-.5 .1-.9-.9-1.1-.7 .3zM303.2 50.6l-.4 .7 1.3 1 1.2-.7-.4-1.4zM292 90.2l.3 .1 .5 .2 1.8-1.2-.3-.6-1.9-.2zM267.5 69.9l-1.5 1.8 .3 .6 1 .4 1.1-1.2-.9-1.6zM284.3 84.8l1.1 1.6 .9-.9 0-1.2-.9-.5-.9 .5zM281.5 74.7l0-1.9-1.9 .6-.5 .8 1.9 1zM286.4 65.9l.3-1.3-.7-.6-1.6 .8 0 .1 1 1.2zM249.6 39.5l2.1-.6-1.1-1.6-1.9 1z"/>
<path fill="#1292d7" stroke="#1292d7" d="M203.4 57.6l.3 .3 5.2 1 .3-.7-.4-4-1-.9-3.4 1zM249.5 32.9l1.5 .4 1.1-.6 0-.8-.8 0-1-.1-.8 0zM242.4 59.5l.2-.1 1.2-3.6-1.1-.6-2 .4-.6 1.7 2.1 2.2zM272.4 78.2l2.2-1.1-.4-1-1.6-.3-.9 1.1 .1 .8zM248.1 42.5l-.4 0-2.3 3.7 2.5 .8 1.4-1 .5-1.2zM243.1 62.3l-.7-2.8-.2 0-2.3 1.3-.4 1.8 2.3 .9zM217.8 28.4l-4 .3-.8 1.2 1.3 3.2 4.6-.1 .1-.3zM309.2 64.4l.9 .9 .4 0 1.5-1.2-1.1-1.6-1.2 .1zM278.8 69l0 .4 2.5-.1 .1 0 0-1.3-.5-.5-.9 0zM227.5 63l-5.4 1.7-.1 .1 .2 2.6 2.7 1.4 3.4-2.5-.4-3.2zM270.3 88.6l.8-.5-.2-1.6-1.1-.3-.2 .2-.7 1.6zM224 57.9l-.1 0-2.4 1.7 .6 5.1 5.4-1.7zM286.4 73.8l1.2-.3-.3-2.2-.1 0-1.6 .6-.3 .5zM240.4 78.7l1.3-2.4-1.9-2.3-2.9 .7-.1 1.3 2.9 2.8zM292.4 64.5l.2-.5-1-1.9-1.6 .9 .4 1.5zM205.1 71.4l.6 .7 .8 .4 .7 .4 .1 .9 .6 .3 1.6-3.2-1.4-2-2.6 .1zM224.5 31l-1.1-.5-4.4 2.2-.1 .3 .2 1 1.5 1.3 3.7 .2 1.2-1zM289 88l1.5-1.5-1.8-1.3-.1 0-.5 .6-.1 1.8zM236.8 76l-2 2 1.2 2.9 1 .2 2.7-2.3zM202.1 47.5l.3-3.3-1.9-.2 0 .7-.3 .7-.2 1.2-.2 1.2-.4 .4zM317.4 45.3l.2-.7-.3-1-.9-.5-.4 .1-1.3 1.3 .8 1.1zM212 65.7l.8-.9-.2-2.6-3.6-2.6-2.4 3.9 3.3 2.5zM235.2 68.8l-.3 .9 2.1 1.6 2.2-.9 .3-.6-1.9-2.6zM312.4 70.7l-1 .3-.2 2.2 .1 .1 2.1-.7 .1-.8-.3-.6zM241.8 63.5l-2.3-.9-.5 .4-.2 2.7 3.3 .7zM261 81.2l.2 0 .8-1.6-1.7-.8-.9 .3 0 1.1zM244 41.8l1.5-1.1-2.1-2.8-1-.1-1.8 1.2 .9 2.3zM251.2 51.1l.4 .6 1.7 .2 .6-.7-.2-.8-1.7-.7zM262 63.6l.2 .8 1.5 .3 .9-1.3-1.4-.6-1.2 .8zM274.6 69.3l.3 1.7 1 .2 1-1.4-.7-.8zM213.4 70.6l.1 .1 3.8-1.5-.9-4.1-3.6-.3-.8 .9zM306.3 74.5l-.2 1.2 1.8 .5 .4-1.1-.6-1.2zM311.6 74.4l-.3-1.1-.1-.1-1.5-.1-.2 1.7 .7 .5zM261.9 41.4l0 .1-.4 1.5 .4 .9 2-.6 0-1.6zM272.6 75.8l-.2-1.4-.6-.3-.9 .3-.2 1.9 1 .6zM314.9 69.3l-.1 .4 .9 1.7 .6-.6 .7-.6-.2-.6zM285.2 77.4l-.3 1.3 .9 1.1 1.3-1.4-.9-1.6-.3 .1zM304.6 45.5l-.6 .1-1.1 .8 .4 .5 .1 .2 1.1-.3zM252.3 57.4l.8-2 0-.1-1.7-.3-.5 1.4 .7 .9zM284.2 45.6l-.1 1.5 1 .7 .6-.2 .1-1.7-1-.7zM310.1 70.5l.1-.1 .1-.9-.8-1.1-1 0-.6 .5-.1 1.2zM234.8 78l-1.9-.4-2 2.3 2.4 2.7 2.7-1.7zM295.6 85.5l.1-1.5-.1 0-2.2 .8 0 .1 1.1 1.3zM302.6 74.2l-1.6-.6-.6 1.6 1.4 .9 1.1-.3zM250.7 36.9l-.1 .4 1.1 1.6 .1 0 1.4-1.1-.3-1-1.3-.5zM304.2 70.4l-1 1.7 .3 .3 2.3-.2 .2-1.5zM243.4 33.6l-1.8 .5-.2 .5 1 3.2 1 .1 1.8-1.9-.1-1.4zM316 67.7l-.3-.4-.2-.3-1.6 0-.3 1.4 1.3 .9zM285.8 79.8l0 .2 1.1 1 1-.3 .4-.4-.2-1.7-1-.2zM303.7 97.4l.4 1.5 1.8 .3 .4-.8-.6-1.5-1.7-.2zM267.7 87.6l-1.2 1-.1 1 1.3 .4 .7-.4 .5-1.6zM285.1 36.1l0-.2-.1 0-1-.5-1-.6-.1 0-.2 1.6 .4 .3zM301.7 55.2l1.2-.8 0-.7-1.3-1.1-.9 .7-.1 .6zM213.8 28.7l4-.3 .8-1.5-.9-.3-1-.2-1-.3-1-.2-1-.3-1-.2-.4-.2zM205.5 69l2.6-.1 1.8-2.9-3.3-2.5-1.4 .4-.1 4.6zM266 41.5l-1.8-.1-.3 .3 0 1.6 .6 .7 1.6-.5 .5-.8-.4-1.1zM300.8 56.4l.8-.2 .1-1-1.1-1.3-1.6 1.4zM276.6 92.6l.7 1.5 1.7-.5 .5-1-.4-.5-2.4 .1zM267.9 92l.1 .1 1.5 .1 .1-.2 0-1.7-1.2-.7-.7 .4zM241.8 80.2l.3 2.4 3.3-.2 1-1.6-.4-1.8-.1-.2zM315.5 55.3l.7 1.9 .2 .1 .3-.5 .4-1.4-.1-.8zM264.3 68.3l1 1.1 1.6-.3 .2-1.7-2.3 0zM269.6 46.8l-1.7-.2-.6 .3-.3 .6 .7 1.4 1.6-.5 .4-1.2zM283.7 74.9l-2.2-.2-.5 .5 .1 .5 1.2 1.3 .7-.1 .1-.1zM290 63l1.6-.9-.8-1.9-1.5 1.5 .3 1.1zM254.6 98l1.7 1.2 1-.9-1.1-1.5-1 .2zM288.9 69.5l.1 1.5 .3 .2 1.4-.1 .2-.2-.1-1.7-1.2-.3zM286 58.6l-.2-1.2-1.3-.8-1.1 .2 0 .7 1.5 1.7zM281.6 81.9l0-.2-.7-.4-2 .8 .6 1.2 1 .3zM290 89l-.4-.1-1.2 1.3 .1 .2 .3-.1 1.3-.1 .6-.1zM302 84.5l-1.3-.6-1.1 .8 .4 .9 1.1 .4 1-.4zM207.9 74.1l.3 .2 .4 .6 2.2 .4 3-2.5-.3-2.1-.1-.1-3.9 .3zM285.5 86.8l-.1-.2-1.6 .5-.3 .5 .5 1.2 1.5 .1zM307.9 68.9l.6-.5-.3-1.7 0-.1-2 .7 0 .5zM256.2 90.7l.7 .4 1.3-1.1-.4-.9-.8-.3-.6 .4zM326.7 36.9l-.8 1.3 .3 .6 .4-.3 .5-.6 .5-.6 .1 0zM269.2 52.8l1-1.3-.7-1-1.1 .1-.3 1.9z"/>
<path fill="#0c86d2" stroke="#0c86d2" d="M205.1 68.5l.1-4.6-.7-.3-2.9 1.8 .1 .4 .7 1.2 .5 1.1-.2 .5zM288.6 41.9l1.3-.4-.4-1.7 0-.1-2 .5-.2 .7zM209.5 70.9l3.9-.3-1.4-4.9-2.1 .3-1.8 2.9zM253.5 90.1l-.9 .2-.8 1.4 1.2 1.1 .3 0 .7-.8zM223.4 30.5l1.1 .5 3.5-2.1-.2-.1-1-.2-1-.2-1-.2-1-.2-1-.2-.1 0zM277.3 65l1-1.6-1.4-1.1-1.3 1.5 .2 .6 1 .7zM301.6 51.5l.2 .1 1-.3 .4-.7-.4-1.6-.1 0-.7 .5-.7 .5zM298 56.6l.1 .5 1.8 .9 .9-1.6-1.8-1.1zM240.4 47.7l-2.5 1.3-.4 2 2.7 1 .5-.3 .5-3.3zM233.5 64.7l-.4 1.3 2.1 2.8 2.4-1.6 .1-.6-2.4-2zM217.6 64.2l-1.2 .9 .9 4.1 2.3 .8 2.6-2.6-.2-2.6zM286.8 41.1l-1.2-.6-1.3 .7 .2 .9 1.7 .6 .1-.1zM297.3 82.3l-1.9-1.1-.4 .3-.2 1.1 .8 1.4 .1 0 1.2-.2 .3-.4zM228.1 77.6l1.8 2.3 1 0 2-2.3-1-2.7-1.7-.6zM233.9 48.8l1.4 2.8 .9 .1 1.3-.7 .4-2-1.5-1.2zM224.9 77.4l0-4.1-4.6-.5 .5 4.5 2.7 1.3 .2 0zM249.6 59.3l3 .3-.2-2.1-.1-.1-.7-.1-2 1.8zM217.8 28.4l1.2 4.3 4.4-2.2-.7-2.7-1-.2-1-.2-1-.3-1-.2-.1 0zM259.5 91.9l.2 0 1.8-1.2-.7-1.2-.7-.2-1.1 1.1zM251.9 45.4l-1.5-.6-.6 0-.5 1.2 1.5 1.6 1.3-.6 .2-.6zM287.2 71.3l.1 0 1.7-.3-.1-1.5-1.2-.4-.8 1.1zM212.8 64.8l3.6 .3 1.2-.9-.3-3.2-2.3-1-2.4 2.2zM298 56.6l-1.4-.3-.7 .4-.5 1.7 0 .1 1.3 .9 .6-.3 .8-2zM258.6 60.9l.5 1.4 .3 .3 1.8-1.2 .1-.1-.3-.7-.9-.4zM284.8 91l.8-.1 1.1-.1 .3-1.3-.1-.2-1.3-.2zM233.3 82.6l-.4 2.1 .9 .1 1.1 .1 1.1 .1 1.1 .2 0 .1 .5 .5 1-1.7-1.6-3-1-.2zM302.2 69.5l-.6 .5 0 .7 .8 1 .8 .4 1-1.7-.3-.6zM281.7 59l-.9-.8-1.8 1.1-.1 .4 .4 1.1 1.6-.2zM232 47.9l-1.5 .4 .7 5.2 1.2 .6 2.9-2.5-1.4-2.8zM202.9 61.3l1.6 2.3 .7 .3 1.4-.4 2.4-3.9-.1-.7-5.2-1zM253.6 53.6l-.1-.1-2.6 .2-.2 .1 .7 1.2 1.7 .3zM246 91.7l2.1-1.6-.1-1.6-3.5-.4-.6 2.4zM256.4 45.2l-1.7-.2-.4 1.3 .2 .5 1.3 .6 1.3-.9-.1-.5zM285.8 45.9l-.1 1.7 .4 .1 1.6-.8-.7-1.4zM241.8 80.2l4.1-1.4-1-2.7-1-.5-2.2 .7-1.3 2.4zM293.4 84.8l2.2-.8-.8-1.4-1.8 .6zM299.3 86.7l.4 1.1 1.3-.3 .1-1.5-1.1-.4zM297 64.3l.9-1.1-.7-1.3-1.6 .4 0 1.6zM275.2 59.9l1.6 0 .3-.2-.4-1.7-1.4 .5zM277.9 56l-.4-1-.3-.1-1.8 1.2 1.5 1.5 .1 0zM220.3 44.7l-3.5-1.9-1.9 2.8 1.5 2.5 1.9 .4zM312 64.1l-1.5 1.2 1.1 1.5 1.3-.7-.7-2zM280.4 65.4l.8-1.9-.1-.3-1.5-.4-.6 .5 .6 2.2zM255.6 78.3l-.6 1.6 .1 .5 .6 .4 1.3-.4 .3-1.2-.7-1.1zM281.9 88l1.6-.4 .3-.5-1-1.3-1.6 .8 0 .2zM309.2 64.4l.5-1.8-.4-.3-2 .8-.2 1.3 .2 .3 .3 .1zM299.3 71.1l-1 .4-.1 1.6 .5 .2 1.3-.5 0-1.3zM248.7 67.7l.1 .4 2.1 1 .9-.8-.1-1-.6-.3-2.2 .6zM268.6 41.5l-.4-.9-2 1 .4 1.1 1.3 .2zM268.4 89.6l1.2 .7 .8-.6-.1-1.1-1.4-.6zM268 61.1l-.2-1.7-.7-.4-1.1 .8 .6 1.8 .4 .2zM250.9 56.4l.5-1.4-.7-1.2-1.2 0-.3 .3 .4 2.2zM245.9 63.3l-2.8-1-1.3 1.2 .3 2.9 .1 0 3.6-1.7 .3-.8zM300.6 91.3l-.2-1.6-1.3-.5-.1 .1-.7 1.4 .9 .8 .4 .3zM293.4 79.4l2.2-.1 .2-1.2-1.7-1-.2 .1-.8 1.3zM301.9 56.4l1.9-.4 0-.9-.9-.7-1.2 .8-.1 1zM212.4 40.9l-1.5 3.2 1.2 1.5 2.8 0 1.9-2.8-.3-.9zM266.4 89.6l-.2 .1-.4 .9 .8 1.3 1.3 .1-.2-2zM270.7 40.5l-.9 1.3 .5 1 .7 .3 .8-1.6zM298.9 83.6l-1.7-.2-.3 .4 .9 1.6 1.8-.7zM302.6 94l.5-.6-.1-.7-1.4-.9-.2 0-.4 1.1 .4 .3-.1 1.1zM277.6 73.7l.3 .3 1.1 .3 .1-.1 .5-.8-.5-2.2-.3-.2-1.3 1.2zM271.3 83.8l-1.5 1 0 1.4 1.1 .3 .7-.3 .6-1.1zM285.6 40.5l0-1.3-.9-.7-.8 .2-.3 1.9 .7 .6zM274.3 57.7l.9-1.7-.2-.1-1.4-.3-1.2 .9 .1 .9 .9 .6zM308.2 66.6l0 .1 1.2-.2 .7-1.2-.9-.9-1.6 .4zM265.9 80.2l-.9 1 .1 1 1.6 .1 0-1.6zM202.3 52.3l2.1 2 3.4-1-.1-3.6-1.1-1-2.6 .4zM249.4 63.3l-.6 .8 .6 .7 1.7 .3 .7-.4 .2-1.1-.2-.6zM252.1 87.7l-.9 .9 0 .6 1.4 1.1 .9-.2 .4-.5 .1-.3-1.8-1.6zM280.9 48.9l.6-1.3-.9-1.1-1.6 1.4 0 .1 .9 .9zM297 76.3l0 .2 2.3 .4 .4-1.5-.7-.5-1.6 .5zM299 74.9l.7 .5 .7-.2 .6-1.6-.1-.2-.9-.6-1.3 .5zM258.7 33.7l.8-1.4-1 0-1-.1-.1 0 .2 1.1 .5 .4zM264.8 59.1l.5 .6 .7 .1 1.1-.8-.1-.7-.7-.7-1.5 .3zM276.6 43.8l-2.5-.5 .6 2.6 .9-.3zM293.1 78.5l.8-1.3-1.8-1.2-.9 .8 0 1.3zM268.9 63.4l.1 1.2 .2 .2 1.4 0 .9-1-1.6-1.6zM300 71.5l0 1.3 .9 .6 1.5-1.7-.8-1zM287 89.5l1.4 .7 1.2-1.3-.6-.9-1-.4-.1 .1-1 1.6zM267.4 94l-1.5-.5-.7 1.6 1.1 1.2 .9-.7 .7-.6zM294.7 49.6l0 .8 .7 .5 .1-.1 .4-.6 0-1.2zM246.3 71.1l-1.2-2.3-2.7-.6-.4 .6 1.1 3.4 .5 .2zM248.5 49l-.6-2-2.5-.8-1.2 2.4 .4 .8 2.9 .9zM226.8 82.6l1.1-.1 2-2.6-1.8-2.3-3.2-.2-1.2 1.2zM283.8 68.7l1.6 0 .6-.6-.9-1.2-1.7 .3zM293.9 55.9l-1.7-.6-.6 .6 .3 1.7 .5 .3 .4 .1 .7-.6zM314.8 69.7l-1.6 1.5 .3 .6 2-.1 .2-.3zM283.5 54.5l-2-.4-.4 1.1 .7 1.1 1.5 .4zM305.8 80.8l-1.6 .5 1 1.4 .7-.8 .4-.4zM276.6 42l0 1.8 .8 .3 .3-.1 .8-1.1-.7-1.6-.3-.1zM257.1 43.1l-.7 2.1 .6 .8 1.8-1.2-1.6-1.7zM275 53.6l0 2.3 .2 .1 .2 .1 1.8-1.2-1.5-1.7-.5 .2zM272.1 81.5l-.6-1-.6-.1-1.3 1.2 .2 .9 1.5 .8 .6-.6zM242.7 55.2l-.4-2.9-1.6-.6-.5 .3-.8 2.3 1.3 1.3zM265.8 90.6l-1.1 .5-.2 1.5 1.1 .4 1-1.1zM278.7 35l-.1 0-.7-.1-.4 .8 .8 1.8 .8-.1 1-1.4zM300.6 91.3l-1 .5 .8 .8 .6 .3 .4-1.1zM252.3 57.4l.1 .1 2.1 0 .5-1-.2-.4-1.7-.7zM255.3 49l-1.1 0-.5 1.4 .2 .8 .6 0 1.2-1zM293.1 51.8l1.6 .4 0-.8 .7-.5-.7-.5-1.7 1.2zM258.9 68.3l1.5 .5 .4-.2 .2-.7-.6-1.2-1.1 .1zM285.6 71.9l-.4-1.3-1.8-.2-.1 .3 .9 1.9 1.1-.2zM288.1 43.1l.5-1.2-1.3-1-.5 .2-.5 1.5zM202.7 68.6l-.3 1 .3 .8 1.1 .3 1.1 .4 .2 .3 .4-2.4-.4-.5zM265 54.4l.7-.2 0-1.4-.8-.4-1.3 .9 0 .1zM323.2 46.5l1.9 .6-.3-1-.6-.4-.5 0-.2-.1z"/>
<path fill="#0a7acd" stroke="#0a7acd" d="M280.6 85l.6 1.6 1.6-.8 .1-.5-.6-.9-1.4 0zM258 69.4l1.5 1.2 .4 0 .5-1.8-1.5-.5-.9 .4zM245.8 64.7l-3.6 1.7 .2 1.8 2.7 .6 1.5-2zM286.3 84.3l1.2-.5 .1-.6-1-1.2-1.1 .6-.1 1.2zM276.9 79.2l.3-1.1-1.3-.9-.9 .2-.1 2 1.1 .3zM311.6 66.8l-.2 .6 .4 .9 .8 .4 1-.3 .3-1.4-.3-.7-.7-.2zM223.5 78.6l-2.7-1.3-2.4 .8-.8 2.6 .4 .2 1.2 .7 1.1 .7 .9 .5zM202.3 52.3l1.7-3.2-1.9-1.6-2.7 .7-.2 .4-.7 .8 .4 1.2 .4 1.3-.2 .7zM244.2 48.6l-3-.2-.5 3.3 1.6 .6 1.7-.7 .6-2.2zM246.6 66.8l-1.5 2 1.2 2.3 1.9-.9 .6-2.1-.1-.4zM273.5 47.8l-.6 1 .4 .9 1.4 0 .5-.5-.3-1.3-.2-.2zM216.2 37.5l2.9-3.5-.2-1-4.6 .1-1.6 2.1 1.1 1.9zM234.9 69.7l.3-.9-2.1-2.8-2.7 2 .2 1.9 3 .6zM272 61.3l.7 .9 1.6-.5 .4-.6-.1-.7-1.4-.7-1.2 .6zM251.2 88.6l-1.8-.8-1.1 .2-.3 .5 .1 1.6 .9 .7 1.2-.2 1-1.4zM260.6 56.8l-2 .5-.2 1.4 1.3 .2 1.2-1zM271.5 71.5l1.3-1.2 0-1-.8-.6-.6 0-1 .9zM297.9 63.2l-.9 1.1 .2 .8 1.1 .5 1.5-1.1-.5-1.3zM289.9 58l-.3-.4-1-.2-.9 1.2 .8 1.3 1.6-.3zM240.4 30.8l-.4 0-1-.1-1-.2-1-.1-.2 0 .1 2 .7 .3 2.4-.8zM257.1 100.7l-.8 1.6 1.4 .7 .7-.6-.1-1.6-.1 0zM273.8 37.4l.1 .3 .8 .7 .3 0 1.2-.6 .1-1.5-1-.5zM283.2 66.7l-1.1-.9-.8 .2-.4 1.5 .5 .5 1.9-.8zM210.2 34.8l-1.6-3.1-4.5 2.6 0 .2-.2 .6 4.2 2.7zM292.8 65.6l-.4-1.1-2 0-.6 .8 1.1 1.5 .2 .1 1.6-1zM243.9 75.6l-.3-3.2-.5-.2-2.9 .7-.4 1.1 1.9 2.3zM237 81.1l1.6 3 3-.5 .5-1-.3-2.4-1.4-1.5-.7 .1zM239.2 70.4l1 2.5 2.9-.7-1.1-3.4-2.5 1zM304.5 68.7l-.6 1.1 .3 .6 1.8 .3 .2-.1-.6-1.9zM212.4 40.9l-.2-.6-4-1.8-1.1 1.5 .8 4 3 .1zM247.5 50.3l-2.9-.9-.6 2.2 1.9 1.6 1.8-1.9zM255.8 47.4l-1.3-.6-.8 1.6 .5 .6 1.1 0 .5-.5zM303.6 96l-1-2-1.3 .3 0 .1 0 1.1 .2 .6zM307.3 48l.9-.7-.2-.9-1.5-.6-1 1.5 .2 .4zM303.2 87.3l-1.2 1-.1 1 .8 .8 .2 0 .9-.3 .6-1.9 0-.2zM255 71.5l-.4-1.4-1.8 .5 0 .5 1.6 1.2zM260.3 101.6l1.1-.1 .1-.6 .2-.5-1.2-1.1-.8 1.5zM230.4 68l-2.1-1.7-3.4 2.5 1.3 3.2 2.8 .2 1.6-2.3zM294.8 65.7l.4-1.6-1.6-.5-1 .4-.2 .5 .4 1.1zM250.8 47.6l-1.5-1.6-1.4 1 .6 2 1 .2 1-.5zM277.5 46.2l.8 .3 1.2-1.1-.2-.6-1.6-.8-.3 .1zM305.8 72.2l-2.3 .2 0 .6 1 1.1 1.1-.4 .3-1.3zM277.3 94.1l-.7-1.5-1.9 .8-.1 .2 .5 .1 1.4 .3 .8 .3zM307.7 77.5l-2.1 .6-.1 .6 .8 1 1.4 .2 .2-.3zM325.8 32.8l-.3-1-.2-.8-1 .8 .2 1.4 .4 .5zM320.1 43.6l-1.2-1.3-1.6 1.3 .3 1 2.2 0zM266.8 78.5l-1.1 .7 .2 1 .8 .5 1.4-.4 .3-1zM248.3 34.2l-1.6-.5-1.6 .9 .1 1.4 2.4 1.7 1.2-2.5zM254.5 51.2l1.2 1 .8 0 .4-1.4-.2-.3-1-.3zM292.5 86.9l-.7 .6 0 .2 .6 .8 1.9 .2 .2-1.3-.2-.3zM278.6 53.8l-.1 .2 1.4 1.5 1.2-.3 .4-1.1-.2-.8-.9-.4zM312.5 58.9l-1.6 .2-.2 .7 .8 1.8 1.2-.3 .1-2.2zM290.8 60.2l.5-.3 1.1-2-.5-.3-2 .4 .2 1.6 .7 .6zM270.6 91.9l-1 .1-.1 .2 .3 1.7 1.1-.5 .9-.2 .4-.1zM295.6 62.3l-.4-.4-1.3 .5-.3 1.2 1.6 .5 .4-.2zM289.5 67.8l.1 1.1 1.2 .3 .9-.5 0-.1-.6-1.7-.2-.1zM252.8 70.6l-.2-.2-1.5-.3-1.2 1.1 .4 1.3 1.7-.3 .8-1.1zM253.6 81.2l-.3 1.3 .2 .1 2.1 0 .3-.6-.2-1.2-.6-.4zM300.4 75.2l-.7 .2-.4 1.5 .5 1.1 1.3-.2 .7-1.7zM280.1 36l.5 0 .9-1.9-.4-.2-.6 .2-.6 .5-.7 .4-.5 0zM226.2 72l-1.3 1.3 0 4.1 3.2 .2 2.1-3.3-1.2-2.1zM309.3 49.5l-.3-1.8-.8-.4-.9 .7 .1 1.3 1.3 .5zM274 51.6l1.2 1.8 .5-.2 .2-.2 .1-1.6-1.3-.4zM296 89.4l.7 1 1.1-.2 .5 .5 .7-1.4-1.7-1.1-.2 0zM268.2 40.6l.1-.2-.7-.8-1.4-.3-.2 2.2 .2 .1zM289.6 74.7l.3-.3 .2-1.3-.9-.8-1.5 1.2 .9 1zM290.8 69.2l.1 1.7 1.5-.1 .3-.5-1-1.6zM271.4 51.7l.5-.9-.9-1.4-.8 .1-.7 1 .7 1zM294.1 73.2l-.7 1.4 1.2 1.2 .7-.3 .3-1.1-1-1.1zM312.7 61.3l-1.2 .3-.6 .9 1.1 1.6 .2 0 1.2-.5 .8-1.5-.2-.2zM299 89.3l.1-.1 .6-1.4-.4-1.1-1 0-1 1.5zM313.4 72.6l-2.1 .7 .3 1.1 .5 .4 .2-.3 .6-1.3 .7-.1zM304.5 74.1l-.1 1 1.5 .7 .2-.1 .2-1.2-.7-.8zM264.5 92.6l.2-1.5-1.4-1-1 .9 .3 1.3 1 .8zM289.3 48.3l.9 2 .2 0 1.5-1.8-1.4-1.1zM313.5 71.8l-.1 .8 .2 .5 .2-.1 .9-.2 .8-1.1zM282.7 44.2l.4 1.1 1.1 .3 .6-.4 .1-.7-1.2-1.3-.4 0zM314.7 51.3l.6 1.5 1.6 .2 .3-1.4-.6-.6-1.9 .2zM279.8 76.8l-1.1-.4-.2 .1-.7 1.4 1.3 .9 1.1-1zM285.4 83.8l.1-1.2-1.2-.6-.9 1.2 1.1 1.1zM281 75.2l-1.9-1-.1 .1-.3 2.1 1.1 .4 1.3-1.1zM274.7 38.4l-.8-.7-1.8 1.5 1 1.2 .7 0zM280.5 43.5l.8 .8 1.4-.1 .6-1-1.5-1.1-1.3 .8zM280.2 38.6l-1.1-1.2-.8 .1-.7 1 0 .1 1.3 .9 1.1-.3zM322.7 41.8l-1.2 .4-.5 1.2 1.2 1 .4-.1-.3-.3 .2-.9 .3-1.2zM276.8 86.5l-1.6 0 0 1.7 .7 .6 1.4-1.5zM294.8 54.2l-1.9-1-.9 .8 .2 1.3 1.7 .6 .1 0zM298.1 53.3l1.3-.6 .1-1.6-.2-.2-.3 .2-.6 .5-.6 .4-.4 .4zM248.2 70.2l1.7 1 1.2-1.1-.2-1-2.1-1zM236.7 45.7l-3-.8-1.7 3 1.9 .9 2.5-1zM263.7 64.7l-1.5-.3-.5 1 .9 1.1 1.8-.5zM271.9 50.8l-.5 .9 .2 .4 1.2 .7 1.1-1.2-1.1-1zM289.3 71.2l-.1 1.1 .9 .8 1.1-.5-.5-1.5zM275.9 71.2l.3 .6 1.3 .4 1.3-1.2-.3-1.2-1.6 0zM305.1 49.1l.6-1.4-.2-.4-1-.5-1.1 .3 .2 .4 .3 .5-.2 .3-.3 .3zM285.9 76.9l.3-.1 .6-.5-.5-2.3-1.8 1zM316.2 57.2l-1.6 .4-.3 1.6 .4 .4 1 0-.2-.6 .3-.5 .6-1.2zM278.5 42.9l1.6-.2-.5-1.4-1-.4-.8 .4zM298.9 59.7l-1.6-.6-.6 .3-.1 .4 .7 1.6 2.1-.5zM279.3 44.8l1.2-1.3 0-.6-.4-.2-1.6 .2-.8 1.1zM272.9 91.5l-1-1.1-1.3 1.5 1.6 1.2 .3 0zM299.5 51.1l2.1 .4-.3-1.5-.1 0-.7 .3-.8 .4-.4 .2zM260.9 57.9l-1.2 1 .4 1.3 .9 .4 1-1.7zM302.9 86.1l.3 1.2 1.2 .4-.2-.6 .1-1.3 .1-.8zM303.2 78.1l-1.7 .1 .3 1.6 1.8 .1 .1-.1zM251.2 34.8l-2.2 .5 1.7 1.6 .9-.6-.2-1.3zM276.5 51l-.5 .4-.1 1.6 1.9-.4 .2-1zM299.8 78l-.5-1.1-2.3-.4-.3 1.1 1.8 1.4 .6-.1zM294.1 77.1l.5-1.3-1.2-1.2-1.2 .5-.1 .9 1.8 1.2zM278.4 50.3l-1.1-1.1-.8 .4 0 1.4 1.5 .6 .2-.1zM277.8 67.4l1 1.6 1.2-1.5-.9-1.5zM256.9 50.8l-.4 1.4 .6 .6 1.4-.1 .1-1.9zM280.6 46.5l.1-.4-1.2-.7-1.2 1.1 .7 1.4zM295.6 74.4l1.3-.4 .3-.7-.9-.9-1.7 .9zM270.1 56.6l-1.4 .6 .7 1.6 1.5-.9zM260.9 37.3l-1.5 .3-.3 .9 1 1.2 .8-.3 .4-1.4zM278.4 50.3l-.2 1.2 1.7 .2 .3-.6-.6-1.3zM255.4 66.6l-.7 2.1 .4 .5 .1 0 2.1-1.1-.1-.3z"/>
<path fill="#086fc7" stroke="#086fc7" d="M236.7 45.7l-.3 2.1 1.5 1.2 2.5-1.3-.1-1.4-2.8-1.1zM218.4 78.1l-2.4-2.1-2.8 2.6 .4 0 1.3 .2 1.2 .1-.3 .7 1.1 .6 .7 .5zM238.4 39.8l1.6-.9-1.5-2.9-.4-.1-1.9 .8-.1 2.5zM270.6 91.9l1.3-1.5-1.5-.7-.8 .6 0 1.7zM255.6 82.6l.1 .8 1.4 .8 .8-.6 .2-1.2-2.2-.4zM254.1 40.3l.5-.5-.8-1.7-.6-.3-1.4 1.1 .3 1zM313.4 63.6l-1.2 .5 .7 2 .7 .2 1-1.1-.1-.4 .1-.1zM297.3 61.4l-.1 .5 .7 1.3 1.4 0 .5-.6-.3-1.6-.1-.1zM246 79l2.7-.8 .3-.3-.4-2.6-.7-.9-.2 0-2.8 1.7 1 2.7zM297.2 73.3l-.3 .7 .5 1.4 1.6-.5-.3-1.6-.5-.2zM207 44.8l.9-.8-.8-4-4.1 .3 0 3.4zM295.6 70.3l-.3 .5 1 1.1 1.2-.8-.1-1.5zM231.9 38.2l-2.6 .5-1.6 2.3 1.3 1.7 4.3 .1 .9-1.1 0-1zM285.4 68.7l.3 1.3 1.2 .2 .8-1.1-.7-1.2-1 .2zM230.6 69.9l-1.6 2.3 1.2 2.1 1.7 .6 2.2-1.2-.5-3.2zM260.8 103.8l-.8-.4-1.3 1.2 1 .3 .8 .3zM280.9 84.4l1.4 0 .5-1.1-1.2-1.4-1.1 1.7zM245.8 55.5l.2-.4-.1-1.9-1.9-1.6-1.7 .7 .4 2.9 1.1 .6zM257.1 46.5l1.3 1.1 1.3-1.8 0-.9-.2-.1-.7 0-1.8 1.2zM282.9 85.3l-.1 .5 1 1.3 1.6-.5 0-.2-1.1-1.6zM258.6 57.3l-.5-.6-1.3 .2-.1 1.8 1.6 0 .1 0zM237.5 42.9l0 2.3 2.8 1.1 .9-1.3-.8-2.2-2.2-.4zM318.2 51.4l-1 .2-.3 1.4 .9-.3 1-.6 .2-.1zM321 43.4l-.9 .2-.3 1 .3 .7 1.4 .3 .7-1.2zM231.2 53.5l-.7-5.2-1.6-.6-1.3 .4-1.4 4.3 1.5 2.4zM280 89.2l0 .7 1.4 1.4 1.3-1-1-1.5zM245.4 46.2l2.3-3.7-2.1-1.8-.1 0-1.5 1.1-.4 2.8zM299.9 58l.2 .4 .3 .1 2-.5-.5-1.6-.3-.2-.8 .2zM233.3 42.8l.4 2.1 3 .8 .8-.5 0-2.3-3.3-1.2zM301.8 51.6l-.2-.1-2.1-.4-.1 1.6 1.3 .6 .9-.7zM287.1 51.4l-.7-1.5-1.4 .1-.1 .2 .7 1.8 1.3-.2zM228.7 29l-.7-.1-3.5 2.1 1 3.5 2.3 .2 2.4-2zM252.1 32.7l.6 .5 1.5-.2 .6-.7 .1-.2-.5 0-1-.1-1.1 0-.2-.1zM252 63.6l-.2 1.1 1.7 1.2 .8-2.2zM321.4 35.9l.1 0 .8-1.4-.1-.5-1.8-.2 .1 1.2-.2 .3zM274.7 45.9l-.1 .1 .1 1.7 .2 .2 1.6-.6 .3-.8-1.2-.9zM267.3 72.7l.4 .8 2.1-.4 .2-.9-.8-.7-.8 0zM308.4 58.3l.9-2.4-1.6-.1-.7 .7 .4 1.3zM309.1 102.7l-.7 .1-1.1 1.3 .1 .1 .1 .3 .8 .9 .3-.2 .9-.7 .6-1zM293.7 72.6l-.8-.2-1 .4-.2 1.8 .5 .5 1.2-.5 .7-1.4zM307.3 64.7l-1.6 2 .5 .6 2-.7-.6-1.8zM303.7 97.4l.3-.7-.3-.7-.1 0-2.1 .1 0 .3 .3 .9 .4 .5zM290.6 78.7l0 1 2.4 .9 .4-1.2-.3-.9-1.9-.4zM281.3 44.3l-.1 1.4 1.2 .2 .7-.6-.4-1.1zM202.4 44.2l.6-.5 0-3.4-.8-.9 0 .2-.9 1.2-.9 1.2 .1 1.3 0 .7zM256.3 99.2l0 .7 .8 .8 1.1 .1 .3-2-.4-.6-.8 .1zM298.9 59.7l.5 1.2 .1 .1 1.8-.7-.9-1.8-.3-.1zM281.7 88.8l1 1.5 .3 0 1-1.5-.5-1.2-1.6 .4zM208.6 31.7l1.6 3.1 2.5 .4 1.6-2.1-1.3-3.2-4.2 .9zM282.1 94.5l1.1 .6 1-.3-.4-.7-1-.3zM287 67.9l.7 1.2 1.2 .4 .7-.6-.1-1.1-1.2-1.1-.8 .4zM289.5 67.8l1.4-1-1.1-1.5-1 .2-.5 1.2zM282.3 77l-1.1 1.2 .2 .7 1.5 .8 .6-.8-.5-2zM240.1 57.3l.6-1.7-1.3-1.3-2 .4-.8 1.2 .9 2.1zM308.1 53.7l-.8 .9 .4 1.2 1.6 .1 .1 0 .4-.7-.4-1.4zM202.9 61.3l.8-3.4-.3-.3-3.6-.7-.2 .7 .9 1.1-.1 .9-.1 .9 .4 .9zM257.8 94.2l.8 .5 1-.6-.4-1.9-1.3 .3zM261.3 93.1l1.3-.8-.3-1.3-.8-.3-1.8 1.2zM231.9 74.9l1 2.7 1.9 .4 2-2 .1-1.3-.5-.5-2.3-.5zM299.9 58l-1.8-.9-.8 2 1.6 .6 1.2-1.3zM286.8 76.3l.8-.1 1-1.7-.9-1-.1 0-1.2 .3-.1 .2zM274.7 93.4l-.2-2.1-.2-.1-1.4 .3-.4 1.6 .1 0 1.3 .3 .7 .2zM301.9 89.3l.1-1-1-.8-1.3 .3-.6 1.4 1.3 .5zM224.6 39.3l-3.3 .8 .3 4.2 1.6 .6 3.7-3.9zM286 62.4l-.5-.6-.4-.1-1.4 1.7 .1 .8 .6 .6 1.6-.8zM324.9 33.8l-.6 1.5 .5 .6 1.6 .2 1-1.2-.2-.3zM255.2 100.5l0 .1 .5 1.4 .1 .4 .5-.1 .8-1.6-.8-.8zM256.7 58.7l-.3 .2 .6 2 1.5-.1-.2-2.1zM310.9 62.5l.6-.9-.8-1.8-1.8 1.1-.1 .2 .5 1.2 .4 .3zM290.7 90.1l.8-.1 .5 .2 .4-1.7-.6-.8-1.8 1.3zM316.9 49.6l.7-.4 .1-.4-1.3-1.3-.7 0-.5 .8 .3 .9zM298 53.8l.1-.5-.7-.9-.2 .2-.6 .5-.7 .1-.4-.2-.3 1.1 1.1 .7zM324.8 35.9l-.2 1.8 1.3 .5 .8-1.3-.3-.8zM255.1 85.2l1.5 .2 .2-.2 .3-1-1.4-.8-1.1 1.2zM282.4 45.9l.4 1.5 1.3-.3 .1-1.5-1.1-.3zM292.2 43.6l-.1-1.8-.4-.3-1.3 .3-.2 2.1 .3 .2zM313.7 56.9l-1 .7-.2 1.3 .3 .2 1.5 .1 .3-1.6zM322.2 44.4l-.7 1.2 .4 .8 .9 .3 .4-.2 .3-.9-.7-.3 .1-.8-.3-.2zM237.4 54.7l2-.4 .8-2.3-2.7-1-1.3 .7zM227.9 82.5l-1.1 .1-1.9 2.3 1.2 .2 1.3 .2 1.3 .2 1.2 .2 1.1 .1zM220.6 35.3l-1.5-1.3-2.9 3.5 1.3 2.6 2.9-.7zM274.9 47.9l.3 1.3 1.3 .4 .8-.4 .2-.5-1-1.4zM305.6 58.8l1.8-1-.4-1.3-1.3-.2-.7 .6zM260.1 39.7l-.3 1.1 .2 .3 1.9 .4 0-.1 .1-1.5-1.1-.5zM251.9 62.6l1.6-.9-.4-1.8-.4-.2-1.5 1.8zM306.2 67.3l-.5-.6-2 .4 0 .6 .8 1 1.1 0 .6-.9zM279.3 44.8l.2 .6 1.2 .7 .5-.4 .1-1.4-.8-.8zM248.8 84.2l-1.2 .8 .7 3 1.1-.2 .9-1.4-.6-1.8zM287.3 71.3l.3 2.2 .1 0 1.5-1.2 .1-1.1-.3-.2zM240.1 57.3l-2.6 .7-.2 .8 2.6 2 2.3-1.3zM317.2 39.8l-1.3-.5-1.2 1.1 0 .4 2.1 .3 .3-.2zM322.9 48.2l-2 .4 .6 1.2 .3 0 .6-.9 .8 .1 .3-.1z"/>
<path fill="#0865c0" stroke="#0865c0" d="M301.1 62.6l.9 1.4 1.2-.6 0-1.1-1.4-.5zM217.5 40.1l-1.3-2.6-2.4-.4-1.6 3.2 .2 .6 4.1 1zM326.4 36.1l.3 .8 1 .4 .9-.8 0-1-1.2-.6zM306.9 51l-1 .9 .4 .8 1.1 .1 1-1.4zM307.3 63.1l-.5-.6-1.5 0-.3 1.6 2.1 .3zM230.2 32.7l3.2-1.4 .3-1.4-.8-.2-1-.1-1.1-.2-1-.2-1-.2-.1 0zM254.9 87.4l-.3-.4-1-.3-1.4 1 1.8 1.6 .8-.8zM224.3 35.5l-3.7-.2-.2 4.1 .9 .7 3.3-.8zM320.4 48.3l.1-.6-.9-1.5-1.4 .3 .3 1.6 1.9 .2zM274.3 90l0 1.2 .2 .1 1.9-.2 .4-.9-.9-1.1zM308.3 98.2l-.2 2 .8 .3 1.1-1.3 0-.6-.2-.5zM323.2 46.5l-.4 .2 .1 1.5 .6 .7 .4 0 .6-.1 .9-.3-.2-1.2-.1-.2zM308 46.4l.8-1-.5-1-.1 .4-1.1 .2-.7 .2 .1 .6zM236.6 55.9l.8-1.2-1.2-3-.9-.1-2.9 2.5 .8 1.4zM309.5 45.4l-.7 0-.8 1 .2 .9 .8 .4 1.7-.7zM240 31.9l1.6 2.2 1.8-.5 .5-2.4-.8 0-1-.2-1.1-.1-.6-.1zM313.8 56.3l-1.1-1-.9-.1-.1 1.6 1 .8 1-.7zM301.6 70l-1.7-1-.9 .2 .3 1.9 .7 .4 1.6-.8zM306.5 45.8l-.1-.6-.4 .1-1 .1-.4 .1-.1 1.3 1 .5zM204 49.1l2.6-.4 .4-3.9-4-1.1-.6 .5-.3 3.3zM308.4 102.8l.7-.1 .2-1.5-.4-.7-.8-.3-1.2 .4-.1 .9zM275.9 71.2l-1-.2-.9 .5-.2 .8 .1 .3 1.6 .5 .7-1.3zM295.2 69l.9-1.2 0-.4-.3-.4-.2-.1-2.2 .7-.1 .4 .6 1zM236.1 39.2l.1-2.5-2-1.1-1.2 .3-1.1 2.3 2.3 2.5zM306.5 106.3l.2-.1 1-.3 .6-.5-.8-.9 0 .4-.9 .5-.5 .2zM315.5 55.3l-.9-1.4-.6 0-1.3 1.4 1.1 1zM289.3 82.4l.4 .1 .7-.4 0-2.1-2.1 .3-.4 .4zM305.5 54.2l.2-.1 .6-1.4-.4-.8-.6-.3-1.2 .7 0 .7 1.3 1.2zM306.1 95l.4-.3 .2-1.9-1.4 0-.7 .9 .3 .9zM208.2 38.5l-.1-.7-4.2-2.7-.2 .4-.4 1.1-.6 1.5-.5 1.3 .8 .9 4.1-.3zM318 39.1l-.3-1-.9 .3-1 .2-.1 0 .2 .7 1.3 .5zM290.1 73.1l-.2 1.3 1.8 .2 .2-1.8-.7-.2zM240.4 42.8l1.1-1.5-.9-2.3-.6-.1-1.6 .9-.2 2.6zM325.9 38.2l-1.3-.5-.2 .1-.6 1.5 .8 .8 .4-.3 .6-.6 .6-.4zM322.9 30.3l.3 1.1 1.1 .4 1-.8-.2-.4-.4-1.2-.1 0zM300.7 67.3l-.3-.5-1.7 0-.3 .5 .3 1.8 .3 .1 .9-.2zM319.5 50l.8 1.1 .3-.2 .7-.6-.4-.6 .6 .1-.6-1.2-.5-.3zM311.7 56.8l-1.1 .6-.1 1.2 .4 .5 1.6-.2 .2-1.3zM305.5 90.4l-.7 1.4 .5 1 1.4 0 .2-.1-.4-.6-.7-1.1-.3-.6zM297.2 65.1l-.2-.8-1.4-.4-.4 .2-.4 1.6 .8 1.2 .2 .1zM310.1 43.4l.7-.4-.3-1.7-.3-.2-.4 .7-.9 1-.2 .3zM273.5 89.4l.8 .6 1.6-.9 0-.3-.7-.6-1.5 0zM322.2 34l.3-.7-.2-.8-1.4-.7-.2 1-.3 .7 0 .3zM306.2 100l-.3-.8-1.8-.3-.6 .7 1.3 1 .1 .2zM317.2 51.6l1-.2 .3-1.4-.9-.8-.7 .4-.3 1.4zM278.6 88.5l-1.1 1.5 1.4 .9 1.1-1 0-.7-.4-.5zM234.2 35.6l1.2-2.8-2-1.5-3.2 1.4 2.8 3.2zM308.8 61.1l-1.7 .2-.3 1.2 .5 .6 2-.8zM316 43.2l-1.4-1.4-1.3 1.7 1 .9 .4 .1zM213.8 37.1l-1.1-1.9-2.5-.4-2.1 3 .1 .7 4 1.8zM304.1 98.9l-.4-1.5-1.5 .4 .5 .6 .8 1.2zM322.7 30.2l.2 .1 1.7-.9-1.1-.5-.6 .4-.4 .3zM293 80.7l0-.1-2.4-.9-.2 .3 0 2.1 1.6 .3zM304.1 53l-1.2 .7 0 .7 .9 .7 1.6-.9zM297.5 71.1l-1.2 .8 0 .5 .9 .9 1-.2 .1-1.6zM302.4 58l-2 .5 .9 1.8 .4 .1 .5-.3zM276.8 40.1l.8-1.5 0-.1-1.4-.7-1.2 .6 1 1.7zM283 76.9l.5 2 1.4-.2 .3-1.3-2.1-.6zM303.8 89.8l1.7 .6-.3-.6-.7-1.5-.1-.4zM322.7 30.2l-.2-.6-.1 .1-.9-.5-.3 1.2-.1 .3zM318.5 50l-.3 1.4 .8 .6 .9-.5 .4-.4-.8-1.1zM321.9 38.3l.1 0 .8-1.1-.1-.5-1.2-.8-.1 0-.8 1.4zM318.5 48.1l-.3-1.6-.5-.3-1.3 1.3 1.3 1.3z"/>
<path fill="#085ab8" stroke="#085ab8" d="M227.8 34.7l-2.3-.2-1.2 1 .3 3.8 2.3 1.7 .8 0 1.6-2.3zM305.7 56.3l-.2-2.1-.1 0-1.6 .9 0 .9 .7 .8 .5 .1zM294.7 71l-1 1.6 .4 .6 .5 .1 1.7-.9 0-.5-1-1.1zM317.7 46.2l-.3-.9-1.9 .3-.3 1 .5 .9 .7 0zM271.9 90.4l1 1.1 1.4-.3 0-1.2-.8-.6-1.3 .5zM233 35.9l-2.8-3.2-2.4 2 1.5 4 2.6-.5zM320 37.4l.6-.1 .8-1.4-1.1-.6-.4 1 0 .5-.7 0zM301.3 60.3l-1.8 .7 .3 1.6 1.3 0 .7-.8-.1-1.4zM208.3 30l.5 .8 4.2-.9 .8-1.2-1.5-3.5-.6-.1-1-.3-.9-.3-.4-.1-.2 0-.1 .3 .2 .2-.2 .1zM302.3 69l-.1 .5 1.7 .3 .6-1.1-.8-1zM237.6 32.7l-.7-.3-1.5 .4-1.2 2.8 2 1.1 1.9-.8zM320.9 48.6l2-.4-.1-1.5-.9-.3-1.4 1.3-.1 .6zM310.5 58.6l-2-.1-.3 .9 .7 1.5 1.8-1.1 .2-.7zM321.9 38.3l-1.3 1.2 .3 .6 1.4 .3 .7-1-1-1.1zM208.6 31.7l.2-.9-.5-.8-3.1-.8 0 .5-.1 .9-.4 1.4-.2 1.4-.4 .9zM313 53l-1.2 .6 0 1.6 .9 .1 1.3-1.4zM302 64l-.4 1 1.4 1 1.5-1.6-1.3-1zM292.7 70.3l-.3 .5 .5 1.6 .8 .2 1-1.6-1.1-1zM323.8 39.3l-.8 .1-.7 1 .4 1.4 .1 .1 .1-.2 .6-.7 .8-.6 .3-.3zM209.1 25l-.5 .2-.2 1.2-.8-.2-.8-.3-.7-.5-.7-.6-.1 1.3-.1 1.3 0 1.1 0 .7 3.1 .8zM307.1 64.4l-2.1-.3-.4 .3 1.1 2.3 1.6-2zM316.8 41.1l-2.1-.3-.2 .4 .1 .6 1.4 1.4 .4-.1zM283 90.3l-.3 0-1.3 1-.3 .7 1.7 .9 .9-.8-.5-.7 .7-.3zM309.2 51.9l-.8-.5-1 1.4 .7 .9 1.3 .1zM262.1 79.5l1.4 .9 1-1.4-1.7-1.1zM313.2 46l-1.3-.4-1.1 1.5 .7 1 1.6-.2 .5-1.2zM279 93.6l-1.7 .5 0 .2 .6 .2 1.1 .6 .5-.1zM303.6 91.7l1.2 .1 .7-1.4-1.7-.6-.9 .3zM291.7 68.7l1 1.6 .9-.3 .3-1-.6-1-1.6 .6zM315.5 45.6l-.8-1.1-.4-.1-1.1 1.6 .4 .7 1.6-.1zM305.2 49.5l-.3 .7 .4 1.4 .6 .3 1-.9-.3-1.2zM300.9 65.2l-1.1-.7-1.5 1.1 .4 1.2 1.7 0zM291.2 72.6l.7 .2 1-.4-.5-1.6-1.5 .1-.2 .2zM302.7 90.1l-.8-.8-1.5 .4 .2 1.6 .8 .5 .2 0zM323 39.4l.8-.1 .6-1.5-1.6-.6-.8 1.1zM243.6 44.6l.4-2.8-2.5-.5-1.1 1.5 .8 2.2zM234.2 41.7l3.3 1.2 .7-.5 .2-2.6-2.3-.6-1.9 1.5zM309.4 53.8l1.7-.8 0-1.5-.2-.1-1.7 .5 .2 1.9zM204.5 63.6l-1.6-2.3-2.2 .1 .1 .1 .6 .5-.4 .7 .3 1.5 .3 1.2z"/>
<path fill="#0a4baa" stroke="#0a4baa" d="M203.4 57.6l1-3.3-2.1-2-3.2 .3-.1 .6-.2 1.2 .5 1.2 .5 1.1 0 .2zM300.9 65.2l-.5 1.6 .3 .5 .8 .2 1.6-1.1-.1-.4-1.4-1zM307 56.5l.7-.7-.4-1.2-1.6-.5-.2 .1 .2 2.1zM223.2 44.9l1.2 2.2 3.2 1 1.3-.4 .1-5-1.3-1.7-.8 0zM221.9 50.3l2.5-3.2-1.2-2.2-1.6-.6-1.3 .4-2 3.8 .8 1.2zM308.5 58.5l2 .1 .1-1.2-1.2-1.5-.1 0-.9 2.4zM216.8 42.8l3.5 1.9 1.3-.4-.3-4.2-.9-.7-2.9 .7-1 1.8zM313.4 48.3l-.3-.4-1.6 .2-.2 .5 1 1.6 1.2-.5zM306.7 92.8l-.2 1.9 2 .7-.2-.4-.5-1.2-.7-.8-.2-.3zM296.1 67.4l2.3-.1 .3-.5-.4-1.2-1.1-.5-1.4 1.9zM298.7 69.1l-.3-1.8-2.3 .1 0 .4 1.4 1.7zM321.5 42.2l-1.1-1-1.2 .3-.3 .3 0 .5 1.2 1.3 .9-.2zM240 31.9l-2.4 .8 .5 3.2 .4 .1 2.9-1.4 .2-.5zM276.8 90.2l-.4 .9 .3 1.1 2.4-.1-.2-1.2-1.4-.9zM314.5 50.4l-1-.7-1.2 .5-.3 1 1.1 .7 1.6-.6 0-.1zM319.6 46.2l.5-.9-.3-.7-2.2 0-.2 .7 .3 .9 .5 .3zM309.1 102.7l1 .8 .1-.2 .1-1.7 0-.5-1 .1zM299.8 62.6l-.5 .6 .5 1.3 1.1 .7 .7-.2 .4-1-.9-1.4zM280.5 92.6l-1 0-.5 1 .5 1.4 .5 0 .9-.2 .5-.3zM307.9 96.4l.6-1-2-.7-.4 .3-.2 1.7zM304.5 64.4l-1.5 1.6 .1 .4 .6 .7 2-.4-1.1-2.3zM315.5 49.2l-.3-.9-1.8 0 .1 1.4 1 .7zM306.3 98.4l1.7-.4-.1-1.6-2 .3-.2 .2zM304 96.7l1.7 .2 .2-.2 .2-1.7-1.2-.4-1.2 1.4zM306.1 105.6l-.3 .2-1.1 .7 1 .1 .8-.3zM305.3 92.8l-.5-1-1.2-.1-.6 1 .1 .7 1.5 .3zM282.8 92.9l0 .9 1 .3-.2-.2 .5-1.3-.4-.5z"/>
<path fill="#0a3c9b" stroke="#0a3c9b" d="M233.7 44.9l-.4-2.1-4.3-.1-.1 5 1.6 .6 1.5-.4zM312.1 41l.3 .3 2.1-.1 .2-.4 0-.4-1-1.2-.9 .2-.5 .1zM321.5 45.6l-1.4-.3-.5 .9 .9 1.5 1.4-1.3zM279.1 92.1l.4 .5 1 0 .6-.6 .3-.7-1.4-1.4-1.1 1zM311.7 45l.9-1.6-.2-.2-1.6-.2-.7 .4 .3 1.1zM309.8 55.2l2 0 0-1.6-.7-.6-1.7 .8zM315.2 48.3l.5-.8-.5-.9-1.6 .1-.5 1.2 .3 .4zM312.3 39.5l-.4 .1-.6 .4-.6 .3-.5 .8 .3 .2 1.6-.3zM310.9 51.4l-.8-1.8-.8-.1-.6 .3-.3 1.6 .8 .5zM318.9 41.8l.3-.3-.2-2.2-1-.2-.8 .7-.1 1.1zM301.7 60.4l.1 1.4 1.4 .5 .7-.6-.2-1.3-1.5-.3zM318 39.1l1 .2 .6-.2 .4-1.7-.8-.6-.3 .1-.2 1-.9 .2-.1 0zM308.4 102.8l-1.6-1.3-.9 1.1 .6 .5 .8 1zM308.9 100.5l.4 .7 1-.1-.1-1-.2-.9z"/>
<path fill="#08287d" stroke="#08287d" d="M303.2 63.4l1.3 1 .1 0 .4-.3 .3-1.6-.3-.4-1.1-.4-.7 .6zM209.2 24.4l-.2-.1-.2-.1 .3 .5zM301.5 67.5l-.8-.2-.8 1.7 1.7 1 .6-.5 .1-.5zM311.9 45.6l-.2-.6-1.3-.5-.9 .9 1.2 1.6 .1 .1z"/></g>
<use href="#bd" fill="none" stroke="#000" stroke-width=".62" stroke-opacity=".9"/>
<use href="#ol" fill="none" stroke="#000" stroke-width=".5" stroke-opacity=".75"/>
<g><rect x="345.1" y="13.3" width="5.3" height="104.5" fill="url(#cb)" stroke="#333" stroke-width=".3"/><path d="M350.4 117.80h1.2" stroke="#333" stroke-width=".3"/><text x="352.9" y="119.80" font-size="2.9">0</text><path d="M350.4 96.90h1.2" stroke="#333" stroke-width=".3"/><text x="352.9" y="98.90" font-size="2.9">20</text><path d="M350.4 76.00h1.2" stroke="#333" stroke-width=".3"/><text x="352.9" y="78.00" font-size="2.9">40</text><path d="M350.4 55.10h1.2" stroke="#333" stroke-width=".3"/><text x="352.9" y="57.10" font-size="2.9">60</text><path d="M350.4 34.20h1.2" stroke="#333" stroke-width=".3"/><text x="352.9" y="36.20" font-size="2.9">80</text><path d="M350.4 13.30h1.2" stroke="#333" stroke-width=".3"/><text x="352.9" y="15.30" font-size="2.9">100</text></g>
<text x="264.4" y="18.2" font-size="3.8" text-anchor="middle" fill="#222">Residential</text>
</g>
<g transform="translate(0 127)">
<g stroke-width=".2" stroke-linejoin="round"><path fill="#f3f9fe" stroke="#f3f9fe" d="M263.9 43.3l-2 .6-.3 .6 .8 1.4 .7 .1 1.4-1.9 0-.1zM280.6 40.3l1.2 .3 .3-2-.9-.5-1 .5-.2 .6zM283.4 56.8l-.1-.1-1.5-.4-1.1 1.4 .1 .5 .9 .8 .5 0 1.2-1.5zM264.8 51.3l-1.2-.6-1 1.1 1 1.5 1.3-.9zM258.7 95.7l-.1-1-.8-.5-1.3 .5 .3 1.3 1.4 .3zM254.4 34.9l-.3 .4 1.3 1.7 .9-.5 0-1.2-.5-.5zM260.8 103.8l-.8-.4-1.3 1.2 1 .3 .8 .3zM273.2 59.7l1.4 .7 .6-.5 .1-1.4-1-.8-.9 .3zM265.4 35l.5-.6-.3-2-.5 0-1.2 1.3 .1 .8zM312.4 70.7l-1 .3-.2 2.2 .1 .1 2.1-.7 .1-.8-.3-.6zM259.9 35.1l1 .7 1.2-1-.4-1.1-.7-.3-1.3 1zM282.9 79.7l-1.5-.8-1 1.2 .5 1.2 .7 .4 1.4-1zM257.7 39l-.1 1.1 .8 .8 1.4-.1 .3-1.1-1-1.2zM255.4 54.4l1.3 0 .4-1.6-.6-.6-.8 0-.9 1.5zM282.9 85.3l-.1 .5 1 1.3 1.6-.5 0-.2-1.1-1.6zM295.7 84l-.1 1.5 .8 .8 1.3-.7 .1-.2-.9-1.6zM256.3 35.3l0 1.2 1.1 .4 .9-.5-.7-1.3zM266.3 72.3l-.3-.6-1.1-.6-.9 .2-.7 1.2 .7 1 1.1 .3zM283.3 67.2l-1.9 .8 0 1.3 1.8 .4 .6-1-.4-1.5zM254 92l-.7 .8 1.9 1.6 .4-.1 .3-1.3-.9-1.1zM261.6 54.2l-.7-1.1-.8-.2-.7 .3-.4 1.6 1.3 .9zM268.6 41.5l-.4-.9-2 1 .4 1.1 1.3 .2zM290.2 43.9l.2-2.1-.5-.3-1.3 .4-.5 1.2 .4 1zM270.7 40.5l-.9 1.3 .5 1 .7 .3 .8-1.6zM250.7 36.9l-.1 .4 1.1 1.6 .1 0 1.4-1.1-.3-1-1.3-.5zM293.4 41.9l.7-.5-.6-.4-1.1-.6-.2-.5-.5 1.6 .4 .3zM283.4 57.5l-1.2 1.5 .8 .8 1.6-.1 .3-.5zM278.3 63.4l.7-.1 .6-.5-.3-2-2.4 1-.1 .2 .1 .3zM316 67.7l-.3-.4-.2-.3-1.6 0-.3 1.4 1.3 .9zM249.4 60.8l1.8 .7 1.5-1.8-.1-.1-3-.3-.5 1.1zM274.3 57.7l.9-1.7-.2-.1-1.4-.3-1.2 .9 .1 .9 .9 .6zM296.6 59.8l.1-.4-1.3-.9-1.6 1.4-.1 .3 1.4 .8zM265.9 80.2l-.9 1 .1 1 1.6 .1 0-1.6zM303.1 83.4l-.3-1-1-.4-.9 .3-.2 1.6 1.3 .6zM264.5 92.6l.2-1.5-1.4-1-1 .9 .3 1.3 1 .8zM255 39.8l1.3-1.3-1-1.2-1.5 .8 .8 1.7zM265.4 45.6l-.7 1.3 .9 .7 1.4-.1 .3-.6-1-1.3zM252.8 69l-.2 1.4 .2 .2 1.8-.5 .5-.9-.4-.5-.9-.3zM252.9 85.2l-.7-.2-.7 1.4 .6 1.3 .1 0 1.4-1zM254.8 32.3l-.6 .7 .2 1.9 1.4-.1 .4-1.1zM260.7 56.7l1.4-.4 .7-1.3-.1-.5-1.1-.3-1.3 1.5zM251.2 34.8l-.2-1.5-1.5-.4-1.2 1.3 .5 1 .2 .1zM256.7 58.7l-.3 .2 .6 2 1.5-.1-.2-2.1zM248.2 70.2l1.7 1 1.2-1.1-.2-1-2.1-1zM277.9 74l-.3-.3-1.8 0-.5 1 1.3 1zM281.2 36.6l-.6-.6-.5 0-1 1.4 1.1 1.2 1-.5zM271.3 58l-.4-.1-1.5 .9-.1 .2 .6 .9 1.6 0zM269.6 34.1l.6 2 .8 .4 1.1-1.5-.1-1.3-.6-.3-.9 .2-.7 .1zM279.3 60.8l-.4-1.1-1.8 0-.3 .2 .1 1.9zM269.8 86.2l0-1.4-1.4-.9-.9 0-.1 .1 .4 1.7 1.8 .7zM283 59.8l-.3 1.5 2.4 .4-.5-2zM266.8 52.2l-.5-1.6-1.5 .7 .1 1.1 .8 .4zM260.9 37.3l-1.5 .3-.3 .9 1 1.2 .8-.3 .4-1.4z"/>
<path fill="#e6f3fc" stroke="#e6f3fc" d="M288.6 41.9l1.3-.4-.4-1.7 0-.1-2 .5-.2 .7zM277.2 78.1l.6-.2 .7-1.4-1.9-.7-.7 1.4zM285.7 47.6l-.6 .2-.4 1.1 .3 1.1 1.4-.1 .7-.8-1-1.4zM253.5 90.1l-.9 .2-.8 1.4 1.2 1.1 .3 0 .7-.8zM272 61.3l.7 .9 1.6-.5 .4-.6-.1-.7-1.4-.7-1.2 .6zM278.8 69l0 .4 2.5-.1 .1 0 0-1.3-.5-.5-.9 0zM288.1 85.8l.5-.6-1.1-1.4-1.2 .5 0 1.2zM260.6 56.8l-2 .5-.2 1.4 1.3 .2 1.2-1zM296.6 56.3l-.3-1.5-1.1-.7-.4 .1-.8 1.7 1.9 .8zM255.6 82.6l.1 .8 1.4 .8 .8-.6 .2-1.2-2.2-.4zM254.1 40.3l.5-.5-.8-1.7-.6-.3-1.4 1.1 .3 1zM254.9 87.4l-.3-.4-1-.3-1.4 1 1.8 1.6 .8-.8zM255.6 78.3l1-.2 .5-.7-.8-1.7-1.5 1-.1 .7zM257.4 36.9l-.2 1.6 .5 .5 1.4-.5 .3-.9-.9-1.2-.2 0zM278.3 80.5l.9-.7-.1-1-1.3-.9-.6 .2-.3 1.1zM289 52.5l1.4 .8 .7-2.3-.7-.7-.2 0-1.1 .5zM255 79.9l.6-1.6-.9-.9-1 .3-.5 1.3zM249.4 63.3l2.4-.3 .1-.4-.7-1.1-1.8-.7zM281.7 59l-.9-.8-1.8 1.1-.1 .4 .4 1.1 1.6-.2zM274.6 77.1l.4 .3 .9-.2 .7-1.4 0-.1-1.3-1-.6 .2-.5 1.2zM262.7 69.7l.8-1.2-1-1.1-1.5 .5-.2 .7 1.6 1.1zM256.4 45.2l-1.7-.2-.4 1.3 .2 .5 1.3 .6 1.3-.9-.1-.5zM262.6 92.3l-1.3 .8-.3 1.5 .1 .2 .8 .2 1.6-1.2 .1-.7zM257.1 46.5l1.3 1.1 1.3-1.8 0-.9-.2-.1-.7 0-1.8 1.2zM255.9 93l-.3 1.3 .9 .4 1.3-.5 .1-1.7-.7-.3zM284.5 42.1l-.8 1.1 1.2 1.3 1.1-.7 .2-1.1zM275.2 59.9l1.6 0 .3-.2-.4-1.7-1.4 .5zM290.6 86.4l1.2 1.1 .7-.6 .2-1.6-1.4-.4zM272.6 79l-1.1 1.5 .6 1 2-.3 .1-1.4zM251.6 36.3l1.3 .5 .9-1.4-1.2-.9-1.2 .5zM265.8 38.8l.4 .5 1.4 .3 .7-1.8-.5-1-1.8 1.2zM252.1 39.9l-.3-1-.1 0-2.1 .6 0 1.9 .4 .1 1.8-.8zM291.3 84.7l.9-2-.2-.3-1.6-.3-.7 .4 0 1.5zM272.6 75.8l-.2-1.4-.6-.3-.9 .3-.2 1.9 1 .6zM284.6 59.7l.5 2 .4 .1 1.2-1.4-.3-1.6-.4-.2-1.1 .6zM265.6 47.6l-.5 1.5 1.3 1.1 1-.5 .3-.8-.7-1.4zM251.7 42.9l-1.7-1.4-.4-.1-1.5 1.1 1.7 2.3 .6 0zM263.1 59.4l-.7-.6-.4 .1-1 1.7 .3 .7 2 0 0-.1zM259.4 62.6l.2 .9 2.4 .1-.8-2.2zM278.6 53.8l-.1 .2 1.4 1.5 1.2-.3 .4-1.1-.2-.8-.9-.4zM254.3 46.3l.4-1.3-.7-1.1-.4 0-1.7 1.5 .4 1zM274.7 61.1l2.1 .9 .1-.2-.1-1.9-1.6 0-.6 .5zM256.7 58.7l.1-1.8-.3-.3-1.5-.1-.5 1 .6 1.4 1.3 0zM283.7 74.9l-.2-1.6-1.8-.7-.2 .2 0 1.9zM257.2 92.2l.7 .3 1.3-.3 .3-.3-.5-1.5-.8-.4-1.3 1.1zM271.3 66.1l.9 .2 .9-1.5-.2-.7-.4-.4-1 .1-.9 1zM266.6 42.7l-.5 .8 .7 1.2 1.3 0 .4-.4 0-.6-.6-.8zM274 51.6l1.2 1.8 .5-.2 .2-.2 .1-1.6-1.3-.4zM285 54.3l-1.1-.1-.4 .3-.2 2.2 .1 .1 1.1-.2 .7-1.4zM274.9 79.4l.1-2-.4-.3-2.2 1.1 .2 .8 1.6 .8zM252.5 76.1l.4-.6-.6-1.2-1.1-.1-.6 1.3 .4 .5zM265.3 69.4l-.4 1.7 1.1 .6 1.5-1.8-.6-.8zM271.3 83.8l-1.5 1 0 1.4 1.1 .3 .7-.3 .6-1.1zM261.5 43l.4-1.5-1.9-.4-.2 1.6zM283.4 52.2l.5 2 1.1 .1 .5-.5-.2-1.4zM286.2 42.7l-.2 1.1 1.2 1 1.1-.4 .2-.3-.4-1-1.8-.5zM262.2 75.1l-.2 .3 .9 1.9 .9-.5 .3-1.2-.8-.7zM264.4 55.9l.6-1.5-1.4-1-.9 1.1 .1 .5zM285.1 36.1l0-.2-.1 0-1-.5-1-.6-.1 0-.2 1.6 .4 .3zM274.7 74.9l.6-.2 .5-1-.3-.6-1.6-.5-.4 1.3zM259.1 62.3l-1.8 .5-.2 1 .5 .5 1.7 0 .3-.8-.2-.9zM266 41.5l-1.8-.1-.3 .3 0 1.6 .6 .7 1.6-.5 .5-.8-.4-1.1zM272.7 62.2l-.2 1.5 .4 .4 2.1-.5-.7-1.9zM289.3 48.3l.9 2 .2 0 1.5-1.8-1.4-1.1zM249.6 56.3l-.4-2.2-3.2 1-.2 .4 .8 1.3 1.9 .6zM283.2 38.3l-.1-1.6-.4-.3-1.5 .2 0 1.5 .9 .5zM275 53.6l-1.9 .2-.1 .2 .6 1.6 1.4 .3zM264.8 59.1l.5 .6 .7 .1 1.1-.8-.1-.7-.7-.7-1.5 .3zM258.6 55.1l-1.6-.3-.5 1.8 .3 .3 1.3-.2zM268.9 63.4l.1 1.2 .2 .2 1.4 0 .9-1-1.6-1.6zM286.8 41.1l.5-.2 .2-.7-.5-1.2-1.4 .2 0 1.3zM264.8 51.3l1.5-.7 .1-.4-1.3-1.1-.7 .2-.8 1.2 0 .2zM265.5 35.4l-.1-.4-1.4-.5-.8 .7 .1 1.4 .2 .3 1.4-.1zM264.4 66l-1.8 .5-.1 .9 1 1.1 .8-.2 .5-.9-.3-1.4zM286 62.4l-.5-.6-.4-.1-1.4 1.7 .1 .8 .6 .6 1.6-.8zM294.8 54.2l-1.9-1-.9 .8 .2 1.3 1.7 .6 .1 0zM266 38l1.8-1.2 0-.1 0-.2-2.3-1.1-.6 1.4zM287.4 62.4l-1.4 0 0 1.6 .7 .6 1.2-.1 .3-1.2zM256.9 74.2l1.6-1.3-.3-.9-1.3-.7-.2 .2-.5 1.7zM260.6 83.2l.6 .3 1.9-.8-.2-.8-1.7-.7-.2 0-.6 1.5zM285.6 52l-.7-1.8-1.1 .5-.5 1.4 .1 .1 1.9 .2zM257.6 35.1l.7 1.3 .2 0 1.4-1.3-.2-.7-1-.7-.6 0zM305.8 80.8l.5 .7 .3-.4 .7-.7 .4-.5-1.4-.2zM251 76l-.4-.5-2-.2 .4 2.6 1.3-.1zM267.3 46.9l.6-.3 .2-1.9-1.3 0-.5 .9zM261 33.4l-.4-1.1-1 0-.1 0-.8 1.4 1 .7zM252.1 47l.7 1.3 .9 .1 .8-1.6-.2-.5-2 .1zM253.5 53.5l-.2-1.6-1.7-.2-.7 2zM250.8 47.6l-.3 1.1 1.4 .6 .9-1-.7-1.3zM275.3 84.4l-.4 1.8 .3 .3 1.6 0 .4-1.3zM286 58.6l-.2-1.2-1.3-.8-1.1 .2 0 .7 1.5 1.7zM269.3 69.3l-1.8 .6 .9 1.6 .8 0 .7-1.9zM292.2 43.6l-.1-1.8-.4-.3-1.3 .3-.2 2.1 .3 .2zM257.2 38.5l-.9 0-1.3 1.3 1.3 .9 1.3-.6 .1-1.1zM255.7 90.8l-1.8-1.2-.4 .5 .5 1.9 1-.1zM272.1 81.5l-.6-1-.6-.1-1.3 1.2 .2 .9 1.5 .8 .6-.6zM293.4 41.9l.7 1.9 1.1-.5-.1-.5-.4-1.1-.6-.3zM289.5 39.8l1.5-.3-.2-.2-.1-.6-.5-.1-.4 .2-.6-.5 0-.1 .3 1.5zM288.7 85.2l1.8 1.3 .1-.1 .7-1.5 0-.2-1.6-.7zM257.7 104.1l1 .5 1.3-1.2-.3-.6-1.3-.4-.7 .6zM261 49.5l1-.4 .3-.6-.7-1.7-.5 .1-1.2 1.5zM251.3 78.4l1.6 .8 .3-.2 .5-1.3-1.1-.7-1.3 1.4zM278.7 35l-.1 0-.7-.1-.4 .8 .8 1.8 .8-.1 1-1.4zM256.9 71.3l0-.6-1.7-1.5-.1 0-.5 .9 .4 1.4 1.7 0zM261 33.4l.7 .3 1-.9 0-.4-.1-.1-1 0-1 0zM262.8 77.9l1.7 1.1 .6-.1-.1-1.6-1.2-.5-.9 .5-.2 .4zM268.3 37.8l-.7 1.8 .7 .8 1.2-.6 0-1.4zM292.4 57.9l-1.1 2 2.3 .3 .1 0 .1-.3-1-1.9zM252.7 33.2l-.1 1.3 1.2 .9 .3-.1 .3-.4-.2-1.9zM250 41.5l1.7 1.4 .5-.1 .4-1.1-.8-1zM283 76.9l.5 2 1.4-.2 .3-1.3-2.1-.6zM256.2 90.7l.7 .4 1.3-1.1-.4-.9-.8-.3-.6 .4zM259.4 74.8l.3 .1 1.2-1.2-.5-1-1.7 .3zM295.9 56.7l-1.9-.8-.1 0-.4 1.5 1.9 1zM270.1 56.6l-1.4 .6 .7 1.6 1.5-.9zM269.2 52.8l1-1.3-.7-1-1.1 .1-.3 1.9zM267.4 34.1l0-1.2-1.3-.5-.4 0-.1 0 .3 2zM270.7 40.5l0-.2-1.2-.5-1.2 .6-.1 .2 .4 .9 1.2 .3z"/>
<path fill="#d7edfa" stroke="#d7edfa" d="M280 67.5l.9 0 .4-1.5-.9-.6-.8 .1-.4 .3-.1 .2zM280.6 85l.6 1.6 1.6-.8 .1-.5-.6-.9-1.4 0zM271.1 55.4l1.3 1.1 1.2-.9-.6-1.6-1.6 .6zM253.8 68.4l.9 .3 .7-2.1-.1-.3-1.7-.3-.5 .8zM254.5 95.3l-2.1 .3 .2 .5 .5 1.3 .7 .9 .8-.3 .6-1zM258.4 77.1l.3 .2 1.8-1.1 0-.1-.8-1.2-.3-.1-1.2 .6zM257.3 79.2l2.1-.1-.7-1.8-.3-.2-1.3 .3-.5 .7zM208.8 54.2l.4 4 5.3-1.3-.7-4-.1 0zM297.3 88.2l1-1.5-.6-1.1-1.3 .7-.1 .9 .8 1zM268.4 57.1l.3 .1 1.4-.6 .3-.9-1.4-.8-.3 .1-.7 1.4zM256.5 75l-.2 .7 .8 1.7 1.3-.3-.2-1.7-1.4-.6zM305.8 80.8l.5-1.1-.8-1-1.8 1.1-.1 .1 .4 1.3 .2 .1zM272.4 56.5l-1.3-1.1-.7 .3-.3 .9 .8 1.3 .4 .1 1.2-.6zM272.6 79l-.2-.8-.6-.5-2.3 1.1 1.4 1.6 .6 .1zM313.4 63.6l-1.2 .5 .7 2 .7 .2 1-1.1-.1-.4 .1-.1zM262 39.9l-.1 1.5 2 .3 .3-.3-.2-2-.6-.4zM267.3 74.9l-1.6 .2 .1 1.6 1.2 .6 .9-.5zM292.2 39.9l-.2-.2-.8 .1-.2-.3-1.5 .3 .4 1.7 .5 .3 1.3-.3zM263.3 36.6l-.1-1.4-1.1-.4-1.2 1 .2 1zM290.5 56l-1.1-1.2-.1 0-1.5 1.5 .8 1.1 1 .2zM294.4 46.3l-1.8 0 .1 2.1 .5 .3 .3 0 1.4-1.5zM259.5 91.9l.2 0 1.8-1.2-.7-1.2-.7-.2-1.1 1.1zM282.3 52.2l1-.1 .5-1.4-1.5-1-.4 .1-.3 .9zM271.6 86.2l1.5 1.3 .9-1.2-1-1.3-.8 .1zM289 88l1.5-1.5-1.8-1.3-.1 0-.5 .6-.1 1.8zM273.8 37.4l.1 .3 .8 .7 .3 0 1.2-.6 .1-1.5-1-.5zM265.7 75.1l1.6-.2 .3-.4 .1-1-.4-.8-1-.4-1.2 1.5zM252.7 59.7l.4 .2 1.6-.5 .4-.5-.6-1.4-2.1 0 .2 2.1zM279.2 65.8l-1.9-.8-.5 .1-.2 .9 1 1.3 .2 .1 1.3-1.4zM253.6 53.6l-.1-.1-2.6 .2-.2 .1 .7 1.2 1.7 .3zM263.5 48.1l.5-1.2-.9-.9-.7-.1-.8 .9 .7 1.7zM255.8 47.4l-1.3-.6-.8 1.6 .5 .6 1.1 0 .5-.5zM285.1 61.7l-2.4-.4-.6 .4-.1 .7 1.7 1 1.4-1.7zM258.1 82.4l-.2 1.2 1.4 1 1.3-1.4-.2-.5-2.1-.6zM268.5 43.7l1.8-.9-.5-1-1.2-.3-.7 1.4zM285.8 45.9l-.1 1.7 .4 .1 1.6-.8-.7-1.4zM278.8 69.4l-.3 .4 .3 1.2 .3 .2 1.9 .1 .3-2zM289 46.1l1.6 .1 .3-.3-.4-1.8-.3-.2-1.7 .2-.2 .3zM262 63.6l.2 .8 1.5 .3 .9-1.3-1.4-.6-1.2 .8zM287.1 53.9l0 2 .1 .2 .6 .2 1.5-1.5-1.7-1.4zM260.4 82.7l.6-1.5-1.6-1-1 1.1-.1 .8zM314.7 59.6l-.7 2.3 .2 .2 1.1 .2 .3-.8 .2-1.5-.1-.4zM278.6 53.8l-.8-1.2-1.9 .4-.2 .2 1.5 1.7 .3 .1 1-1zM261.6 46.8l.8-.9-.8-1.4-1.9 .4 0 .9 1.4 1.1zM288.5 50.7l-1.4 .7-.2 .4 .8 1.3 1.3-.6 .1-1.7zM306.3 74.5l-.2 1.2 1.8 .5 .4-1.1-.6-1.2zM282.9 34.8l-.9-.4-.5-.3-.9 1.9 .6 .6 1.5-.2zM264 39.4l.2 2 1.8 .1 .2-2.2-.4-.5zM229.9 59.1l-2.7-3.1-3.2 1.9 3.5 5.1 .4 .1 .9-.5zM250.8 47.6l-1.5-1.6-1.4 1 .6 2 1 .2 1-.5zM285.5 82.6l1.1-.6 .3-1-1.1-1-1.8 1.1 .3 .9zM270.2 45.4l-1.7-1.1-.4 .4-.2 1.9 1.7 .2zM255.2 69.2l1.7 1.5 1.1-1.3 0-.7-.7-.6zM307.7 77.5l-2.1 .6-.1 .6 .8 1 1.4 .2 .2-.3zM263 85l.9-1.7-.8-.6-1.9 .8 .5 1.5 .5 .3zM279 59.3l1.8-1.1-.1-.5-1.4-.8-.8 1.1zM299.7 81.9l-.1-.2-1.5-.2-.8 .8-.1 1.1 1.7 .2zM289.9 58l2-.4-.3-1.7-1.1 .1-.9 1.6zM257.6 64.3l-.5-.5-1.4 .4 0 1.7 1.7-.2zM269.5 53.3l1.4 .2 .7-1.4-.2-.4-1.2-.2-1 1.3zM314.9 69.3l-.1 .4 .9 1.7 .6-.6 .7-.6-.2-.6zM278.7 76.4l.3-2.1-1.1-.3-1.3 1.7 0 .1 1.9 .7zM248.3 34.2l-1.6-.5-1.6 .9 .1 1.4 2.4 1.7 1.2-2.5zM272 60.3l1.2-.6 .2-1.7-.9-.6-1.2 .6 .2 1.9zM259 90.4l1.1-1.1-.6-1.4-.5-.1-1.2 1.3 .4 .9zM264.5 66l.3 1.4 2.3 0 .2-.1-.2-.9-1.6-1zM252 63.6l-.2 1.1 1.7 1.2 .8-2.2zM269.8 73.1l-2.1 .4-.1 1 1.5 .5 1.2-.9zM263.3 38.6l-2-.6-.4 1.4 1.1 .5 1.4-.9zM256.9 87.3l1.4-.2 .1-1.2-1.6-.7-.2 .2-.1 1.6zM267.3 72.7l.4 .8 2.1-.4 .2-.9-.8-.7-.8 0zM269.5 76.5l-.4-1.5-1.5-.5-.3 .4 .6 1.9 1 .3zM289.7 82.5l-.4-.1-1.7 .8-.1 .6 1.1 1.4 .1 0 1-1.2zM269.9 62.2l1.6 1.6 1-.1 .2-1.5-.7-.9-2.1 .8zM250.9 56.4l.5-1.4-.7-1.2-1.2 0-.3 .3 .4 2.2zM290.5 56l1.1-.1 .6-.6-.2-1.3-1.6-.6-1 1.4zM296.3 87.2l-1.8 .2-.2 1.3 .3 .6 .3 .1 1.1 0 1.1-1.2zM300.4 75.2l-.7 .2-.4 1.5 .5 1.1 1.3-.2 .7-1.7zM295.6 85.5l.1-1.5-.1 0-2.2 .8 0 .1 1.1 1.3zM283.3 70.7l-1.6 1.2 0 .7 1.8 .7 .7-.7zM262.7 54.5l.9-1.1 0-.1-1-1.5-1.7 1.3 .7 1.1zM258.4 48.5l.3 2.2 1.7 .1 .4-.4 .2-.9-1.1-1.1-1.3-.2zM262.2 85.3l-.5-.3-1.4 .9 .1 1.1 1.8 .6 .2-.3zM274 71.5l-1.2-1.2-1.3 1.2-.1 .2 .5 .5 1.9 .1zM276.9 62.3l-.1-.3-2.1-.9-.4 .6 .7 1.9 .6 .2zM260.5 76.2l.7 1.3 1.5 .2 .2-.4-.9-1.9-1.5 .7zM253.8 98.3l.3 .3 1.1 1.2 0 .7 1.1-.6 0-.7-1.7-1.2zM299 89.3l.1-.1 .6-1.4-.4-1.1-1 0-1 1.5zM313.4 72.6l-2.1 .7 .3 1.1 .5 .4 .2-.3 .6-1.3 .7-.1zM267 58.3l.1 .7 .7 .4 1.5-.4 .1-.2-.7-1.6-.3-.1zM251.6 84.4l.6 .6 .7 .2 1.1-.7-.5-1.9-.2-.1-1.3 .2zM259.4 37.6l1.5-.3 .2-.5-.2-1-1-.7-1.4 1.3zM276.2 81.5l2-.4 .1-.6-1.4-1.3-.9 .5zM258.7 33.7l.8-1.4-1 0-1-.1-.1 0 .2 1.1 .5 .4zM250.3 77.8l-1.3 .1-.3 .3 .9 2.2 1.3-.4 .4-1.6zM257.9 66.3l-.5-.6-1.7 .2-.4 .4 .1 .3 1.8 1.2zM272.2 46.7l-.9 1 .1 1.1 1.5 0 .6-1zM267.4 32.9l.3-.2-.1-.4-.2-.9-.6-.2 0 1.2-.7 0zM246.3 71.1l-1.2-2.3-2.7-.6-.4 .6 1.1 3.4 .5 .2zM251.2 74.2l-1-1.4-2.3 1.6 .7 .9 2 .2zM269.6 46.8l-1.7-.2-.6 .3-.3 .6 .7 1.4 1.6-.5 .4-1.2zM297.6 80.2l-1.7-.1-.5 1.1 1.9 1.1 .8-.8zM261.1 94.8l-.8 1.2 .1 1.1 1.9 .2 .5-.8-.9-1.5zM287.7 53.1l-.1 .3 1.7 1.4 .1 0 1-1.4 0-.1-1.4-.8zM305.8 80.8l-1.6 .5 1 1.4 .7-.8 .4-.4zM258.4 102.4l1.3 .4 .6-1.2-.6-.8-1.4 0zM279.1 78.8l.1 1 1.2 .3 1-1.2-.2-.7-1-.4zM257.7 103l-1.4-.7-.5 .1 .4 1 1.3 .6 .2 .1zM289.3 61.7l-1.1-.5-.8 1.2 .8 .9 1.4-.5zM254.4 73l1.8 .2 .5-1.7-1.7 0-.6 .8zM265.1 62l1.5-.4-.6-1.8-.7-.1-1 1.5zM263.5 80.4l-1.4-.9-.1 .1-.8 1.6 1.7 .7 .6-1.3zM260.1 39.7l-.3 1.1 .2 .3 1.9 .4 0-.1 .1-1.5-1.1-.5zM251.9 62.6l1.6-.9-.4-1.8-.4-.2-1.5 1.8zM255.3 49l-1.1 0-.5 1.4 .2 .8 .6 0 1.2-1zM277.8 67.4l1 1.6 1.2-1.5-.9-1.5zM256.9 50.8l-.4 1.4 .6 .6 1.4-.1 .1-1.9zM269 54.9l1.4 .8 .7-.3 .3-.8-.5-1.1-1.4-.2zM313.6 66.3l.3 .7 1.6 0-.4-.7-.5-1 0-.1zM249 90.8l-.9-.7-2.1 1.6 .3 1.6 .4-.7 1.2-.5 1.2 .3zM311.6 74.4l-1.4 .9 .1 .8 .5-.1 .8-.1 .5-1.1zM273.9 51.6l.1 0 .7-.6 0-1.3-1.4 0-.5 .9zM267 58.3l1.4-1.2-.4-.7-1.5-.3-.1 0-.1 1.5zM258.3 58.7l.2 2.1 .1 .1 1.5-.7-.4-1.3-1.3-.2z"/>
<path fill="#c6e5f7" stroke="#c6e5f7" d="M264 71.3l.9-.2 .4-1.7-1-1.1-.8 .2-.8 1.2zM285.1 36.1l.2 1 1.5 .5 .4-.7-1-.5-1.1-.5zM305.2 77.5l-1.4-.3-.6 .9 .5 1.7 1.8-1.1 .1-.6zM286.8 41.1l-1.2-.6-1.3 .7 .2 .9 1.7 .6 .1-.1zM286.3 74l.1-.2-1.1-1.4-1.1 .2-.7 .7 .2 1.6 .8 .1zM260.3 96l.8-1.2-.1-.2-1.4-.5-1 .6 .1 1zM259.6 42.9l.2-.2 .2-1.6-.2-.3-1.4 .1-.4 1.6zM212.8 64.8l3.6 .3 1.2-.9-.3-3.2-2.3-1-2.4 2.2zM250.5 48.7l-1 .5 1 1.8 .7 .1 .8-1.4-.1-.4zM274.7 51l1.3 .4 .5-.4 0-1.4-1.3-.4-.5 .5zM271.4 68.7l.6 0 .6-1.8-.4-.6-.9-.2-1.1 1zM264.2 83.3l-.3 0-.9 1.7 1.3 1.1 1-.6 .3-1zM263.9 33.7l-1.2-.9-1 .9 .4 1.1 1.1 .4 .8-.7zM258.8 44.8l.7 0 .1-1.9-1.6-.4-.8 .6zM264.3 88.9l-.9 .6-.1 .6 1.4 1 1.1-.5 .4-.9zM258.4 81.3l1-1.1 0-1.1-2.1 .1-.3 1.2zM261 81.2l.2 0 .8-1.6-1.7-.8-.9 .3 0 1.1zM266.8 44.7l-.7-1.2-1.6 .5 0 .1 .9 1.5 .9 0zM299.3 86.7l.4 1.1 1.3-.3 .1-1.5-1.1-.4zM252.8 73.4l-.8-1.2-1.7 .3-.1 .3 1 1.4 1.1 .1zM258.5 98.8l1.9 .3-.1-1.9-1.9 .3-.3 .7zM274.6 67l-2-.1-.6 1.8 .8 .6 1.4-.3zM257.4 32.2l-.9 0-1.1-.1-.5 0-.1 .2 1.4 1.4 1.4-.4zM308.2 77l-.5 .5 .2 2.1 .1-.2 .8-.9 .2-1 .2-.3zM255.9 93l1.3-.8-.3-1.1-.7-.4-.5 .1-.7 1.1zM264.8 57.9l1.5-.3 .1-1.5-1.9 0-.3 1zM285.2 77.4l-.3 1.3 .9 1.1 1.3-1.4-.9-1.6-.3 .1zM269.6 81.6l-.9-.3-1.4 1.6 .2 1 .9 0 1.4-1.4zM252.3 57.4l.8-2 0-.1-1.7-.3-.5 1.4 .7 .9zM277.8 84.8l-.6 .4-.4 1.3 .5 .8 .7 .2 1-1.1-.1-1-.6-.5zM258.2 75.4l1.2-.6-.7-1.8-.2-.1-1.6 1.3-.1 .6zM253.6 81.2l-.3 1.3 .2 .1 2.1 0 .3-.6-.2-1.2-.6-.4zM292.2 82.7l.8 .5 1.8-.6 .2-1.1-2-.8-1 1.7zM294.7 45.4l-.3 .9 .5 .9 0 .1 1.3-.7-.1-.5-.2-.9zM298.9 83.6l-1.7-.2-.3 .4 .9 1.6 1.8-.7zM284.5 56.6l1.3 .8 1.4-1.3-.1-.2-1.9-.7zM268.2 40.6l.1-.2-.7-.8-1.4-.3-.2 2.2 .2 .1zM266.8 78.5l.2-1.2-1.2-.6-.8 .6 .1 1.6 .6 .3zM288.2 61.2l-.1-.5-1.4-.3-1.2 1.4 .5 .6 1.4 0zM258.6 48.2l1.3 .2 1.2-1.5-1.4-1.1-1.3 1.8zM258 42.5l.4-1.6-.8-.8-1.3 .6-.3 1.7 1.1 .7 .1 0zM271 36.5l-.8-.4-2.4 .6 0 .1 .5 1 1.2 .6 1.4-.6 .2-1zM259.4 53.2l-.9-.5-1.4 .1-.4 1.6 .3 .4 1.6 .3 .4-.3zM288.3 80.3l2.1-.3 .2-.3 0-1-1.7-.7-.8 .6zM251.5 82.2l.2-1.5-.8-.7-1.3 .4-.6 1.5 .2 .3zM285.1 66.9l.3-.8-1-1.2-1.2 1.8 .1 .5 .1 0zM256.8 96l-.6 .8 1.1 1.5 .8-.1 .3-.7-.2-1.2zM256.4 61.6l.6-.7-.6-2-1.3 0-.4 .5 .7 2.3zM275.3 58.5l1.4-.5 .2-.4-1.5-1.5-.2-.1-.9 1.7zM279.8 76.8l.4 1 1 .4 1.1-1.2-1.2-1.3zM279.8 76.8l-1.1-.4-.2 .1-.7 1.4 1.3 .9 1.1-1zM257.8 94.2l.8 .5 1-.6-.4-1.9-1.3 .3zM252.6 41.7l1.4-.3 .1-1.1-2-.4-.3 .8zM299.9 80.1l-.8-1.2-.6 .1-.9 1.2 .5 1.3 1.5 .2zM265.7 79.2l-.6-.3-.6 .1-1 1.4 0 .2 1.5 .6 .9-1zM264.3 68.3l1 1.1 1.6-.3 .2-1.7-2.3 0zM267.7 65.1l1.3-.5-.1-1.2-1.7-.6-.8 1.1zM298 53.8l.1-.5-.7-.9-.2 .2-.6 .5-.7 .1-.4-.2-.3 1.1 1.1 .7zM269.3 69.3l.6 .3 .5 0 1-.9-1.2-1.6-.9-.1-.5 .4zM314.8 69.7l-1.6 1.5 .3 .6 2-.1 .2-.3zM283.5 54.5l-2-.4-.4 1.1 .7 1.1 1.5 .4zM268.7 55l-1.4-.8-.7 .4-.1 1.5 1.5 .3zM254.6 98l1.7 1.2 1-.9-1.1-1.5-1 .2zM299.5 51.1l2.1 .4-.3-1.5-.1 0-.7 .3-.8 .4-.4 .2zM266.4 56.1l.1 0 .1-1.5-.9-.4-.7 .2-.6 1.5 .1 .2zM254.2 73.2l.2-.2 0-.7-1.6-1.2-.8 1.1 .8 1.2zM254.8 76.7l1.5-1 .2-.7-2-.5-.7 .9zM303.2 78.1l-1.7 .1 .3 1.6 1.8 .1 .1-.1zM263 72.5l-1.9-1.2-.1 .1-.6 1.3 .5 1 .8 .2zM274.9 47.9l.3 1.3 1.3 .4 .8-.4 .2-.5-1-1.4zM264.5 56.1l-.1-.2-1.6-.9-.7 1.3 1.2 1.1 .9-.3zM262.5 98.3l-2 1 1.2 1.1 .1-.6 .9-1.3zM287.1 49.1l.5 0 1-.9-.6-1.2-.3-.1-1.6 .8zM263.5 36.9l-.2-.3-2.2 .2-.2 .5 .4 .7 2 .6zM302 84.5l-1.3-.6-1.1 .8 .4 .9 1.1 .4 1-.4zM248.8 84.2l-1.2 .8 .7 3 1.1-.2 .9-1.4-.6-1.8zM263.3 61.2l0 .1-.1 1.5 1.4 .6 .2-.1 .3-1.3-.8-.8zM276.9 57.6l-.2 .4 .4 1.7 1.8 0 .1-.4-.5-1.3-1.5-.4z"/>
<path fill="#b6def4" stroke="#b6def4" d="M270.3 88.6l.8-.5-.2-1.6-1.1-.3-.2 .2-.7 1.6zM254.5 74.5l2 .5 .3-.2 .1-.6-.7-1-1.8-.2-.2 .2zM292.4 64.5l.2-.5-1-1.9-1.6 .9 .4 1.5zM253 92.8l-1.2-1.1-.3 0-1 1.2 .7 .8 .8 1zM252.6 77l-.1-.9-1.5-.1-.7 1.8 1 .6zM258.7 66.2l-.8 .1-.7 1.5 .1 .3 .7 .6 .9-.4 .4-1.5zM266.7 80.7l0 1.6 .6 .6 1.4-1.6-.6-1zM264.1 75.6l-.3 1.2 1.2 .5 .8-.6-.1-1.6zM290.4 53.4l1.6 .6 .9-.8 .2-1.4-.1-.2-.5-.4-1.4-.2-.7 2.3zM252.2 42.8l1.4 1.1 .4 0 .8-1.2-.8-1.3-1.4 .3zM251.1 65.1l0 1.9 .6 .3 1.4-.5 .5-.8-.1-.1-1.7-1.2zM296.7 77.6l-.9 .5-.2 1.2 .3 .8 1.7 .1 .9-1.2zM256.5 56.6l.5-1.8-.3-.4-1.3 0-.6 1.7 .2 .4zM255.7 64.2l1.4-.4 .2-1-.9-1.2-1 .1-.7 .6 0 1.1zM269.5 50.5l.7-1-.9-1.1-1.6 .5-.3 .8 1 .9zM303.5 73l-.9 1.2 .3 1.6 .1 0 1.4-.7 .1-1zM287.2 38.5l-.2 .5 .5 1.2 2-.5-.3-1.5 0-.1zM278.2 51.5l-.2 .1-.2 1 .8 1.2 1.8-.9-.5-1.2zM290.6 46.2l-1.6-.1-1 .9 .6 1.2 .7 .1 1.2-.9zM263.3 72.5l-.3 0-1.3 1.4 .5 1.2 1.1-.2 .7-1.4zM258.4 97.5l1.9-.3 .1-.1-.1-1.1-1.6-.3-.5 .6zM295.4 58.4l-1.9-1-.7 .6 1 1.9 1.6-1.4zM284.9 44.5l-.1 .7 1 .7 1.2-.4 .2-.7-1.2-1zM268 61.1l-.2-1.7-.7-.4-1.1 .8 .6 1.8 .4 .2zM256.7 50.5l.2 .3 1.7 0 .1-.1-.3-2.2-1.1 .5zM270.8 45.1l-.6 .3-.6 1.4 .1 .4 1.6 .5 .9-1 .1-.8zM252.6 34.5l.1-1.3-.6-.5-1.1 .6 .2 1.5 .2 .2zM262.1 79.5l1.4 .9 1-1.4-1.7-1.1zM256.6 85.4l-1.5-.2-.5 1.8 .3 .4 1.6-.4zM286.9 89.3l1-1.6-2.4-.9 0 2.1 .1 .2zM291.9 48.5l.8-.1-.1-2.1-.3-.3-1.4-.1-.3 .3-.1 1.2zM269.2 71.5l.8 .7 1.4-.5 .1-.2-1.1-1.9-.5 0zM258.7 77.3l.7 1.8 .9-.3 .9-1.3-.7-1.3zM285.6 40.5l0-1.3-.9-.7-.8 .2-.3 1.9 .7 .6zM285.8 79.8l0 .2 1.1 1 1-.3 .4-.4-.2-1.7-1-.2zM271.4 51.7l.5-.9-.9-1.4-.8 .1-.7 1 .7 1zM268.1 52.5l.3-1.9-1-.9-1 .5-.1 .4 .5 1.6 .9 .4zM254.6 87l.5-1.8-.5-.6-.6-.1-1.1 .7 .7 1.5zM265.5 35.4l2.3 1.1 .2-1.9-.6-.5-1.5 .3-.5 .6zM274 86.3l.9-.1 .4-1.8-.2-.4-.9-.3-1.2 1.3zM246.7 33.7l1.6 .5 1.2-1.3 0-1.1-.2-.1-1.1 0-1-.1-.6-.1zM284.7 38.5l.6-1.4-.2-1-2 .6 .1 1.6 .7 .4zM267.2 62.8l1.7 .6 1-1.2 0-.1-.5-.8-1.4-.2-1 .7zM254.5 95.3l.7-.9-1.9-1.6-.3 0-1 1.9 .1 .1 .3 .8zM277.6 67.3l-1-1.3-1.4 1.1 1.1 1zM284.4 64.9l0-.1-.6-.6-1.4 .4-.3 1.2 1.1 .9zM259.3 64.3l0 .1 1.7 1.3 .7-.3 .5-1-.2-.8-2.4-.1zM276.6 66l.2-.9-1-.7-1.3 1.3 .1 1.3 .6 .1zM294.9 47.3l1.1 1.2 .3-1.2-.1-.7zM264.5 44.1l-1.4 1.9 .9 .9 .7 0 .7-1.3zM271 43.1l-.7-.3-1.8 .9 0 .6 1.7 1.1 .6-.3 .3-1.8zM263.7 64.7l-1.5-.3-.5 1 .9 1.1 1.8-.5zM260.4 72.7l.6-1.3-1.1-.8-.4 0-1.3 1.4 .3 .9 .2 .1zM271.9 50.8l-.5 .9 .2 .4 1.2 .7 1.1-1.2-1.1-1zM285.2 70.6l.4 1.3 1.6-.6-.3-1.1-1.2-.2zM272.8 52.8l.3 1 1.9-.2 .2-.2-1.2-1.8-.1 0zM283.8 68.7l1.6 0 .6-.6-.9-1.2-1.7 .3zM257.9 83.6l-.8 .6-.3 1 1.6 .7 .9-.7 0-.6zM260.8 89.5l.7 1.2 .8 .3 1-.9 .1-.6-1.2-1.3zM265.7 87.6l-1.1 .2-.3 1.1 1.9 .8 .2-.1 .1-1zM274.2 83.7l.9 .3 1.1-1.1-.1-1.2-1.8-.3-.3 1.9zM259.2 92.2l.4 1.9 1.4 .5 .3-1.5-1.6-1.2-.2 0zM263.6 50.5l.8-1.2-.9-1.2-1.2 .4-.3 .6zM257.6 33.3l-1.4 .4-.4 1.1 .5 .5 1.3-.2 .5-1.4zM281.6 81.9l0-.2-.7-.4-2 .8 .6 1.2 1 .3zM275.2 67.1l-.6-.1-.4 2 .4 .3 1.6-.3 .1-.9zM279.3 56.9l1.4 .8 1.1-1.4-.7-1.1-1.2 .3-.7 1zM282.9 85.3l1.4-.5 .2-.5-1.1-1.1-.6 .1-.5 1.1zM310.3 69.5l1.5-1.2-.4-.9-1.3 .1-.6 .9zM258.5 60.8l-1.5 .1-.6 .7 .9 1.2 1.8-.5-.5-1.4zM249.4 64.8l-.5 2.8 2.2-.6 0-1.9zM259.3 64.4l0-.1-1.7 0-.2 1.4 .5 .6 .8-.1zM295.1 61l-1.4-.8-.1 0-.4 1.3 .7 .9 1.3-.5zM269.1 75l.4 1.5 1.2-.2 .2-1.9-.6-.3z"/>
<path fill="#a7d8f2" stroke="#a7d8f2" d="M232.6 58.4l-2.7 .7-1.1 3.5 3.9 .8 1.5-3.3zM265.2 95.1l-.8-.1-1 1.4 1.5 .9 .1-.1 1.1-.8 .2-.1zM276.9 79.2l.3-1.1-1.3-.9-.9 .2-.1 2 1.1 .3zM246.6 66.8l-1.5 2 1.2 2.3 1.9-.9 .6-2.1-.1-.4zM224 57.9l-.1 0-2.4 1.7 .6 5.1 5.4-1.7zM260.3 85.9l-1-.7-.9 .7-.1 1.2 .7 .7 .5 .1 .9-.9zM240.4 78.7l1.3-2.4-1.9-2.3-2.9 .7-.1 1.3 2.9 2.8zM248.8 35.2l-1.2 2.5 .1 .3 1 .3 1.9-1 .1-.4-1.7-1.6zM267.8 85.7l-.4-1.7-1.8 .5-.3 1 .8 1.1 1.1 0zM295 81.5l.4-.3 .5-1.1-.3-.8-2.2 .1-.4 1.2 0 .1zM257.1 100.7l-.8 1.6 1.4 .7 .7-.6-.1-1.6-.1 0zM246.1 63.9l-.3 .8 .8 2.1 2.1 .9 .2-.1 .5-2.8-.6-.7zM246.7 60.9l-.8 2.4 .2 .6 2.7 .2 .6-.8 0-2.5-.3-.4zM237.5 42.9l0 2.3 2.8 1.1 .9-1.3-.8-2.2-2.2-.4zM269.6 34.1l.2-.4-.2 .1-.9-.4-.9-.3-.1-.4-.3 .2 0 1.2 .6 .5zM257 88.8l-.1-1.5-.4-.3-1.6 .4-.1 1.1 1.6 .7zM252.1 32.7l.6 .5 1.5-.2 .6-.7 .1-.2-.5 0-1-.1-1.1 0-.2-.1zM252.8 70.6l-.2-.2-1.5-.3-1.2 1.1 .4 1.3 1.7-.3 .8-1.1zM310.1 67.5l-.7-1-1.2 .2 .3 1.7 1 0zM259.5 87.9l.6 1.4 .7 .2 1.4-1.3 0-.6-1.8-.6zM276 40.1l-1-1.7-.3 0-.9 2 1 .9zM270.9 53.5l.5 1.1 1.6-.6 .1-.2-.3-1-1.2-.7zM286.8 37.6l.4 .9 2-.4-.3-.6-.8-.3-.8-.3-.1 0zM314.3 59.2l-1.5-.1-.1 2.2 1.3 .6 .7-2.3zM253.8 75.4l.7-.9-.3-1.3-1.4 .2-.5 .9 .6 1.2zM304.2 81.3l-.2-.1-1.2 1.2 .3 1 1.4 .8 .5-1.3 .2-.2zM307.5 70.4l.9 2.3 .7-.1 1-2.1-2.3-.4zM274.7 38.4l-.8-.7-1.8 1.5 1 1.2 .7 0zM209 59.6l3.6 2.6 2.4-2.2-.5-3.1-5.3 1.3-.3 .7zM294.7 49.6l0 .8 .7 .5 .1-.1 .4-.6 0-1.2zM253.6 53.6l1.2 .1 .9-1.5-1.2-1-.6 0-.6 .7 .2 1.6zM276.2 82.9l1.2 .4 1.2-1.3-.4-.9-2 .4-.1 .2zM307.9 73l-.2 .9 .6 1.2 1.2-.3 .2-1.7-.6-.5-.7 .1zM263.3 57.4l-1.2-1.1-1.4 .4-.1 .1 .3 1.1 1.1 1 .4-.1zM314.2 62.1l-.8 1.5 1.2 1.1 .4-1.5 .3-.9zM281.5 74.7l0-1.9-1.9 .6-.5 .8 1.9 1zM255.4 37l-.1 .3 1 1.2 .9 0 .2-1.6-1.1-.4z"/>
<path fill="#94d2f0" stroke="#94d2f0" d="M286.3 84.3l1.2-.5 .1-.6-1-1.2-1.1 .6-.1 1.2zM277.3 65l1-1.6-1.4-1.1-1.3 1.5 .2 .6 1 .7zM301.6 51.5l.2 .1 1-.3 .4-.7-.4-1.6-.1 0-.7 .5-.7 .5zM273.5 47.8l-.6 1 .4 .9 1.4 0 .5-.5-.3-1.3-.2-.2zM233.2 55.5l-.8-1.4-1.2-.6-3.5 1.3-.5 1.2 2.7 3.1 2.7-.7zM274 43.3l.8-1.9 0-.1-1-.9-.7 0-.7 1 1.4 1.9zM291.1 51l1.4 .2 .7-2.5-.5-.3-.8 .1-1.5 1.8zM271.1 88.1l.8 .3 1.2-.9-1.5-1.3-.7 .3zM235.2 68.8l-.3 .9 2.1 1.6 2.2-.9 .3-.6-1.9-2.6zM246.3 71.1l1.4 3.3 .2 0 2.3-1.6 .1-.3-.4-1.3-1.7-1zM285.8 80l0-.2-.9-1.1-1.4 .2-.6 .8 .1 1 1 .4zM260.9 53.1l1.7-1.3-1.8-1.4-.4 .4-.3 2.1zM273.3 49.7l-.4-.9-1.5 0-.4 .6 .9 1.4 .9-.2zM306.2 70.6l-.2 .1-.2 1.5 .1 .2 2 .6 .5-.3-.9-2.3zM280.4 65.4l.8-1.9-.1-.3-1.5-.4-.6 .5 .6 2.2zM240 31.9l-2.4 .8 .5 3.2 .4 .1 2.9-1.4 .2-.5zM260.3 97.2l.1 1.9 .1 .2 2-1-.2-1-1.9-.2zM279.6 73.4l1.9-.6 .2-.2 0-.7-.7-.6-1.9-.1zM270.9 37.8l.8 1.4 .4 0 1.8-1.5-.1-.3-.1-.1-2.6-.5zM309.3 49.5l-.3-1.8-.8-.4-.9 .7 .1 1.3 1.3 .5zM266.4 89.6l-.2 .1-.4 .9 .8 1.3 1.3 .1-.2-2zM290.6 78.7l0 1 2.4 .9 .4-1.2-.3-.9-1.9-.4zM250.7 53.8l.2-.1 .7-2-.4-.6-.7-.1-1.5 1.1 .5 1.7zM281.3 44.3l-.1 1.4 1.2 .2 .7-.6-.4-1.1zM279.5 83.3l-.6-1.2-.3-.1-1.2 1.3 .4 1.5 .5 .1zM312.7 61.3l-1.2 .3-.6 .9 1.1 1.6 .2 0 1.2-.5 .8-1.5-.2-.2zM304.5 74.1l-.1 1 1.5 .7 .2-.1 .2-1.2-.7-.8zM279.6 41.3l.5 1.4 .4 .2 1.3-.8 .3-1.2-.3-.3-1.2-.3zM268.1 80.3l.6 1 .9 .3 1.3-1.2-1.4-1.6-.2-.1-.9 .6zM286.8 76.3l.8-.1 1-1.7-.9-1-.1 0-1.2 .3-.1 .2zM298.1 53.3l1.3-.6 .1-1.6-.2-.2-.3 .2-.6 .5-.6 .4-.4 .4zM263.3 57.4l-.9 1.4 .7 .6 1.7-.3 0-1.2-.6-.8zM214.5 56.9l3.6-.4 .9-2-1.3-1.9-3.9 .3zM248.5 49l-.6-2-2.5-.8-1.2 2.4 .4 .8 2.9 .9zM291.3 84.9l1.4 .4 .7-.4 0-.1-.4-1.6-.8-.5-.9 2zM263.4 96.4l-.6 .1-.5 .8 .2 1 .2 .2 .1-.1 1.1-.6 1-.5zM285 50l-.3-1.1-1.7-.1-.7 .9 1.5 1 1.1-.5z"/>
<path fill="#82cbee" stroke="#82cbee" d="M244.9 76.1l2.8-1.7-1.4-3.3-2.7 1.3 .3 3.2zM273.7 37.3l-.4-1.8-1.2-.5-1.1 1.5 .1 .3zM217.6 64.2l-1.2 .9 .9 4.1 2.3 .8 2.6-2.6-.2-2.6zM246 79l2.7-.8 .3-.3-.4-2.6-.7-.9-.2 0-2.8 1.7 1 2.7zM297.2 73.3l-.3 .7 .5 1.4 1.6-.5-.3-1.6-.5-.2zM212 65.7l.8-.9-.2-2.6-3.6-2.6-2.4 3.9 3.3 2.5zM241.8 63.5l-2.3-.9-.5 .4-.2 2.7 3.3 .7zM305.6 68.7l.6 1.9 1.3-.2 .3-.3 .1-1.2-1.7-1.1zM301.8 51.6l-.2-.1-2.1-.4-.1 1.6 1.3 .6 .9-.7zM262 75.4l.2-.3-.5-1.2-.8-.2-1.2 1.2 .8 1.2zM325.8 32.8l-.3-1-.2-.8-1 .8 .2 1.4 .4 .5zM218.1 56.5l-3.6 .4 .5 3.1 2.3 1 2.8-1.7zM254.5 51.2l1.2 1 .8 0 .4-1.4-.2-.3-1-.3zM283 90.3l-.3 0-1.3 1-.3 .7 1.7 .9 .9-.8-.5-.7 .7-.3zM278.5 58l.8-1.1-.1-.4-1.3-.5-.9 1.6zM232.7 63.4l-3.9-.8-.9 .5 .4 3.2 2.1 1.7 2.7-2 .4-1.3zM299.9 58l-1.8-.9-.8 2 1.6 .6 1.2-1.3zM285.9 76.9l.3-.1 .6-.5-.5-2.3-1.8 1zM294.1 77.1l.5-1.3-1.2-1.2-1.2 .5-.1 .9 1.8 1.2zM292 90.2l.3 .1 .5 .2 1.8-1.2-.3-.6-1.9-.2zM279 86.4l1.3 .7 .9-.3 0-.2-.6-1.6-1.7 .4zM249 90.8l.1 1.6 1.2 .2 .2 .3 1-1.2-1.3-1.1zM307.9 68.9l.6-.5-.3-1.7 0-.1-2 .7 0 .5z"/>
<path fill="#69c1eb" stroke="#69c1eb" d="M223.5 78.6l-2.7-1.3-2.4 .8-.8 2.6 .4 .2 1.2 .7 1.1 .7 .9 .5zM248.5 57.4l-1.9-.6-.7 2.9 .8 1.2 2.4-.5 .5-1.1 0-.2zM297.3 61.4l-.1 .5 .7 1.3 1.4 0 .5-.6-.3-1.6-.1-.1zM228.1 77.6l1.8 2.3 1 0 2-2.3-1-2.7-1.7-.6zM224.9 77.4l0-4.1-4.6-.5 .5 4.5 2.7 1.3 .2 0zM292.8 65.6l-.4-1.1-2 0-.6 .8 1.1 1.5 .2 .1 1.6-1zM236.8 76l-2 2 1.2 2.9 1 .2 2.7-2.3zM233.3 82.6l-.4 2.1 .9 .1 1.1 .1 1.1 .1 1.1 .2 0 .1 .5 .5 1-1.7-1.6-3-1-.2zM302.3 69l-.1 .5 1.7 .3 .6-1.1-.8-1zM311.8 55.2l-2 0-.4 .7 1.2 1.5 1.1-.6zM249.6 80.4l-.9-2.2-2.7 .8 .4 1.8 2.6 1.1zM281.8 40.6l.3 .3 1.5-.3 .3-1.9-.7-.4-1.1 .3zM305.8 72.2l-2.3 .2 0 .6 1 1.1 1.1-.4 .3-1.3zM287.1 51.4l-.7-1.5-1.4 .1-.1 .2 .7 1.8 1.3-.2zM321.5 42.2l-1.1-1-1.2 .3-.3 .3 0 .5 1.2 1.3 .9-.2zM277.3 87.3l-1.4 1.5 0 .3 .9 1.1 .7-.2 1.1-1.5-.6-1zM303.1 58l1.4-1.2-.7-.8-1.9 .4 .5 1.6zM304.6 45.5l-.6 .1-1.1 .8 .4 .5 .1 .2 1.1-.3zM270.6 91.9l-1 .1-.1 .2 .3 1.7 1.1-.5 .9-.2 .4-.1zM208.6 74.9l.3 .4 .7 1 0 .8 .2 1.1 1.3 .1 1.2 .2 .1 0-1.6-3.2zM309.1 102.7l-.7 .1-1.1 1.3 .1 .1 .1 .3 .8 .9 .3-.2 .9-.7 .6-1zM273.8 37.4l1.5-1.6-.3-.8-.3 0-.3-.1-1.1 .6 .4 1.8zM249.5 49.2l-1-.2-1 1.3 .2 1 1.3 .8 1.5-1.1zM301.1 86l-.1 1.5 1 .8 1.2-1-.3-1.2-.8-.5zM279.3 44.8l1.2-1.3 0-.6-.4-.2-1.6 .2-.8 1.1zM272.9 91.5l-1-1.1-1.3 1.5 1.6 1.2 .3 0zM287.3 71.3l.3 2.2 .1 0 1.5-1.2 .1-1.1-.3-.2zM285.6 71.9l-.4-1.3-1.8-.2-.1 .3 .9 1.9 1.1-.2z"/>
<path fill="#4bb6e7" stroke="#4bb6e7" d="M241.4 34.6l-2.9 1.4 1.5 2.9 .6 .1 1.8-1.2zM227.7 54.8l-1.5-2.4-3.5-.3-.9 2.1 2.1 3.7 .1 0 3.2-1.9zM233.5 64.7l-.4 1.3 2.1 2.8 2.4-1.6 .1-.6-2.4-2zM227.5 63l-5.4 1.7-.1 .1 .2 2.6 2.7 1.4 3.4-2.5-.4-3.2zM227.6 48.1l-3.2-1-2.5 3.2 .8 1.8 3.5 .3zM303.2 63.4l1.3 1 .1 0 .4-.3 .3-1.6-.3-.4-1.1-.4-.7 .6zM295.6 70.3l-.3 .5 1 1.1 1.2-.8-.1-1.5zM243.9 75.6l-.3-3.2-.5-.2-2.9 .7-.4 1.1 1.9 2.3zM315.5 55.3l-1.7 1-.1 .6 .9 .7 1.6-.4zM246 91.7l2.1-1.6-.1-1.6-3.5-.4-.6 2.4zM303.6 96l-1-2-1.3 .3 0 .1 0 1.1 .2 .6zM241.8 80.2l4.1-1.4-1-2.7-1-.5-2.2 .7-1.3 2.4zM310.5 58.6l-2-.1-.3 .9 .7 1.5 1.8-1.1 .2-.7zM239.8 74l.4-1.1-1-2.5-2.2 .9-.6 2.9 .5 .5zM242.1 82.6l-.5 1 1.5 2.8 .7 .3 2.6-2-1-2.3zM274.7 45.9l-.1 .1 .1 1.7 .2 .2 1.6-.6 .3-.8-1.2-.9zM306.1 95l.4-.3 .2-1.9-1.4 0-.7 .9 .3 .9zM245.9 63.3l-2.8-1-1.3 1.2 .3 2.9 .1 0 3.6-1.7 .3-.8zM276.5 47.3l1 1.4 1.5-.7 0-.1-.7-1.4-.8-.3-.7 .3zM313.2 46l-1.3-.4-1.1 1.5 .7 1 1.6-.2 .5-1.2zM303.6 91.7l1.2 .1 .7-1.4-1.7-.6-.9 .3zM231.9 74.9l1 2.7 1.9 .4 2-2 .1-1.3-.5-.5-2.3-.5zM220.3 72.8l-.3-.3-4.1 2.3 .1 1.2 2.4 2.1 2.4-.8zM276.8 86.5l-1.6 0 0 1.7 .7 .6 1.4-1.5zM237 62.5l-1.2-2.4-1.6 0-1.5 3.3 .8 1.3 1.8-.1zM322.7 36.7l1.4-1.4-1.8-.8-.8 1.4zM298.9 59.7l-1.6-.6-.6 .3-.1 .4 .7 1.6 2.1-.5zM304.5 64.4l-1.5 1.6 .1 .4 .6 .7 2-.4-1.1-2.3zM316 43.2l-1.4-1.4-1.3 1.7 1 .9 .4 .1zM251.6 57.3l-.7-.9-1.3-.1-1.1 1.1 1.1 1.7zM300.9 65.2l-1.1-.7-1.5 1.1 .4 1.2 1.7 0zM312.4 43.2l.2 .2 .7 .1 1.3-1.7-.1-.6-2.1 .1zM304.1 98.9l-.4-1.5-1.5 .4 .5 .6 .8 1.2zM222.1 64.7l-.6-5.1-1.4-.3-2.8 1.7 .3 3.2 4.4 .6zM279.3 44.8l.2 .6 1.2 .7 .5-.4 .1-1.4-.8-.8zM295.6 74.4l1.3-.4 .3-.7-.9-.9-1.7 .9zM317.2 39.8l-1.3-.5-1.2 1.1 0 .4 2.1 .3 .3-.2z"/>
<path fill="#37aae2" stroke="#37aae2" d="M218.4 78.1l-2.4-2.1-2.8 2.6 .4 0 1.3 .2 1.2 .1-.3 .7 1.1 .6 .7 .5zM234.9 69.7l.3-.9-2.1-2.8-2.7 2 .2 1.9 3 .6zM305 62.1l1.1-1.8 0-.2-.7-.8-.9 .2-.8 .9 .2 1.3zM218.3 48.5l-1.9-.4-3 2.6 .3 2.2 .1 0 3.9-.3 1.4-2.9zM239.5 62.6l.4-1.8-2.6-2-1.5 1.3 1.2 2.4 2 .5zM208.8 54.2l4.9-1.3-.3-2.2-2.1-1.8-3.6 .8 .1 3.6zM317.4 45.3l.2-.7-.3-1-.9-.5-.4 .1-1.3 1.3 .8 1.1zM237 81.1l1.6 3 3-.5 .5-1-.3-2.4-1.4-1.5-.7 .1zM226.8 82.6l-3.1-4-.2 0-2.3 4.2 .2 .2 1.2 .6 1.1 .7 1.2 .6zM246.6 56.8l-.8-1.3-2 .3-1.2 3.6 3.3 .3zM313 53l-1.2 .6 0 1.6 .9 .1 1.3-1.4zM247.6 37.7l-2.4-1.7-1.8 1.9 2.1 2.8 .1 0 2.1-2.7zM316.8 41.1l-2.1-.3-.2 .4 .1 .6 1.4 1.4 .4-.1zM305.2 49.5l-.1-.4-1.7-.5-.6 .4 .4 1.6 1.7-.4zM308.4 58.3l.9-2.4-1.6-.1-.7 .7 .4 1.3zM234.8 78l-1.9-.4-2 2.3 2.4 2.7 2.7-1.7zM239 63l-2-.5-1.7 2.1 2.4 2 1.1-.9zM219 54.5l-.9 2 2 2.8 1.4 .3 2.4-1.7-2.1-3.7zM282.1 94.5l1.1 .6 1-.3-.4-.7-1-.3zM301.7 55.2l1.2-.8 0-.7-1.3-1.1-.9 .7-.1 .6zM310.9 51.4l-.8-1.8-.8-.1-.6 .3-.3 1.6 .8 .5zM291.7 68.7l1 1.6 .9-.3 .3-1-.6-1-1.6 .6zM217.7 52.6l1.3 1.9 2.8-.3 .9-2.1-.8-1.8-2.8-.6zM282.4 45.9l.4 1.5 1.3-.3 .1-1.5-1.1-.3zM308.4 102.8l-1.6-1.3-.9 1.1 .6 .5 .8 1zM302.4 58l-2 .5 .9 1.8 .4 .1 .5-.3zM234.1 73.7l2.3 .5 .6-2.9-2.1-1.6-1.3 .8zM280.6 46.5l.1-.4-1.2-.7-1.2 1.1 .7 1.4z"/>
<path fill="#239edc" stroke="#239edc" d="M203.4 57.6l.3 .3 5.2 1 .3-.7-.4-4-1-.9-3.4 1zM294.7 71l-1 1.6 .4 .6 .5 .1 1.7-.9 0-.5-1-1.1zM277.8 41.3l.8-.4 .3-1.4-1.3-.9-.8 1.5 .7 1.1zM307.3 63.1l-.5-.6-1.5 0-.3 1.6 2.1 .3zM221.9 50.3l2.5-3.2-1.2-2.2-1.6-.6-1.3 .4-2 3.8 .8 1.2zM207.7 49.7l3.6-.8 .8-3.3-1.2-1.5-3-.1-.9 .8-.4 3.9zM257.1 46.5l-1.3 .9 0 1.1 1.5 .5 1.1-.5 .2-.3-.2-.6zM240.4 30.8l-.4 0-1-.1-1-.2-1-.1-.2 0 .1 2 .7 .3 2.4-.8zM320 37.4l.6-.1 .8-1.4-1.1-.6-.4 1 0 .5-.7 0zM256.9 71.3l1.3 .7 1.3-1.4-1.5-1.2-1.1 1.3zM230.6 69.9l-1.6 2.3 1.2 2.1 1.7 .6 2.2-1.2-.5-3.2zM280.9 84.4l1.4 0 .5-1.1-1.2-1.4-1.1 1.7zM239.2 70.4l1 2.5 2.9-.7-1.1-3.4-2.5 1zM202.9 61.3l1.6 2.3 .7 .3 1.4-.4 2.4-3.9-.1-.7-5.2-1zM306.7 92.8l-.2 1.9 2 .7-.2-.4-.5-1.2-.7-.8-.2-.3zM274.2 76.1l.5-1.2-1.2-1-1.1 .5 .2 1.4zM303 92.7l.6-1-.7-1.6-.2 0-1.1 1.7zM244 41.8l1.5-1.1-2.1-2.8-1-.1-1.8 1.2 .9 2.3zM293.4 84.8l2.2-.8-.8-1.4-1.8 .6zM231.2 53.5l-.7-5.2-1.6-.6-1.3 .4-1.4 4.3 1.5 2.4zM321.9 38.3l-1.3 1.2 .3 .6 1.4 .3 .7-1-1-1.1zM266.6 61.6l-1.5 .4-.3 1.3 1.1 .7 .5-.1 .8-1.1-.2-1zM277.3 94.1l-.7-1.5-1.9 .8-.1 .2 .5 .1 1.4 .3 .8 .3zM308.4 102.8l.7-.1 .2-1.5-.4-.7-.8-.3-1.2 .4-.1 .9zM281.9 88l1.6-.4 .3-.5-1-1.3-1.6 .8 0 .2zM246 91.7l-2.1-1.2-2.2 1.3 .1 .7 1.3 1.1 1.1 .6 1.1 .6 .7-1.1 .3-.4zM237.5 58l-.9-2.1-3.4-.4-.6 2.9 1.6 1.7 1.6 0 1.5-1.3zM266.6 91.9l-1 1.1 .3 .5 1.5 .5 .6-1.9-.1-.1zM296 89.4l.7 1 1.1-.2 .5 .5 .7-1.4-1.7-1.1-.2 0zM289.6 74.7l.3-.3 .2-1.3-.9-.8-1.5 1.2 .9 1zM243.9 90.5l.6-2.4-.7-1.4-.7-.3-3.1 2 .8 .7 .6 1.5 .2 1 .1 .2zM205.5 69l2.6-.1 1.8-2.9-3.3-2.5-1.4 .4-.1 4.6zM313.5 71.8l-.1 .8 .2 .5 .2-.1 .9-.2 .8-1.1zM299 74.9l.7 .5 .7-.2 .6-1.6-.1-.2-.9-.6-1.3 .5zM314.7 51.3l.6 1.5 1.6 .2 .3-1.4-.6-.6-1.9 .2zM241.8 80.2l.3 2.4 3.3-.2 1-1.6-.4-1.8-.1-.2zM273.1 40.4l-1-1.2-.4 0-1 1.1 0 .2 1.1 1 .6-.1zM238.8 65.7l-1.1 .9-.1 .6 1.9 2.6 2.5-1 .4-.6-.2-1.8-.1 0zM261.1 71.3l1.9 1.2 .3 0 .7-1.2-1.3-1.6-.3 0zM288.1 78.6l.8-.6-.1-1-1.2-.8-.8 .1-.6 .5 .9 1.6zM261.2 77.5l-.9 1.3 1.7 .8 .1-.1 .7-1.6-.1-.2zM305.1 49.1l.6-1.4-.2-.4-1-.5-1.1 .3 .2 .4 .3 .5-.2 .3-.3 .3zM316.2 57.2l-1.6 .4-.3 1.6 .4 .4 1 0-.2-.6 .3-.5 .6-1.2zM285.6 52l-.3 .4 .2 1.4 1.6 .1 .5-.5 .1-.3-.8-1.3zM260.4 66.7l.6 1.2 1.5-.5 .1-.9-.9-1.1-.7 .3zM252.3 57.4l.1 .1 2.1 0 .5-1-.2-.4-1.7-.7zM305.3 92.8l-.5-1-1.2-.1-.6 1 .1 .7 1.5 .3zM270.3 88.6l.1 1.1 1.5 .7 .3-.5-.3-1.5-.8-.3zM282.8 92.9l0 .9 1 .3-.2-.2 .5-1.3-.4-.5z"/>
<path fill="#1292d7" stroke="#1292d7" d="M263.5 93.8l.9 1.2 .8 .1 .7-1.6-.3-.5-1.1-.4-.9 .5zM269.5 39.8l1.2 .5 1-1.1-.8-1.4-1.4 .6zM245.8 64.7l-3.6 1.7 .2 1.8 2.7 .6 1.5-2zM242.4 59.5l.2-.1 1.2-3.6-1.1-.6-2 .4-.6 1.7 2.1 2.2zM224.9 73.3l1.3-1.3-1.3-3.2-2.7-1.4-2.6 2.6 .4 2.5 .3 .3zM244.2 48.6l-3-.2-.5 3.3 1.6 .6 1.7-.7 .6-2.2zM216 76l-.1-1.2-2.1-2-3 2.5 1.6 3.2 .8 .1zM243.1 62.3l-.7-2.8-.2 0-2.3 1.3-.4 1.8 2.3 .9zM249 81.9l-2.6-1.1-1 1.6 1 2.3 1.2 .3 1.2-.8 .4-2zM285.5 53.8l-.5 .5 .2 .9 1.9 .7 0-2zM293.2 61.5l.4-1.3-2.3-.3-.5 .3 .8 1.9zM326.4 36.1l.3 .8 1 .4 .9-.8 0-1-1.2-.6zM240.4 47.7l-2.5 1.3-.4 2 2.7 1 .5-.3 .5-3.3zM309.2 64.4l.9 .9 .4 0 1.5-1.2-1.1-1.6-1.2 .1zM288.9 78l1.7 .7 .6-.6 0-1.3-1.3-.7-1.1 .9zM289 88l.6 .9 .4 .1 1.8-1.3 0-.2-1.2-1.1-.1 .1zM303.6 79.9l-1.8-.1-.2 .2 .2 2 1 .4 1.2-1.2zM243.8 86.7l.7 1.4 3.5 .4 .3-.5-.7-3-1.2-.3zM205.1 71.4l.6 .7 .8 .4 .7 .4 .1 .9 .6 .3 1.6-3.2-1.4-2-2.6 .1zM299 55.3l-1-1.5-1.7 1 .3 1.5 1.4 .3 1-1.3zM232 47.9l-1.5 .4 .7 5.2 1.2 .6 2.9-2.5-1.4-2.8zM304.5 68.7l-.6 1.1 .3 .6 1.8 .3 .2-.1-.6-1.9zM295.2 54.1l.3-1.1-.6-.2-.2-.6-1.6-.4-.2 1.4 1.9 1zM290.8 60.2l-.7-.6-1.6 .3-.4 .8 .1 .5 1.1 .5zM250.3 86.4l1.2 0 .7-1.4-.6-.6-1.9 .2zM272.2 46.7l1.3 1.1 1.2-.1-.1-1.7-2.2-.2-.1 .1zM274.6 69.3l.3 1.7 1 .2 1-1.4-.7-.8zM295.3 75.5l-.7 .3-.5 1.3 1.7 1 .9-.5 .3-1.1 0-.2zM245.4 46.2l2.3-3.7-2.1-1.8-.1 0-1.5 1.1-.4 2.8zM213.4 70.6l.1 .1 3.8-1.5-.9-4.1-3.6-.3-.8 .9zM288.2 63.3l-.3 1.2 .9 1 1-.2 .6-.8-.4-1.5-.4-.2zM266.8 78.5l-1.1 .7 .2 1 .8 .5 1.4-.4 .3-1zM292.5 86.9l-.7 .6 0 .2 .6 .8 1.9 .2 .2-1.3-.2-.3zM312.5 58.9l-1.6 .2-.2 .7 .8 1.8 1.2-.3 .1-2.2zM252 63.6l2.3 .1 .4-.3 0-1.1-1.2-.6-1.6 .9-.1 .4zM323.8 39.3l-.8 .1-.7 1 .4 1.4 .1 .1 .1-.2 .6-.7 .8-.6 .3-.3zM260.4 66.7l.6-1-1.7-1.3-.6 1.8 .6 .6zM300.6 91.3l-.2-1.6-1.3-.5-.1 .1-.7 1.4 .9 .8 .4 .3zM260.8 103.8l-.3 1.4 .2 .1 1.2-.3-.3-1.4zM302.6 74.2l-1.6-.6-.6 1.6 1.4 .9 1.1-.3zM304.2 70.4l-1 1.7 .3 .3 2.3-.2 .2-1.5zM290.9 45.9l1.4 .1 .8-1.8-.9-.6-1.7 .5zM289.5 67.8l1.4-1-1.1-1.5-1 .2-.5 1.2zM312.3 39.5l-.4 .1-.6 .4-.6 .3-.5 .8 .3 .2 1.6-.3zM262 63.6l1.2-.8 .1-1.5-2 0-.1 .1zM276.2 69l.7 .8 1.6 0 .3-.4 0-.4-1-1.6-.2-.1-1.3 .8zM306.1 75.7l-.2 .1-.7 1.7 .4 .6 2.1-.6 .5-.5-.3-.8zM277.4 83.3l-1.2-.4-1.1 1.1 .2 .4 1.9 .8 .6-.4zM255.4 61.7l-.7-2.3-1.6 .5 .4 1.8 1.2 .6zM315.5 55.3l.7 1.9 .2 .1 .3-.5 .4-1.4-.1-.8zM261.3 93.1l1.3-.8-.3-1.3-.8-.3-1.8 1.2zM273.1 64.8l-.9 1.5 .4 .6 2 .1-.1-1.3zM280.9 60.6l-1.6 .2 .3 2 1.5 .4 .9-.8 .1-.7zM293.1 78.5l.8-1.3-1.8-1.2-.9 .8 0 1.3zM255.2 100.5l0 .1 .5 1.4 .1 .4 .5-.1 .8-1.6-.8-.8zM310.9 62.5l.6-.9-.8-1.8-1.8 1.1-.1 .2 .5 1.2 .4 .3zM264.7 46.9l-.7 0-.5 1.2 .9 1.2 .7-.2 .5-1.5zM290.7 90.1l.8-.1 .5 .2 .4-1.7-.6-.8-1.8 1.3zM260.3 101.6l-.6 1.2 .3 .6 .8 .4 .8-.2 0-.1-.3-1.5 .1-.5zM289.3 71.2l-.1 1.1 .9 .8 1.1-.5-.5-1.5zM275.9 71.2l.3 .6 1.3 .4 1.3-1.2-.3-1.2-1.6 0zM279.6 65.5l-.6-2.2-.7 .1-1 1.6 1.9 .8zM251.8 68.3l1 .7 1-.6-.7-1.6-1.4 .5zM283.8 64.2l-.1-.8-1.7-1-.9 .8 .1 .3 1.2 1.1zM264.8 63.3l-.2 .1-.9 1.3 .7 1.3 .1 0 1-.6 .4-1.4zM260.9 57.9l-1.2 1 .4 1.3 .9 .4 1-1.7zM285.6 39.2l1.4-.2 .2-.5-.4-.9-1.5-.5-.6 1.4zM274.9 86.2l-.9 .1-.9 1.2 .6 .7 1.5 0 0-1.7zM251.2 34.8l-2.2 .5 1.7 1.6 .9-.6-.2-1.3zM293.5 48.7l1.2 .9 1.2-.6 .1-.5-1.1-1.2 0-.1zM257.1 43.1l-.7 2.1 .6 .8 1.8-1.2-1.6-1.7zM275 53.6l0 2.3 .2 .1 .2 .1 1.8-1.2-1.5-1.7-.5 .2zM293 80.7l0-.1-2.4-.9-.2 .3 0 2.1 1.6 .3zM269.3 67l.9 .1 1.1-1-.7-1.3-1.4 0zM293.4 67.6l2.2-.7-.8-1.2-2-.1-.1 .3zM227.9 82.5l-1.1 .1-1.9 2.3 1.2 .2 1.3 .2 1.3 .2 1.2 .2 1.1 .1zM310.1 65.3l-.7 1.2 .7 1 1.3-.1 .2-.6-1.1-1.5zM220.6 35.3l-1.5-1.3-2.9 3.5 1.3 2.6 2.9-.7zM281.3 66l.8-.2 .3-1.2-1.2-1.1-.8 1.9zM278.4 50.3l-1.1-1.1-.8 .4 0 1.4 1.5 .6 .2-.1zM255.7 83.4l-.1-.8-2.1 0 .5 1.9 .6 .1zM240.1 57.3l-2.6 .7-.2 .8 2.6 2 2.3-1.3zM267.5 69.9l-1.5 1.8 .3 .6 1 .4 1.1-1.2-.9-1.6zM204.5 63.6l-1.6-2.3-2.2 .1 .1 .1 .6 .5-.4 .7 .3 1.5 .3 1.2zM287.6 49.1l-.5 0-.7 .8 .7 1.5 1.4-.7zM249.6 39.5l2.1-.6-1.1-1.6-1.9 1z"/>
<path fill="#0c86d2" stroke="#0c86d2" d="M205.1 68.5l.1-4.6-.7-.3-2.9 1.8 .1 .4 .7 1.2 .5 1.1-.2 .5zM209.5 70.9l3.9-.3-1.4-4.9-2.1 .3-1.8 2.9zM249.5 32.9l1.5 .4 1.1-.6 0-.8-.8 0-1-.1-.8 0zM251.9 45.4l1.7-1.5-1.4-1.1-.5 .1-1.3 1.9zM258 69.4l1.5 1.2 .4 0 .5-1.8-1.5-.5-.9 .4zM292.2 43.6l.9 .6 .8-.2 .2-.2-.7-1.9-1.3-.1zM272.4 78.2l2.2-1.1-.4-1-1.6-.3-.9 1.1 .1 .8zM283.7 43.2l.8-1.1-.2-.9-.7-.6-1.5 .3-.3 1.2 1.5 1.1zM223.2 44.9l1.2 2.2 3.2 1 1.3-.4 .1-5-1.3-1.7-.8 0zM303.8 77.2l-.8-1.4-.1 0-1.1 .3-.7 1.7 .4 .4 1.7-.1zM298 56.6l.1 .5 1.8 .9 .9-1.6-1.8-1.1zM238.4 39.8l1.6-.9-1.5-2.9-.4-.1-1.9 .8-.1 2.5zM271.5 71.5l1.3-1.2 0-1-.8-.6-.6 0-1 .9zM309.7 73.1l1.5 .1 .2-2.2-1.2-.6-.1 .1-1 2.1zM286.4 73.8l1.2-.3-.3-2.2-.1 0-1.6 .6-.3 .5zM233.9 48.8l1.4 2.8 .9 .1 1.3-.7 .4-2-1.5-1.2zM278 87.5l.6 1 1 .2 .7-1.6-1.3-.7zM249.6 59.3l3 .3-.2-2.1-.1-.1-.7-.1-2 1.8zM289.9 58l-.3-.4-1-.2-.9 1.2 .8 1.3 1.6-.3zM275.6 63.8l-.6-.2-2.1 .5 .2 .7 1.4 .9 1.3-1.3zM285.4 68.7l.3 1.3 1.2 .2 .8-1.1-.7-1.2-1 .2zM283.2 66.7l-1.1-.9-.8 .2-.4 1.5 .5 .5 1.9-.8zM249.5 53.8l-.5-1.7-1.3-.8-1.8 1.9 .1 1.9 3.2-1zM237.6 32.7l-.7-.3-1.5 .4-1.2 2.8 2 1.1 1.9-.8zM297.2 61.9l.1-.5-.7-1.6-1.5 1.2 .1 .9 .4 .4zM284.1 47.1l-1.3 .3 .2 1.4 1.7 .1 .4-1.1zM246.7 33.7l-.1-2.2-.4 0-1.1-.1-1-.1-.2-.1-.5 2.4 1.7 1zM250.9 69.1l.2 1 1.5 .3 .2-1.4-1-.7zM285.1 66.9l.9 1.2 1-.2 .5-.8-1.1-1.2-1 .2zM251.2 51.1l.4 .6 1.7 .2 .6-.7-.2-.8-1.7-.7zM290.2 50.3l-.9-2-.7-.1-1 .9 .9 1.6 .6 .1zM314.3 44.4l-1-.9-.7-.1-.9 1.6 .2 .6 1.3 .4zM312 64.1l-1.5 1.2 1.1 1.5 1.3-.7-.7-2zM274.3 81.4l-.2-.2-2 .3-.2 1.2 2.1 .6zM299.9 80.1l1.7-.1 .2-.2-.3-1.6-.4-.4-1.3 .2-.7 .9zM260.3 101.6l1.1-.1 .1-.6 .2-.5-1.2-1.1-.8 1.5zM267.1 66.4l.2 .9 1.5 .1 .5-.4-.1-2.2-.2-.2-1.3 .5zM230.4 68l-2.1-1.7-3.4 2.5 1.3 3.2 2.8 .2 1.6-2.3zM286.9 81l-.3 1 1 1.2 1.7-.8-1.4-1.7zM253.7 77.7l1-.3 .1-.7-1-1.3-.9 .1-.4 .6 .1 .9zM283.4 83.2l.9-1.2-.3-.9-1-.4-1.4 1 0 .2 1.2 1.4zM204 49.1l2.6-.4 .4-3.9-4-1.1-.6 .5-.3 3.3zM233.3 42.8l.4 2.1 3 .8 .8-.5 0-2.3-3.3-1.2zM280.2 51.1l1.4-.4 .3-.9-1-.9-1 0-.3 .9zM261.9 41.4l0 .1-.4 1.5 .4 .9 2-.6 0-1.6zM255.2 94.4l-.7 .9 .7 1.7 1-.2 .6-.8-.3-1.3-.9-.4zM281.3 69.3l-.3 2 .7 .6 1.6-1.2 .1-.3-.2-.7-1.8-.4zM287.7 58.6l.9-1.2-.8-1.1-.6-.2-1.4 1.3 .2 1.2 .4 .2zM275.9 71.2l-1-.2-.9 .5-.2 .8 .1 .3 1.6 .5 .7-1.3zM248.8 84.2l.9 .4 1.9-.2 .4-1.7-.5-.5-2.3 0zM313.6 68.4l-1 .3-.2 2 .8 .5 1.6-1.5 .1-.4zM270.9 74.4l.9-.3 .1-1.9-.5-.5-1.4 .5-.2 .9 .5 1zM267.1 67.4l-.2 1.7 .6 .8 1.8-.6-.5-1.9-1.5-.1zM277.6 38.5l.7-1-.8-1.8-1.2 .6-.1 1.5zM310.2 70.4l1.2 .6 1-.3 .2-2-.8-.4-1.5 1.2zM284.2 45.6l-.1 1.5 1 .7 .6-.2 .1-1.7-1-.7zM286.4 65.9l1.1 1.2 .8-.4 .5-1.2-.9-1-1.2 .1zM295.6 62.3l-.4-.4-1.3 .5-.3 1.2 1.6 .5 .4-.2zM310.1 70.5l.1-.1 .1-.9-.8-1.1-1 0-.6 .5-.1 1.2zM280.2 51.1l-.3 .6 .5 1.2 .9 .4 1-1.1-.7-1.5zM294.1 43.8l-.2 .2 .8 1.4 1.2-.2-.1-.2-.3-1.1-.3-.6zM291.2 76.8l.9-.8 .1-.9-.5-.5-1.8-.2-.3 .3 .3 1.4zM278.6 82l.3 .1 2-.8-.5-1.2-1.2-.3-.9 .7-.1 .6zM269.3 78.7l-.4-1.6-1-.3-.9 .5-.2 1.2 1.6 .8zM280.1 36l.5 0 .9-1.9-.4-.2-.6 .2-.6 .5-.7 .4-.5 0zM260.1 52.9l.3-2.1-1.7-.1-.1 .1-.1 1.9 .9 .5zM202.4 44.2l.6-.5 0-3.4-.8-.9 0 .2-.9 1.2-.9 1.2 .1 1.3 0 .7zM294.1 73.2l-.7 1.4 1.2 1.2 .7-.3 .3-1.1-1-1.1zM279.9 48.9l-.9-.9-1.5 .7-.2 .5 1.1 1.1 1.2-.5zM213.8 28.7l4-.3 .8-1.5-.9-.3-1-.2-1-.3-1-.2-1-.3-1-.2-.4-.2zM260.8 68.6l-.4 .2-.5 1.8 1.1 .8 .1-.1 1.3-1.6zM282.3 77l-1.1 1.2 .2 .7 1.5 .8 .6-.8-.5-2zM240.1 57.3l.6-1.7-1.3-1.3-2 .4-.8 1.2 .9 2.1zM269.4 61.3l.5-1.4-.6-.9-1.5 .4 .2 1.7zM202.9 61.3l.8-3.4-.3-.3-3.6-.7-.2 .7 .9 1.1-.1 .9-.1 .9 .4 .9zM300.6 53.9l.1-.6-1.3-.6-1.3 .6-.1 .5 1 1.5zM300.8 56.4l.8-.2 .1-1-1.1-1.3-1.6 1.4zM267.9 92l.1 .1 1.5 .1 .1-.2 0-1.7-1.2-.7-.7 .4zM282.7 44.2l.4 1.1 1.1 .3 .6-.4 .1-.7-1.2-1.3-.4 0zM281.3 53.3l.2 .8 2 .4 .4-.3-.5-2-.1-.1-1 .1zM301.9 89.3l.1-1-1-.8-1.3 .3-.6 1.4 1.3 .5zM264 73.5l-.7 1.4 .8 .7 1.6-.5-.6-1.3zM280.5 43.5l.8 .8 1.4-.1 .6-1-1.5-1.1-1.3 .8zM233.4 31.3l2 1.5 1.5-.4-.1-2-.9-.2-1-.1-1-.2-.2 0zM287 89.5l1.4 .7 1.2-1.3-.6-.9-1-.4-.1 .1-1 1.6zM262.4 87.3l-.2 .3 0 .6 1.2 1.3 .9-.6 .3-1.1-.7-.8zM263.6 50.7l0-.2-1.6-1.4-1 .4-.2 .9 1.8 1.4zM301.7 60.4l.1 1.4 1.4 .5 .7-.6-.2-1.3-1.5-.3zM304.1 52.3l-1.3-1-1 .3-.2 1 1.3 1.1 1.2-.7zM250.2 90.6l1.3 1.1 .3 0 .8-1.4-1.4-1.1zM280.3 87.1l-.7 1.6 .4 .5 1.7-.4 .2-.8-.7-1.2zM234.2 35.6l1.2-2.8-2-1.5-3.2 1.4 2.8 3.2zM226.8 82.6l1.1-.1 2-2.6-1.8-2.3-3.2-.2-1.2 1.2zM293.9 55.9l-1.7-.6-.6 .6 .3 1.7 .5 .3 .4 .1 .7-.6zM290 63l1.6-.9-.8-1.9-1.5 1.5 .3 1.1zM288.4 90.2l-1.4-.7-.3 1.3 1.3-.2 .5-.2zM270.2 36.1l-.6-2-1.6 .5-.2 1.9 0 .2zM255.3 49l.4 1.2 1 .3 .6-1.5-1.5-.5zM275.5 73.1l.3 .6 1.8 0-.1-1.5-1.3-.4zM237.4 54.7l2-.4 .8-2.3-2.7-1-1.3 .7zM274.4 34.9l-.3-.2-.7-.3-1-.5-.4-.2 .1 1.3 1.2 .5zM300.9 82.3l.9-.3-.2-2-1.7 .1-.3 1.6 .1 .2zM253.2 37.8l.6 .3 1.5-.8 .1-.3-1.3-1.7-.3 .1-.9 1.4zM276.5 51l-.5 .4-.1 1.6 1.9-.4 .2-1zM299.8 78l-.5-1.1-2.3-.4-.3 1.1 1.8 1.4 .6-.1zM276.8 46.5l.7-.3-.1-2.1-.8-.3-1 1.8zM294.5 86.2l-1.1-1.3-.7 .4-.2 1.6 1.8 .2zM314.9 69.3l1.9 .3-.1-.3-.3-.9-.4-.7-1.1 1.6zM297.5 71.1l-1.2 .8 0 .5 .9 .9 1-.2 .1-1.6zM243.6 44.6l.4-2.8-2.5-.5-1.1 1.5 .8 2.2zM272.8 69.3l0 1 1.2 1.2 .9-.5-.3-1.7-.4-.3zM293.1 51.8l1.6 .4 0-.8 .7-.5-.7-.5-1.7 1.2zM276.8 40.1l.8-1.5 0-.1-1.4-.7-1.2 .6 1 1.7zM258.9 68.3l1.5 .5 .4-.2 .2-.7-.6-1.2-1.1 .1zM267.2 86.6l-1.1 0-.4 1 .8 1 1.2-1zM265.9 64l-.4 1.4 1.6 1 .6-1.3-1.3-1.2zM214.9 45.6l-2.8 0-.8 3.3 2.1 1.8 3-2.6zM265 54.4l.7-.2 0-1.4-.8-.4-1.3 .9 0 .1zM284.3 84.8l1.1 1.6 .9-.9 0-1.2-.9-.5-.9 .5zM297.8 85.4l-.1 .2 .6 1.1 1 0 .7-1.1-.4-.9zM276.8 40.1l-.8 0-1.2 1.2 0 .1 1.8 .6 .9-.8zM252.9 79.2l-.3 1.1 1 .9 1.5-.8-.1-.5-1.8-.9zM278.4 50.3l-.2 1.2 1.7 .2 .3-.6-.6-1.3zM255.4 66.6l-.7 2.1 .4 .5 .1 0 2.1-1.1-.1-.3z"/>
<path fill="#0a7acd" stroke="#0a7acd" d="M236.7 45.7l-.3 2.1 1.5 1.2 2.5-1.3-.1-1.4-2.8-1.1zM243.1 86.4l-1.5-2.8-3 .5-1 1.7 .7 .7 1.2 1.3 .5 .6zM203.4 57.6l1-3.3-2.1-2-3.2 .3-.1 .6-.2 1.2 .5 1.2 .5 1.1 0 .2zM311.8 53.6l1.2-.6 .1-1.1-1.1-.7-.9 .3 0 1.5zM202.3 52.3l1.7-3.2-1.9-1.6-2.7 .7-.2 .4-.7 .8 .4 1.2 .4 1.3-.2 .7zM271.3 83.3l-1.5-.8-1.4 1.4 1.4 .9 1.5-1zM251.2 88.6l-1.8-.8-1.1 .2-.3 .5 .1 1.6 .9 .7 1.2-.2 1-1.4zM251.5 82.2l.5 .5 1.3-.2 .3-1.3-1-.9-.9 .4zM276.6 43.8l0-1.8-1.8-.6-.8 1.9 .1 0 2.5 .5zM297.3 82.3l-1.9-1.1-.4 .3-.2 1.1 .8 1.4 .1 0 1.2-.2 .3-.4zM246.7 60.9l-.8-1.2-3.3-.3-.2 .1 .7 2.8 2.8 1zM287.2 71.3l.1 0 1.7-.3-.1-1.5-1.2-.4-.8 1.1zM264 39.4l1.8-.6 .2-.8-1.1-1.2-1.4 .1-.2 1.7 .1 .4zM207 44.8l.9-.8-.8-4-4.1 .3 0 3.4zM298 56.6l-1.4-.3-.7 .4-.5 1.7 0 .1 1.3 .9 .6-.3 .8-2zM258.6 60.9l.5 1.4 .3 .3 1.8-1.2 .1-.1-.3-.7-.9-.4zM284.8 91l.8-.1 1.1-.1 .3-1.3-.1-.2-1.3-.2zM272.4 45.8l2.2 .2 .1-.1-.6-2.6-.1 0-.2 0-.4 .2zM254 41.4l.8 1.3 1.2-.3 .3-1.7-1.3-.9-.4 0-.5 .5zM265.3 59.7l-.5-.6-1.7 .3 .2 1.8 1 0zM279.5 83.3l-1.2 1.6 .6 .5 1.7-.4 .3-.6-.4-.8zM294.4 46.3l.3-.9-.8-1.4-.8 .2-.8 1.8 .3 .3zM265.3 85.5l-1 .6-.4 .9 .7 .8 1.1-.2 .4-1zM247.5 50.3l-2.9-.9-.6 2.2 1.9 1.6 1.8-1.9zM272 61.3l0-1-.5-.4-1.6 0-.5 1.4 .5 .8zM293.9 62.4l-.7-.9-1.6 .6 1 1.9 1-.4zM220 72.5l-.4-2.5-2.3-.8-3.8 1.5 .3 2.1 2.1 2zM307.4 49.3l-.1-1.3-1.6-.3-.6 1.4 .1 .4 1.4 .3zM307.3 48l.9-.7-.2-.9-1.5-.6-1 1.5 .2 .4zM233.3 82.6l-2.4-2.7-1 0-2 2.6 3.1 3.3 .2 .1 1.2 .1 .1 0 .2-1.4 .2 .1zM267.3 54.2l1.4 .8 .3-.1 .5-1.6-.3-.5-1.1-.3-.4 .1zM318.2 51.4l-1 .2-.3 1.4 .9-.3 1-.6 .2-.1zM255 71.5l-.4-1.4-1.8 .5 0 .5 1.6 1.2zM304.4 75.1l-1.4 .7 .8 1.4 1.4 .3 .7-1.7zM277.9 56l-.4-1-.3-.1-1.8 1.2 1.5 1.5 .1 0zM289.9 76.1l-.3-1.4-1-.2-1 1.7 1.2 .8zM240 31.9l1.6 2.2 1.8-.5 .5-2.4-.8 0-1-.2-1.1-.1-.6-.1zM280 89.2l0 .7 1.4 1.4 1.3-1-1-1.5zM294.8 65.7l.4-1.6-1.6-.5-1 .4-.2 .5 .4 1.1zM247.7 38l-2.1 2.7 2.1 1.8 .4 0 1.5-1.1 0-1.9-.9-1.2zM273.8 43.3l-1.4-1.9-.6 .1-.8 1.6 .1 .2 2.3 .2zM277.5 46.2l.8 .3 1.2-1.1-.2-.6-1.6-.8-.3 .1zM311.6 74.4l-.3-1.1-.1-.1-1.5-.1-.2 1.7 .7 .5zM255.6 78.3l-.6 1.6 .1 .5 .6 .4 1.3-.4 .3-1.2-.7-1.1zM283.8 68.7l-.6 1 .2 .7 1.8 .2 .5-.6-.3-1.3zM267.4 94l.5 1 .7-.5 1.1-.6 .1 0-.3-1.7-1.5-.1zM273 85l1.2-1.3-.2-.4-2.1-.6-.6 .6 0 .5 .9 1.3zM236.1 39.2l.1-2.5-2-1.1-1.2 .3-1.1 2.3 2.3 2.5zM281.7 59l-.8 1.6 1.2 1.1 .6-.4 .3-1.5-.8-.8zM309.2 64.4l.5-1.8-.4-.3-2 .8-.2 1.3 .2 .3 .3 .1zM289.3 82.4l.4 .1 .7-.4 0-2.1-2.1 .3-.4 .4zM248.7 67.7l.1 .4 2.1 1 .9-.8-.1-1-.6-.3-2.2 .6zM265 81.2l-1.5-.6-.6 1.3 .2 .8 .8 .6 .3 0 .9-1.1zM268.4 89.6l1.2 .7 .8-.6-.1-1.1-1.4-.6zM276.3 36.3l1.2-.6 .4-.8-.2 0-.9-.2-.8-.2-.6 .3-.4 .2 .3 .8zM271.7 76.9l-1-.6-1.2 .2-.6 .6 .4 1.6 .2 .1 2.3-1.1zM289.5 67.8l.1 1.1 1.2 .3 .9-.5 0-.1-.6-1.7-.2-.1zM293.4 79.4l2.2-.1 .2-1.2-1.7-1-.2 .1-.8 1.3zM226.2 72l-1.3 1.3 0 4.1 3.2 .2 2.1-3.3-1.2-2.1zM212.4 40.9l-1.5 3.2 1.2 1.5 2.8 0 1.9-2.8-.3-.9zM293.5 48.7l-.3 0-.7 2.5 .5 .4 1.7-1.2 0-.8zM259.7 44.9l1.9-.4 .3-.6-.4-.9-1.7-.3-.2 .2-.1 1.9zM277.6 73.7l.3 .3 1.1 .3 .1-.1 .5-.8-.5-2.2-.3-.2-1.3 1.2zM273.9 72.6l-.1-.3-1.9-.1-.1 1.9 .6 .3 1.1-.5zM266.8 52.2l-1.1 .6 0 1.4 .9 .4 .7-.4 .4-1.6zM308.2 66.6l0 .1 1.2-.2 .7-1.2-.9-.9-1.6 .4zM202.3 52.3l2.1 2 3.4-1-.1-3.6-1.1-1-2.6 .4zM267.7 87.6l-1.2 1-.1 1 1.3 .4 .7-.4 .5-1.6zM249.4 63.3l-.6 .8 .6 .7 1.7 .3 .7-.4 .2-1.1-.2-.6zM252.1 87.7l-.9 .9 0 .6 1.4 1.1 .9-.2 .4-.5 .1-.3-1.8-1.6zM259 54.8l-.4 .3-.5 1.6 .5 .6 2-.5 .1-.1-.4-1zM297 76.3l0 .2 2.3 .4 .4-1.5-.7-.5-1.6 .5zM261.2 83.5l-.6-.3-1.3 1.4 0 .6 1 .7 1.4-.9zM276.6 43.8l-2.5-.5 .6 2.6 .9-.3zM285.4 83.8l.1-1.2-1.2-.6-.9 1.2 1.1 1.1zM273.5 89.4l.8 .6 1.6-.9 0-.3-.7-.6-1.5 0zM273.1 87.5l-1.2 .9 .3 1.5 1.3-.5 .2-1.2-.6-.7zM261.9 95l.9 1.5 .6-.1 1-1.4-.9-1.2zM302.9 86.1l1.5-1.1 .1-.5 0-.3-1.4-.8-1.1 1.1 .1 1.1zM280.2 38.6l-1.1-1.2-.8 .1-.7 1 0 .1 1.3 .9 1.1-.3zM268.9 88l.7-1.6-1.8-.7-.6 .9 .5 1 1.2 .4zM253.5 65.9l.1 .1 1.7 .3 .4-.4 0-1.7-1-.8-.4 .3zM267.3 82.9l-.6-.6-1.6-.1-.9 1.1 1.4 1.2 1.8-.5 .1-.1zM278.9 39.5l-.3 1.4 1 .4 1-1-.6-1.1zM278.5 42.9l1.6-.2-.5-1.4-1-.4-.8 .4zM299.6 84.7l1.1-.8 .2-1.6-1.2-.4-.8 1.7 .7 1.1zM288.9 69.5l.1 1.5 .3 .2 1.4-.1 .2-.2-.1-1.7-1.2-.3zM287.7 58.6l-1.3 .2 .3 1.6 1.4 .3 .4-.8zM288 87.6l.1-1.8-1.8-.3-.9 .9 0 .2 .1 .2 2.4 .9zM302.9 86.1l.3 1.2 1.2 .4-.2-.6 .1-1.3 .1-.8zM315.5 49.2l-.3-.9-1.8 0 .1 1.4 1 .7zM276.6 42l0 1.8 .8 .3 .3-.1 .8-1.1-.7-1.6-.3-.1zM313.7 56.9l-1 .7-.2 1.3 .3 .2 1.5 .1 .3-1.6zM264.3 86.1l-1.3-1.1-.8 .3 .2 2 1.5-.3zM304.1 53l-1.2 .7 0 .7 .9 .7 1.6-.9zM307.9 73l-2-.6-.3 1.3 .7 .8 1.4-.6zM287.2 44.8l-.2 .7 .7 1.4 .3 .1 1-.9-.7-1.7zM269.3 48.4l.9 1.1 .8-.1 .4-.6-.1-1.1-1.6-.5zM290 89l-.4-.1-1.2 1.3 .1 .2 .3-.1 1.3-.1 .6-.1zM207.9 74.1l.3 .2 .4 .6 2.2 .4 3-2.5-.3-2.1-.1-.1-3.9 .3zM300.9 73.4l.1 .2 1.6 .6 .9-1.2 0-.6-.3-.3-.8-.4zM202.7 68.6l-.3 1 .3 .8 1.1 .3 1.1 .4 .2 .3 .4-2.4-.4-.5zM285.5 86.8l-.1-.2-1.6 .5-.3 .5 .5 1.2 1.5 .1zM262.7 32.8l1.2 .9 1.2-1.3-.4 0-1 0-1 0zM303.8 89.8l1.7 .6-.3-.6-.7-1.5-.1-.4zM257.8 89.1l1.2-1.3-.7-.7-1.4 .2 .1 1.5z"/>
<path fill="#086fc7" stroke="#086fc7" d="M256 42.4l-1.2 .3-.8 1.2 .7 1.1 1.7 .2 .7-2.1zM276.1 81.7l.1-.2-.2-1.8-1.1-.3-.7 .4-.1 1.4 .2 .2zM223.4 30.5l1.1 .5 3.5-2.1-.2-.1-1-.2-1-.2-1-.2-1-.2-1-.2-.1 0zM311.6 66.8l-.2 .6 .4 .9 .8 .4 1-.3 .3-1.4-.3-.7-.7-.2zM285.2 77.4l.7-.5-1.4-1.9-.8-.1-.6 1.9zM248.1 42.5l-.4 0-2.3 3.7 2.5 .8 1.4-1 .5-1.2zM217.8 28.4l-4 .3-.8 1.2 1.3 3.2 4.6-.1 .1-.3zM217.5 40.1l-1.3-2.6-2.4-.4-1.6 3.2 .2 .6 4.1 1zM270.6 91.9l1.3-1.5-1.5-.7-.8 .6 0 1.7zM230.2 32.7l3.2-1.4 .3-1.4-.8-.2-1-.1-1.1-.2-1-.2-1-.2-.1 0zM274.3 90l0 1.2 .2 .1 1.9-.2 .4-.9-.9-1.1zM251.9 45.4l-1.5-.6-.6 0-.5 1.2 1.5 1.6 1.3-.6 .2-.6zM224.5 31l-1.1-.5-4.4 2.2-.1 .3 .2 1 1.5 1.3 3.7 .2 1.2-1zM302.2 69.5l-.6 .5 0 .7 .8 1 .8 .4 1-1.7-.3-.6zM319.6 39.1l1 .4 1.3-1.2-1.3-1-.6 .1zM322.3 32.5l.9-1.1-.3-1.1-.2-.1-1.6 .5-.2 .9 0 .2zM245.8 55.5l.2-.4-.1-1.9-1.9-1.6-1.7 .7 .4 2.9 1.1 .6zM310.2 75.3l-.7-.5-1.2 .3-.4 1.1 .3 .8 1 .2 .8-1.1 .3 0zM258.6 57.3l-.5-.6-1.3 .2-.1 1.8 1.6 0 .1 0zM294.9 89.4l-.3-.1-1.8 1.2 .3 .1 .8 1.3 .9 .1zM236.6 55.9l.8-1.2-1.2-3-.9-.1-2.9 2.5 .8 1.4zM297 64.3l.9-1.1-.7-1.3-1.6 .4 0 1.6zM220.3 44.7l-3.5-1.9-1.9 2.8 1.5 2.5 1.9 .4zM313.8 56.3l-1.1-1-.9-.1-.1 1.6 1 .8 1-.7zM306.5 45.8l-.1-.6-.4 .1-1 .1-.4 .1-.1 1.3 1 .5zM292.7 70.3l-.3 .5 .5 1.6 .8 .2 1-1.6-1.1-1zM306.5 106.3l.2-.1 1-.3 .6-.5-.8-.9 0 .4-.9 .5-.5 .2zM294.9 89.4l-.1 2.6 .2 0 .9-.8 .8-.8-.7-1zM290.8 60.2l.5-.3 1.1-2-.5-.3-2 .4 .2 1.6 .7 .6zM305.5 54.2l.2-.1 .6-1.4-.4-.8-.6-.3-1.2 .7 0 .7 1.3 1.2zM209.1 25l-.5 .2-.2 1.2-.8-.2-.8-.3-.7-.5-.7-.6-.1 1.3-.1 1.3 0 1.1 0 .7 3.1 .8zM249.4 87.8l1.8 .8 .9-.9-.6-1.3-1.2 0zM307.1 64.4l-2.1-.3-.4 .3 1.1 2.3 1.6-2zM319.6 46.2l.5-.9-.3-.7-2.2 0-.2 .7 .3 .9 .5 .3zM293.7 72.6l-.8-.2-1 .4-.2 1.8 .5 .5 1.2-.5 .7-1.4zM254.8 88.5l-.8 .8-.1 .3 1.8 1.2 .5-.1 .2-1.5zM290.1 73.1l-.2 1.3 1.8 .2 .2-1.8-.7-.2zM240.4 42.8l1.1-1.5-.9-2.3-.6-.1-1.6 .9-.2 2.6zM302.6 94l.5-.6-.1-.7-1.4-.9-.2 0-.4 1.1 .4 .3-.1 1.1zM243.4 33.6l-1.8 .5-.2 .5 1 3.2 1 .1 1.8-1.9-.1-1.4zM256.3 99.2l0 .7 .8 .8 1.1 .1 .3-2-.4-.6-.8 .1zM320.9 40.1l-.5 1.1 1.1 1 1.2-.4-.4-1.4zM282.4 45.9l-1.2-.2-.5 .4-.1 .4 .9 1.1 1.3-.2zM281.7 88.8l1 1.5 .3 0 1-1.5-.5-1.2-1.6 .4zM290.8 69.2l.1 1.7 1.5-.1 .3-.5-1-1.6zM208.6 31.7l1.6 3.1 2.5 .4 1.6-2.1-1.3-3.2-4.2 .9zM322.9 30.3l.3 1.1 1.1 .4 1-.8-.2-.4-.4-1.2-.1 0zM287 67.9l.7 1.2 1.2 .4 .7-.6-.1-1.1-1.2-1.1-.8 .4zM311.7 56.8l-1.1 .6-.1 1.2 .4 .5 1.6-.2 .2-1.3zM280.9 48.9l.6-1.3-.9-1.1-1.6 1.4 0 .1 .9 .9zM251.9 49.3l.1 .4 1.7 .7 .5-1.4-.5-.6-.9-.1zM285.6 89.1l-.1-.2-1.5-.1-1 1.5 .9 .8 .3-.1 .6 0zM297.2 65.1l-.2-.8-1.4-.4-.4 .2-.4 1.6 .8 1.2 .2 .1zM271.1 43.3l-.3 1.8 1.5 .8 .1-.1 1-2.3zM281 75.2l-1.9-1-.1 .1-.3 2.1 1.1 .4 1.3-1.1zM310.1 43.4l.7-.4-.3-1.7-.3-.2-.4 .7-.9 1-.2 .3zM322.7 41.8l-1.2 .4-.5 1.2 1.2 1 .4-.1-.3-.3 .2-.9 .3-1.2zM300 71.5l0 1.3 .9 .6 1.5-1.7-.8-1zM317.2 51.6l1-.2 .3-1.4-.9-.8-.7 .4-.3 1.4zM296.9 74l-1.3 .4-.3 1.1 1.7 .8 .4-.9zM294.7 71l.6-.2 .3-.5-.4-1.3-1.3 0-.3 1zM282.3 49.7l.7-.9-.2-1.4-1.3 .2-.6 1.3 1 .9zM316.9 49.6l.7-.4 .1-.4-1.3-1.3-.7 0-.5 .8 .3 .9zM308.8 61.1l-1.7 .2-.3 1.2 .5 .6 2-.8zM296.4 86.3l-.8-.8-1.1 .7-.2 .9 .2 .3 1.8-.2zM305.2 49.5l-.3 .7 .4 1.4 .6 .3 1-.9-.3-1.2zM253.1 55.4l1.7 .7 .6-1.7-.6-.7-1.2-.1-.5 1.7zM255.1 85.2l1.5 .2 .2-.2 .3-1-1.4-.8-1.1 1.2zM283.7 74.9l-2.2-.2-.5 .5 .1 .5 1.2 1.3 .7-.1 .1-.1zM291.2 72.6l.7 .2 1-.4-.5-1.6-1.5 .1-.2 .2zM302.7 90.1l-.8-.8-1.5 .4 .2 1.6 .8 .5 .2 0zM327.2 34.6l-.4-1-.9-.7-.1-.1-.9 .9 0 .1zM265.8 90.6l-1.1 .5-.2 1.5 1.1 .4 1-1.1zM303.2 50.6l-.4 .7 1.3 1 1.2-.7-.4-1.4zM306.2 67.3l-.5-.6-2 .4 0 .6 .8 1 1.1 0 .6-.9zM288.1 43.1l.5-1.2-1.3-1-.5 .2-.5 1.5zM286.4 65.9l.3-1.3-.7-.6-1.6 .8 0 .1 1 1.2zM326.7 36.9l-.8 1.3 .3 .6 .4-.3 .5-.6 .5-.6 .1 0zM318.5 50l-.3 1.4 .8 .6 .9-.5 .4-.4-.8-1.1zM279.2 56.5l.7-1-1.4-1.5-1 1 .4 1zM322.9 48.2l-2 .4 .6 1.2 .3 0 .6-.9 .8 .1 .3-.1z"/>
<path fill="#0865c0" stroke="#0865c0" d="M258.2 100.8l.1 0 1.4 0 .8-1.5-.1-.2-1.9-.3zM240.3 46.3l.1 1.4 .8 .7 3 .2 1.2-2.4-1.8-1.6-2.4 .4zM271.9 90.4l1 1.1 1.4-.3 0-1.2-.8-.6-1.3 .5zM224.3 35.5l-3.7-.2-.2 4.1 .9 .7 3.3-.8zM217.8 28.4l1.2 4.3 4.4-2.2-.7-2.7-1-.2-1-.2-1-.3-1-.2-.1 0zM210.2 34.8l-1.6-3.1-4.5 2.6 0 .2-.2 .6 4.2 2.7zM202.1 47.5l.3-3.3-1.9-.2 0 .7-.3 .7-.2 1.2-.2 1.2-.4 .4zM306.8 101.5l.1-.9-.7-.6-1.3 .8 .6 1.3 .4 .5zM313.4 48.3l-.3-.4-1.6 .2-.2 .5 1 1.6 1.2-.5zM212.4 40.9l-.2-.6-4-1.8-1.1 1.5 .8 4 3 .1zM320.9 48.6l2-.4-.1-1.5-.9-.3-1.4 1.3-.1 .6zM318.5 48.1l-.8 .7-.1 .4 .9 .8 1 0 .9-1.7zM296.1 67.4l2.3-.1 .3-.5-.4-1.2-1.1-.5-1.4 1.9zM303.2 87.3l-1.2 1-.1 1 .8 .8 .2 0 .9-.3 .6-1.9 0-.2zM299.9 58l.2 .4 .3 .1 2-.5-.5-1.6-.3-.2-.8 .2zM301.6 70l-1.7-1-.9 .2 .3 1.9 .7 .4 1.6-.8zM298.7 69.1l-.3-1.8-2.3 .1 0 .4 1.4 1.7zM302 64l-.4 1 1.4 1 1.5-1.6-1.3-1zM299.3 71.1l-1 .4-.1 1.6 .5 .2 1.3-.5 0-1.3zM315.5 55.3l-.9-1.4-.6 0-1.3 1.4 1.1 1zM208.2 38.5l-.1-.7-4.2-2.7-.2 .4-.4 1.1-.6 1.5-.5 1.3 .8 .9 4.1-.3zM318 39.1l-.3-1-.9 .3-1 .2-.1 0 .2 .7 1.3 .5zM307.3 64.7l-1.6 2 .5 .6 2-.7-.6-1.8zM306.9 100.6l1.2-.4 .2-2-.3-.2-1.7 .4-.4 .8 .3 .8zM308.3 98.2l1.5-.1-.4-.7-.5-1.2-.4-.8-.6 1 .1 1.6zM297.5 71.1l.8 .4 1-.4-.3-1.9-.3-.1-1.2 .4-.1 .1zM298.9 59.7l.5 1.2 .1 .1 1.8-.7-.9-1.8-.3-.1zM313.1 51.9l-.1 1.1 1 .9 .6 0 .7-1.1-.6-1.5zM279 93.6l-1.7 .5 0 .2 .6 .2 1.1 .6 .5-.1zM300.7 67.3l-.3-.5-1.7 0-.3 .5 .3 1.8 .3 .1 .9-.2zM250.9 80l.8 .7 .9-.4 .3-1.1-1.6-.8zM319.5 50l.8 1.1 .3-.2 .7-.6-.4-.6 .6 .1-.6-1.2-.5-.3zM308.1 53.7l-.8 .9 .4 1.2 1.6 .1 .1 0 .4-.7-.4-1.4zM255.9 82l2.2 .4 .2-.3 .1-.8-1.4-.9-1.3 .4zM299.8 62.6l-.5 .6 .5 1.3 1.1 .7 .7-.2 .4-1-.9-1.4zM322.2 34l.3-.7-.2-.8-1.4-.7-.2 1-.3 .7 0 .3zM274.7 93.4l-.2-2.1-.2-.1-1.4 .3-.4 1.6 .1 0 1.3 .3 .7 .2zM236.7 45.7l-3-.8-1.7 3 1.9 .9 2.5-1zM278.6 88.5l-1.1 1.5 1.4 .9 1.1-1 0-.7-.4-.5zM308.4 51.4l.3-1.6-1.3-.5-.8 .5 .3 1.2 1.5 .4zM242.7 55.2l-.4-2.9-1.6-.6-.5 .3-.8 2.3 1.3 1.3zM303.7 67.1l-.6-.7-1.6 1.1 .8 1.5 1.4-1.3zM306.1 105.6l-.3 .2-1.1 .7 1 .1 .8-.3zM234.2 41.7l3.3 1.2 .7-.5 .2-2.6-2.3-.6-1.9 1.5zM321.9 38.3l.1 0 .8-1.1-.1-.5-1.2-.8-.1 0-.8 1.4zM318.5 48.1l-.3-1.6-.5-.3-1.3 1.3 1.3 1.3z"/>
<path fill="#085ab8" stroke="#085ab8" d="M301.1 62.6l.9 1.4 1.2-.6 0-1.1-1.4-.5zM227.8 34.7l-2.3-.2-1.2 1 .3 3.8 2.3 1.7 .8 0 1.6-2.3zM305.7 56.3l-.2-2.1-.1 0-1.6 .9 0 .9 .7 .8 .5 .1zM300.9 65.2l-.5 1.6 .3 .5 .8 .2 1.6-1.1-.1-.4-1.4-1zM233.7 44.9l-.4-2.1-4.3-.1-.1 5 1.6 .6 1.5-.4zM216.2 37.5l2.9-3.5-.2-1-4.6 .1-1.6 2.1 1.1 1.9zM306.9 51l-1 .9 .4 .8 1.1 .1 1-1.4zM297.9 63.2l-.9 1.1 .2 .8 1.1 .5 1.5-1.1-.5-1.3zM308.3 98.2l-.2 2 .8 .3 1.1-1.3 0-.6-.2-.5zM304.5 56.8l-1.4 1.2 1.4 1.5 .9-.2 .2-.5-.6-1.9zM301.3 60.3l-1.8 .7 .3 1.6 1.3 0 .7-.8-.1-1.4zM208.3 30l.5 .8 4.2-.9 .8-1.2-1.5-3.5-.6-.1-1-.3-.9-.3-.4-.1-.2 0-.1 .3 .2 .2-.2 .1zM216.8 42.8l3.5 1.9 1.3-.4-.3-4.2-.9-.7-2.9 .7-1 1.8zM324.1 35.3l.2 0 .6-1.5 0-.1-.4-.5-2 .1-.3 .7 .1 .5zM323.2 46.5l-.4 .2 .1 1.5 .6 .7 .4 0 .6-.1 .9-.3-.2-1.2-.1-.2zM314.6 53.9l.9 1.4 1.5-.7-.1 0-.1-.9-.2-.6 .3-.1-1.6-.2zM308 46.4l.8-1-.5-1-.1 .4-1.1 .2-.7 .2 .1 .6zM321 43.4l-.9 .2-.3 1 .3 .7 1.4 .3 .7-1.2zM306.3 52.7l-.6 1.4 1.6 .5 .8-.9-.7-.9zM303.7 60.4l.8-.9-1.4-1.5-.7 0-.2 2.1zM295.2 69l.9-1.2 0-.4-.3-.4-.2-.1-2.2 .7-.1 .4 .6 1zM322.8 37.2l1.6 .6 .2-.1 .2-1.8-.5-.6-.2 0-1.4 1.4zM301.9 56.4l1.9-.4 0-.9-.9-.7-1.2 .8-.1 1zM310.5 41.3l.3 1.7 1.6 .2 0-1.9-.3-.3zM303.7 97.4l.3-.7-.3-.7-.1 0-2.1 .1 0 .3 .3 .9 .4 .5zM325.9 38.2l-1.3-.5-.2 .1-.6 1.5 .8 .8 .4-.3 .6-.6 .6-.4zM320.4 41.2l.5-1.1-.3-.6-1-.4-.6 .2 .2 2.2zM306.1 60.3l1 1 1.7-.2 .1-.2-.7-1.5-2.1 .7zM303.7 97.4l.4 1.5 1.8 .3 .4-.8-.6-1.5-1.7-.2zM316.6 51l.3-1.4-1.4-.4-1 1.2 .2 .8zM305.5 90.4l-.7 1.4 .5 1 1.4 0 .2-.1-.4-.6-.7-1.1-.3-.6zM304.9 94.6l-.3-.9-1.5-.3-.5 .6 1 2 .1 0zM224.6 39.3l-3.3 .8 .3 4.2 1.6 .6 3.7-3.9zM267.4 94l-1.5-.5-.7 1.6 1.1 1.2 .9-.7 .7-.6zM324.9 33.8l-.6 1.5 .5 .6 1.6 .2 1-1.2-.2-.3zM280.5 92.6l-1 0-.5 1 .5 1.4 .5 0 .9-.2 .5-.3zM318 39.1l1 .2 .6-.2 .4-1.7-.8-.6-.3 .1-.2 1-.9 .2-.1 0zM301.5 67.5l-.8-.2-.8 1.7 1.7 1 .6-.5 .1-.5zM324.8 35.9l-.2 1.8 1.3 .5 .8-1.3-.3-.8zM213.8 37.1l-1.1-1.9-2.5-.4-2.1 3 .1 .7 4 1.8zM322.7 30.2l.2 .1 1.7-.9-1.1-.5-.6 .4-.4 .3zM323 39.4l.8-.1 .6-1.5-1.6-.6-.8 1.1zM305 62.1l.3 .4 1.5 0 .3-1.2-1-1zM304 96.7l1.7 .2 .2-.2 .2-1.7-1.2-.4-1.2 1.4zM305.6 58.8l1.8-1-.4-1.3-1.3-.2-.7 .6zM300.6 91.3l-1 .5 .8 .8 .6 .3 .4-1.1zM310.4 44.5l-.3-1.1-1.4-.3-.1 .1-.3 1.2 .5 1 .7 0zM322.7 30.2l-.2-.6-.1 .1-.9-.5-.3 1.2-.1 .3z"/>
<path fill="#0a4baa" stroke="#0a4baa" d="M317.7 46.2l-.3-.9-1.9 .3-.3 1 .5 .9 .7 0zM318.9 42.3l0-.5-1.8-.9-.3 .2-.4 2 .9 .5zM291.1 66.9l.6 1.7 1.6-.6 .1-.4-.7-1.7zM308.5 58.5l2 .1 .1-1.2-1.2-1.5-.1 0-.9 2.4zM321.5 45.6l-1.4-.3-.5 .9 .9 1.5 1.4-1.3zM282.8 93.8l0-.9-1.7-.9-.6 .6 .9 1.9 .3-.2 .4 .2zM309.5 45.4l-.7 0-.8 1 .2 .9 .8 .4 1.7-.7zM279.1 92.1l.4 .5 1 0 .6-.6 .3-.7-1.4-1.4-1.1 1zM305.4 59.3l.7 .8 2.1-.7 .3-.9-.1-.2-1-.5-1.8 1zM208.6 31.7l.2-.9-.5-.8-3.1-.8 0 .5-.1 .9-.4 1.4-.2 1.4-.4 .9zM320.1 43.6l-1.2-1.3-1.6 1.3 .3 1 2.2 0zM314.5 50.4l-1-.7-1.2 .5-.3 1 1.1 .7 1.6-.6 0-.1zM321.4 35.9l.1 0 .8-1.4-.1-.5-1.8-.2 .1 1.2-.2 .3zM309.8 55.2l2 0 0-1.6-.7-.6-1.7 .8zM276.4 91.1l-1.9 .2 .2 2.1 1.9-.8 .1-.4zM315.2 48.3l.5-.8-.5-.9-1.6 .1-.5 1.2 .3 .4zM309.1 102.7l1 .8 .1-.2 .1-1.7 0-.5-1 .1zM276.6 92.6l.7 1.5 1.7-.5 .5-1-.4-.5-2.4 .1zM306.2 100l-.3-.8-1.8-.3-.6 .7 1.3 1 .1 .2zM318.9 41.8l.3-.3-.2-2.2-1-.2-.8 .7-.1 1.1zM307.9 96.4l.6-1-2-.7-.4 .3-.2 1.7zM315.5 45.6l-.8-1.1-.4-.1-1.1 1.6 .4 .7 1.6-.1zM324.3 31.8l-1.1-.4-.9 1.1 .2 .8 2-.1zM322.2 44.4l-.7 1.2 .4 .8 .9 .3 .4-.2 .3-.9-.7-.3 .1-.8-.3-.2zM306.3 98.4l1.7-.4-.1-1.6-2 .3-.2 .2zM311.9 45.6l-.2-.6-1.3-.5-.9 .9 1.2 1.6 .1 .1zM308.9 100.5l.4 .7 1-.1-.1-1-.2-.9zM323.2 46.5l1.9 .6-.3-1-.6-.4-.5 0-.2-.1zM297.5 69.5l-1.4-1.7-.9 1.2 .4 1.3 1.8-.7z"/>
<path fill="#0a3c9b" stroke="#0a3c9b" d="M312.1 41l.3 .3 2.1-.1 .2-.4 0-.4-1-1.2-.9 .2-.5 .1zM307 56.5l.7-.7-.4-1.2-1.6-.5-.2 .1 .2 2.1zM233 35.9l-2.8-3.2-2.4 2 1.5 4 2.6-.5zM228.7 29l-.7-.1-3.5 2.1 1 3.5 2.3 .2 2.4-2zM311.7 45l.9-1.6-.2-.2-1.6-.2-.7 .4 .3 1.1zM311.3 48.6l.2-.5-.7-1-.1-.1-1.7 .7 .3 1.8 .8 .1zM309.2 51.9l-.8-.5-1 1.4 .7 .9 1.3 .1zM315.7 38.6l-.9 .3-1 .2-.1 .1 1 1.2 1.2-1.1zM309.4 53.8l1.7-.8 0-1.5-.2-.1-1.7 .5 .2 1.9z"/>
<path fill="#08287d" stroke="#08287d" d="M312 51.2l.3-1-1-1.6-1.2 1 .8 1.8 .2 .1zM320.4 48.3l.1-.6-.9-1.5-1.4 .3 .3 1.6 1.9 .2zM231.9 38.2l-2.6 .5-1.6 2.3 1.3 1.7 4.3 .1 .9-1.1 0-1zM276.8 90.2l-.4 .9 .3 1.1 2.4-.1-.2-1.2-1.4-.9zM209.2 24.4l-.2-.1-.2-.1 .3 .5z"/></g>
<use href="#bd" fill="none" stroke="#000" stroke-width=".62" stroke-opacity=".9"/>
<use href="#ol" fill="none" stroke="#000" stroke-width=".5" stroke-opacity=".75"/>
<g><rect x="345.1" y="13.3" width="5.3" height="104.5" fill="url(#cb)" stroke="#333" stroke-width=".3"/><path d="M350.4 117.80h1.2" stroke="#333" stroke-width=".3"/><text x="352.9" y="119.80" font-size="2.9">0</text><path d="M350.4 96.90h1.2" stroke="#333" stroke-width=".3"/><text x="352.9" y="98.90" font-size="2.9">20</text><path d="M350.4 76.00h1.2" stroke="#333" stroke-width=".3"/><text x="352.9" y="78.00" font-size="2.9">40</text><path d="M350.4 55.10h1.2" stroke="#333" stroke-width=".3"/><text x="352.9" y="57.10" font-size="2.9">60</text><path d="M350.4 34.20h1.2" stroke="#333" stroke-width=".3"/><text x="352.9" y="36.20" font-size="2.9">80</text><path d="M350.4 13.30h1.2" stroke="#333" stroke-width=".3"/><text x="352.9" y="15.30" font-size="2.9">100</text></g>
<text x="264.4" y="18.2" font-size="3.8" text-anchor="middle" fill="#222">Commercial</text>
</g>
<g transform="translate(182 127)">
<g stroke-width=".2" stroke-linejoin="round"><path fill="#f3f9fe" stroke="#f3f9fe" d="M263.9 43.3l-2 .6-.3 .6 .8 1.4 .7 .1 1.4-1.9 0-.1zM283.4 56.8l-.1-.1-1.5-.4-1.1 1.4 .1 .5 .9 .8 .5 0 1.2-1.5zM264 39.4l1.8-.6 .2-.8-1.1-1.2-1.4 .1-.2 1.7 .1 .4zM289 52.5l1.4 .8 .7-2.3-.7-.7-.2 0-1.1 .5zM294.4 46.3l.3-.9-.8-1.4-.8 .2-.8 1.8 .3 .3zM266.8 44.7l-.7-1.2-1.6 .5 0 .1 .9 1.5 .9 0zM265.8 38.8l.4 .5 1.4 .3 .7-1.8-.5-1-1.8 1.2zM279 59.3l1.8-1.1-.1-.5-1.4-.8-.8 1.1zM265.6 47.6l-.5 1.5 1.3 1.1 1-.5 .3-.8-.7-1.4zM294.1 43.8l-.2 .2 .8 1.4 1.2-.2-.1-.2-.3-1.1-.3-.6zM290.5 56l1.1-.1 .6-.6-.2-1.3-1.6-.6-1 1.4zM266.6 42.7l-.5 .8 .7 1.2 1.3 0 .4-.4 0-.6-.6-.8zM294.7 45.4l-.3 .9 .5 .9 0 .1 1.3-.7-.1-.5-.2-.9zM293.4 41.9l.7-.5-.6-.4-1.1-.6-.2-.5-.5 1.6 .4 .3zM259.7 44.9l1.9-.4 .3-.6-.4-.9-1.7-.3-.2 .2-.1 1.9zM284.5 56.6l1.3 .8 1.4-1.3-.1-.2-1.9-.7zM268.2 40.6l.1-.2-.7-.8-1.4-.3-.2 2.2 .2 .1zM271.4 51.7l.5-.9-.9-1.4-.8 .1-.7 1 .7 1zM268.1 52.5l.3-1.9-1-.9-1 .5-.1 .4 .5 1.6 .9 .4zM264.4 55.9l.6-1.5-1.4-1-.9 1.1 .1 .5zM258 42.5l.4-1.6-.8-.8-1.3 .6-.3 1.7 1.1 .7 .1 0zM266 41.5l-1.8-.1-.3 .3 0 1.6 .6 .7 1.6-.5 .5-.8-.4-1.1zM259.4 37.6l1.5-.3 .2-.5-.2-1-1-.7-1.4 1.3zM265.4 45.6l-.7 1.3 .9 .7 1.4-.1 .3-.6-1-1.3zM264.8 51.3l1.5-.7 .1-.4-1.3-1.1-.7 .2-.8 1.2 0 .2zM265.5 35.4l-.1-.4-1.4-.5-.8 .7 .1 1.4 .2 .3 1.4-.1zM266 38l1.8-1.2 0-.1 0-.2-2.3-1.1-.6 1.4zM264.7 46.9l-.7 0-.5 1.2 .9 1.2 .7-.2 .5-1.5zM264.5 44.1l-1.4 1.9 .9 .9 .7 0 .7-1.3zM272.8 52.8l.3 1 1.9-.2 .2-.2-1.2-1.8-.1 0zM267.3 46.9l.6-.3 .2-1.9-1.3 0-.5 .9zM261 33.4l-.4-1.1-1 0-.1 0-.8 1.4 1 .7zM270.2 36.1l-.6-2-1.6 .5-.2 1.9 0 .2zM293.4 41.9l.7 1.9 1.1-.5-.1-.5-.4-1.1-.6-.3zM269 54.9l1.4 .8 .7-.3 .3-.8-.5-1.1-1.4-.2zM266.8 52.2l-.5-1.6-1.5 .7 .1 1.1 .8 .4zM268.3 37.8l-.7 1.8 .7 .8 1.2-.6 0-1.4zM262.7 32.8l1.2 .9 1.2-1.3-.4 0-1 0-1 0zM267.4 34.1l0-1.2-1.3-.5-.4 0-.1 0 .3 2z"/>
<path fill="#e6f3fc" stroke="#e6f3fc" d="M268.4 57.1l.3 .1 1.4-.6 .3-.9-1.4-.8-.3 .1-.7 1.4zM257.4 36.9l-.2 1.6 .5 .5 1.4-.5 .3-.9-.9-1.2-.2 0zM290.5 56l-1.1-1.2-.1 0-1.5 1.5 .8 1.1 1 .2zM259.6 42.9l.2-.2 .2-1.6-.2-.3-1.4 .1-.4 1.6zM250.9 69.1l.2 1 1.5 .3 .2-1.4-1-.7zM268.5 43.7l1.8-.9-.5-1-1.2-.3-.7 1.4zM269.6 34.1l.2-.4-.2 .1-.9-.4-.9-.3-.1-.4-.3 .2 0 1.2 .6 .5zM288.5 50.7l-1.4 .7-.2 .4 .8 1.3 1.3-.6 .1-1.7zM264 39.4l.2 2 1.8 .1 .2-2.2-.4-.5zM270.2 45.4l-1.7-1.1-.4 .4-.2 1.9 1.7 .2zM261.9 41.4l0 .1-.4 1.5 .4 .9 2-.6 0-1.6zM287.7 58.6l.9-1.2-.8-1.1-.6-.2-1.4 1.3 .2 1.2 .4 .2zM276.3 36.3l1.2-.6 .4-.8-.2 0-.9-.2-.8-.2-.6 .3-.4 .2 .3 .8zM270.9 37.8l.8 1.4 .4 0 1.8-1.5-.1-.3-.1-.1-2.6-.5zM265.5 35.4l2.3 1.1 .2-1.9-.6-.5-1.5 .3-.5 .6zM275.3 58.5l1.4-.5 .2-.4-1.5-1.5-.2-.1-.9 1.7zM289.3 48.3l.9 2 .2 0 1.5-1.8-1.4-1.1zM258.7 33.7l.8-1.4-1 0-1-.1-.1 0 .2 1.1 .5 .4zM294.8 54.2l-1.9-1-.9 .8 .2 1.3 1.7 .6 .1 0zM271.9 50.8l-.5 .9 .2 .4 1.2 .7 1.1-1.2-1.1-1zM287.7 53.1l-.1 .3 1.7 1.4 .1 0 1-1.4 0-.1-1.4-.8zM268.7 55l-1.4-.8-.7 .4-.1 1.5 1.5 .3zM266.4 56.1l.1 0 .1-1.5-.9-.4-.7 .2-.6 1.5 .1 .2zM286 58.6l-.2-1.2-1.3-.8-1.1 .2 0 .7 1.5 1.7zM293.5 48.7l1.2 .9 1.2-.6 .1-.5-1.1-1.2 0-.1zM263.6 50.5l.8-1.2-.9-1.2-1.2 .4-.3 .6zM263.5 36.9l-.2-.3-2.2 .2-.2 .5 .4 .7 2 .6zM283 59.8l-.3 1.5 2.4 .4-.5-2zM287.6 49.1l-.5 0-.7 .8 .7 1.5 1.4-.7zM269.2 52.8l1-1.3-.7-1-1.1 .1-.3 1.9zM267 58.3l1.4-1.2-.4-.7-1.5-.3-.1 0-.1 1.5z"/>
<path fill="#d7edfa" stroke="#d7edfa" d="M271.1 55.4l1.3 1.1 1.2-.9-.6-1.6-1.6 .6zM296.6 56.3l-.3-1.5-1.1-.7-.4 .1-.8 1.7 1.9 .8zM262 39.9l-.1 1.5 2 .3 .3-.3-.2-2-.6-.4zM263.3 36.6l-.1-1.4-1.1-.4-1.2 1 .2 1zM265.4 35l.5-.6-.3-2-.5 0-1.2 1.3 .1 .8zM259.9 35.1l1 .7 1.2-1-.4-1.1-.7-.3-1.3 1zM295.2 54.1l.3-1.1-.6-.2-.2-.6-1.6-.4-.2 1.4 1.9 1zM263.5 48.1l.5-1.2-.9-.9-.7-.1-.8 .9 .7 1.7zM257.1 46.5l1.3 1.1 1.3-1.8 0-.9-.2-.1-.7 0-1.8 1.2zM287.1 53.9l0 2 .1 .2 .6 .2 1.5-1.5-1.7-1.4zM264.8 57.9l1.5-.3 .1-1.5-1.9 0-.3 1zM269.5 50.5l.7-1-.9-1.1-1.6 .5-.3 .8 1 .9zM290.2 43.9l.2-2.1-.5-.3-1.3 .4-.5 1.2 .4 1zM293.5 48.7l-.3 0-.7 2.5 .5 .4 1.7-1.2 0-.8zM270.9 53.5l.5 1.1 1.6-.6 .1-.2-.3-1-1.2-.7zM291.9 48.5l.8-.1-.1-2.1-.3-.3-1.4-.1-.3 .3-.1 1.2zM271 36.5l-.8-.4-2.4 .6 0 .1 .5 1 1.2 .6 1.4-.6 .2-1zM284.7 38.5l.6-1.4-.2-1-2 .6 .1 1.6 .7 .4zM275 53.6l-1.9 .2-.1 .2 .6 1.6 1.4 .3zM280.9 60.6l-1.6 .2 .3 2 1.5 .4 .9-.8 .1-.7zM294.7 49.6l0 .8 .7 .5 .1-.1 .4-.6 0-1.2zM267.4 32.9l.3-.2-.1-.4-.2-.9-.6-.2 0 1.2-.7 0zM294.9 47.3l1.1 1.2 .3-1.2-.1-.7zM263.6 50.7l0-.2-1.6-1.4-1 .4-.2 .9 1.8 1.4zM251.2 74.2l-1-1.4-2.3 1.6 .7 .9 2 .2zM269.6 46.8l-1.7-.2-.6 .3-.3 .6 .7 1.4 1.6-.5 .4-1.2zM255.1 85.2l1.5 .2 .2-.2 .3-1-1.4-.8-1.1 1.2zM283.5 54.5l-2-.4-.4 1.1 .7 1.1 1.5 .4zM257.1 43.1l-.7 2.1 .6 .8 1.8-1.2-1.6-1.7zM285.6 52l-.3 .4 .2 1.4 1.6 .1 .5-.5 .1-.3-.8-1.3zM255.3 49l-1.1 0-.5 1.4 .2 .8 .6 0 1.2-1zM265 54.4l.7-.2 0-1.4-.8-.4-1.3 .9 0 .1z"/>
<path fill="#c6e5f7" stroke="#c6e5f7" d="M272.4 56.5l-1.3-1.1-.7 .3-.3 .9 .8 1.3 .4 .1 1.2-.6zM273.8 37.4l.1 .3 .8 .7 .3 0 1.2-.6 .1-1.5-1-.5zM265.3 59.7l-.5-.6-1.7 .3 .2 1.8 1 0zM291.1 51l1.4 .2 .7-2.5-.5-.3-.8 .1-1.5 1.8zM252.6 77l-.1-.9-1.5-.1-.7 1.8 1 .6zM290.8 60.2l-.7-.6-1.6 .3-.4 .8 .1 .5 1.1 .5zM267.3 54.2l1.4 .8 .3-.1 .5-1.6-.3-.5-1.1-.3-.4 .1zM277.9 56l-.4-1-.3-.1-1.8 1.2 1.5 1.5 .1 0zM278.6 53.8l-.8-1.2-1.9 .4-.2 .2 1.5 1.7 .3 .1 1-1zM257.4 32.2l-.9 0-1.1-.1-.5 0-.1 .2 1.4 1.4 1.4-.4zM290.4 53.4l1.6 .6 .9-.8 .2-1.4-.1-.2-.5-.4-1.4-.2-.7 2.3zM284.6 59.7l.5 2 .4 .1 1.2-1.4-.3-1.6-.4-.2-1.1 .6zM281.7 59l-.8 1.6 1.2 1.1 .6-.4 .3-1.5-.8-.8zM278.6 53.8l-.1 .2 1.4 1.5 1.2-.3 .4-1.1-.2-.8-.9-.4zM263.3 38.6l-2-.6-.4 1.4 1.1 .5 1.4-.9zM268.6 41.5l-.4-.9-2 1 .4 1.1 1.3 .2zM268 61.1l-.2-1.7-.7-.4-1.1 .8 .6 1.8 .4 .2zM252.8 70.6l-.2-.2-1.5-.3-1.2 1.1 .4 1.3 1.7-.3 .8-1.1zM276 40.1l-1-1.7-.3 0-.9 2 1 .9zM285 54.3l-1.1-.1-.4 .3-.2 2.2 .1 .1 1.1-.2 .7-1.4zM274.3 57.7l.9-1.7-.2-.1-1.4-.3-1.2 .9 .1 .9 .9 .6zM283.4 52.2l.5 2 1.1 .1 .5-.5-.2-1.4zM313.4 72.6l-2.1 .7 .3 1.1 .5 .4 .2-.3 .6-1.3 .7-.1zM269.4 61.3l.5-1.4-.6-.9-1.5 .4 .2 1.7zM281.3 53.3l.2 .8 2 .4 .4-.3-.5-2-.1-.1-1 .1zM252.8 69l-.2 1.4 .2 .2 1.8-.5 .5-.9-.4-.5-.9-.3zM269.6 34.1l.6 2 .8 .4 1.1-1.5-.1-1.3-.6-.3-.9 .2-.7 .1zM293.9 55.9l-1.7-.6-.6 .6 .3 1.7 .5 .3 .4 .1 .7-.6zM257.2 38.5l-.9 0-1.3 1.3 1.3 .9 1.3-.6 .1-1.1zM255.3 49l.4 1.2 1 .3 .6-1.5-1.5-.5zM289.5 39.8l1.5-.3-.2-.2-.1-.6-.5-.1-.4 .2-.6-.5 0-.1 .3 1.5zM274.4 34.9l-.3-.2-.7-.3-1-.5-.4-.2 .1 1.3 1.2 .5zM279.3 56.9l1.4 .8 1.1-1.4-.7-1.1-1.2 .3-.7 1zM269.3 48.4l.9 1.1 .8-.1 .4-.6-.1-1.1-1.6-.5zM260.9 37.3l-1.5 .3-.3 .9 1 1.2 .8-.3 .4-1.4z"/>
<path fill="#b6def4" stroke="#b6def4" d="M288.6 41.9l1.3-.4-.4-1.7 0-.1-2 .5-.2 .7zM273.7 37.3l-.4-1.8-1.2-.5-1.1 1.5 .1 .3zM292.2 43.6l.9 .6 .8-.2 .2-.2-.7-1.9-1.3-.1zM311.6 66.8l-.2 .6 .4 .9 .8 .4 1-.3 .3-1.4-.3-.7-.7-.2zM305.2 77.5l-1.4-.3-.6 .9 .5 1.7 1.8-1.1 .1-.6zM255.6 78.3l1-.2 .5-.7-.8-1.7-1.5 1-.1 .7zM249.6 59.3l3 .3-.2-2.1-.1-.1-.7-.1-2 1.8zM289.9 58l-.3-.4-1-.2-.9 1.2 .8 1.3 1.6-.3zM254.4 34.9l-.3 .4 1.3 1.7 .9-.5 0-1.2-.5-.5zM258.6 60.9l.5 1.4 .3 .3 1.8-1.2 .1-.1-.3-.7-.9-.4zM255 79.9l.6-1.6-.9-.9-1 .3-.5 1.3zM281.7 59l-.9-.8-1.8 1.1-.1 .4 .4 1.1 1.6-.2zM258.7 66.2l-.8 .1-.7 1.5 .1 .3 .7 .6 .9-.4 .4-1.5zM263.9 33.7l-1.2-.9-1 .9 .4 1.1 1.1 .4 .8-.7zM257.7 39l-.1 1.1 .8 .8 1.4-.1 .3-1.1-1-1.2zM258.8 44.8l.7 0 .1-1.9-1.6-.4-.8 .6zM260.9 53.1l1.7-1.3-1.8-1.4-.4 .4-.3 2.1zM289 46.1l1.6 .1 .3-.3-.4-1.8-.3-.2-1.7 .2-.2 .3zM261.6 46.8l.8-.9-.8-1.4-1.9 .4 0 .9 1.4 1.1zM251.6 36.3l1.3 .5 .9-1.4-1.2-.9-1.2 .5zM308.2 77l-.5 .5 .2 2.1 .1-.2 .8-.9 .2-1 .2-.3zM255.2 69.2l1.7 1.5 1.1-1.3 0-.7-.7-.6zM269.5 53.3l1.4 .2 .7-1.4-.2-.4-1.2-.2-1 1.3zM287.2 38.5l-.2 .5 .5 1.2 2-.5-.3-1.5 0-.1zM256.9 87.3l1.4-.2 .1-1.2-1.6-.7-.2 .2-.1 1.6zM258.2 75.4l1.2-.6-.7-1.8-.2-.1-1.6 1.3-.1 .6zM278.5 58l.8-1.1-.1-.4-1.3-.5-.9 1.6zM270.8 45.1l-.6 .3-.6 1.4 .1 .4 1.6 .5 .9-1 .1-.8zM258.4 48.5l.3 2.2 1.7 .1 .4-.4 .2-.9-1.1-1.1-1.3-.2zM250.7 53.8l.2-.1 .7-2-.4-.6-.7-.1-1.5 1.1 .5 1.7zM290.9 45.9l1.4 .1 .8-1.8-.9-.6-1.7 .5zM249.4 60.8l1.8 .7 1.5-1.8-.1-.1-3-.3-.5 1.1zM258.6 48.2l1.3 .2 1.2-1.5-1.4-1.1-1.3 1.8zM249.4 63.3l-.6 .8 .6 .7 1.7 .3 .7-.4 .2-1.1-.2-.6zM273.8 37.4l1.5-1.6-.3-.8-.3 0-.3-.1-1.1 .6 .4 1.8zM267 58.3l.1 .7 .7 .4 1.5-.4 .1-.2-.7-1.6-.3-.1zM273.1 40.4l-1-1.2-.4 0-1 1.1 0 .2 1.1 1 .6-.1zM264.4 66l-1.8 .5-.1 .9 1 1.1 .8-.2 .5-.9-.3-1.4zM298 53.8l.1-.5-.7-.9-.2 .2-.6 .5-.7 .1-.4-.2-.3 1.1 1.1 .7zM292.2 43.6l-.1-1.8-.4-.3-1.3 .3-.2 2.1 .3 .2zM275 53.6l0 2.3 .2 .1 .2 .1 1.8-1.2-1.5-1.7-.5 .2zM278.7 35l-.1 0-.7-.1-.4 .8 .8 1.8 .8-.1 1-1.4zM260.1 39.7l-.3 1.1 .2 .3 1.9 .4 0-.1 .1-1.5-1.1-.5zM256.9 71.3l0-.6-1.7-1.5-.1 0-.5 .9 .4 1.4 1.7 0zM276.9 57.6l-.2 .4 .4 1.7 1.8 0 .1-.4-.5-1.3-1.5-.4zM270.7 40.5l0-.2-1.2-.5-1.2 .6-.1 .2 .4 .9 1.2 .3z"/>
<path fill="#a7d8f2" stroke="#a7d8f2" d="M285.1 36.1l.2 1 1.5 .5 .4-.7-1-.5-1.1-.5zM285.7 47.6l-.6 .2-.4 1.1 .3 1.1 1.4-.1 .7-.8-1-1.4zM269.5 39.8l1.2 .5 1-1.1-.8-1.4-1.4 .6zM285.5 53.8l-.5 .5 .2 .9 1.9 .7 0-2zM248.5 57.4l-1.9-.6-.7 2.9 .8 1.2 2.4-.5 .5-1.1 0-.2zM264.8 51.3l-1.2-.6-1 1.1 1 1.5 1.3-.9zM292.2 39.9l-.2-.2-.8 .1-.2-.3-1.5 .3 .4 1.7 .5 .3 1.3-.3zM294.4 46.3l-1.8 0 .1 2.1 .5 .3 .3 0 1.4-1.5zM205.1 71.4l.6 .7 .8 .4 .7 .4 .1 .9 .6 .3 1.6-3.2-1.4-2-2.6 .1zM254 41.4l.8 1.3 1.2-.3 .3-1.7-1.3-.9-.4 0-.5 .5zM312.4 70.7l-1 .3-.2 2.2 .1 .1 2.1-.7 .1-.8-.3-.6zM272 61.3l0-1-.5-.4-1.6 0-.5 1.4 .5 .8zM255.8 47.4l-1.3-.6-.8 1.6 .5 .6 1.1 0 .5-.5zM285.8 80l0-.2-.9-1.1-1.4 .2-.6 .8 .1 1 1 .4zM258.4 81.3l1-1.1 0-1.1-2.1 .1-.3 1.2zM310.2 75.3l-.7-.5-1.2 .3-.4 1.1 .3 .8 1 .2 .8-1.1 .3 0zM273.3 49.7l-.4-.9-1.5 0-.4 .6 .9 1.4 .9-.2zM287.1 51.4l-.7-1.5-1.4 .1-.1 .2 .7 1.8 1.3-.2zM251.1 65.1l0 1.9 .6 .3 1.4-.5 .5-.8-.1-.1-1.7-1.2zM291.3 84.7l.9-2-.2-.3-1.6-.3-.7 .4 0 1.5zM259.4 62.6l.2 .9 2.4 .1-.8-2.2zM248.8 84.2l.9 .4 1.9-.2 .4-1.7-.5-.5-2.3 0zM248.7 67.7l.1 .4 2.1 1 .9-.8-.1-1-.6-.3-2.2 .6zM277.6 38.5l.7-1-.8-1.8-1.2 .6-.1 1.5zM278.2 51.5l-.2 .1-.2 1 .8 1.2 1.8-.9-.5-1.2zM310.2 70.4l1.2 .6 1-.3 .2-2-.8-.4-1.5 1.2zM260.4 66.7l.6-1-1.7-1.3-.6 1.8 .6 .6zM257.2 92.2l.7 .3 1.3-.3 .3-.3-.5-1.5-.8-.4-1.3 1.1zM274 51.6l1.2 1.8 .5-.2 .2-.2 .1-1.6-1.3-.4zM270.7 40.5l-.9 1.3 .5 1 .7 .3 .8-1.6zM252.6 34.5l.1-1.3-.6-.5-1.1 .6 .2 1.5 .2 .2zM256.6 85.4l-1.5-.2-.5 1.8 .3 .4 1.6-.4zM283.4 57.5l-1.2 1.5 .8 .8 1.6-.1 .3-.5zM316 67.7l-.3-.4-.2-.3-1.6 0-.3 1.4 1.3 .9zM266.8 52.2l-1.1 .6 0 1.4 .9 .4 .7-.4 .4-1.6zM286.2 42.7l-.2 1.1 1.2 1 1.1-.4 .2-.3-.4-1-1.8-.5zM288.2 61.2l-.1-.5-1.4-.3-1.2 1.4 .5 .6 1.4 0zM285.1 36.1l0-.2-.1 0-1-.5-1-.6-.1 0-.2 1.6 .4 .3zM251.6 84.4l.6 .6 .7 .2 1.1-.7-.5-1.9-.2-.1-1.3 .2zM256.4 61.6l.6-.7-.6-2-1.3 0-.4 .5 .7 2.3zM259.1 62.3l-1.8 .5-.2 1 .5 .5 1.7 0 .3-.8-.2-.9zM300.6 53.9l.1-.6-1.3-.6-1.3 .6-.1 .5 1 1.5zM255.4 61.7l-.7-2.3-1.6 .5 .4 1.8 1.2 .6zM264.8 59.1l.5 .6 .7 .1 1.1-.8-.1-.7-.7-.7-1.5 .3zM271.1 43.3l-.3 1.8 1.5 .8 .1-.1 1-2.3zM274.7 38.4l-.8-.7-1.8 1.5 1 1.2 .7 0zM259.3 64.3l0 .1 1.7 1.3 .7-.3 .5-1-.2-.8-2.4-.1zM298.1 53.3l1.3-.6 .1-1.6-.2-.2-.3 .2-.6 .5-.6 .4-.4 .4zM271 43.1l-.7-.3-1.8 .9 0 .6 1.7 1.1 .6-.3 .3-1.8zM263.7 64.7l-1.5-.3-.5 1 .9 1.1 1.8-.5zM271.3 58l-.4-.1-1.5 .9-.1 .2 .6 .9 1.6 0zM257.6 35.1l.7 1.3 .2 0 1.4-1.3-.2-.7-1-.7-.6 0zM252.1 47l.7 1.3 .9 .1 .8-1.6-.2-.5-2 .1zM261 49.5l1-.4 .3-.6-.7-1.7-.5 .1-1.2 1.5zM281.3 66l.8-.2 .3-1.2-1.2-1.1-.8 1.9zM287.1 49.1l.5 0 1-.9-.6-1.2-.3-.1-1.6 .8zM252.3 57.4l.1 .1 2.1 0 .5-1-.2-.4-1.7-.7zM261 33.4l.7 .3 1-.9 0-.4-.1-.1-1 0-1 0zM293.1 51.8l1.6 .4 0-.8 .7-.5-.7-.5-1.7 1.2zM288.1 43.1l.5-1.2-1.3-1-.5 .2-.5 1.5zM249.4 64.8l-.5 2.8 2.2-.6 0-1.9zM202.7 68.6l-.3 1 .3 .8 1.1 .3 1.1 .4 .2 .3 .4-2.4-.4-.5z"/>
<path fill="#94d2f0" stroke="#94d2f0" d="M249.5 32.9l1.5 .4 1.1-.6 0-.8-.8 0-1-.1-.8 0zM277.3 65l1-1.6-1.4-1.1-1.3 1.5 .2 .6 1 .7zM288.9 78l1.7 .7 .6-.6 0-1.3-1.3-.7-1.1 .9zM256.5 75l-.2 .7 .8 1.7 1.3-.3-.2-1.7-1.4-.6zM305.8 80.8l.5-1.1-.8-1-1.8 1.1-.1 .1 .4 1.3 .2 .1zM255.6 82.6l.1 .8 1.4 .8 .8-.6 .2-1.2-2.2-.4zM254.1 40.3l.5-.5-.8-1.7-.6-.3-1.4 1.1 .3 1zM313.4 63.6l-1.2 .5 .7 2 .7 .2 1-1.1-.1-.4 .1-.1zM259.5 91.9l.2 0 1.8-1.2-.7-1.2-.7-.2-1.1 1.1zM299 55.3l-1-1.5-1.7 1 .3 1.5 1.4 .3 1-1.3zM283.2 66.7l-1.1-.9-.8 .2-.4 1.5 .5 .5 1.9-.8zM273.2 59.7l1.4 .7 .6-.5 .1-1.4-1-.8-.9 .3zM212 65.7l.8-.9-.2-2.6-3.6-2.6-2.4 3.9 3.3 2.5zM252.7 59.7l.4 .2 1.6-.5 .4-.5-.6-1.4-2.1 0 .2 2.1zM281.8 40.6l.3 .3 1.5-.3 .3-1.9-.7-.4-1.1 .3zM285.1 61.7l-2.4-.4-.6 .4-.1 .7 1.7 1 1.4-1.7zM256.4 45.2l-1.7-.2-.4 1.3 .2 .5 1.3 .6 1.3-.9-.1-.5zM293.4 84.8l2.2-.8-.8-1.4-1.8 .6zM299.3 86.7l.4 1.1 1.3-.3 .1-1.5-1.1-.4zM304.4 75.1l-1.4 .7 .8 1.4 1.4 .3 .7-1.7zM280.4 65.4l.8-1.9-.1-.3-1.5-.4-.6 .5 .6 2.2zM253.7 77.7l1-.3 .1-.7-1-1.3-.9 .1-.4 .6 .1 .9zM257 88.8l-.1-1.5-.4-.3-1.6 .4-.1 1.1 1.6 .7zM311.6 74.4l-.3-1.1-.1-.1-1.5-.1-.2 1.7 .7 .5zM256.3 35.3l0 1.2 1.1 .4 .9-.5-.7-1.3zM252.2 42.8l1.4 1.1 .4 0 .8-1.2-.8-1.3-1.4 .3zM255.2 94.4l-.7 .9 .7 1.7 1-.2 .6-.8-.3-1.3-.9-.4zM289.9 58l2-.4-.3-1.7-1.1 .1-.9 1.6zM263.1 59.4l-.7-.6-.4 .1-1 1.7 .3 .7 2 0 0-.1zM272 60.3l1.2-.6 .2-1.7-.9-.6-1.2 .6 .2 1.9zM252.1 32.7l.6 .5 1.5-.2 .6-.7 .1-.2-.5 0-1-.1-1.1 0-.2-.1zM247.6 37.7l-2.4-1.7-1.8 1.9 2.1 2.8 .1 0 2.1-2.7zM290.6 46.2l-1.6-.1-1 .9 .6 1.2 .7 .1 1.2-.9zM290.8 60.2l.5-.3 1.1-2-.5-.3-2 .4 .2 1.6 .7 .6zM274.7 61.1l2.1 .9 .1-.2-.1-1.9-1.6 0-.6 .5zM250.9 56.4l.5-1.4-.7-1.2-1.2 0-.3 .3 .4 2.2zM280.2 51.1l-.3 .6 .5 1.2 .9 .4 1-1.1-.7-1.5zM259.5 87.9l.6 1.4 .7 .2 1.4-1.3 0-.6-1.8-.6zM262.7 54.5l.9-1.1 0-.1-1-1.5-1.7 1.3 .7 1.1zM286.8 37.6l.4 .9 2-.4-.3-.6-.8-.3-.8-.3-.1 0zM252.5 76.1l.4-.6-.6-1.2-1.1-.1-.6 1.3 .4 .5zM278.3 63.4l.7-.1 .6-.5-.3-2-2.4 1-.1 .2 .1 .3zM285.6 40.5l0-1.3-.9-.7-.8 .2-.3 1.9 .7 .6zM261.5 43l.4-1.5-1.9-.4-.2 1.6zM262.2 75.1l-.2 .3 .9 1.9 .9-.5 .3-1.2-.8-.7zM253.8 75.4l.7-.9-.3-1.3-1.4 .2-.5 .9 .6 1.2zM252.1 87.7l-.9 .9 0 .6 1.4 1.1 .9-.2 .4-.5 .1-.3-1.8-1.6zM251.5 82.2l.2-1.5-.8-.7-1.3 .4-.6 1.5 .2 .3zM255.9 82l2.2 .4 .2-.3 .1-.8-1.4-.9-1.3 .4zM279.8 76.8l.4 1 1 .4 1.1-1.2-1.2-1.3zM283.2 38.3l-.1-1.6-.4-.3-1.5 .2 0 1.5 .9 .5zM279.6 41.3l.5 1.4 .4 .2 1.3-.8 .3-1.2-.3-.3-1.2-.3zM286.8 41.1l.5-.2 .2-.7-.5-1.2-1.4 .2 0 1.3zM252.9 85.2l-.7-.2-.7 1.4 .6 1.3 .1 0 1.4-1zM253.5 65.9l.1 .1 1.7 .3 .4-.4 0-1.7-1-.8-.4 .3zM281.2 36.6l-.6-.6-.5 0-1 1.4 1.1 1.2 1-.5zM287.4 62.4l-1.4 0 0 1.6 .7 .6 1.2-.1 .3-1.2zM279.3 60.8l-.4-1.1-1.8 0-.3 .2 .1 1.9zM296.4 86.3l-.8-.8-1.1 .7-.2 .9 .2 .3 1.8-.2zM251.8 68.3l1 .7 1-.6-.7-1.6-1.4 .5zM264.8 63.3l-.2 .1-.9 1.3 .7 1.3 .1 0 1-.6 .4-1.4zM291.3 84.9l1.4 .4 .7-.4 0-.1-.4-1.6-.8-.5-.9 2zM251.6 57.3l-.7-.9-1.3-.1-1.1 1.1 1.1 1.7zM264.5 56.1l-.1-.2-1.6-.9-.7 1.3 1.2 1.1 .9-.3zM307.9 73l-2-.6-.3 1.3 .7 .8 1.4-.6zM278.4 50.3l-1.1-1.1-.8 .4 0 1.4 1.5 .6 .2-.1zM251.9 62.6l1.6-.9-.4-1.8-.4-.2-1.5 1.8zM259.4 74.8l.3 .1 1.2-1.2-.5-1-1.7 .3zM257.8 89.1l1.2-1.3-.7-.7-1.4 .2 .1 1.5zM249.6 39.5l2.1-.6-1.1-1.6-1.9 1zM255.4 37l-.1 .3 1 1.2 .9 0 .2-1.6-1.1-.4zM255.4 66.6l-.7 2.1 .4 .5 .1 0 2.1-1.1-.1-.3z"/>
<path fill="#82cbee" stroke="#82cbee" d="M286.3 84.3l1.2-.5 .1-.6-1-1.2-1.1 .6-.1 1.2zM280.6 40.3l1.2 .3 .3-2-.9-.5-1 .5-.2 .6zM277.8 41.3l.8-.4 .3-1.4-1.3-.9-.8 1.5 .7 1.1zM249 81.9l-2.6-1.1-1 1.6 1 2.3 1.2 .3 1.2-.8 .4-2zM326.4 36.1l.3 .8 1 .4 .9-.8 0-1-1.2-.6zM267.3 74.9l-1.6 .2 .1 1.6 1.2 .6 .9-.5zM257.1 46.5l-1.3 .9 0 1.1 1.5 .5 1.1-.5 .2-.3-.2-.6zM248.8 35.2l-1.2 2.5 .1 .3 1 .3 1.9-1 .1-.4-1.7-1.6zM254.5 74.5l2 .5 .3-.2 .1-.6-.7-1-1.8-.2-.2 .2zM274 43.3l.8-1.9 0-.1-1-.9-.7 0-.7 1 1.4 1.9zM274.7 51l1.3 .4 .5-.4 0-1.4-1.3-.4-.5 .5zM202.9 61.3l1.6 2.3 .7 .3 1.4-.4 2.4-3.9-.1-.7-5.2-1zM282.9 79.7l-1.5-.8-1 1.2 .5 1.2 .7 .4 1.4-1zM261 81.2l.2 0 .8-1.6-1.7-.8-.9 .3 0 1.1zM258.1 82.4l-.2 1.2 1.4 1 1.3-1.4-.2-.5-2.1-.6zM251.2 51.1l.4 .6 1.7 .2 .6-.7-.2-.8-1.7-.7zM282.9 85.3l-.1 .5 1 1.3 1.6-.5 0-.2-1.1-1.6zM252.8 73.4l-.8-1.2-1.7 .3-.1 .3 1 1.4 1.1 .1zM290.2 50.3l-.9-2-.7-.1-1 .9 .9 1.6 .6 .1zM295.7 84l-.1 1.5 .8 .8 1.3-.7 .1-.2-.9-1.6zM314.7 59.6l-.7 2.3 .2 .2 1.1 .2 .3-.8 .2-1.5-.1-.4zM299.9 80.1l1.7-.1 .2-.2-.3-1.6-.4-.4-1.3 .2-.7 .9zM282.9 34.8l-.9-.4-.5-.3-.9 1.9 .6 .6 1.5-.2zM285.5 82.6l1.1-.6 .3-1-1.1-1-1.8 1.1 .3 .9zM314.9 69.3l-.1 .4 .9 1.7 .6-.6 .7-.6-.2-.6zM304.6 45.5l-.6 .1-1.1 .8 .4 .5 .1 .2 1.1-.3zM252 63.6l2.3 .1 .4-.3 0-1.1-1.2-.6-1.6 .9-.1 .4zM261.6 54.2l-.7-1.1-.8-.2-.7 .3-.4 1.6 1.3 .9zM256.7 58.7l.1-1.8-.3-.3-1.5-.1-.5 1 .6 1.4 1.3 0zM284.9 44.5l-.1 .7 1 .7 1.2-.4 .2-.7-1.2-1zM269.9 62.2l1.6 1.6 1-.1 .2-1.5-.7-.9-2.1 .8zM253.6 81.2l-.3 1.3 .2 .1 2.1 0 .3-.6-.2-1.2-.6-.4zM256.7 50.5l.2 .3 1.7 0 .1-.1-.3-2.2-1.1 .5zM300.4 75.2l-.7 .2-.4 1.5 .5 1.1 1.3-.2 .7-1.7zM280.1 36l.5 0 .9-1.9-.4-.2-.6 .2-.6 .5-.7 .4-.5 0zM295.6 85.5l.1-1.5-.1 0-2.2 .8 0 .1 1.1 1.3zM240.4 42.8l1.1-1.5-.9-2.3-.6-.1-1.6 .9-.2 2.6zM250.7 36.9l-.1 .4 1.1 1.6 .1 0 1.4-1.1-.3-1-1.3-.5zM262.2 85.3l-.5-.3-1.4 .9 .1 1.1 1.8 .6 .2-.3zM258.7 77.3l.7 1.8 .9-.3 .9-1.3-.7-1.3zM296.6 59.8l.1-.4-1.3-.9-1.6 1.4-.1 .3 1.4 .8zM265.9 80.2l-.9 1 .1 1 1.6 .1 0-1.6zM267.2 62.8l1.7 .6 1-1.2 0-.1-.5-.8-1.4-.2-1 .7zM306.1 75.7l-.2 .1-.7 1.7 .4 .6 2.1-.6 .5-.5-.3-.8zM249.6 56.3l-.4-2.2-3.2 1-.2 .4 .8 1.3 1.9 .6zM255 39.8l1.3-1.3-1-1.2-1.5 .8 .8 1.7zM241.8 80.2l.3 2.4 3.3-.2 1-1.6-.4-1.8-.1-.2zM250.3 77.8l-1.3 .1-.3 .3 .9 2.2 1.3-.4 .4-1.6zM284.4 64.9l0-.1-.6-.6-1.4 .4-.3 1.2 1.1 .9zM280.2 38.6l-1.1-1.2-.8 .1-.7 1 0 .1 1.3 .9 1.1-.3zM287 89.5l1.4 .7 1.2-1.3-.6-.9-1-.4-.1 .1-1 1.6zM260.7 56.7l1.4-.4 .7-1.3-.1-.5-1.1-.3-1.3 1.5zM286 62.4l-.5-.6-.4-.1-1.4 1.7 .1 .8 .6 .6 1.6-.8zM251.2 34.8l-.2-1.5-1.5-.4-1.2 1.3 .5 1 .2 .1zM253.6 53.6l1.2 .1 .9-1.5-1.2-1-.6 0-.6 .7 .2 1.6zM263.3 57.4l-.9 1.4 .7 .6 1.7-.3 0-1.2-.6-.8zM324.8 35.9l-.2 1.8 1.3 .5 .8-1.3-.3-.8zM290 63l1.6-.9-.8-1.9-1.5 1.5 .3 1.1zM283.8 64.2l-.1-.8-1.7-1-.9 .8 .1 .3 1.2 1.1zM260.8 89.5l.7 1.2 .8 .3 1-.9 .1-.6-1.2-1.3zM254.8 76.7l1.5-1 .2-.7-2-.5-.7 .9zM260.9 57.9l-1.2 1 .4 1.3 .9 .4 1-1.7zM305.8 80.8l-1.6 .5 1 1.4 .7-.8 .4-.4zM254.4 73l1.8 .2 .5-1.7-1.7 0-.6 .8zM251.3 78.4l1.6 .8 .3-.2 .5-1.3-1.1-.7-1.3 1.4zM263.5 80.4l-1.4-.9-.1 .1-.8 1.6 1.7 .7 .6-1.3zM257.6 33.3l-1.4 .4-.4 1.1 .5 .5 1.3-.2 .5-1.4zM255.7 83.4l-.1-.8-2.1 0 .5 1.9 .6 .1zM290 89l-.4-.1-1.2 1.3 .1 .2 .3-.1 1.3-.1 .6-.1zM248.8 84.2l-1.2 .8 .7 3 1.1-.2 .9-1.4-.6-1.8zM310.3 69.5l1.5-1.2-.4-.9-1.3 .1-.6 .9zM313.6 66.3l.3 .7 1.6 0-.4-.7-.5-1 0-.1zM292.4 57.9l-1.1 2 2.3 .3 .1 0 .1-.3-1-1.9zM252.7 33.2l-.1 1.3 1.2 .9 .3-.1 .3-.4-.2-1.9zM250 41.5l1.7 1.4 .5-.1 .4-1.1-.8-1zM259.3 64.4l0-.1-1.7 0-.2 1.4 .5 .6 .8-.1zM311.6 74.4l-1.4 .9 .1 .8 .5-.1 .8-.1 .5-1.1zM286.4 65.9l.3-1.3-.7-.6-1.6 .8 0 .1 1 1.2zM295.9 56.7l-1.9-.8-.1 0-.4 1.5 1.9 1zM270.1 56.6l-1.4 .6 .7 1.6 1.5-.9zM279.2 56.5l.7-1-1.4-1.5-1 1 .4 1z"/>
<path fill="#69c1eb" stroke="#69c1eb" d="M258.4 77.1l.3 .2 1.8-1.1 0-.1-.8-1.2-.3-.1-1.2 .6zM273.5 47.8l-.6 1 .4 .9 1.4 0 .5-.5-.3-1.3-.2-.2zM272 61.3l.7 .9 1.6-.5 .4-.6-.1-.7-1.4-.7-1.2 .6zM251.5 82.2l.5 .5 1.3-.2 .3-1.3-1-.9-.9 .4zM286.8 41.1l-1.2-.6-1.3 .7 .2 .9 1.7 .6 .1-.1zM303.6 79.9l-1.8-.1-.2 .2 .2 2 1 .4 1.2-1.2zM282.3 52.2l1-.1 .5-1.4-1.5-1-.4 .1-.3 .9zM251.9 45.4l-1.5-.6-.6 0-.5 1.2 1.5 1.6 1.3-.6 .2-.6zM292.4 64.5l.2-.5-1-1.9-1.6 .9 .4 1.5zM289 88l1.5-1.5-1.8-1.3-.1 0-.5 .6-.1 1.8zM253 92.8l-1.2-1.1-.3 0-1 1.2 .7 .8 .8 1zM249.5 53.8l-.5-1.7-1.3-.8-1.8 1.9 .1 1.9 3.2-1zM280.9 84.4l1.4 0 .5-1.1-1.2-1.4-1.1 1.7zM279.2 65.8l-1.9-.8-.5 .1-.2 .9 1 1.3 .2 .1 1.3-1.4zM262 63.6l.2 .8 1.5 .3 .9-1.3-1.4-.6-1.2 .8zM258.5 98.8l1.9 .3-.1-1.9-1.9 .3-.3 .7zM255 71.5l-.4-1.4-1.8 .5 0 .5 1.6 1.2zM312 64.1l-1.5 1.2 1.1 1.5 1.3-.7-.7-2zM289.9 76.1l-.3-1.4-1-.2-1 1.7 1.2 .8zM240 31.9l1.6 2.2 1.8-.5 .5-2.4-.8 0-1-.2-1.1-.1-.6-.1zM245.4 46.2l2.3-3.7-2.1-1.8-.1 0-1.5 1.1-.4 2.8zM306.2 70.6l-.2 .1-.2 1.5 .1 .2 2 .6 .5-.3-.9-2.3zM267.1 66.4l.2 .9 1.5 .1 .5-.4-.1-2.2-.2-.2-1.3 .5zM283.4 83.2l.9-1.2-.3-.9-1-.4-1.4 1 0 .2 1.2 1.4zM250.8 47.6l-1.5-1.6-1.4 1 .6 2 1 .2 1-.5zM266.6 61.6l-1.5 .4-.3 1.3 1.1 .7 .5-.1 .8-1.1-.2-1zM262 75.4l.2-.3-.5-1.2-.8-.2-1.2 1.2 .8 1.2zM255.7 64.2l1.4-.4 .2-1-.9-1.2-1 .1-.7 .6 0 1.1zM257.6 64.3l-.5-.5-1.4 .4 0 1.7 1.7-.2zM278.7 76.4l.3-2.1-1.1-.3-1.3 1.7 0 .1 1.9 .7zM248.3 34.2l-1.6-.5-1.6 .9 .1 1.4 2.4 1.7 1.2-2.5zM254.5 51.2l1.2 1 .8 0 .4-1.4-.2-.3-1-.3zM259 90.4l1.1-1.1-.6-1.4-.5-.1-1.2 1.3 .4 .9zM252 63.6l-.2 1.1 1.7 1.2 .8-2.2zM254.3 46.3l.4-1.3-.7-1.1-.4 0-1.7 1.5 .4 1zM249.4 87.8l1.8 .8 .9-.9-.6-1.3-1.2 0zM295.4 58.4l-1.9-1-.7 .6 1 1.9 1.6-1.4zM310.1 70.5l.1-.1 .1-.9-.8-1.1-1 0-.6 .5-.1 1.2zM279.6 73.4l1.9-.6 .2-.2 0-.7-.7-.6-1.9-.1zM283.7 74.9l-.2-1.6-1.8-.7-.2 .2 0 1.9zM278.6 82l.3 .1 2-.8-.5-1.2-1.2-.3-.9 .7-.1 .6zM269.3 78.7l-.4-1.6-1-.3-.9 .5-.2 1.2 1.6 .8zM302.6 74.2l-1.6-.6-.6 1.6 1.4 .9 1.1-.3zM279.5 83.3l-.6-1.2-.3-.1-1.2 1.3 .4 1.5 .5 .1zM265.3 69.4l-.4 1.7 1.1 .6 1.5-1.8-.6-.8zM285.8 79.8l0 .2 1.1 1 1-.3 .4-.4-.2-1.7-1-.2zM267.7 87.6l-1.2 1-.1 1 1.3 .4 .7-.4 .5-1.6zM303.1 83.4l-.3-1-1-.4-.9 .3-.2 1.6 1.3 .6zM246.7 33.7l1.6 .5 1.2-1.3 0-1.1-.2-.1-1.1 0-1-.1-.6-.1zM250.9 80l.8 .7 .9-.4 .3-1.1-1.6-.8zM281 75.2l-1.9-1-.1 .1-.3 2.1 1.1 .4 1.3-1.1zM257.8 94.2l.8 .5 1-.6-.4-1.9-1.3 .3zM261.9 95l.9 1.5 .6-.1 1-1.4-.9-1.2zM254.8 32.3l-.6 .7 .2 1.9 1.4-.1 .4-1.1zM262.4 87.3l-.2 .3 0 .6 1.2 1.3 .9-.6 .3-1.1-.7-.8zM288.1 78.6l.8-.6-.1-1-1.2-.8-.8 .1-.6 .5 .9 1.6zM248.2 70.2l1.7 1 1.2-1.1-.2-1-2.1-1zM267.7 65.1l1.3-.5-.1-1.2-1.7-.6-.8 1.1zM290.7 90.1l.8-.1 .5 .2 .4-1.7-.6-.8-1.8 1.3zM285.9 76.9l.3-.1 .6-.5-.5-2.3-1.8 1zM316.2 57.2l-1.6 .4-.3 1.6 .4 .4 1 0-.2-.6 .3-.5 .6-1.2zM285.6 52l-.7-1.8-1.1 .5-.5 1.4 .1 .1 1.9 .2zM299.6 84.7l1.1-.8 .2-1.6-1.2-.4-.8 1.7 .7 1.1zM253.1 55.4l1.7 .7 .6-1.7-.6-.7-1.2-.1-.5 1.7zM307.9 73l-.2 .9 .6 1.2 1.2-.3 .2-1.7-.6-.5-.7 .1zM253.5 53.5l-.2-1.6-1.7-.2-.7 2zM254.2 73.2l.2-.2 0-.7-1.6-1.2-.8 1.1 .8 1.2zM287.7 58.6l-1.3 .2 .3 1.6 1.4 .3 .4-.8zM279.1 78.8l.1 1 1.2 .3 1-1.2-.2-.7-1-.4zM255.7 90.8l-1.8-1.2-.4 .5 .5 1.9 1-.1zM265.7 87.6l-1.1 .2-.3 1.1 1.9 .8 .2-.1 .1-1zM272.1 81.5l-.6-1-.6-.1-1.3 1.2 .2 .9 1.5 .8 .6-.6zM263.3 57.4l-1.2-1.1-1.4 .4-.1 .1 .3 1.1 1.1 1 .4-.1zM293 80.7l0-.1-2.4-.9-.2 .3 0 2.1 1.6 .3zM327.2 34.6l-.4-1-.9-.7-.1-.1-.9 .9 0 .1zM276.5 51l-.5 .4-.1 1.6 1.9-.4 .2-1zM260.4 66.7l.6 1.2 1.5-.5 .1-.9-.9-1.1-.7 .3zM314.9 69.3l1.9 .3-.1-.3-.3-.9-.4-.7-1.1 1.6zM256.9 50.8l-.4 1.4 .6 .6 1.4-.1 .1-1.9zM263.3 61.2l0 .1-.1 1.5 1.4 .6 .2-.1 .3-1.3-.8-.8zM258.9 68.3l1.5 .5 .4-.2 .2-.7-.6-1.2-1.1 .1zM276.8 40.1l-.8 0-1.2 1.2 0 .1 1.8 .6 .9-.8zM273.9 51.6l.1 0 .7-.6 0-1.3-1.4 0-.5 .9z"/>
<path fill="#4bb6e7" stroke="#4bb6e7" d="M205.1 68.5l.1-4.6-.7-.3-2.9 1.8 .1 .4 .7 1.2 .5 1.1-.2 .5zM280 67.5l.9 0 .4-1.5-.9-.6-.8 .1-.4 .3-.1 .2zM203.4 57.6l.3 .3 5.2 1 .3-.7-.4-4-1-.9-3.4 1zM256 42.4l-1.2 .3-.8 1.2 .7 1.1 1.7 .2 .7-2.1zM216 76l-.1-1.2-2.1-2-3 2.5 1.6 3.2 .8 .1zM285.2 77.4l.7-.5-1.4-1.9-.8-.1-.6 1.9zM271.3 83.3l-1.5-.8-1.4 1.4 1.4 .9 1.5-1zM309.2 64.4l.9 .9 .4 0 1.5-1.2-1.1-1.6-1.2 .1zM278.8 69l0 .4 2.5-.1 .1 0 0-1.3-.5-.5-.9 0zM276.6 43.8l0-1.8-1.8-.6-.8 1.9 .1 0 2.5 .5zM260.3 85.9l-1-.7-.9 .7-.1 1.2 .7 .7 .5 .1 .9-.9zM309.7 73.1l1.5 .1 .2-2.2-1.2-.6-.1 .1-1 2.1zM286.4 73.8l1.2-.3-.3-2.2-.1 0-1.6 .6-.3 .5zM254.9 87.4l-.3-.4-1-.3-1.4 1 1.8 1.6 .8-.8zM286.3 74l.1-.2-1.1-1.4-1.1 .2-.7 .7 .2 1.6 .8 .1zM243.8 86.7l.7 1.4 3.5 .4 .3-.5-.7-3-1.2-.3zM275.6 63.8l-.6-.2-2.1 .5 .2 .7 1.4 .9 1.3-1.3zM267.8 85.7l-.4-1.7-1.8 .5-.3 1 .8 1.1 1.1 0zM256.9 71.3l1.3 .7 1.3-1.4-1.5-1.2-1.1 1.3zM272.4 45.8l2.2 .2 .1-.1-.6-2.6-.1 0-.2 0-.4 .2zM279.5 83.3l-1.2 1.6 .6 .5 1.7-.4 .3-.6-.4-.8zM253.6 53.6l-.1-.1-2.6 .2-.2 .1 .7 1.2 1.7 .3zM264.3 88.9l-.9 .6-.1 .6 1.4 1 1.1-.5 .4-.9zM262.7 69.7l.8-1.2-1-1.1-1.5 .5-.2 .7 1.6 1.1zM246.7 60.9l-.8 2.4 .2 .6 2.7 .2 .6-.8 0-2.5-.3-.4zM258.6 57.3l-.5-.6-1.3 .2-.1 1.8 1.6 0 .1 0zM246.6 56.8l-.8-1.3-2 .3-1.2 3.6 3.3 .3zM275.2 59.9l1.6 0 .3-.2-.4-1.7-1.4 .5zM213.4 70.6l.1 .1 3.8-1.5-.9-4.1-3.6-.3-.8 .9zM264.1 75.6l-.3 1.2 1.2 .5 .8-.6-.1-1.6zM273.8 43.3l-1.4-1.9-.6 .1-.8 1.6 .1 .2 2.3 .2zM252.1 39.9l-.3-1-.1 0-2.1 .6 0 1.9 .4 .1 1.8-.8zM307.7 77.5l-2.1 .6-.1 .6 .8 1 1.4 .2 .2-.3zM325.8 32.8l-.3-1-.2-.8-1 .8 .2 1.4 .4 .5zM256.5 56.6l.5-1.8-.3-.4-1.3 0-.6 1.7 .2 .4zM266.3 72.3l-.3-.6-1.1-.6-.9 .2-.7 1.2 .7 1 1.1 .3zM313.6 68.4l-1 .3-.2 2 .8 .5 1.6-1.5 .1-.4zM264.5 66l.3 1.4 2.3 0 .2-.1-.2-.9-1.6-1zM246 91.7l-2.1-1.2-2.2 1.3 .1 .7 1.3 1.1 1.1 .6 1.1 .6 .7-1.1 .3-.4zM252.3 57.4l.8-2 0-.1-1.7-.3-.5 1.4 .7 .9zM289.7 82.5l-.4-.1-1.7 .8-.1 .6 1.1 1.4 .1 0 1-1.2zM325.9 38.2l-1.3-.5-.2 .1-.6 1.5 .8 .8 .4-.3 .6-.6 .6-.4zM312.7 61.3l-1.2 .3-.6 .9 1.1 1.6 .2 0 1.2-.5 .8-1.5-.2-.2zM254.6 87l.5-1.8-.5-.6-.6-.1-1.1 .7 .7 1.5zM259.4 53.2l-.9-.5-1.4 .1-.4 1.6 .3 .4 1.6 .3 .4-.3zM304.5 74.1l-.1 1 1.5 .7 .2-.1 .2-1.2-.7-.8zM260.8 68.6l-.4 .2-.5 1.8 1.1 .8 .1-.1 1.3-1.6zM259 54.8l-.4 .3-.5 1.6 .5 .6 2-.5 .1-.1-.4-1zM205.5 69l2.6-.1 1.8-2.9-3.3-2.5-1.4 .4-.1 4.6zM300.8 56.4l.8-.2 .1-1-1.1-1.3-1.6 1.4zM262 63.6l1.2-.8 .1-1.5-2 0-.1 .1zM304.2 81.3l-.2-.1-1.2 1.2 .3 1 1.4 .8 .5-1.3 .2-.2zM251.9 49.3l.1 .4 1.7 .7 .5-1.4-.5-.6-.9-.1zM313.5 71.8l-.1 .8 .2 .5 .2-.1 .9-.2 .8-1.1zM282.7 44.2l.4 1.1 1.1 .3 .6-.4 .1-.7-1.2-1.3-.4 0zM254.5 95.3l.7-.9-1.9-1.6-.3 0-1 1.9 .1 .1 .3 .8zM279.8 76.8l-1.1-.4-.2 .1-.7 1.4 1.3 .9 1.1-1zM285.4 83.8l.1-1.2-1.2-.6-.9 1.2 1.1 1.1zM258.6 55.1l-1.6-.3-.5 1.8 .3 .3 1.3-.2zM299.9 58l-1.8-.9-.8 2 1.6 .6 1.2-1.3zM252.6 41.7l1.4-.3 .1-1.1-2-.4-.3 .8zM286.8 76.3l.8-.1 1-1.7-.9-1-.1 0-1.2 .3-.1 .2zM272.2 46.7l-.9 1 .1 1.1 1.5 0 .6-1zM264 73.5l-.7 1.4 .8 .7 1.6-.5-.6-1.3zM268.9 88l.7-1.6-1.8-.7-.6 .9 .5 1 1.2 .4zM261.2 77.5l-.9 1.3 1.7 .8 .1-.1 .7-1.6-.1-.2zM278.9 39.5l-.3 1.4 1 .4 1-1-.6-1.1zM250.2 90.6l1.3 1.1 .3 0 .8-1.4-1.4-1.1zM301.1 86l-.1 1.5 1 .8 1.2-1-.3-1.2-.8-.5zM256.9 74.2l1.6-1.3-.3-.9-1.3-.7-.2 .2-.5 1.7zM297.6 80.2l-1.7-.1-.5 1.1 1.9 1.1 .8-.8zM305.8 80.8l.5 .7 .3-.4 .7-.7 .4-.5-1.4-.2zM257.9 83.6l-.8 .6-.3 1 1.6 .7 .9-.7 0-.6zM251 76l-.4-.5-2-.2 .4 2.6 1.3-.1zM314.8 69.7l-1.6 1.5 .3 .6 2-.1 .2-.3zM288 87.6l.1-1.8-1.8-.3-.9 .9 0 .2 .1 .2 2.4 .9zM285.6 39.2l1.4-.2 .2-.5-.4-.9-1.5-.5-.6 1.4zM302.9 86.1l.3 1.2 1.2 .4-.2-.6 .1-1.3 .1-.8zM303.2 78.1l-1.7 .1 .3 1.6 1.8 .1 .1-.1zM269.3 69.3l-1.8 .6 .9 1.6 .8 0 .7-1.9zM251.2 34.8l-2.2 .5 1.7 1.6 .9-.6-.2-1.3zM288.7 85.2l1.8 1.3 .1-.1 .7-1.5 0-.2-1.6-.7zM253.2 37.8l.6 .3 1.5-.8 .1-.3-1.3-1.7-.3 .1-.9 1.4zM264.3 86.1l-1.3-1.1-.8 .3 .2 2 1.5-.3zM294.1 77.1l.5-1.3-1.2-1.2-1.2 .5-.1 .9 1.8 1.2zM265.1 62l1.5-.4-.6-1.8-.7-.1-1 1.5zM262.5 98.3l-2 1 1.2 1.1 .1-.6 .9-1.3zM314.2 62.1l-.8 1.5 1.2 1.1 .4-1.5 .3-.9zM282.9 85.3l1.4-.5 .2-.5-1.1-1.1-.6 .1-.5 1.1zM249 90.8l.1 1.6 1.2 .2 .2 .3 1-1.2-1.3-1.1zM276.8 40.1l.8-1.5 0-.1-1.4-.7-1.2 .6 1 1.7zM258.5 60.8l-1.5 .1-.6 .7 .9 1.2 1.8-.5-.5-1.4zM285 50l-.3-1.1-1.7-.1-.7 .9 1.5 1 1.1-.5zM207.9 74.1l.3 .2 .4 .6 2.2 .4 3-2.5-.3-2.1-.1-.1-3.9 .3zM265.9 64l-.4 1.4 1.6 1 .6-1.3-1.3-1.2zM285.6 71.9l-.4-1.3-1.8-.2-.1 .3 .9 1.9 1.1-.2zM284.3 84.8l1.1 1.6 .9-.9 0-1.2-.9-.5-.9 .5zM281.5 74.7l0-1.9-1.9 .6-.5 .8 1.9 1z"/>
<path fill="#37aae2" stroke="#37aae2" d="M264 71.3l.9-.2 .4-1.7-1-1.1-.8 .2-.8 1.2zM280.6 85l.6 1.6 1.6-.8 .1-.5-.6-.9-1.4 0zM209.5 70.9l3.9-.3-1.4-4.9-2.1 .3-1.8 2.9zM243.1 86.4l-1.5-2.8-3 .5-1 1.7 .7 .7 1.2 1.3 .5 .6zM253.8 68.4l.9 .3 .7-2.1-.1-.3-1.7-.3-.5 .8zM245.8 64.7l-3.6 1.7 .2 1.8 2.7 .6 1.5-2zM253.5 90.1l-.9 .2-.8 1.4 1.2 1.1 .3 0 .7-.8zM254.5 95.3l-2.1 .3 .2 .5 .5 1.3 .7 .9 .8-.3 .6-1zM276.9 79.2l.3-1.1-1.3-.9-.9 .2-.1 2 1.1 .3zM301.6 51.5l.2 .1 1-.3 .4-.7-.4-1.6-.1 0-.7 .5-.7 .5zM283.7 43.2l.8-1.1-.2-.9-.7-.6-1.5 .3-.3 1.2 1.5 1.1zM248.1 42.5l-.4 0-2.3 3.7 2.5 .8 1.4-1 .5-1.2zM257.3 79.2l2.1-.1-.7-1.8-.3-.2-1.3 .3-.5 .7zM246.6 66.8l-1.5 2 1.2 2.3 1.9-.9 .6-2.1-.1-.4zM303.8 77.2l-.8-1.4-.1 0-1.1 .3-.7 1.7 .4 .4 1.7-.1zM297.3 88.2l1-1.5-.6-1.1-1.3 .7-.1 .9 .8 1zM293.2 61.5l.4-1.3-2.3-.3-.5 .3 .8 1.9zM288.1 85.8l.5-.6-1.1-1.4-1.2 .5 0 1.2zM260.6 56.8l-2 .5-.2 1.4 1.3 .2 1.2-1zM297.3 82.3l-1.9-1.1-.4 .3-.2 1.1 .8 1.4 .1 0 1.2-.2 .3-.4zM246.7 60.9l-.8-1.2-3.3-.3-.2 .1 .7 2.8 2.8 1zM289 88l.6 .9 .4 .1 1.8-1.3 0-.2-1.2-1.1-.1 .1zM258.7 95.7l-.1-1-.8-.5-1.3 .5 .3 1.3 1.4 .3zM260.3 96l.8-1.2-.1-.2-1.4-.5-1 .6 .1 1zM240.4 30.8l-.4 0-1-.1-1-.2-1-.1-.2 0 .1 2 .7 .3 2.4-.8zM298 56.6l-1.4-.3-.7 .4-.5 1.7 0 .1 1.3 .9 .6-.3 .8-2zM208.8 54.2l4.9-1.3-.3-2.2-2.1-1.8-3.6 .8 .1 3.6zM246.1 63.9l-.3 .8 .8 2.1 2.1 .9 .2-.1 .5-2.8-.6-.7zM249.4 63.3l2.4-.3 .1-.4-.7-1.1-1.8-.7zM315.5 55.3l-1.7 1-.1 .6 .9 .7 1.6-.4zM324.1 35.3l.2 0 .6-1.5 0-.1-.4-.5-2 .1-.3 .7 .1 .5zM274.6 77.1l.4 .3 .9-.2 .7-1.4 0-.1-1.3-1-.6 .2-.5 1.2zM246.3 71.1l1.4 3.3 .2 0 2.3-1.6 .1-.3-.4-1.3-1.7-1zM246.7 33.7l-.1-2.2-.4 0-1.1-.1-1-.1-.2-.1-.5 2.4 1.7 1zM293.9 62.4l-.7-.9-1.6 .6 1 1.9 1-.4zM249.6 80.4l-.9-2.2-2.7 .8 .4 1.8 2.6 1.1zM285.1 66.9l.9 1.2 1-.2 .5-.8-1.1-1.2-1 .2zM255.4 54.4l1.3 0 .4-1.6-.6-.6-.8 0-.9 1.5zM262.6 92.3l-1.3 .8-.3 1.5 .1 .2 .8 .2 1.6-1.2 .1-.7zM274.3 81.4l-.2-.2-2 .3-.2 1.2 2.1 .6zM290.6 86.4l1.2 1.1 .7-.6 .2-1.6-1.4-.4zM288.2 63.3l-.3 1.2 .9 1 1-.2 .6-.8-.4-1.5-.4-.2zM306.3 74.5l-.2 1.2 1.8 .5 .4-1.1-.6-1.2zM301.8 51.6l-.2-.1-2.1-.4-.1 1.6 1.3 .6 .9-.7zM255.6 78.3l-.6 1.6 .1 .5 .6 .4 1.3-.4 .3-1.2-.7-1.1zM240 31.9l-2.4 .8 .5 3.2 .4 .1 2.9-1.4 .2-.5zM263 85l.9-1.7-.8-.6-1.9 .8 .5 1.5 .5 .3zM255.9 93l1.3-.8-.3-1.1-.7-.4-.5 .1-.7 1.1zM299.7 81.9l-.1-.2-1.5-.2-.8 .8-.1 1.1 1.7 .2zM273 85l1.2-1.3-.2-.4-2.1-.6-.6 .6 0 .5 .9 1.3zM281.9 88l1.6-.4 .3-.5-1-1.3-1.6 .8 0 .2zM289.3 82.4l.4 .1 .7-.4 0-2.1-2.1 .3-.4 .4zM260.3 97.2l.1 1.9 .1 .2 2-1-.2-1-1.9-.2zM267.1 67.4l-.2 1.7 .6 .8 1.8-.6-.5-1.9-1.5-.1zM263.3 72.5l-.3 0-1.3 1.4 .5 1.2 1.1-.2 .7-1.4zM258.4 97.5l1.9-.3 .1-.1-.1-1.1-1.6-.3-.5 .6zM277.8 84.8l-.6 .4-.4 1.3 .5 .8 .7 .2 1-1.1-.1-1-.6-.5zM208.6 74.9l.3 .4 .7 1 0 .8 .2 1.1 1.3 .1 1.2 .2 .1 0-1.6-3.2zM296.3 87.2l-1.8 .2-.2 1.3 .3 .6 .3 .1 1.1 0 1.1-1.2zM291.2 76.8l.9-.8 .1-.9-.5-.5-1.8-.2-.3 .3 .3 1.4zM292.2 82.7l.8 .5 1.8-.6 .2-1.1-2-.8-1 1.7zM254.8 88.5l-.8 .8-.1 .3 1.8 1.2 .5-.1 .2-1.5zM260.1 52.9l.3-2.1-1.7-.1-.1 .1-.1 1.9 .9 .5zM296 89.4l.7 1 1.1-.2 .5 .5 .7-1.4-1.7-1.1-.2 0zM298.9 83.6l-1.7-.2-.3 .4 .9 1.6 1.8-.7zM239 63l-2-.5-1.7 2.1 2.4 2 1.1-.9zM256.3 99.2l0 .7 .8 .8 1.1 .1 .3-2-.4-.6-.8 .1zM276.9 62.3l-.1-.3-2.1-.9-.4 .6 .7 1.9 .6 .2zM266.8 78.5l.2-1.2-1.2-.6-.8 .6 .1 1.6 .6 .3zM303.7 97.4l.4 1.5 1.8 .3 .4-.8-.6-1.5-1.7-.2zM279.9 48.9l-.9-.9-1.5 .7-.2 .5 1.1 1.1 1.2-.5zM299 89.3l.1-.1 .6-1.4-.4-1.1-1 0-1 1.5zM288.3 80.3l2.1-.3 .2-.3 0-1-1.7-.7-.8 .6zM285.1 66.9l.3-.8-1-1.2-1.2 1.8 .1 .5 .1 0zM307.5 70.4l.9 2.3 .7-.1 1-2.1-2.3-.4zM261.2 83.5l-.6-.3-1.3 1.4 0 .6 1 .7 1.4-.9zM261.3 93.1l1.3-.8-.3-1.3-.8-.3-1.8 1.2zM268.1 80.3l.6 1 .9 .3 1.3-1.2-1.4-1.6-.2-.1-.9 .6zM299.9 80.1l-.8-1.2-.6 .1-.9 1.2 .5 1.3 1.5 .2zM302.9 86.1l1.5-1.1 .1-.5 0-.3-1.4-.8-1.1 1.1 .1 1.1zM261.1 71.3l1.9 1.2 .3 0 .7-1.2-1.3-1.6-.3 0zM265.7 79.2l-.6-.3-.6 .1-1 1.4 0 .2 1.5 .6 .9-1zM324.9 33.8l-.6 1.5 .5 .6 1.6 .2 1-1.2-.2-.3zM256.7 58.7l-.3 .2 .6 2 1.5-.1-.2-2.1zM249.5 49.2l-1-.2-1 1.3 .2 1 1.3 .8 1.5-1.1zM291.7 68.7l1 1.6 .9-.3 .3-1-.6-1-1.6 .6zM278.5 42.9l1.6-.2-.5-1.4-1-.4-.8 .4zM260.6 83.2l.6 .3 1.9-.8-.2-.8-1.7-.7-.2 0-.6 1.5zM283.7 74.9l-2.2-.2-.5 .5 .1 .5 1.2 1.3 .7-.1 .1-.1zM299.5 51.1l2.1 .4-.3-1.5-.1 0-.7 .3-.8 .4-.4 .2zM282.4 45.9l.4 1.5 1.3-.3 .1-1.5-1.1-.3zM250.8 47.6l-.3 1.1 1.4 .6 .9-1-.7-1.3zM257.7 103l-1.4-.7-.5 .1 .4 1 1.3 .6 .2 .1zM263 72.5l-1.9-1.2-.1 .1-.6 1.3 .5 1 .8 .2zM276.6 42l0 1.8 .8 .3 .3-.1 .8-1.1-.7-1.6-.3-.1zM237.4 54.7l2-.4 .8-2.3-2.7-1-1.3 .7zM289.3 61.7l-1.1-.5-.8 1.2 .8 .9 1.4-.5zM269.3 67l.9 .1 1.1-1-.7-1.3-1.4 0zM300.9 82.3l.9-.3-.2-2-1.7 .1-.3 1.6 .1 .2zM276.8 46.5l.7-.3-.1-2.1-.8-.3-1 1.8zM310.1 65.3l-.7 1.2 .7 1 1.3-.1 .2-.6-1.1-1.5zM274.9 47.9l.3 1.3 1.3 .4 .8-.4 .2-.5-1-1.4zM294.5 86.2l-1.1-1.3-.7 .4-.2 1.6 1.8 .2zM287.2 44.8l-.2 .7 .7 1.4 .3 .1 1-.9-.7-1.7zM281.6 81.9l0-.2-.7-.4-2 .8 .6 1.2 1 .3zM305.3 92.8l-.5-1-1.2-.1-.6 1 .1 .7 1.5 .3zM302 84.5l-1.3-.6-1.1 .8 .4 .9 1.1 .4 1-.4zM283 76.9l.5 2 1.4-.2 .3-1.3-2.1-.6zM249 90.8l-.9-.7-2.1 1.6 .3 1.6 .4-.7 1.2-.5 1.2 .3zM204.5 63.6l-1.6-2.3-2.2 .1 .1 .1 .6 .5-.4 .7 .3 1.5 .3 1.2zM295.1 61l-1.4-.8-.1 0-.4 1.3 .7 .9 1.3-.5zM256.2 90.7l.7 .4 1.3-1.1-.4-.9-.8-.3-.6 .4zM269.1 75l.4 1.5 1.2-.2 .2-1.9-.6-.3zM258.3 58.7l.2 2.1 .1 .1 1.5-.7-.4-1.3-1.3-.2zM278.4 50.3l-.2 1.2 1.7 .2 .3-.6-.6-1.3z"/>
<path fill="#239edc" stroke="#239edc" d="M232.6 58.4l-2.7 .7-1.1 3.5 3.9 .8 1.5-3.3zM251.9 45.4l1.7-1.5-1.4-1.1-.5 .1-1.3 1.9zM258 69.4l1.5 1.2 .4 0 .5-1.8-1.5-.5-.9 .4zM276.1 81.7l.1-.2-.2-1.8-1.1-.3-.7 .4-.1 1.4 .2 .2zM240.3 46.3l.1 1.4 .8 .7 3 .2 1.2-2.4-1.8-1.6-2.4 .4zM218.4 78.1l-2.4-2.1-2.8 2.6 .4 0 1.3 .2 1.2 .1-.3 .7 1.1 .6 .7 .5zM233.2 55.5l-.8-1.4-1.2-.6-3.5 1.3-.5 1.2 2.7 3.1 2.7-.7zM233.5 64.7l-.4 1.3 2.1 2.8 2.4-1.6 .1-.6-2.4-2zM224.9 77.4l0-4.1-4.6-.5 .5 4.5 2.7 1.3 .2 0zM278.3 80.5l.9-.7-.1-1-1.3-.9-.6 .2-.3 1.1zM239.5 62.6l.4-1.8-2.6-2-1.5 1.3 1.2 2.4 2 .5zM271.6 86.2l1.5 1.3 .9-1.2-1-1.3-.8 .1zM297.2 61.9l.1-.5-.7-1.6-1.5 1.2 .1 .9 .4 .4zM265.3 85.5l-1 .6-.4 .9 .7 .8 1.1-.2 .4-1zM284.1 47.1l-1.3 .3 .2 1.4 1.7 .1 .4-1.1zM319.6 39.1l1 .4 1.3-1.2-1.3-1-.6 .1zM220 72.5l-.4-2.5-2.3-.8-3.8 1.5 .3 2.1 2.1 2zM250.3 86.4l1.2 0 .7-1.4-.6-.6-1.9 .2zM303 92.7l.6-1-.7-1.6-.2 0-1.1 1.7zM322.3 32.5l.9-1.1-.3-1.1-.2-.1-1.6 .5-.2 .9 0 .2zM285.8 45.9l-.1 1.7 .4 .1 1.6-.8-.7-1.4zM278.8 69.4l-.3 .4 .3 1.2 .3 .2 1.9 .1 .3-2zM241.8 80.2l4.1-1.4-1-2.7-1-.5-2.2 .7-1.3 2.4zM272.2 46.7l1.3 1.1 1.2-.1-.1-1.7-2.2-.2-.1 .1zM255.9 93l-.3 1.3 .9 .4 1.3-.5 .1-1.7-.7-.3zM284.5 42.1l-.8 1.1 1.2 1.3 1.1-.7 .2-1.1zM294.9 89.4l-.3-.1-1.8 1.2 .3 .1 .8 1.3 .9 .1zM321 43.4l-.9 .2-.3 1 .3 .7 1.4 .3 .7-1.2zM260.4 82.7l.6-1.5-1.6-1-1 1.1-.1 .8zM230.4 68l-2.1-1.7-3.4 2.5 1.3 3.2 2.8 .2 1.6-2.3zM272.6 79l-1.1 1.5 .6 1 2-.3 .1-1.4zM218.1 56.5l-3.6 .4 .5 3.1 2.3 1 2.8-1.7zM285.2 77.4l-.3 1.3 .9 1.1 1.3-1.4-.9-1.6-.3 .1zM292.5 86.9l-.7 .6 0 .2 .6 .8 1.9 .2 .2-1.3-.2-.3zM270.9 74.4l.9-.3 .1-1.9-.5-.5-1.4 .5-.2 .9 .5 1zM269.8 73.1l-2.1 .4-.1 1 1.5 .5 1.2-.9zM254 92l-.7 .8 1.9 1.6 .4-.1 .3-1.3-.9-1.1zM269.5 76.5l-.4-1.5-1.5-.5-.3 .4 .6 1.9 1 .3zM284.2 45.6l-.1 1.5 1 .7 .6-.2 .1-1.7-1-.7zM286.4 65.9l1.1 1.2 .8-.4 .5-1.2-.9-1-1.2 .1zM309.1 102.7l-.7 .1-1.1 1.3 .1 .1 .1 .3 .8 .9 .3-.2 .9-.7 .6-1zM300.6 91.3l-.2-1.6-1.3-.5-.1 .1-.7 1.4 .9 .8 .4 .3zM293.4 79.4l2.2-.1 .2-1.2-1.7-1-.2 .1-.8 1.3zM271.3 66.1l.9 .2 .9-1.5-.2-.7-.4-.4-1 .1-.9 1zM260.8 103.8l-.3 1.4 .2 .1 1.2-.3-.3-1.4zM310.1 67.5l-.7-1-1.2 .2 .3 1.7 1 0zM290.1 73.1l-.2 1.3 1.8 .2 .2-1.8-.7-.2zM266.4 89.6l-.2 .1-.4 .9 .8 1.3 1.3 .1-.2-2zM274 71.5l-1.2-1.2-1.3 1.2-.1 .2 .5 .5 1.9 .1zM286.9 89.3l1-1.6-2.4-.9 0 2.1 .1 .2zM243.4 33.6l-1.8 .5-.2 .5 1 3.2 1 .1 1.8-1.9-.1-1.4zM260.5 76.2l.7 1.3 1.5 .2 .2-.4-.9-1.9-1.5 .7zM269.2 71.5l.8 .7 1.4-.5 .1-.2-1.1-1.9-.5 0zM308.2 66.6l0 .1 1.2-.2 .7-1.2-.9-.9-1.6 .4zM320.4 41.2l.5-1.1-.3-.6-1-.4-.6 .2 .2 2.2zM322.9 30.3l.3 1.1 1.1 .4 1-.8-.2-.4-.4-1.2-.1 0zM287 67.9l.7 1.2 1.2 .4 .7-.6-.1-1.1-1.2-1.1-.8 .4zM268.9 63.4l.1 1.2 .2 .2 1.4 0 .9-1-1.6-1.6zM209 59.6l3.6 2.6 2.4-2.2-.5-3.1-5.3 1.3-.3 .7zM246.3 71.1l-1.2-2.3-2.7-.6-.4 .6 1.1 3.4 .5 .2zM277.9 74l-.3-.3-1.8 0-.5 1 1.3 1zM267.3 82.9l-.6-.6-1.6-.1-.9 1.1 1.4 1.2 1.8-.5 .1-.1zM260.4 72.7l.6-1.3-1.1-.8-.4 0-1.3 1.4 .3 .9 .2 .1zM305.1 49.1l.6-1.4-.2-.4-1-.5-1.1 .3 .2 .4 .3 .5-.2 .3-.3 .3zM278.6 88.5l-1.1 1.5 1.4 .9 1.1-1 0-.7-.4-.5zM285.2 70.6l.4 1.3 1.6-.6-.3-1.1-1.2-.2zM279.3 44.8l1.2-1.3 0-.6-.4-.2-1.6 .2-.8 1.1zM279.6 65.5l-.6-2.2-.7 .1-1 1.6 1.9 .8zM261.1 94.8l-.8 1.2 .1 1.1 1.9 .2 .5-.8-.9-1.5zM275.3 84.4l-.4 1.8 .3 .3 1.6 0 .4-1.3zM274.2 83.7l.9 .3 1.1-1.1-.1-1.2-1.8-.3-.3 1.9zM265.8 90.6l-1.1 .5-.2 1.5 1.1 .4 1-1.1zM303.2 50.6l-.4 .7 1.3 1 1.2-.7-.4-1.4zM297.5 71.1l-1.2 .8 0 .5 .9 .9 1-.2 .1-1.6zM275.2 67.1l-.6-.1-.4 2 .4 .3 1.6-.3 .1-.9zM277.8 67.4l1 1.6 1.2-1.5-.9-1.5zM267.5 69.9l-1.5 1.8 .3 .6 1 .4 1.1-1.2-.9-1.6zM280.6 46.5l.1-.4-1.2-.7-1.2 1.1 .7 1.4zM270.3 88.6l.1 1.1 1.5 .7 .3-.5-.3-1.5-.8-.3z"/>
<path fill="#1292d7" stroke="#1292d7" d="M277.2 78.1l.6-.2 .7-1.4-1.9-.7-.7 1.4zM208.8 54.2l.4 4 5.3-1.3-.7-4-.1 0zM234.9 69.7l.3-.9-2.1-2.8-2.7 2 .2 1.9 3 .6zM251.2 88.6l-1.8-.8-1.1 .2-.3 .5 .1 1.6 .9 .7 1.2-.2 1-1.4zM217.6 64.2l-1.2 .9 .9 4.1 2.3 .8 2.6-2.6-.2-2.6zM246 79l2.7-.8 .3-.3-.4-2.6-.7-.9-.2 0-2.8 1.7 1 2.7zM287.2 71.3l.1 0 1.7-.3-.1-1.5-1.2-.4-.8 1.1zM257.1 100.7l-.8 1.6 1.4 .7 .7-.6-.1-1.6-.1 0zM284.8 91l.8-.1 1.1-.1 .3-1.3-.1-.2-1.3-.2zM265.7 75.1l1.6-.2 .3-.4 .1-1-.4-.8-1-.4-1.2 1.5zM285.4 68.7l.3 1.3 1.2 .2 .8-1.1-.7-1.2-1 .2zM260.8 103.8l-.8-.4-1.3 1.2 1 .3 .8 .3zM243.9 75.6l-.3-3.2-.5-.2-2.9 .7-.4 1.1 1.9 2.3zM239.2 70.4l1 2.5 2.9-.7-1.1-3.4-2.5 1zM323.2 46.5l-.4 .2 .1 1.5 .6 .7 .4 0 .6-.1 .9-.3-.2-1.2-.1-.2zM212.4 40.9l-.2-.6-4-1.8-1.1 1.5 .8 4 3 .1zM271.4 68.7l.6 0 .6-1.8-.4-.6-.9-.2-1.1 1zM264.2 83.3l-.3 0-.9 1.7 1.3 1.1 1-.6 .3-1zM274.2 76.1l.5-1.2-1.2-1-1.1 .5 .2 1.4zM241.8 63.5l-2.3-.9-.5 .4-.2 2.7 3.3 .7zM303.6 96l-1-2-1.3 .3 0 .1 0 1.1 .2 .6zM310.5 58.6l-2-.1-.3 .9 .7 1.5 1.8-1.1 .2-.7zM303.2 87.3l-1.2 1-.1 1 .8 .8 .2 0 .9-.3 .6-1.9 0-.2zM231.2 53.5l-.7-5.2-1.6-.6-1.3 .4-1.4 4.3 1.5 2.4zM236.6 55.9l.8-1.2-1.2-3-.9-.1-2.9 2.5 .8 1.4zM239.8 74l.4-1.1-1-2.5-2.2 .9-.6 2.9 .5 .5zM280 89.2l0 .7 1.4 1.4 1.3-1-1-1.5zM294.8 65.7l.4-1.6-1.6-.5-1 .4-.2 .5 .4 1.1zM286.9 81l-.3 1 1 1.2 1.7-.8-1.4-1.7zM277.5 46.2l.8 .3 1.2-1.1-.2-.6-1.6-.8-.3 .1zM281.3 69.3l-.3 2 .7 .6 1.6-1.2 .1-.3-.2-.7-1.8-.4zM296.7 77.6l-.9 .5-.2 1.2 .3 .8 1.7 .1 .9-1.2zM272.6 75.8l-.2-1.4-.6-.3-.9 .3-.2 1.9 1 .6zM266.8 78.5l-1.1 .7 .2 1 .8 .5 1.4-.4 .3-1zM309.2 64.4l.5-1.8-.4-.3-2 .8-.2 1.3 .2 .3 .3 .1zM303.5 73l-.9 1.2 .3 1.6 .1 0 1.4-.7 .1-1zM294.9 89.4l-.1 2.6 .2 0 .9-.8 .8-.8-.7-1zM311.7 45l.9-1.6-.2-.2-1.6-.2-.7 .4 .3 1.1zM274.7 45.9l-.1 .1 .1 1.7 .2 .2 1.6-.6 .3-.8-1.2-.9zM322.8 37.2l1.6 .6 .2-.1 .2-1.8-.5-.6-.2 0-1.4 1.4zM265 81.2l-1.5-.6-.6 1.3 .2 .8 .8 .6 .3 0 .9-1.1zM237.5 58l-.9-2.1-3.4-.4-.6 2.9 1.6 1.7 1.6 0 1.5-1.3zM271.7 76.9l-1-.6-1.2 .2-.6 .6 .4 1.6 .2 .1 2.3-1.1zM283.3 70.7l-1.6 1.2 0 .7 1.8 .7 .7-.7zM262.1 79.5l1.4 .9 1-1.4-1.7-1.1zM274.9 79.4l.1-2-.4-.3-2.2 1.1 .2 .8 1.6 .8zM304.2 70.4l-1 1.7 .3 .3 2.3-.2 .2-1.5zM277.6 73.7l.3 .3 1.1 .3 .1-.1 .5-.8-.5-2.2-.3-.2-1.3 1.2zM282.4 45.9l-1.2-.2-.5 .4-.1 .4 .9 1.1 1.3-.2zM271.3 83.8l-1.5 1 0 1.4 1.1 .3 .7-.3 .6-1.1zM301.7 55.2l1.2-.8 0-.7-1.3-1.1-.9 .7-.1 .6zM280.9 48.9l.6-1.3-.9-1.1-1.6 1.4 0 .1 .9 .9zM202.9 61.3l.8-3.4-.3-.3-3.6-.7-.2 .7 .9 1.1-.1 .9-.1 .9 .4 .9zM272.7 62.2l-.2 1.5 .4 .4 2.1-.5-.7-1.9zM297 76.3l0 .2 2.3 .4 .4-1.5-.7-.5-1.6 .5zM276.6 43.8l-2.5-.5 .6 2.6 .9-.3zM277.6 67.3l-1-1.3-1.4 1.1 1.1 1zM280.5 43.5l.8 .8 1.4-.1 .6-1-1.5-1.1-1.3 .8zM233.4 31.3l2 1.5 1.5-.4-.1-2-.9-.2-1-.1-1-.2-.2 0zM276.6 66l.2-.9-1-.7-1.3 1.3 .1 1.3 .6 .1zM282.3 49.7l.7-.9-.2-1.4-1.3 .2-.6 1.3 1 .9zM307.9 96.4l.6-1-2-.7-.4 .3-.2 1.7zM276.2 82.9l1.2 .4 1.2-1.3-.4-.9-2 .4-.1 .2zM322.7 36.7l1.4-1.4-1.8-.8-.8 1.4zM214.5 56.9l3.6-.4 .9-2-1.3-1.9-3.9 .3zM217.7 52.6l1.3 1.9 2.8-.3 .9-2.1-.8-1.8-2.8-.6zM254.6 98l1.7 1.2 1-.9-1.1-1.5-1 .2zM288.4 90.2l-1.4-.7-.3 1.3 1.3-.2 .5-.2zM322.7 30.2l.2 .1 1.7-.9-1.1-.5-.6 .4-.4 .3zM242.7 55.2l-.4-2.9-1.6-.6-.5 .3-.8 2.3 1.3 1.3zM275.5 73.1l.3 .6 1.8 0-.1-1.5-1.3-.4zM313.7 56.9l-1 .7-.2 1.3 .3 .2 1.5 .1 .3-1.6zM304 96.7l1.7 .2 .2-.2 .2-1.7-1.2-.4-1.2 1.4zM299.8 78l-.5-1.1-2.3-.4-.3 1.1 1.8 1.4 .6-.1zM300.6 91.3l-1 .5 .8 .8 .6 .3 .4-1.1zM279.3 44.8l.2 .6 1.2 .7 .5-.4 .1-1.4-.8-.8zM267.2 86.6l-1.1 0-.4 1 .8 1 1.2-1zM285.5 86.8l-.1-.2-1.6 .5-.3 .5 .5 1.2 1.5 .1zM303.8 89.8l1.7 .6-.3-.6-.7-1.5-.1-.4zM297.8 85.4l-.1 .2 .6 1.1 1 0 .7-1.1-.4-.9zM322.7 30.2l-.2-.6-.1 .1-.9-.5-.3 1.2-.1 .3zM252.9 79.2l-.3 1.1 1 .9 1.5-.8-.1-.5-1.8-.9z"/>
<path fill="#0c86d2" stroke="#0c86d2" d="M244.9 76.1l2.8-1.7-1.4-3.3-2.7 1.3 .3 3.2zM242.4 59.5l.2-.1 1.2-3.6-1.1-.6-2 .4-.6 1.7 2.1 2.2zM270.3 88.6l.8-.5-.2-1.6-1.1-.3-.2 .2-.7 1.6zM271.5 71.5l1.3-1.2 0-1-.8-.6-.6 0-1 .9zM224 57.9l-.1 0-2.4 1.7 .6 5.1 5.4-1.7zM270.6 91.9l1.3-1.5-1.5-.7-.8 .6 0 1.7zM297.3 61.4l-.1 .5 .7 1.3 1.4 0 .5-.6-.3-1.6-.1-.1zM278 87.5l.6 1 1 .2 .7-1.6-1.3-.7zM207.7 49.7l3.6-.8 .8-3.3-1.2-1.5-3-.1-.9 .8-.4 3.9zM212.8 64.8l3.6 .3 1.2-.9-.3-3.2-2.3-1-2.4 2.2zM250.5 48.7l-1 .5 1 1.8 .7 .1 .8-1.4-.1-.4zM306.8 101.5l.1-.9-.7-.6-1.3 .8 .6 1.3 .4 .5zM235.2 68.8l-.3 .9 2.1 1.6 2.2-.9 .3-.6-1.9-2.6zM247.5 50.3l-2.9-.9-.6 2.2 1.9 1.6 1.8-1.9zM306.3 52.7l-.6 1.4 1.6 .5 .8-.9-.7-.9zM260.3 101.6l1.1-.1 .1-.6 .2-.5-1.2-1.1-.8 1.5zM313.8 56.3l-1.1-1-.9-.1-.1 1.6 1 .8 1-.7zM229.9 59.1l-2.7-3.1-3.2 1.9 3.5 5.1 .4 .1 .9-.5zM305.8 72.2l-2.3 .2 0 .6 1 1.1 1.1-.4 .3-1.3zM283.8 68.7l-.6 1 .2 .7 1.8 .2 .5-.6-.3-1.3zM267.4 94l.5 1 .7-.5 1.1-.6 .1 0-.3-1.7-1.5-.1zM308.4 102.8l.7-.1 .2-1.5-.4-.7-.8-.3-1.2 .4-.1 .9zM242.1 82.6l-.5 1 1.5 2.8 .7 .3 2.6-2-1-2.3zM312.5 58.9l-1.6 .2-.2 .7 .8 1.8 1.2-.3 .1-2.2zM315.5 55.3l-.9-1.4-.6 0-1.3 1.4 1.1 1zM283.3 67.2l-1.9 .8 0 1.3 1.8 .4 .6-1-.4-1.5zM307.1 64.4l-2.1-.3-.4 .3 1.1 2.3 1.6-2zM267.3 72.7l.4 .8 2.1-.4 .2-.9-.8-.7-.8 0zM295.6 62.3l-.4-.4-1.3 .5-.3 1.2 1.6 .5 .4-.2zM283 90.3l-.3 0-1.3 1-.3 .7 1.7 .9 .9-.8-.5-.7 .7-.3zM289.5 67.8l.1 1.1 1.2 .3 .9-.5 0-.1-.6-1.7-.2-.1zM293.7 72.6l-.8-.2-1 .4-.2 1.8 .5 .5 1.2-.5 .7-1.4zM226.2 72l-1.3 1.3 0 4.1 3.2 .2 2.1-3.3-1.2-2.1zM309.3 49.5l-.3-1.8-.8-.4-.9 .7 .1 1.3 1.3 .5zM303.7 97.4l.3-.7-.3-.7-.1 0-2.1 .1 0 .3 .3 .9 .4 .5zM290.6 78.7l0 1 2.4 .9 .4-1.2-.3-.9-1.9-.4zM276.5 47.3l1 1.4 1.5-.7 0-.1-.7-1.4-.8-.3-.7 .3zM302.6 94l.5-.6-.1-.7-1.4-.9-.2 0-.4 1.1 .4 .3-.1 1.1zM202.4 44.2l.6-.5 0-3.4-.8-.9 0 .2-.9 1.2-.9 1.2 .1 1.3 0 .7zM289.6 74.7l.3-.3 .2-1.3-.9-.8-1.5 1.2 .9 1zM320.9 40.1l-.5 1.1 1.1 1 1.2-.4-.4-1.4zM314.3 59.2l-1.5-.1-.1 2.2 1.3 .6 .7-2.3zM219 54.5l-.9 2 2 2.8 1.4 .3 2.4-1.7-2.1-3.7zM274.7 74.9l.6-.2 .5-1-.3-.6-1.6-.5-.4 1.3zM264.5 92.6l.2-1.5-1.4-1-1 .9 .3 1.3 1 .8zM282.3 77l-1.1 1.2 .2 .7 1.5 .8 .6-.8-.5-2zM240.1 57.3l.6-1.7-1.3-1.3-2 .4-.8 1.2 .9 2.1zM256.8 96l-.6 .8 1.1 1.5 .8-.1 .3-.7-.2-1.2zM299 74.9l.7 .5 .7-.2 .6-1.6-.1-.2-.9-.6-1.3 .5zM276.2 81.5l2-.4 .1-.6-1.4-1.3-.9 .5zM315.5 55.3l.7 1.9 .2 .1 .3-.5 .4-1.4-.1-.8zM273.1 64.8l-.9 1.5 .4 .6 2 .1-.1-1.3zM257.9 66.3l-.5-.6-1.7 .2-.4 .4 .1 .3 1.8 1.2zM322.2 34l.3-.7-.2-.8-1.4-.7-.2 1-.3 .7 0 .3zM238.8 65.7l-1.1 .9-.1 .6 1.9 2.6 2.5-1 .4-.6-.2-1.8-.1 0zM276.8 86.5l-1.6 0 0 1.7 .7 .6 1.4-1.5zM264.3 68.3l1 1.1 1.6-.3 .2-1.7-2.3 0zM260.3 101.6l-.6 1.2 .3 .6 .8 .4 .8-.2 0-.1-.3-1.5 .1-.5zM298.9 59.7l-1.6-.6-.6 .3-.1 .4 .7 1.6 2.1-.5zM280.3 87.1l-.7 1.6 .4 .5 1.7-.4 .2-.8-.7-1.2zM283.8 68.7l1.6 0 .6-.6-.9-1.2-1.7 .3zM269.3 69.3l.6 .3 .5 0 1-.9-1.2-1.6-.9-.1-.5 .4zM324.3 31.8l-1.1-.4-.9 1.1 .2 .8 2-.1zM213.8 37.1l-1.1-1.9-2.5-.4-2.1 3 .1 .7 4 1.8zM291.2 72.6l.7 .2 1-.4-.5-1.6-1.5 .1-.2 .2zM304.1 98.9l-.4-1.5-1.5 .4 .5 .6 .8 1.2zM323 39.4l.8-.1 .6-1.5-1.6-.6-.8 1.1zM222.1 64.7l-.6-5.1-1.4-.3-2.8 1.7 .3 3.2 4.4 .6zM302.4 58l-2 .5 .9 1.8 .4 .1 .5-.3zM243.6 44.6l.4-2.8-2.5-.5-1.1 1.5 .8 2.2zM279 86.4l1.3 .7 .9-.3 0-.2-.6-1.6-1.7 .4zM214.9 45.6l-2.8 0-.8 3.3 2.1 1.8 3-2.6zM307.9 68.9l.6-.5-.3-1.7 0-.1-2 .7 0 .5zM326.7 36.9l-.8 1.3 .3 .6 .4-.3 .5-.6 .5-.6 .1 0zM321.9 38.3l.1 0 .8-1.1-.1-.5-1.2-.8-.1 0-.8 1.4z"/>
<path fill="#0a7acd" stroke="#0a7acd" d="M263.5 93.8l.9 1.2 .8 .1 .7-1.6-.3-.5-1.1-.4-.9 .5zM265.2 95.1l-.8-.1-1 1.4 1.5 .9 .1-.1 1.1-.8 .2-.1zM227.7 54.8l-1.5-2.4-3.5-.3-.9 2.1 2.1 3.7 .1 0 3.2-1.9zM244.2 48.6l-3-.2-.5 3.3 1.6 .6 1.7-.7 .6-2.2zM217.8 28.4l-4 .3-.8 1.2 1.3 3.2 4.6-.1 .1-.3zM298 56.6l.1 .5 1.8 .9 .9-1.6-1.8-1.1zM240.4 47.7l-2.5 1.3-.4 2 2.7 1 .5-.3 .5-3.3zM227.5 63l-5.4 1.7-.1 .1 .2 2.6 2.7 1.4 3.4-2.5-.4-3.2zM291.1 66.9l.6 1.7 1.6-.6 .1-.4-.7-1.7zM272.6 79l-.2-.8-.6-.5-2.3 1.1 1.4 1.6 .6 .1zM308.3 98.2l-.2 2 .8 .3 1.1-1.3 0-.6-.2-.5zM320 37.4l.6-.1 .8-1.4-1.1-.6-.4 1 0 .5-.7 0zM295 81.5l.4-.3 .5-1.1-.3-.8-2.2 .1-.4 1.2 0 .1zM233.3 82.6l-.4 2.1 .9 .1 1.1 .1 1.1 .1 1.1 .2 0 .1 .5 .5 1-1.7-1.6-3-1-.2zM306.7 92.8l-.2 1.9 2 .7-.2-.4-.5-1.2-.7-.8-.2-.3zM314.6 53.9l.9 1.4 1.5-.7-.1 0-.1-.9-.2-.6 .3-.1-1.6-.2zM266.7 80.7l0 1.6 .6 .6 1.4-1.6-.6-1zM318.5 48.1l-.8 .7-.1 .4 .9 .8 1 0 .9-1.7zM245.8 55.5l.2-.4-.1-1.9-1.9-1.6-1.7 .7 .4 2.9 1.1 .6zM296.1 67.4l2.3-.1 .3-.5-.4-1.2-1.1-.5-1.4 1.9zM237.5 42.9l0 2.3 2.8 1.1 .9-1.3-.8-2.2-2.2-.4zM274.6 69.3l.3 1.7 1 .2 1-1.4-.7-.8zM297 64.3l.9-1.1-.7-1.3-1.6 .4 0 1.6zM299.9 58l.2 .4 .3 .1 2-.5-.5-1.6-.3-.2-.8 .2zM247.7 38l-2.1 2.7 2.1 1.8 .4 0 1.5-1.1 0-1.9-.9-1.2zM301.6 70l-1.7-1-.9 .2 .3 1.9 .7 .4 1.6-.8zM306.5 45.8l-.1-.6-.4 .1-1 .1-.4 .1-.1 1.3 1 .5zM233.3 42.8l.4 2.1 3 .8 .8-.5 0-2.3-3.3-1.2zM280.2 51.1l1.4-.4 .3-.9-1-.9-1 0-.3 .9zM321.9 38.3l-1.3 1.2 .3 .6 1.4 .3 .7-1-1-1.1zM277.3 87.3l-1.4 1.5 0 .3 .9 1.1 .7-.2 1.1-1.5-.6-1zM236.1 39.2l.1-2.5-2-1.1-1.2 .3-1.1 2.3 2.3 2.5zM251.7 42.9l-1.7-1.4-.4-.1-1.5 1.1 1.7 2.3 .6 0zM299.3 71.1l-1 .4-.1 1.6 .5 .2 1.3-.5 0-1.3zM269.6 81.6l-.9-.3-1.4 1.6 .2 1 .9 0 1.4-1.4zM321.4 35.9l.1 0 .8-1.4-.1-.5-1.8-.2 .1 1.2-.2 .3zM245.9 63.3l-2.8-1-1.3 1.2 .3 2.9 .1 0 3.6-1.7 .3-.8zM301.9 56.4l1.9-.4 0-.9-.9-.7-1.2 .8-.1 1zM306.9 100.6l1.2-.4 .2-2-.3-.2-1.7 .4-.4 .8 .3 .8zM281.3 44.3l-.1 1.4 1.2 .2 .7-.6-.4-1.1zM297.5 71.1l.8 .4 1-.4-.3-1.9-.3-.1-1.2 .4-.1 .1zM281.7 88.8l1 1.5 .3 0 1-1.5-.5-1.2-1.6 .4zM294.1 73.2l-.7 1.4 1.2 1.2 .7-.3 .3-1.1-1-1.1zM243.9 90.5l.6-2.4-.7-1.4-.7-.3-3.1 2 .8 .7 .6 1.5 .2 1 .1 .2zM289.5 67.8l1.4-1-1.1-1.5-1 .2-.5 1.2zM274 86.3l.9-.1 .4-1.8-.2-.4-.9-.3-1.2 1.3zM319.5 50l.8 1.1 .3-.2 .7-.6-.4-.6 .6 .1-.6-1.2-.5-.3zM316.6 51l.3-1.4-1.4-.4-1 1.2 .2 .8zM276.2 69l.7 .8 1.6 0 .3-.4 0-.4-1-1.6-.2-.1-1.3 .8zM285.6 89.1l-.1-.2-1.5-.1-1 1.5 .9 .8 .3-.1 .6 0zM220.3 72.8l-.3-.3-4.1 2.3 .1 1.2 2.4 2.1 2.4-.8zM273.1 87.5l-1.2 .9 .3 1.5 1.3-.5 .2-1.2-.6-.7zM267.4 94l-1.5-.5-.7 1.6 1.1 1.2 .9-.7 .7-.6zM237 62.5l-1.2-2.4-1.6 0-1.5 3.3 .8 1.3 1.8-.1zM255.2 100.5l0 .1 .5 1.4 .1 .4 .5-.1 .8-1.6-.8-.8zM310.9 62.5l.6-.9-.8-1.8-1.8 1.1-.1 .2 .5 1.2 .4 .3zM316.9 49.6l.7-.4 .1-.4-1.3-1.3-.7 0-.5 .8 .3 .9zM275.9 71.2l.3 .6 1.3 .4 1.3-1.2-.3-1.2-1.6 0zM248.5 49l-.6-2-2.5-.8-1.2 2.4 .4 .8 2.9 .9zM272.9 91.5l-1-1.1-1.3 1.5 1.6 1.2 .3 0zM234.2 35.6l1.2-2.8-2-1.5-3.2 1.4 2.8 3.2zM226.8 82.6l1.1-.1 2-2.6-1.8-2.3-3.2-.2-1.2 1.2zM316 43.2l-1.4-1.4-1.3 1.7 1 .9 .4 .1zM288.9 69.5l.1 1.5 .3 .2 1.4-.1 .2-.2-.1-1.7-1.2-.3zM258.4 102.4l1.3 .4 .6-1.2-.6-.8-1.4 0zM302.7 90.1l-.8-.8-1.5 .4 .2 1.6 .8 .5 .2 0zM308.4 51.4l.3-1.6-1.3-.5-.8 .5 .3 1.2 1.5 .4zM322.2 44.4l-.7 1.2 .4 .8 .9 .3 .4-.2 .3-.9-.7-.3 .1-.8-.3-.2zM306.3 98.4l1.7-.4-.1-1.6-2 .3-.2 .2zM293.4 67.6l2.2-.7-.8-1.2-2-.1-.1 .3zM257.7 104.1l1 .5 1.3-1.2-.3-.6-1.3-.4-.7 .6zM305.6 58.8l1.8-1-.4-1.3-1.3-.2-.7 .6zM292 90.2l.3 .1 .5 .2 1.8-1.2-.3-.6-1.9-.2zM306.2 67.3l-.5-.6-2 .4 0 .6 .8 1 1.1 0 .6-.9zM272.8 69.3l0 1 1.2 1.2 .9-.5-.3-1.7-.4-.3zM262.8 77.9l1.7 1.1 .6-.1-.1-1.6-1.2-.5-.9 .5-.2 .4zM287.3 71.3l.3 2.2 .1 0 1.5-1.2 .1-1.1-.3-.2zM234.1 73.7l2.3 .5 .6-2.9-2.1-1.6-1.3 .8zM300.9 73.4l.1 .2 1.6 .6 .9-1.2 0-.6-.3-.3-.8-.4z"/>
<path fill="#086fc7" stroke="#086fc7" d="M258.2 100.8l.1 0 1.4 0 .8-1.5-.1-.2-1.9-.3zM241.4 34.6l-2.9 1.4 1.5 2.9 .6 .1 1.8-1.2zM203.4 57.6l1-3.3-2.1-2-3.2 .3-.1 .6-.2 1.2 .5 1.2 .5 1.1 0 .2zM223.5 78.6l-2.7-1.3-2.4 .8-.8 2.6 .4 .2 1.2 .7 1.1 .7 .9 .5zM202.3 52.3l1.7-3.2-1.9-1.6-2.7 .7-.2 .4-.7 .8 .4 1.2 .4 1.3-.2 .7zM307 56.5l.7-.7-.4-1.2-1.6-.5-.2 .1 .2 2.1zM243.1 62.3l-.7-2.8-.2 0-2.3 1.3-.4 1.8 2.3 .9zM238.4 39.8l1.6-.9-1.5-2.9-.4-.1-1.9 .8-.1 2.5zM271.9 90.4l1 1.1 1.4-.3 0-1.2-.8-.6-1.3 .5zM306.9 51l-1 .9 .4 .8 1.1 .1 1-1.4zM312 51.2l.3-1-1-1.6-1.2 1 .8 1.8 .2 .1zM307.3 63.1l-.5-.6-1.5 0-.3 1.6 2.1 .3zM227.6 48.1l-3.2-1-2.5 3.2 .8 1.8 3.5 .3zM230.2 32.7l3.2-1.4 .3-1.4-.8-.2-1-.1-1.1-.2-1-.2-1-.2-.1 0zM224.5 31l-1.1-.5-4.4 2.2-.1 .3 .2 1 1.5 1.3 3.7 .2 1.2-1zM208.3 30l.5 .8 4.2-.9 .8-1.2-1.5-3.5-.6-.1-1-.3-.9-.3-.4-.1-.2 0-.1 .3 .2 .2-.2 .1zM236.8 76l-2 2 1.2 2.9 1 .2 2.7-2.3zM302.3 69l-.1 .5 1.7 .3 .6-1.1-.8-1zM202.1 47.5l.3-3.3-1.9-.2 0 .7-.3 .7-.2 1.2-.2 1.2-.4 .4zM271.1 88.1l.8 .3 1.2-.9-1.5-1.3-.7 .3zM307.4 49.3l-.1-1.3-1.6-.3-.6 1.4 .1 .4 1.4 .3zM244 41.8l1.5-1.1-2.1-2.8-1-.1-1.8 1.2 .9 2.3zM233.3 82.6l-2.4-2.7-1 0-2 2.6 3.1 3.3 .2 .1 1.2 .1 .1 0 .2-1.4 .2 .1zM309.5 45.4l-.7 0-.8 1 .2 .9 .8 .4 1.7-.7zM274.6 67l-2-.1-.6 1.8 .8 .6 1.4-.3zM305.4 59.3l.7 .8 2.1-.7 .3-.9-.1-.2-1-.5-1.8 1zM276.8 90.2l-.4 .9 .3 1.1 2.4-.1-.2-1.2-1.4-.9zM303.1 58l1.4-1.2-.7-.8-1.9 .4 .5 1.6zM313 53l-1.2 .6 0 1.6 .9 .1 1.3-1.4zM292.7 70.3l-.3 .5 .5 1.6 .8 .2 1-1.6-1.1-1zM306.5 106.3l.2-.1 1-.3 .6-.5-.8-.9 0 .4-.9 .5-.5 .2zM209.1 25l-.5 .2-.2 1.2-.8-.2-.8-.3-.7-.5-.7-.6-.1 1.3-.1 1.3 0 1.1 0 .7 3.1 .8zM309.8 55.2l2 0 0-1.6-.7-.6-1.7 .8zM270.6 91.9l-1 .1-.1 .2 .3 1.7 1.1-.5 .9-.2 .4-.1zM305.2 49.5l-.1-.4-1.7-.5-.6 .4 .4 1.6 1.7-.4zM308.4 58.3l.9-2.4-1.6-.1-.7 .7 .4 1.3zM319.6 46.2l.5-.9-.3-.7-2.2 0-.2 .7 .3 .9 .5 .3zM212.4 40.9l-1.5 3.2 1.2 1.5 2.8 0 1.9-2.8-.3-.9zM266.6 91.9l-1 1.1 .3 .5 1.5 .5 .6-1.9-.1-.1zM315.2 48.3l.5-.8-.5-.9-1.6 .1-.5 1.2 .3 .4zM308.3 98.2l1.5-.1-.4-.7-.5-1.2-.4-.8-.6 1 .1 1.6zM273.9 72.6l-.1-.3-1.9-.1-.1 1.9 .6 .3 1.1-.5zM208.6 31.7l1.6 3.1 2.5 .4 1.6-2.1-1.3-3.2-4.2 .9zM202.3 52.3l2.1 2 3.4-1-.1-3.6-1.1-1-2.6 .4zM253.8 98.3l.3 .3 1.1 1.2 0 .7 1.1-.6 0-.7-1.7-1.2zM311.7 56.8l-1.1 .6-.1 1.2 .4 .5 1.6-.2 .2-1.3zM312.3 39.5l-.4 .1-.6 .4-.6 .3-.5 .8 .3 .2 1.6-.3zM305.5 90.4l-.7 1.4 .5 1 1.4 0 .2-.1-.4-.6-.7-1.1-.3-.6zM276.6 92.6l.7 1.5 1.7-.5 .5-1-.4-.5-2.4 .1zM267.9 92l.1 .1 1.5 .1 .1-.2 0-1.7-1.2-.7-.7 .4zM293.1 78.5l.8-1.3-1.8-1.2-.9 .8 0 1.3zM274.7 93.4l-.2-2.1-.2-.1-1.4 .3-.4 1.6 .1 0 1.3 .3 .7 .2zM301.9 89.3l.1-1-1-.8-1.3 .3-.6 1.4 1.3 .5zM306.2 100l-.3-.8-1.8-.3-.6 .7 1.3 1 .1 .2zM322.7 41.8l-1.2 .4-.5 1.2 1.2 1 .4-.1-.3-.3 .2-.9 .3-1.2zM317.2 51.6l1-.2 .3-1.4-.9-.8-.7 .4-.3 1.4zM289.3 71.2l-.1 1.1 .9 .8 1.1-.5-.5-1.5zM300.9 65.2l-1.1-.7-1.5 1.1 .4 1.2 1.7 0zM315.5 49.2l-.3-.9-1.8 0 .1 1.4 1 .7zM269.8 86.2l0-1.4-1.4-.9-.9 0-.1 .1 .4 1.7 1.8 .7zM259.2 92.2l.4 1.9 1.4 .5 .3-1.5-1.6-1.2-.2 0zM227.9 82.5l-1.1 .1-1.9 2.3 1.2 .2 1.3 .2 1.3 .2 1.2 .2 1.1 .1zM263.4 96.4l-.6 .1-.5 .8 .2 1 .2 .2 .1-.1 1.1-.6 1-.5zM240.1 57.3l-2.6 .7-.2 .8 2.6 2 2.3-1.3zM323.2 46.5l1.9 .6-.3-1-.6-.4-.5 0-.2-.1z"/>
<path fill="#0865c0" stroke="#0865c0" d="M305.7 56.3l-.2-2.1-.1 0-1.6 .9 0 .9 .7 .8 .5 .1zM311.8 53.6l1.2-.6 .1-1.1-1.1-.7-.9 .3 0 1.5zM300.9 65.2l-.5 1.6 .3 .5 .8 .2 1.6-1.1-.1-.4-1.4-1zM223.4 30.5l1.1 .5 3.5-2.1-.2-.1-1-.2-1-.2-1-.2-1-.2-1-.2-.1 0zM228.1 77.6l1.8 2.3 1 0 2-2.3-1-2.7-1.7-.6zM320.4 48.3l.1-.6-.9-1.5-1.4 .3 .3 1.6 1.9 .2zM233 35.9l-2.8-3.2-2.4 2 1.5 4 2.6-.5zM297.2 73.3l-.3 .7 .5 1.4 1.6-.5-.3-1.6-.5-.2zM240.4 78.7l1.3-2.4-1.9-2.3-2.9 .7-.1 1.3 2.9 2.8zM292.8 65.6l-.4-1.1-2 0-.6 .8 1.1 1.5 .2 .1 1.6-1zM317.4 45.3l.2-.7-.3-1-.9-.5-.4 .1-1.3 1.3 .8 1.1zM216.8 42.8l3.5 1.9 1.3-.4-.3-4.2-.9-.7-2.9 .7-1 1.8zM311.8 55.2l-2 0-.4 .7 1.2 1.5 1.1-.6zM237 81.1l1.6 3 3-.5 .5-1-.3-2.4-1.4-1.5-.7 .1zM232 47.9l-1.5 .4 .7 5.2 1.2 .6 2.9-2.5-1.4-2.8zM226.8 82.6l-3.1-4-.2 0-2.3 4.2 .2 .2 1.2 .6 1.1 .7 1.2 .6zM308 46.4l.8-1-.5-1-.1 .4-1.1 .2-.7 .2 .1 .6zM318.2 51.4l-1 .2-.3 1.4 .9-.3 1-.6 .2-.1zM295.3 75.5l-.7 .3-.5 1.3 1.7 1 .9-.5 .3-1.1 0-.2zM305.6 68.7l.6 1.9 1.3-.2 .3-.3 .1-1.2-1.7-1.1zM321.5 42.2l-1.1-1-1.2 .3-.3 .3 0 .5 1.2 1.3 .9-.2zM277.3 94.1l-.7-1.5-1.9 .8-.1 .2 .5 .1 1.4 .3 .8 .3zM275.9 71.2l-1-.2-.9 .5-.2 .8 .1 .3 1.6 .5 .7-1.3zM228.7 29l-.7-.1-3.5 2.1 1 3.5 2.3 .2 2.4-2zM305.5 54.2l.2-.1 .6-1.4-.4-.8-.6-.3-1.2 .7 0 .7 1.3 1.2zM316.8 41.1l-2.1-.3-.2 .4 .1 .6 1.4 1.4 .4-.1zM276.4 91.1l-1.9 .2 .2 2.1 1.9-.8 .1-.4zM307.3 64.7l-1.6 2 .5 .6 2-.7-.6-1.8zM232.7 63.4l-3.9-.8-.9 .5 .4 3.2 2.1 1.7 2.7-2 .4-1.3zM290.8 69.2l.1 1.7 1.5-.1 .3-.5-1-1.6zM282.1 94.5l1.1 .6 1-.3-.4-.7-1-.3zM303.6 91.7l1.2 .1 .7-1.4-1.7-.6-.9 .3zM304.9 94.6l-.3-.9-1.5-.3-.5 .6 1 2 .1 0zM277.4 83.3l-1.2-.4-1.1 1.1 .2 .4 1.9 .8 .6-.4zM310.9 51.4l-.8-1.8-.8-.1-.6 .3-.3 1.6 .8 .5zM314.7 51.3l.6 1.5 1.6 .2 .3-1.4-.6-.6-1.9 .2zM310.1 43.4l.7-.4-.3-1.7-.3-.2-.4 .7-.9 1-.2 .3zM231.9 74.9l1 2.7 1.9 .4 2-2 .1-1.3-.5-.5-2.3-.5zM318 39.1l1 .2 .6-.2 .4-1.7-.8-.6-.3 .1-.2 1-.9 .2-.1 0zM236.7 45.7l-3-.8-1.7 3 1.9 .9 2.5-1zM315.7 38.6l-.9 .3-1 .2-.1 .1 1 1.2 1.2-1.1zM308.8 61.1l-1.7 .2-.3 1.2 .5 .6 2-.8zM305.2 49.5l-.3 .7 .4 1.4 .6 .3 1-.9-.3-1.2zM274.9 86.2l-.9 .1-.9 1.2 .6 .7 1.5 0 0-1.7zM304.1 53l-1.2 .7 0 .7 .9 .7 1.6-.9zM234.2 41.7l3.3 1.2 .7-.5 .2-2.6-2.3-.6-1.9 1.5zM318.5 50l-.3 1.4 .8 .6 .9-.5 .4-.4-.8-1.1zM282.8 92.9l0 .9 1 .3-.2-.2 .5-1.3-.4-.5zM322.9 48.2l-2 .4 .6 1.2 .3 0 .6-.9 .8 .1 .3-.1z"/>
<path fill="#085ab8" stroke="#085ab8" d="M236.7 45.7l-.3 2.1 1.5 1.2 2.5-1.3-.1-1.4-2.8-1.1zM227.8 34.7l-2.3-.2-1.2 1 .3 3.8 2.3 1.7 .8 0 1.6-2.3zM294.7 71l-1 1.6 .4 .6 .5 .1 1.7-.9 0-.5-1-1.1zM224.9 73.3l1.3-1.3-1.3-3.2-2.7-1.4-2.6 2.6 .4 2.5 .3 .3zM272.4 78.2l2.2-1.1-.4-1-1.6-.3-.9 1.1 .1 .8zM216.2 37.5l2.9-3.5-.2-1-4.6 .1-1.6 2.1 1.1 1.9zM233.9 48.8l1.4 2.8 .9 .1 1.3-.7 .4-2-1.5-1.2zM218.3 48.5l-1.9-.4-3 2.6 .3 2.2 .1 0 3.9-.3 1.4-2.9zM297.9 63.2l-.9 1.1 .2 .8 1.1 .5 1.5-1.1-.5-1.3zM221.9 50.3l2.5-3.2-1.2-2.2-1.6-.6-1.3 .4-2 3.8 .8 1.2zM274.3 90l0 1.2 .2 .1 1.9-.2 .4-.9-.9-1.1zM207 44.8l.9-.8-.8-4-4.1 .3 0 3.4zM304.5 56.8l-1.4 1.2 1.4 1.5 .9-.2 .2-.5-.6-1.9zM295.6 70.3l-.3 .5 1 1.1 1.2-.8-.1-1.5zM230.6 69.9l-1.6 2.3 1.2 2.1 1.7 .6 2.2-1.2-.5-3.2zM210.2 34.8l-1.6-3.1-4.5 2.6 0 .2-.2 .6 4.2 2.7zM320.9 48.6l2-.4-.1-1.5-.9-.3-1.4 1.3-.1 .6zM246 91.7l2.1-1.6-.1-1.6-3.5-.4-.6 2.4zM282.8 93.8l0-.9-1.7-.9-.6 .6 .9 1.9 .3-.2 .4 .2zM220.3 44.7l-3.5-1.9-1.9 2.8 1.5 2.5 1.9 .4zM303.7 60.4l.8-.9-1.4-1.5-.7 0-.2 2.1zM320.1 43.6l-1.2-1.3-1.6 1.3 .3 1 2.2 0zM314.5 50.4l-1-.7-1.2 .5-.3 1 1.1 .7 1.6-.6 0-.1zM323.8 39.3l-.8 .1-.7 1 .4 1.4 .1 .1 .1-.2 .6-.7 .8-.6 .3-.3zM234.8 78l-1.9-.4-2 2.3 2.4 2.7 2.7-1.7zM310.5 41.3l.3 1.7 1.6 .2 0-1.9-.3-.3zM313.2 46l-1.3-.4-1.1 1.5 .7 1 1.6-.2 .5-1.2zM298.9 59.7l.5 1.2 .1 .1 1.8-.7-.9-1.8-.3-.1zM306.1 60.3l1 1 1.7-.2 .1-.2-.7-1.5-2.1 .7zM313.1 51.9l-.1 1.1 1 .9 .6 0 .7-1.1-.6-1.5zM300.7 67.3l-.3-.5-1.7 0-.3 .5 .3 1.8 .3 .1 .9-.2zM299.8 62.6l-.5 .6 .5 1.3 1.1 .7 .7-.2 .4-1-.9-1.4zM300 71.5l0 1.3 .9 .6 1.5-1.7-.8-1zM224.6 39.3l-3.3 .8 .3 4.2 1.6 .6 3.7-3.9zM296.9 74l-1.3 .4-.3 1.1 1.7 .8 .4-.9zM304.1 52.3l-1.3-1-1 .3-.2 1 1.3 1.1 1.2-.7zM305 62.1l.3 .4 1.5 0 .3-1.2-1-1zM317.2 39.8l-1.3-.5-1.2 1.1 0 .4 2.1 .3 .3-.2zM318.5 48.1l-.3-1.6-.5-.3-1.3 1.3 1.3 1.3z"/>
<path fill="#0a4baa" stroke="#0a4baa" d="M301.1 62.6l.9 1.4 1.2-.6 0-1.1-1.4-.5zM233.7 44.9l-.4-2.1-4.3-.1-.1 5 1.6 .6 1.5-.4zM312.1 41l.3 .3 2.1-.1 .2-.4 0-.4-1-1.2-.9 .2-.5 .1zM223.2 44.9l1.2 2.2 3.2 1 1.3-.4 .1-5-1.3-1.7-.8 0zM317.7 46.2l-.3-.9-1.9 .3-.3 1 .5 .9 .7 0zM217.5 40.1l-1.3-2.6-2.4-.4-1.6 3.2 .2 .6 4.1 1zM318.9 42.3l0-.5-1.8-.9-.3 .2-.4 2 .9 .5zM305 62.1l1.1-1.8 0-.2-.7-.8-.9 .2-.8 .9 .2 1.3zM224.3 35.5l-3.7-.2-.2 4.1 .9 .7 3.3-.8zM308.5 58.5l2 .1 .1-1.2-1.2-1.5-.1 0-.9 2.4zM321.5 45.6l-1.4-.3-.5 .9 .9 1.5 1.4-1.3zM217.8 28.4l1.2 4.3 4.4-2.2-.7-2.7-1-.2-1-.2-1-.3-1-.2-.1 0zM303.2 63.4l1.3 1 .1 0 .4-.3 .3-1.6-.3-.4-1.1-.4-.7 .6zM231.9 38.2l-2.6 .5-1.6 2.3 1.3 1.7 4.3 .1 .9-1.1 0-1zM301.3 60.3l-1.8 .7 .3 1.6 1.3 0 .7-.8-.1-1.4zM237.6 32.7l-.7-.3-1.5 .4-1.2 2.8 2 1.1 1.9-.8zM302.2 69.5l-.6 .5 0 .7 .8 1 .8 .4 1-1.7-.3-.6zM304.5 68.7l-.6 1.1 .3 .6 1.8 .3 .2-.1-.6-1.9zM313.4 48.3l-.3-.4-1.6 .2-.2 .5 1 1.6 1.2-.5zM307.3 48l.9-.7-.2-.9-1.5-.6-1 1.5 .2 .4zM314.3 44.4l-1-.9-.7-.1-.9 1.6 .2 .6 1.3 .4zM298.7 69.1l-.3-1.8-2.3 .1 0 .4 1.4 1.7zM204 49.1l2.6-.4 .4-3.9-4-1.1-.6 .5-.3 3.3zM279.1 92.1l.4 .5 1 0 .6-.6 .3-.7-1.4-1.4-1.1 1zM208.6 31.7l.2-.9-.5-.8-3.1-.8 0 .5-.1 .9-.4 1.4-.2 1.4-.4 .9zM295.2 69l.9-1.2 0-.4-.3-.4-.2-.1-2.2 .7-.1 .4 .6 1zM302 64l-.4 1 1.4 1 1.5-1.6-1.3-1zM209.2 24.4l-.2-.1-.2-.1 .3 .5zM268.4 89.6l1.2 .7 .8-.6-.1-1.1-1.4-.6zM306.1 95l.4-.3 .2-1.9-1.4 0-.7 .9 .3 .9zM311.3 48.6l.2-.5-.7-1-.1-.1-1.7 .7 .3 1.8 .8 .1zM208.2 38.5l-.1-.7-4.2-2.7-.2 .4-.4 1.1-.6 1.5-.5 1.3 .8 .9 4.1-.3zM318 39.1l-.3-1-.9 .3-1 .2-.1 0 .2 .7 1.3 .5zM309.2 51.9l-.8-.5-1 1.4 .7 .9 1.3 .1zM279 93.6l-1.7 .5 0 .2 .6 .2 1.1 .6 .5-.1zM213.8 28.7l4-.3 .8-1.5-.9-.3-1-.2-1-.3-1-.2-1-.3-1-.2-.4-.2zM308.1 53.7l-.8 .9 .4 1.2 1.6 .1 .1 0 .4-.7-.4-1.4zM309.1 102.7l1 .8 .1-.2 .1-1.7 0-.5-1 .1zM297.2 65.1l-.2-.8-1.4-.4-.4 .2-.4 1.6 .8 1.2 .2 .1zM273.5 89.4l.8 .6 1.6-.9 0-.3-.7-.6-1.5 0zM318.9 41.8l.3-.3-.2-2.2-1-.2-.8 .7-.1 1.1zM280.5 92.6l-1 0-.5 1 .5 1.4 .5 0 .9-.2 .5-.3zM301.7 60.4l.1 1.4 1.4 .5 .7-.6-.2-1.3-1.5-.3zM294.7 71l.6-.2 .3-.5-.4-1.3-1.3 0-.3 1zM301.5 67.5l-.8-.2-.8 1.7 1.7 1 .6-.5 .1-.5zM315.5 45.6l-.8-1.1-.4-.1-1.1 1.6 .4 .7 1.6-.1zM304.5 64.4l-1.5 1.6 .1 .4 .6 .7 2-.4-1.1-2.3zM312.4 43.2l.2 .2 .7 .1 1.3-1.7-.1-.6-2.1 .1zM308.4 102.8l-1.6-1.3-.9 1.1 .6 .5 .8 1zM220.6 35.3l-1.5-1.3-2.9 3.5 1.3 2.6 2.9-.7zM303.7 67.1l-.6-.7-1.6 1.1 .8 1.5 1.4-1.3zM310.4 44.5l-.3-1.1-1.4-.3-.1 .1-.3 1.2 .5 1 .7 0zM306.1 105.6l-.3 .2-1.1 .7 1 .1 .8-.3zM311.9 45.6l-.2-.6-1.3-.5-.9 .9 1.2 1.6 .1 .1zM308.9 100.5l.4 .7 1-.1-.1-1-.2-.9zM309.4 53.8l1.7-.8 0-1.5-.2-.1-1.7 .5 .2 1.9zM295.6 74.4l1.3-.4 .3-.7-.9-.9-1.7 .9zM297.5 69.5l-1.4-1.7-.9 1.2 .4 1.3 1.8-.7z"/></g>
<use href="#bd" fill="none" stroke="#000" stroke-width=".62" stroke-opacity=".9"/>
<use href="#ol" fill="none" stroke="#000" stroke-width=".5" stroke-opacity=".75"/>
<g><rect x="345.1" y="13.3" width="5.3" height="104.5" fill="url(#cb)" stroke="#333" stroke-width=".3"/><path d="M350.4 117.80h1.2" stroke="#333" stroke-width=".3"/><text x="352.9" y="119.80" font-size="2.9">0</text><path d="M350.4 96.90h1.2" stroke="#333" stroke-width=".3"/><text x="352.9" y="98.90" font-size="2.9">20</text><path d="M350.4 76.00h1.2" stroke="#333" stroke-width=".3"/><text x="352.9" y="78.00" font-size="2.9">40</text><path d="M350.4 55.10h1.2" stroke="#333" stroke-width=".3"/><text x="352.9" y="57.10" font-size="2.9">60</text><path d="M350.4 34.20h1.2" stroke="#333" stroke-width=".3"/><text x="352.9" y="36.20" font-size="2.9">80</text><path d="M350.4 13.30h1.2" stroke="#333" stroke-width=".3"/><text x="352.9" y="15.30" font-size="2.9">100</text></g>
<text x="264.4" y="18.2" font-size="3.8" text-anchor="middle" fill="#222">Roads</text>
</g>
<rect class="ln" x="3" y="3.4" width="545.3" height="253.5" rx="1" stroke-width="1.35"/>
<path class="ln" stroke-width="1.15" d="M184.5 3.4V256.9M366.3 3.4V256.9"/><path class="ln" stroke-width="1.45" d="M3 130H548.3"/>
</svg>
<div id="cap">Identifies Percent of Facilities Flooding<br>for each Category within Each County)</div>
</body></html>
